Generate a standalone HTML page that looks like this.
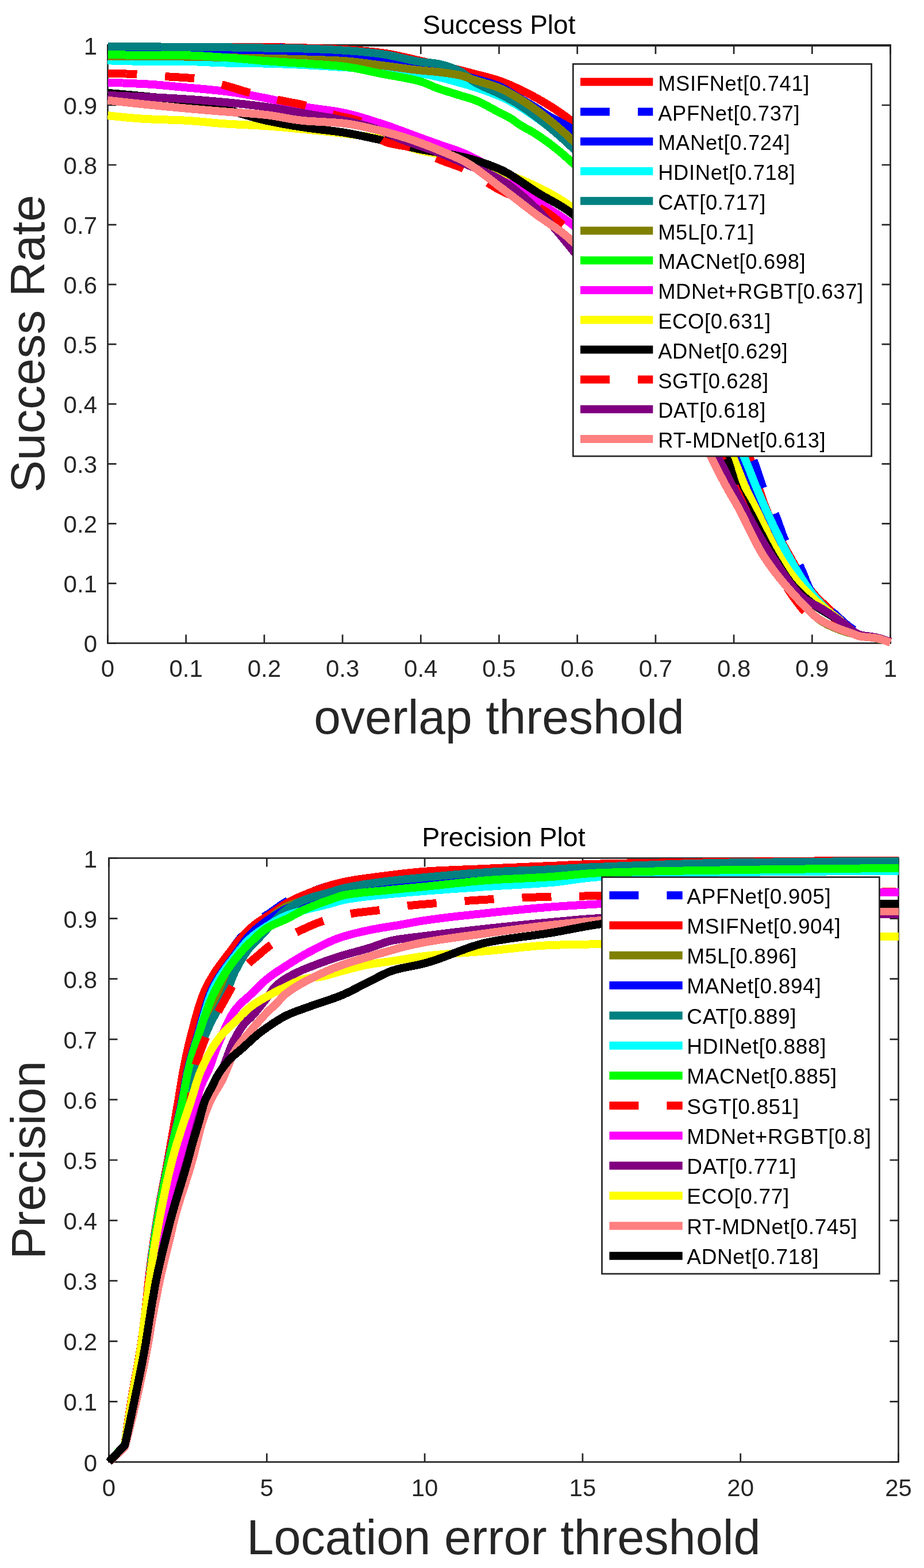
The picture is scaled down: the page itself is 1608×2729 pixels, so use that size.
<!DOCTYPE html><html><head><meta charset="utf-8"><title>Success and Precision Plots</title><style>
html,body{margin:0;padding:0;background:#fff;}svg{display:block;}
.tk{font-family:'Liberation Sans',Arial,Helvetica,sans-serif;font-size:42px;fill:#262626;}
.ti{font-family:'Liberation Sans',Arial,Helvetica,sans-serif;font-size:46px;fill:#000;}
.xl{font-family:'Liberation Sans',Arial,Helvetica,sans-serif;font-size:84px;fill:#262626;}
.lg{font-family:'Liberation Sans',Arial,Helvetica,sans-serif;fill:#000;}
.cv path{fill:none;stroke-linejoin:round;stroke-linecap:butt;shape-rendering:crispEdges;}
</style></head><body>
<svg width="1608" height="2729" viewBox="0 0 1608 2729">
<rect width="1608" height="2729" fill="#fff"/>
<rect x="187.5" y="78.9" width="1362.0" height="1040.5" fill="none" stroke="#262626" stroke-width="2.7"/>
<path d="M187.5 1119.4v-15.0M187.5 78.9v15.0M323.7 1119.4v-15.0M323.7 78.9v15.0M459.9 1119.4v-15.0M459.9 78.9v15.0M596.1 1119.4v-15.0M596.1 78.9v15.0M732.3 1119.4v-15.0M732.3 78.9v15.0M868.5 1119.4v-15.0M868.5 78.9v15.0M1004.7 1119.4v-15.0M1004.7 78.9v15.0M1140.9 1119.4v-15.0M1140.9 78.9v15.0M1277.1 1119.4v-15.0M1277.1 78.9v15.0M1413.3 1119.4v-15.0M1413.3 78.9v15.0M1549.5 1119.4v-15.0M1549.5 78.9v15.0M187.5 1119.4h15.0M1549.5 1119.4h-15.0M187.5 1015.4h15.0M1549.5 1015.4h-15.0M187.5 911.3h15.0M1549.5 911.3h-15.0M187.5 807.3h15.0M1549.5 807.3h-15.0M187.5 703.2h15.0M1549.5 703.2h-15.0M187.5 599.2h15.0M1549.5 599.2h-15.0M187.5 495.1h15.0M1549.5 495.1h-15.0M187.5 391.1h15.0M1549.5 391.1h-15.0M187.5 287.0h15.0M1549.5 287.0h-15.0M187.5 183.0h15.0M1549.5 183.0h-15.0M187.5 78.9h15.0M1549.5 78.9h-15.0" stroke="#262626" stroke-width="2.7" fill="none"/>
<path d="M186.2 78.9H1550.8" stroke="#262626" stroke-width="4"/>
<g class="cv">
<path d="M187.5 81.5 L189.5 81.5 L191.5 81.5 L193.5 81.5 L195.5 81.5 L197.5 81.5 L199.5 81.5 L201.5 81.5 L203.5 81.5 L205.5 81.5 L207.5 81.5 L209.5 81.5 L211.5 81.5 L213.5 81.5 L215.5 81.5 L217.5 81.5 L219.5 81.5 L221.5 81.5 L223.5 81.5 L225.5 81.5 L227.5 81.5 L229.5 81.5 L231.5 81.5 L233.5 81.5 L235.5 81.5 L237.5 81.5 L239.5 81.5 L241.5 81.5 L243.5 81.5 L245.5 81.5 L247.5 81.5 L249.5 81.5 L251.5 81.5 L253.5 81.5 L255.5 81.5 L257.5 81.5 L259.5 81.5 L261.5 81.5 L263.5 81.5 L265.5 81.5 L267.5 81.5 L269.5 81.5 L271.5 81.5 L273.5 81.5 L275.5 81.5 L277.5 81.5 L279.5 81.5 L281.5 81.5 L283.5 81.5 L285.5 81.5 L287.5 81.5 L289.5 81.5 L291.5 81.5 L293.5 81.5 L295.5 81.5 L297.5 81.5 L299.5 81.5 L301.5 81.5 L303.5 81.5 L305.5 81.5 L307.5 81.5 L309.5 81.5 L311.5 81.5 L313.5 81.5 L315.5 81.5 L317.5 81.5 L319.5 81.5 L321.5 81.5 L323.5 81.5 L325.5 81.5 L327.5 81.5 L329.5 81.5 L331.5 81.5 L333.5 81.5 L335.5 81.5 L337.5 81.5 L339.5 81.5 L341.5 81.5 L343.5 81.5 L345.5 81.5 L347.5 81.5 L349.5 81.5 L351.5 81.5 L353.5 81.5 L355.5 81.5 L357.5 81.5 L359.5 81.5 L361.5 81.5 L363.5 81.5 L365.5 81.6 L367.5 81.6 L369.5 81.6 L371.5 81.6 L373.5 81.6 L375.5 81.6 L377.5 81.6 L379.5 81.6 L381.5 81.6 L383.5 81.6 L385.5 81.6 L387.5 81.6 L389.5 81.6 L391.5 81.6 L393.5 81.6 L395.5 81.7 L397.5 81.7 L399.5 81.7 L401.5 81.7 L403.5 81.7 L405.5 81.7 L407.5 81.7 L409.5 81.7 L411.5 81.7 L413.5 81.7 L415.5 81.7 L417.5 81.8 L419.5 81.8 L421.5 81.8 L423.5 81.8 L425.5 81.8 L427.5 81.8 L429.5 81.8 L431.5 81.8 L433.5 81.8 L435.5 81.8 L437.5 81.9 L439.5 81.9 L441.5 81.9 L443.5 81.9 L445.5 81.9 L447.5 81.9 L449.5 81.9 L451.5 81.9 L453.5 82.0 L455.5 82.0 L457.5 82.0 L459.5 82.0 L461.5 82.0 L463.5 82.0 L465.5 82.0 L467.5 82.1 L469.5 82.1 L471.5 82.1 L473.5 82.1 L475.5 82.2 L477.5 82.2 L479.5 82.2 L481.5 82.2 L483.5 82.3 L485.5 82.3 L487.5 82.3 L489.5 82.4 L491.5 82.4 L493.5 82.4 L495.5 82.5 L497.5 82.5 L499.5 82.6 L501.5 82.6 L503.5 82.7 L505.5 82.7 L507.5 82.7 L509.5 82.8 L511.5 82.9 L513.5 82.9 L515.5 83.0 L517.5 83.0 L519.5 83.1 L521.5 83.1 L523.5 83.2 L525.5 83.2 L527.5 83.3 L529.5 83.4 L531.5 83.4 L533.5 83.5 L535.5 83.6 L537.5 83.6 L539.5 83.7 L541.5 83.8 L543.5 83.8 L545.5 83.9 L547.5 84.0 L549.5 84.0 L551.5 84.1 L553.5 84.2 L555.5 84.3 L557.5 84.3 L559.5 84.4 L561.5 84.5 L563.5 84.6 L565.5 84.7 L567.5 84.7 L569.5 84.8 L571.5 84.9 L573.5 85.0 L575.5 85.1 L577.5 85.2 L579.5 85.3 L581.5 85.3 L583.5 85.4 L585.5 85.5 L587.5 85.6 L589.5 85.7 L591.5 85.8 L593.5 85.9 L595.5 86.0 L597.5 86.1 L599.5 86.2 L601.5 86.3 L603.5 86.4 L605.5 86.5 L607.5 86.6 L609.5 86.8 L611.5 86.9 L613.5 87.0 L615.5 87.2 L617.5 87.3 L619.5 87.5 L621.5 87.6 L623.5 87.8 L625.5 88.0 L627.5 88.1 L629.5 88.3 L631.5 88.5 L633.5 88.7 L635.5 88.9 L637.5 89.1 L639.5 89.3 L641.5 89.5 L643.5 89.7 L645.5 89.9 L647.5 90.1 L649.5 90.3 L651.5 90.5 L653.5 90.8 L655.5 91.0 L657.5 91.2 L659.5 91.5 L661.5 91.7 L663.5 91.9 L665.5 92.2 L667.5 92.5 L669.5 92.7 L671.5 93.0 L673.5 93.4 L675.5 93.7 L677.5 94.0 L679.5 94.4 L681.5 94.8 L683.5 95.1 L685.5 95.5 L687.5 95.9 L689.5 96.3 L691.5 96.8 L693.5 97.2 L695.5 97.6 L697.5 98.0 L699.5 98.5 L701.5 98.9 L703.5 99.4 L705.5 99.9 L707.5 100.3 L709.5 100.8 L711.5 101.2 L713.5 101.7 L715.5 102.2 L717.5 102.6 L719.5 103.1 L721.5 103.6 L723.5 104.0 L725.5 104.5 L727.5 104.9 L729.5 105.4 L731.5 105.8 L733.5 106.3 L735.5 106.7 L737.5 107.1 L739.5 107.6 L741.5 108.0 L743.5 108.5 L745.5 108.9 L747.5 109.4 L749.5 109.8 L751.5 110.3 L753.5 110.7 L755.5 111.2 L757.5 111.7 L759.5 112.1 L761.5 112.6 L763.5 113.1 L765.5 113.5 L767.5 114.0 L769.5 114.5 L771.5 115.0 L773.5 115.4 L775.5 115.9 L777.5 116.4 L779.5 116.9 L781.5 117.4 L783.5 117.9 L785.5 118.3 L787.5 118.8 L789.5 119.3 L791.5 119.8 L793.5 120.3 L795.5 120.8 L797.5 121.3 L799.5 121.8 L801.5 122.3 L803.5 122.8 L805.5 123.4 L807.5 123.9 L809.5 124.4 L811.5 124.9 L813.5 125.4 L815.5 125.9 L817.5 126.5 L819.5 127.0 L821.5 127.5 L823.5 128.0 L825.5 128.6 L827.5 129.1 L829.5 129.6 L831.5 130.1 L833.5 130.6 L835.5 131.2 L837.5 131.7 L839.5 132.2 L841.5 132.7 L843.5 133.2 L845.5 133.7 L847.5 134.2 L849.5 134.8 L851.5 135.3 L853.5 135.9 L855.5 136.4 L857.5 137.0 L859.5 137.6 L861.5 138.2 L863.5 138.8 L865.5 139.4 L867.5 140.1 L869.5 140.7 L871.5 141.4 L873.5 142.2 L875.5 142.9 L877.5 143.7 L879.5 144.5 L881.5 145.3 L883.5 146.1 L885.5 147.0 L887.5 147.8 L889.5 148.7 L891.5 149.6 L893.5 150.5 L895.5 151.4 L897.5 152.3 L899.5 153.3 L901.5 154.2 L903.5 155.1 L905.5 156.1 L907.5 157.0 L909.5 158.0 L911.5 159.0 L913.5 160.0 L915.5 161.0 L917.5 162.0 L919.5 163.0 L921.5 164.0 L923.5 165.1 L925.5 166.1 L927.5 167.2 L929.5 168.3 L931.5 169.4 L933.5 170.5 L935.5 171.6 L937.5 172.7 L939.5 173.9 L941.5 175.0 L943.5 176.2 L945.5 177.3 L947.5 178.5 L949.5 179.7 L951.5 180.9 L953.5 182.1 L955.5 183.4 L957.5 184.6 L959.5 185.9 L961.5 187.1 L963.5 188.4 L965.5 189.7 L967.5 191.1 L969.5 192.4 L971.5 193.8 L973.5 195.1 L975.5 196.5 L977.5 197.9 L979.5 199.3 L981.5 200.8 L983.5 202.2 L985.5 203.7 L987.5 205.2 L989.5 206.7 L991.5 208.2 L993.5 209.8 L995.5 211.3 L997.5 212.9 L999.5 214.5 L1001.5 216.1 L1003.5 217.7 L1005.5 219.3 L1007.5 221.0 L1009.5 222.6 L1011.5 224.3 L1013.5 226.0 L1015.5 227.7 L1017.5 229.4 L1019.5 231.1 L1021.5 232.9 L1023.5 234.6 L1025.5 236.4 L1027.5 238.2 L1029.5 240.0 L1031.5 241.9 L1033.5 243.7 L1035.5 245.6 L1037.5 247.5 L1039.5 249.4 L1041.5 251.3 L1043.5 253.3 L1045.5 255.3 L1047.5 257.3 L1049.5 259.3 L1051.5 261.4 L1053.5 263.5 L1055.5 265.6 L1057.5 267.7 L1059.5 269.9 L1061.5 272.1 L1063.5 274.3 L1065.5 276.5 L1067.5 278.8 L1069.5 281.1 L1071.5 283.5 L1073.5 285.8 L1075.5 288.2 L1077.5 290.7 L1079.5 293.2 L1081.5 295.8 L1083.5 298.4 L1085.5 301.1 L1087.5 303.8 L1089.5 306.5 L1091.5 309.3 L1093.5 312.2 L1095.5 315.0 L1097.5 318.0 L1099.5 320.9 L1101.5 323.9 L1103.5 327.0 L1105.5 330.0 L1107.5 333.2 L1109.5 336.3 L1111.5 339.5 L1113.5 342.7 L1115.5 346.0 L1117.5 349.3 L1119.5 352.6 L1121.5 356.0 L1123.5 359.4 L1125.5 362.8 L1127.5 366.2 L1129.5 369.7 L1131.5 373.2 L1133.5 376.7 L1135.5 380.3 L1137.5 383.9 L1139.5 387.5 L1141.5 391.1 L1143.5 394.8 L1145.5 398.5 L1147.5 402.3 L1149.5 406.1 L1151.5 410.1 L1153.5 414.0 L1155.5 418.0 L1157.5 422.1 L1159.5 426.2 L1161.5 430.4 L1163.5 434.6 L1165.5 438.8 L1167.5 443.1 L1169.5 447.5 L1171.5 451.9 L1173.5 456.3 L1175.5 460.8 L1177.5 465.3 L1179.5 469.8 L1181.5 474.4 L1183.5 479.0 L1185.5 483.6 L1187.5 488.3 L1189.5 493.0 L1191.5 497.7 L1193.5 502.4 L1195.5 507.2 L1197.5 512.0 L1199.5 516.8 L1201.5 521.7 L1203.5 526.5 L1205.5 531.4 L1207.5 536.3 L1209.5 541.2 L1211.5 546.2 L1213.5 551.3 L1215.5 556.5 L1217.5 561.7 L1219.5 567.0 L1221.5 572.4 L1223.5 577.9 L1225.5 583.4 L1227.5 588.9 L1229.5 594.5 L1231.5 600.2 L1233.5 605.8 L1235.5 611.5 L1237.5 617.2 L1239.5 622.9 L1241.5 628.6 L1243.5 634.2 L1245.5 639.9 L1247.5 645.6 L1249.5 651.2 L1251.5 656.8 L1253.5 662.3 L1255.5 667.8 L1257.5 673.3 L1259.5 678.7 L1261.5 684.0 L1263.5 689.2 L1265.5 694.4 L1267.5 699.6 L1269.5 704.6 L1271.5 709.7 L1273.5 714.7 L1275.5 719.7 L1277.5 724.7 L1279.5 729.7 L1281.5 734.7 L1283.5 739.8 L1285.5 744.8 L1287.5 749.9 L1289.5 755.0 L1291.5 760.2 L1293.5 765.4 L1295.5 770.7 L1297.5 776.0 L1299.5 781.5 L1301.5 787.0 L1303.5 792.7 L1305.5 798.5 L1307.5 804.5 L1309.5 810.9 L1311.5 817.5 L1313.5 824.2 L1315.5 831.1 L1317.5 838.0 L1319.5 844.8 L1321.5 851.6 L1323.5 858.1 L1325.5 864.4 L1327.5 870.5 L1329.5 876.1 L1331.5 881.3 L1333.5 886.2 L1335.5 891.0 L1337.5 895.7 L1339.5 900.3 L1341.5 904.8 L1343.5 909.1 L1345.5 913.4 L1347.5 917.6 L1349.5 921.7 L1351.5 925.7 L1353.5 929.6 L1355.5 933.5 L1357.5 937.3 L1359.5 941.1 L1361.5 944.8 L1363.5 948.5 L1365.5 952.1 L1367.5 955.7 L1369.5 959.3 L1371.5 962.9 L1373.5 966.4 L1375.5 970.0 L1377.5 973.6 L1379.5 977.1 L1381.5 980.7 L1383.5 984.2 L1385.5 987.7 L1387.5 991.2 L1389.5 994.6 L1391.5 998.0 L1393.5 1001.4 L1395.5 1004.7 L1397.5 1007.9 L1399.5 1011.0 L1401.5 1014.1 L1403.5 1017.1 L1405.5 1020.0 L1407.5 1022.8 L1409.5 1025.5 L1411.5 1028.1 L1413.5 1030.6 L1415.5 1033.0 L1417.5 1035.3 L1419.5 1037.5 L1421.5 1039.6 L1423.5 1041.7 L1425.5 1043.7 L1427.5 1045.6 L1429.5 1047.5 L1431.5 1049.4 L1433.5 1051.3 L1435.5 1053.1 L1437.5 1055.0 L1439.5 1056.8 L1441.5 1058.7 L1443.5 1060.6 L1445.5 1062.5 L1447.5 1064.4 L1449.5 1066.3 L1451.5 1068.2 L1453.5 1070.1 L1455.5 1072.0 L1457.5 1073.9 L1459.5 1075.7 L1461.5 1077.5 L1463.5 1079.3 L1465.5 1081.1 L1467.5 1082.9 L1469.5 1084.6 L1471.5 1086.3 L1473.5 1088.1 L1475.5 1090.0 L1477.5 1091.9 L1479.5 1093.8 L1481.5 1095.7 L1483.5 1097.5 L1485.5 1099.2 L1487.5 1100.9 L1489.5 1102.3 L1491.5 1103.6 L1493.5 1104.7 L1495.5 1105.5 L1497.5 1106.1 L1499.5 1106.6 L1501.5 1107.0 L1503.5 1107.3 L1505.5 1107.6 L1507.5 1107.8 L1509.5 1108.1 L1511.5 1108.3 L1513.5 1108.5 L1515.5 1108.7 L1517.5 1109.0 L1519.5 1109.3 L1521.5 1109.6 L1523.5 1109.9 L1525.5 1110.3 L1527.5 1110.7 L1529.5 1111.2 L1531.5 1111.7 L1533.5 1112.2 L1535.5 1112.7 L1537.5 1113.3 L1539.5 1113.8 L1541.5 1114.4 L1543.5 1115.0 L1545.5 1115.7 L1547.5 1116.3 L1549.5 1117.0" stroke="#ff0000" stroke-width="14"/>
<path d="M187.5 82.0 L189.5 82.0 L191.5 82.0 L193.5 82.0 L195.5 82.0 L197.5 82.0 L199.5 82.0 L201.5 82.0 L203.5 82.0 L205.5 82.0 L207.5 82.0 L209.5 82.0 L211.5 82.0 L213.5 82.0 L215.5 82.0 L217.5 82.0 L219.5 82.0 L221.5 82.0 L223.5 82.0 L225.5 82.0 L227.5 82.0 L229.5 82.0 L231.5 82.0 L233.5 82.0 L235.5 82.0 L237.5 82.0 L239.5 82.0 L241.5 82.0 L243.5 82.0 L245.5 82.0 L247.5 82.0 L249.5 82.1 L251.5 82.1 L253.5 82.1 L255.5 82.1 L257.5 82.1 L259.5 82.1 L261.5 82.1 L263.5 82.1 L265.5 82.1 L267.5 82.1 L269.5 82.1 L271.5 82.1 L273.5 82.1 L275.5 82.1 L277.5 82.1 L279.5 82.1 L281.5 82.1 L283.5 82.1 L285.5 82.1 L287.5 82.1 L289.5 82.1 L291.5 82.1 L293.5 82.2 L295.5 82.2 L297.5 82.2 L299.5 82.2 L301.5 82.2 L303.5 82.2 L305.5 82.2 L307.5 82.2 L309.5 82.2 L311.5 82.2 L313.5 82.2 L315.5 82.2 L317.5 82.2 L319.5 82.2 L321.5 82.2 L323.5 82.2 L325.5 82.3 L327.5 82.3 L329.5 82.3 L331.5 82.3 L333.5 82.3 L335.5 82.3 L337.5 82.3 L339.5 82.3 L341.5 82.3 L343.5 82.3 L345.5 82.3 L347.5 82.3 L349.5 82.4 L351.5 82.4 L353.5 82.4 L355.5 82.4 L357.5 82.4 L359.5 82.4 L361.5 82.4 L363.5 82.4 L365.5 82.4 L367.5 82.4 L369.5 82.4 L371.5 82.5 L373.5 82.5 L375.5 82.5 L377.5 82.5 L379.5 82.5 L381.5 82.5 L383.5 82.5 L385.5 82.5 L387.5 82.5 L389.5 82.5 L391.5 82.6 L393.5 82.6 L395.5 82.6 L397.5 82.6 L399.5 82.6 L401.5 82.6 L403.5 82.6 L405.5 82.6 L407.5 82.7 L409.5 82.7 L411.5 82.7 L413.5 82.7 L415.5 82.7 L417.5 82.7 L419.5 82.7 L421.5 82.7 L423.5 82.7 L425.5 82.8 L427.5 82.8 L429.5 82.8 L431.5 82.8 L433.5 82.8 L435.5 82.8 L437.5 82.8 L439.5 82.9 L441.5 82.9 L443.5 82.9 L445.5 82.9 L447.5 82.9 L449.5 82.9 L451.5 82.9 L453.5 83.0 L455.5 83.0 L457.5 83.0 L459.5 83.0 L461.5 83.0 L463.5 83.0 L465.5 83.0 L467.5 83.1 L469.5 83.1 L471.5 83.1 L473.5 83.1 L475.5 83.2 L477.5 83.2 L479.5 83.2 L481.5 83.3 L483.5 83.3 L485.5 83.4 L487.5 83.4 L489.5 83.4 L491.5 83.5 L493.5 83.5 L495.5 83.6 L497.5 83.6 L499.5 83.7 L501.5 83.7 L503.5 83.8 L505.5 83.8 L507.5 83.9 L509.5 84.0 L511.5 84.0 L513.5 84.1 L515.5 84.2 L517.5 84.2 L519.5 84.3 L521.5 84.4 L523.5 84.4 L525.5 84.5 L527.5 84.6 L529.5 84.7 L531.5 84.8 L533.5 84.8 L535.5 84.9 L537.5 85.0 L539.5 85.1 L541.5 85.2 L543.5 85.3 L545.5 85.3 L547.5 85.4 L549.5 85.5 L551.5 85.6 L553.5 85.7 L555.5 85.8 L557.5 85.9 L559.5 86.0 L561.5 86.1 L563.5 86.2 L565.5 86.3 L567.5 86.4 L569.5 86.5 L571.5 86.6 L573.5 86.7 L575.5 86.8 L577.5 86.9 L579.5 87.1 L581.5 87.2 L583.5 87.3 L585.5 87.4 L587.5 87.5 L589.5 87.6 L591.5 87.7 L593.5 87.9 L595.5 88.0 L597.5 88.1 L599.5 88.2 L601.5 88.4 L603.5 88.5 L605.5 88.7 L607.5 88.8 L609.5 89.0 L611.5 89.2 L613.5 89.4 L615.5 89.6 L617.5 89.8 L619.5 90.0 L621.5 90.2 L623.5 90.5 L625.5 90.7 L627.5 90.9 L629.5 91.2 L631.5 91.4 L633.5 91.7 L635.5 91.9 L637.5 92.2 L639.5 92.5 L641.5 92.7 L643.5 93.0 L645.5 93.3 L647.5 93.6 L649.5 93.9 L651.5 94.2 L653.5 94.4 L655.5 94.7 L657.5 95.0 L659.5 95.3 L661.5 95.6 L663.5 95.9 L665.5 96.2 L667.5 96.5 L669.5 96.9 L671.5 97.2 L673.5 97.5 L675.5 97.9 L677.5 98.2 L679.5 98.6 L681.5 98.9 L683.5 99.3 L685.5 99.7 L687.5 100.1 L689.5 100.5 L691.5 100.9 L693.5 101.3 L695.5 101.7 L697.5 102.1 L699.5 102.5 L701.5 102.9 L703.5 103.4 L705.5 103.8 L707.5 104.3 L709.5 104.7 L711.5 105.2 L713.5 105.6 L715.5 106.1 L717.5 106.5 L719.5 107.0 L721.5 107.5 L723.5 108.0 L725.5 108.4 L727.5 108.9 L729.5 109.4 L731.5 109.9 L733.5 110.4 L735.5 110.9 L737.5 111.4 L739.5 111.9 L741.5 112.5 L743.5 113.0 L745.5 113.6 L747.5 114.2 L749.5 114.7 L751.5 115.3 L753.5 115.9 L755.5 116.5 L757.5 117.1 L759.5 117.7 L761.5 118.4 L763.5 119.0 L765.5 119.6 L767.5 120.2 L769.5 120.8 L771.5 121.4 L773.5 122.0 L775.5 122.6 L777.5 123.3 L779.5 123.9 L781.5 124.4 L783.5 125.0 L785.5 125.6 L787.5 126.2 L789.5 126.8 L791.5 127.4 L793.5 128.0 L795.5 128.6 L797.5 129.2 L799.5 129.8 L801.5 130.4 L803.5 131.0 L805.5 131.7 L807.5 132.3 L809.5 132.9 L811.5 133.5 L813.5 134.1 L815.5 134.7 L817.5 135.3 L819.5 136.0 L821.5 136.6 L823.5 137.2 L825.5 137.8 L827.5 138.5 L829.5 139.1 L831.5 139.7 L833.5 140.3 L835.5 140.9 L837.5 141.5 L839.5 142.1 L841.5 142.7 L843.5 143.3 L845.5 143.9 L847.5 144.6 L849.5 145.2 L851.5 145.8 L853.5 146.5 L855.5 147.2 L857.5 147.8 L859.5 148.5 L861.5 149.3 L863.5 150.0 L865.5 150.8 L867.5 151.6 L869.5 152.4 L871.5 153.3 L873.5 154.2 L875.5 155.2 L877.5 156.3 L879.5 157.3 L881.5 158.4 L883.5 159.5 L885.5 160.7 L887.5 161.8 L889.5 163.0 L891.5 164.1 L893.5 165.3 L895.5 166.4 L897.5 167.6 L899.5 168.7 L901.5 169.8 L903.5 170.9 L905.5 172.0 L907.5 173.1 L909.5 174.1 L911.5 175.2 L913.5 176.3 L915.5 177.3 L917.5 178.4 L919.5 179.5 L921.5 180.6 L923.5 181.8 L925.5 182.9 L927.5 184.1 L929.5 185.3 L931.5 186.6 L933.5 187.9 L935.5 189.2 L937.5 190.6 L939.5 192.2 L941.5 193.9 L943.5 195.7 L945.5 197.5 L947.5 199.1 L949.5 200.7 L951.5 202.0 L953.5 203.2 L955.5 204.4 L957.5 205.5 L959.5 206.6 L961.5 207.7 L963.5 208.7 L965.5 209.6 L967.5 210.6 L969.5 211.6 L971.5 212.6 L973.5 213.6 L975.5 214.6 L977.5 215.6 L979.5 216.7 L981.5 217.8 L983.5 219.1 L985.5 220.3 L987.5 221.7 L989.5 223.1 L991.5 224.6 L993.5 226.2 L995.5 227.8 L997.5 229.4 L999.5 231.0 L1001.5 232.6 L1003.5 234.3 L1005.5 235.9 L1007.5 237.5 L1009.5 239.1 L1011.5 240.7 L1013.5 242.4 L1015.5 244.0 L1017.5 245.6 L1019.5 247.3 L1021.5 249.0 L1023.5 250.6 L1025.5 252.3 L1027.5 254.1 L1029.5 255.8 L1031.5 257.5 L1033.5 259.3 L1035.5 261.1 L1037.5 262.9 L1039.5 264.7 L1041.5 266.6 L1043.5 268.5 L1045.5 270.4 L1047.5 272.3 L1049.5 274.3 L1051.5 276.3 L1053.5 278.3 L1055.5 280.4 L1057.5 282.5 L1059.5 284.6 L1061.5 286.8 L1063.5 289.1 L1065.5 291.3 L1067.5 293.6 L1069.5 296.0 L1071.5 298.4 L1073.5 300.9 L1075.5 303.4 L1077.5 306.0 L1079.5 308.8 L1081.5 311.6 L1083.5 314.5 L1085.5 317.4 L1087.5 320.5 L1089.5 323.6 L1091.5 326.8 L1093.5 330.0 L1095.5 333.4 L1097.5 336.7 L1099.5 340.2 L1101.5 343.7 L1103.5 347.3 L1105.5 350.9 L1107.5 354.5 L1109.5 358.2 L1111.5 362.0 L1113.5 365.7 L1115.5 369.6 L1117.5 373.4 L1119.5 377.3 L1121.5 381.2 L1123.5 385.1 L1125.5 389.1 L1127.5 393.1 L1129.5 397.1 L1131.5 401.1 L1133.5 405.1 L1135.5 409.1 L1137.5 413.2 L1139.5 417.2 L1141.5 421.2 L1143.5 425.3 L1145.5 429.5 L1147.5 433.7 L1149.5 438.0 L1151.5 442.4 L1153.5 446.8 L1155.5 451.3 L1157.5 455.8 L1159.5 460.4 L1161.5 465.0 L1163.5 469.7 L1165.5 474.4 L1167.5 479.2 L1169.5 484.0 L1171.5 488.8 L1173.5 493.6 L1175.5 498.5 L1177.5 503.3 L1179.5 508.2 L1181.5 513.1 L1183.5 518.1 L1185.5 523.0 L1187.5 527.9 L1189.5 532.8 L1191.5 537.7 L1193.5 542.7 L1195.5 547.5 L1197.5 552.4 L1199.5 557.3 L1201.5 562.1 L1203.5 566.9 L1205.5 571.7 L1207.5 576.5 L1209.5 581.2 L1211.5 585.9 L1213.5 590.7 L1215.5 595.4 L1217.5 600.2 L1219.5 605.0 L1221.5 609.9 L1223.5 614.7 L1225.5 619.6 L1227.5 624.4 L1229.5 629.2 L1231.5 634.1 L1233.5 638.9 L1235.5 643.7 L1237.5 648.5 L1239.5 653.3 L1241.5 658.0 L1243.5 662.7 L1245.5 667.4 L1247.5 672.1 L1249.5 676.7 L1251.5 681.2 L1253.5 685.7 L1255.5 690.2 L1257.5 694.6 L1259.5 698.9 L1261.5 703.2 L1263.5 707.4 L1265.5 711.6 L1267.5 715.7 L1269.5 719.7 L1271.5 723.7 L1273.5 727.7 L1275.5 731.6 L1277.5 735.5 L1279.5 739.5 L1281.5 743.4 L1283.5 747.3 L1285.5 751.2 L1287.5 755.1 L1289.5 759.0 L1291.5 762.9 L1293.5 766.7 L1295.5 770.4 L1297.5 774.1 L1299.5 777.7 L1301.5 781.4 L1303.5 785.2 L1305.5 789.0 L1307.5 793.1 L1309.5 797.3 L1311.5 801.8 L1313.5 806.7 L1315.5 812.2 L1317.5 818.0 L1319.5 824.2 L1321.5 830.4 L1323.5 836.5 L1325.5 842.3 L1327.5 847.7 L1329.5 852.7 L1331.5 857.3 L1333.5 861.7 L1335.5 866.0 L1337.5 870.1 L1339.5 874.2 L1341.5 878.3 L1343.5 882.5 L1345.5 886.7 L1347.5 891.2 L1349.5 895.8 L1351.5 900.8 L1353.5 906.2 L1355.5 911.8 L1357.5 917.6 L1359.5 923.3 L1361.5 928.9 L1363.5 934.1 L1365.5 938.9 L1367.5 943.1 L1369.5 947.1 L1371.5 950.8 L1373.5 954.3 L1375.5 957.7 L1377.5 960.9 L1379.5 964.1 L1381.5 967.2 L1383.5 970.4 L1385.5 973.6 L1387.5 976.9 L1389.5 980.4 L1391.5 984.1 L1393.5 988.0 L1395.5 992.4 L1397.5 997.2 L1399.5 1002.2 L1401.5 1007.3 L1403.5 1012.4 L1405.5 1017.3 L1407.5 1021.9 L1409.5 1025.9 L1411.5 1029.3 L1413.5 1032.1 L1415.5 1034.6 L1417.5 1037.1 L1419.5 1039.4 L1421.5 1041.5 L1423.5 1043.6 L1425.5 1045.5 L1427.5 1047.4 L1429.5 1049.2 L1431.5 1050.9 L1433.5 1052.6 L1435.5 1054.2 L1437.5 1055.8 L1439.5 1057.4 L1441.5 1059.0 L1443.5 1060.6 L1445.5 1062.2 L1447.5 1063.9 L1449.5 1065.6 L1451.5 1067.3 L1453.5 1069.1 L1455.5 1070.9 L1457.5 1072.8 L1459.5 1074.6 L1461.5 1076.5 L1463.5 1078.3 L1465.5 1080.2 L1467.5 1082.0 L1469.5 1083.7 L1471.5 1085.5 L1473.5 1087.1 L1475.5 1088.8 L1477.5 1090.3 L1479.5 1091.8 L1481.5 1093.2 L1483.5 1094.5 L1485.5 1095.7 L1487.5 1096.7 L1489.5 1097.7 L1491.5 1098.7 L1493.5 1099.6 L1495.5 1100.4 L1497.5 1101.2 L1499.5 1102.0 L1501.5 1102.8 L1503.5 1103.5 L1505.5 1104.2 L1507.5 1104.9 L1509.5 1105.5 L1511.5 1106.2 L1513.5 1106.8 L1515.5 1107.4 L1517.5 1108.0 L1519.5 1108.6 L1521.5 1109.2 L1523.5 1109.8 L1525.5 1110.5 L1527.5 1111.1 L1529.5 1111.7 L1531.5 1112.2 L1533.5 1112.8 L1535.5 1113.4 L1537.5 1113.9 L1539.5 1114.5 L1541.5 1115.0 L1543.5 1115.5 L1545.5 1116.0 L1547.5 1116.5 L1549.5 1117.0" stroke="#0000ff" stroke-width="14" stroke-dasharray="51 49"/>
<path d="M187.5 82.0 L189.5 82.0 L191.5 82.0 L193.5 82.0 L195.5 82.0 L197.5 82.0 L199.5 82.0 L201.5 82.0 L203.5 82.0 L205.5 82.0 L207.5 82.0 L209.5 82.0 L211.5 82.0 L213.5 82.0 L215.5 82.0 L217.5 82.0 L219.5 82.0 L221.5 82.0 L223.5 82.0 L225.5 82.0 L227.5 82.0 L229.5 82.0 L231.5 82.0 L233.5 82.0 L235.5 82.0 L237.5 82.0 L239.5 82.0 L241.5 82.0 L243.5 82.0 L245.5 82.0 L247.5 82.0 L249.5 82.0 L251.5 82.0 L253.5 82.0 L255.5 82.0 L257.5 82.0 L259.5 82.0 L261.5 82.0 L263.5 82.1 L265.5 82.1 L267.5 82.1 L269.5 82.1 L271.5 82.2 L273.5 82.2 L275.5 82.3 L277.5 82.3 L279.5 82.4 L281.5 82.5 L283.5 82.5 L285.5 82.6 L287.5 82.7 L289.5 82.7 L291.5 82.8 L293.5 82.9 L295.5 83.0 L297.5 83.0 L299.5 83.1 L301.5 83.2 L303.5 83.3 L305.5 83.4 L307.5 83.4 L309.5 83.5 L311.5 83.6 L313.5 83.7 L315.5 83.7 L317.5 83.8 L319.5 83.9 L321.5 83.9 L323.5 84.0 L325.5 84.1 L327.5 84.1 L329.5 84.2 L331.5 84.2 L333.5 84.3 L335.5 84.4 L337.5 84.4 L339.5 84.5 L341.5 84.5 L343.5 84.6 L345.5 84.7 L347.5 84.7 L349.5 84.8 L351.5 84.8 L353.5 84.9 L355.5 85.0 L357.5 85.0 L359.5 85.1 L361.5 85.1 L363.5 85.2 L365.5 85.3 L367.5 85.3 L369.5 85.4 L371.5 85.4 L373.5 85.5 L375.5 85.6 L377.5 85.6 L379.5 85.7 L381.5 85.7 L383.5 85.8 L385.5 85.8 L387.5 85.9 L389.5 85.9 L391.5 86.0 L393.5 86.0 L395.5 86.1 L397.5 86.1 L399.5 86.2 L401.5 86.2 L403.5 86.3 L405.5 86.3 L407.5 86.4 L409.5 86.4 L411.5 86.5 L413.5 86.5 L415.5 86.5 L417.5 86.6 L419.5 86.6 L421.5 86.7 L423.5 86.7 L425.5 86.8 L427.5 86.8 L429.5 86.8 L431.5 86.9 L433.5 86.9 L435.5 87.0 L437.5 87.0 L439.5 87.0 L441.5 87.1 L443.5 87.1 L445.5 87.2 L447.5 87.2 L449.5 87.3 L451.5 87.3 L453.5 87.4 L455.5 87.4 L457.5 87.4 L459.5 87.5 L461.5 87.5 L463.5 87.6 L465.5 87.6 L467.5 87.7 L469.5 87.7 L471.5 87.8 L473.5 87.8 L475.5 87.9 L477.5 87.9 L479.5 88.0 L481.5 88.0 L483.5 88.1 L485.5 88.1 L487.5 88.2 L489.5 88.2 L491.5 88.3 L493.5 88.3 L495.5 88.4 L497.5 88.4 L499.5 88.5 L501.5 88.5 L503.5 88.6 L505.5 88.6 L507.5 88.7 L509.5 88.8 L511.5 88.8 L513.5 88.9 L515.5 88.9 L517.5 89.0 L519.5 89.0 L521.5 89.1 L523.5 89.2 L525.5 89.2 L527.5 89.3 L529.5 89.3 L531.5 89.4 L533.5 89.5 L535.5 89.5 L537.5 89.6 L539.5 89.7 L541.5 89.7 L543.5 89.8 L545.5 89.8 L547.5 89.9 L549.5 90.0 L551.5 90.0 L553.5 90.1 L555.5 90.2 L557.5 90.2 L559.5 90.3 L561.5 90.4 L563.5 90.4 L565.5 90.5 L567.5 90.6 L569.5 90.7 L571.5 90.7 L573.5 90.8 L575.5 90.9 L577.5 91.0 L579.5 91.1 L581.5 91.2 L583.5 91.2 L585.5 91.3 L587.5 91.4 L589.5 91.5 L591.5 91.6 L593.5 91.8 L595.5 91.9 L597.5 92.0 L599.5 92.1 L601.5 92.3 L603.5 92.4 L605.5 92.6 L607.5 92.7 L609.5 92.9 L611.5 93.1 L613.5 93.3 L615.5 93.5 L617.5 93.7 L619.5 93.9 L621.5 94.2 L623.5 94.4 L625.5 94.6 L627.5 94.9 L629.5 95.1 L631.5 95.4 L633.5 95.6 L635.5 95.9 L637.5 96.2 L639.5 96.4 L641.5 96.7 L643.5 97.0 L645.5 97.3 L647.5 97.5 L649.5 97.8 L651.5 98.1 L653.5 98.4 L655.5 98.6 L657.5 98.9 L659.5 99.2 L661.5 99.4 L663.5 99.7 L665.5 100.0 L667.5 100.2 L669.5 100.5 L671.5 100.8 L673.5 101.0 L675.5 101.3 L677.5 101.6 L679.5 101.8 L681.5 102.1 L683.5 102.4 L685.5 102.6 L687.5 102.9 L689.5 103.2 L691.5 103.5 L693.5 103.8 L695.5 104.0 L697.5 104.3 L699.5 104.6 L701.5 104.9 L703.5 105.2 L705.5 105.5 L707.5 105.8 L709.5 106.2 L711.5 106.5 L713.5 106.8 L715.5 107.2 L717.5 107.5 L719.5 107.9 L721.5 108.2 L723.5 108.6 L725.5 109.0 L727.5 109.3 L729.5 109.7 L731.5 110.1 L733.5 110.6 L735.5 111.0 L737.5 111.5 L739.5 111.9 L741.5 112.4 L743.5 113.0 L745.5 113.5 L747.5 114.1 L749.5 114.7 L751.5 115.3 L753.5 115.9 L755.5 116.5 L757.5 117.1 L759.5 117.7 L761.5 118.3 L763.5 119.0 L765.5 119.6 L767.5 120.2 L769.5 120.8 L771.5 121.5 L773.5 122.1 L775.5 122.7 L777.5 123.3 L779.5 123.9 L781.5 124.4 L783.5 125.0 L785.5 125.6 L787.5 126.1 L789.5 126.7 L791.5 127.2 L793.5 127.8 L795.5 128.4 L797.5 128.9 L799.5 129.5 L801.5 130.0 L803.5 130.6 L805.5 131.1 L807.5 131.7 L809.5 132.3 L811.5 132.8 L813.5 133.4 L815.5 134.0 L817.5 134.5 L819.5 135.1 L821.5 135.7 L823.5 136.3 L825.5 136.9 L827.5 137.4 L829.5 138.0 L831.5 138.6 L833.5 139.1 L835.5 139.7 L837.5 140.2 L839.5 140.8 L841.5 141.3 L843.5 141.8 L845.5 142.4 L847.5 143.0 L849.5 143.5 L851.5 144.1 L853.5 144.7 L855.5 145.3 L857.5 146.0 L859.5 146.7 L861.5 147.3 L863.5 148.1 L865.5 148.8 L867.5 149.6 L869.5 150.4 L871.5 151.3 L873.5 152.3 L875.5 153.4 L877.5 154.5 L879.5 155.6 L881.5 156.8 L883.5 158.1 L885.5 159.3 L887.5 160.6 L889.5 161.9 L891.5 163.2 L893.5 164.5 L895.5 165.8 L897.5 167.0 L899.5 168.2 L901.5 169.4 L903.5 170.5 L905.5 171.7 L907.5 172.8 L909.5 174.0 L911.5 175.1 L913.5 176.3 L915.5 177.4 L917.5 178.6 L919.5 179.7 L921.5 180.9 L923.5 182.1 L925.5 183.2 L927.5 184.4 L929.5 185.6 L931.5 186.8 L933.5 188.1 L935.5 189.3 L937.5 190.6 L939.5 191.9 L941.5 193.3 L943.5 194.6 L945.5 196.0 L947.5 197.4 L949.5 198.7 L951.5 199.9 L953.5 201.1 L955.5 202.3 L957.5 203.4 L959.5 204.5 L961.5 205.6 L963.5 206.7 L965.5 207.7 L967.5 208.8 L969.5 209.8 L971.5 210.8 L973.5 211.9 L975.5 212.9 L977.5 214.0 L979.5 215.0 L981.5 216.1 L983.5 217.3 L985.5 218.4 L987.5 219.6 L989.5 220.9 L991.5 222.2 L993.5 223.5 L995.5 224.9 L997.5 226.4 L999.5 227.9 L1001.5 229.4 L1003.5 231.0 L1005.5 232.7 L1007.5 234.4 L1009.5 236.1 L1011.5 237.9 L1013.5 239.7 L1015.5 241.6 L1017.5 243.5 L1019.5 245.4 L1021.5 247.4 L1023.5 249.4 L1025.5 251.5 L1027.5 253.6 L1029.5 255.7 L1031.5 257.9 L1033.5 260.1 L1035.5 262.3 L1037.5 264.6 L1039.5 266.9 L1041.5 269.3 L1043.5 271.6 L1045.5 274.1 L1047.5 276.5 L1049.5 279.0 L1051.5 281.5 L1053.5 284.0 L1055.5 286.6 L1057.5 289.2 L1059.5 291.8 L1061.5 294.5 L1063.5 297.2 L1065.5 299.9 L1067.5 302.6 L1069.5 305.4 L1071.5 308.2 L1073.5 311.0 L1075.5 313.9 L1077.5 316.9 L1079.5 319.9 L1081.5 323.1 L1083.5 326.3 L1085.5 329.6 L1087.5 332.9 L1089.5 336.3 L1091.5 339.8 L1093.5 343.4 L1095.5 347.0 L1097.5 350.7 L1099.5 354.4 L1101.5 358.2 L1103.5 362.0 L1105.5 365.9 L1107.5 369.9 L1109.5 373.8 L1111.5 377.9 L1113.5 381.9 L1115.5 386.0 L1117.5 390.1 L1119.5 394.3 L1121.5 398.5 L1123.5 402.7 L1125.5 406.9 L1127.5 411.2 L1129.5 415.4 L1131.5 419.7 L1133.5 424.0 L1135.5 428.3 L1137.5 432.6 L1139.5 437.0 L1141.5 441.3 L1143.5 445.7 L1145.5 450.2 L1147.5 454.8 L1149.5 459.4 L1151.5 464.2 L1153.5 469.0 L1155.5 473.9 L1157.5 478.8 L1159.5 483.8 L1161.5 488.8 L1163.5 493.9 L1165.5 499.0 L1167.5 504.2 L1169.5 509.4 L1171.5 514.6 L1173.5 519.8 L1175.5 525.1 L1177.5 530.3 L1179.5 535.6 L1181.5 540.8 L1183.5 546.1 L1185.5 551.3 L1187.5 556.5 L1189.5 561.7 L1191.5 566.9 L1193.5 572.0 L1195.5 577.1 L1197.5 582.1 L1199.5 587.1 L1201.5 592.1 L1203.5 596.9 L1205.5 601.7 L1207.5 606.5 L1209.5 611.2 L1211.5 615.8 L1213.5 620.3 L1215.5 624.8 L1217.5 629.2 L1219.5 633.7 L1221.5 638.0 L1223.5 642.4 L1225.5 646.7 L1227.5 651.0 L1229.5 655.3 L1231.5 659.6 L1233.5 663.9 L1235.5 668.2 L1237.5 672.5 L1239.5 676.8 L1241.5 681.2 L1243.5 685.5 L1245.5 689.9 L1247.5 694.4 L1249.5 698.9 L1251.5 703.4 L1253.5 707.9 L1255.5 712.4 L1257.5 717.0 L1259.5 721.5 L1261.5 726.0 L1263.5 730.5 L1265.5 735.1 L1267.5 739.7 L1269.5 744.3 L1271.5 748.9 L1273.5 753.5 L1275.5 758.2 L1277.5 762.9 L1279.5 767.6 L1281.5 772.4 L1283.5 777.2 L1285.5 782.1 L1287.5 787.0 L1289.5 792.0 L1291.5 797.0 L1293.5 802.2 L1295.5 807.5 L1297.5 813.0 L1299.5 818.6 L1301.5 824.4 L1303.5 830.1 L1305.5 835.9 L1307.5 841.7 L1309.5 847.4 L1311.5 853.1 L1313.5 858.6 L1315.5 864.0 L1317.5 869.2 L1319.5 874.2 L1321.5 878.9 L1323.5 883.3 L1325.5 887.7 L1327.5 892.0 L1329.5 896.2 L1331.5 900.3 L1333.5 904.4 L1335.5 908.3 L1337.5 912.2 L1339.5 916.0 L1341.5 919.8 L1343.5 923.5 L1345.5 927.2 L1347.5 930.8 L1349.5 934.4 L1351.5 937.9 L1353.5 941.5 L1355.5 945.0 L1357.5 948.4 L1359.5 951.9 L1361.5 955.3 L1363.5 958.8 L1365.5 962.2 L1367.5 965.7 L1369.5 969.1 L1371.5 972.6 L1373.5 976.1 L1375.5 979.7 L1377.5 983.3 L1379.5 986.9 L1381.5 990.5 L1383.5 994.0 L1385.5 997.6 L1387.5 1001.1 L1389.5 1004.7 L1391.5 1008.1 L1393.5 1011.5 L1395.5 1014.8 L1397.5 1018.1 L1399.5 1021.3 L1401.5 1024.4 L1403.5 1027.3 L1405.5 1030.2 L1407.5 1032.9 L1409.5 1035.5 L1411.5 1037.9 L1413.5 1040.2 L1415.5 1042.4 L1417.5 1044.5 L1419.5 1046.6 L1421.5 1048.6 L1423.5 1050.5 L1425.5 1052.4 L1427.5 1054.2 L1429.5 1056.0 L1431.5 1057.8 L1433.5 1059.5 L1435.5 1061.1 L1437.5 1062.8 L1439.5 1064.4 L1441.5 1065.9 L1443.5 1067.5 L1445.5 1069.0 L1447.5 1070.5 L1449.5 1072.0 L1451.5 1073.4 L1453.5 1074.9 L1455.5 1076.4 L1457.5 1077.8 L1459.5 1079.3 L1461.5 1080.7 L1463.5 1082.2 L1465.5 1083.6 L1467.5 1085.1 L1469.5 1086.6 L1471.5 1088.2 L1473.5 1089.8 L1475.5 1091.5 L1477.5 1093.2 L1479.5 1094.9 L1481.5 1096.6 L1483.5 1098.2 L1485.5 1099.8 L1487.5 1101.3 L1489.5 1102.6 L1491.5 1103.8 L1493.5 1104.8 L1495.5 1105.6 L1497.5 1106.1 L1499.5 1106.6 L1501.5 1106.9 L1503.5 1107.3 L1505.5 1107.6 L1507.5 1107.8 L1509.5 1108.1 L1511.5 1108.3 L1513.5 1108.5 L1515.5 1108.7 L1517.5 1109.0 L1519.5 1109.3 L1521.5 1109.6 L1523.5 1109.9 L1525.5 1110.3 L1527.5 1110.7 L1529.5 1111.2 L1531.5 1111.7 L1533.5 1112.2 L1535.5 1112.7 L1537.5 1113.3 L1539.5 1113.8 L1541.5 1114.4 L1543.5 1115.0 L1545.5 1115.7 L1547.5 1116.3 L1549.5 1117.0" stroke="#0000ff" stroke-width="14"/>
<path d="M187.5 105.3 L189.5 105.4 L191.5 105.4 L193.5 105.5 L195.5 105.5 L197.5 105.6 L199.5 105.7 L201.5 105.7 L203.5 105.8 L205.5 105.8 L207.5 105.9 L209.5 106.0 L211.5 106.0 L213.5 106.1 L215.5 106.1 L217.5 106.2 L219.5 106.2 L221.5 106.3 L223.5 106.3 L225.5 106.4 L227.5 106.4 L229.5 106.5 L231.5 106.5 L233.5 106.5 L235.5 106.6 L237.5 106.6 L239.5 106.6 L241.5 106.7 L243.5 106.7 L245.5 106.7 L247.5 106.7 L249.5 106.8 L251.5 106.8 L253.5 106.8 L255.5 106.8 L257.5 106.8 L259.5 106.8 L261.5 106.8 L263.5 106.8 L265.5 106.8 L267.5 106.8 L269.5 106.9 L271.5 106.9 L273.5 106.9 L275.5 106.9 L277.5 106.9 L279.5 106.9 L281.5 106.9 L283.5 106.9 L285.5 106.9 L287.5 106.9 L289.5 106.9 L291.5 106.9 L293.5 106.9 L295.5 106.9 L297.5 106.9 L299.5 106.9 L301.5 106.9 L303.5 106.9 L305.5 106.9 L307.5 106.9 L309.5 106.9 L311.5 106.9 L313.5 107.0 L315.5 107.0 L317.5 107.0 L319.5 107.0 L321.5 107.0 L323.5 107.0 L325.5 107.0 L327.5 107.0 L329.5 107.1 L331.5 107.1 L333.5 107.2 L335.5 107.2 L337.5 107.3 L339.5 107.3 L341.5 107.4 L343.5 107.5 L345.5 107.6 L347.5 107.6 L349.5 107.7 L351.5 107.8 L353.5 107.9 L355.5 108.0 L357.5 108.1 L359.5 108.2 L361.5 108.3 L363.5 108.4 L365.5 108.5 L367.5 108.6 L369.5 108.7 L371.5 108.8 L373.5 108.9 L375.5 109.0 L377.5 109.0 L379.5 109.1 L381.5 109.2 L383.5 109.3 L385.5 109.3 L387.5 109.4 L389.5 109.4 L391.5 109.5 L393.5 109.5 L395.5 109.6 L397.5 109.6 L399.5 109.6 L401.5 109.7 L403.5 109.7 L405.5 109.7 L407.5 109.8 L409.5 109.8 L411.5 109.8 L413.5 109.9 L415.5 109.9 L417.5 109.9 L419.5 109.9 L421.5 109.9 L423.5 110.0 L425.5 110.0 L427.5 110.0 L429.5 110.0 L431.5 110.1 L433.5 110.1 L435.5 110.1 L437.5 110.1 L439.5 110.2 L441.5 110.2 L443.5 110.2 L445.5 110.2 L447.5 110.3 L449.5 110.3 L451.5 110.3 L453.5 110.4 L455.5 110.4 L457.5 110.5 L459.5 110.5 L461.5 110.5 L463.5 110.6 L465.5 110.6 L467.5 110.7 L469.5 110.7 L471.5 110.8 L473.5 110.8 L475.5 110.9 L477.5 111.0 L479.5 111.0 L481.5 111.1 L483.5 111.2 L485.5 111.2 L487.5 111.3 L489.5 111.4 L491.5 111.5 L493.5 111.5 L495.5 111.6 L497.5 111.7 L499.5 111.8 L501.5 111.8 L503.5 111.9 L505.5 112.0 L507.5 112.1 L509.5 112.2 L511.5 112.3 L513.5 112.4 L515.5 112.4 L517.5 112.5 L519.5 112.6 L521.5 112.7 L523.5 112.8 L525.5 112.9 L527.5 113.0 L529.5 113.1 L531.5 113.2 L533.5 113.3 L535.5 113.4 L537.5 113.5 L539.5 113.6 L541.5 113.7 L543.5 113.8 L545.5 113.9 L547.5 114.0 L549.5 114.1 L551.5 114.2 L553.5 114.4 L555.5 114.5 L557.5 114.6 L559.5 114.7 L561.5 114.9 L563.5 115.0 L565.5 115.1 L567.5 115.2 L569.5 115.4 L571.5 115.5 L573.5 115.6 L575.5 115.7 L577.5 115.9 L579.5 116.0 L581.5 116.1 L583.5 116.2 L585.5 116.4 L587.5 116.5 L589.5 116.6 L591.5 116.7 L593.5 116.8 L595.5 117.0 L597.5 117.1 L599.5 117.2 L601.5 117.3 L603.5 117.4 L605.5 117.5 L607.5 117.6 L609.5 117.8 L611.5 117.9 L613.5 118.0 L615.5 118.1 L617.5 118.2 L619.5 118.3 L621.5 118.4 L623.5 118.5 L625.5 118.6 L627.5 118.7 L629.5 118.8 L631.5 118.9 L633.5 119.0 L635.5 119.2 L637.5 119.3 L639.5 119.4 L641.5 119.5 L643.5 119.6 L645.5 119.7 L647.5 119.9 L649.5 120.0 L651.5 120.1 L653.5 120.2 L655.5 120.4 L657.5 120.5 L659.5 120.7 L661.5 120.8 L663.5 120.9 L665.5 121.1 L667.5 121.2 L669.5 121.4 L671.5 121.6 L673.5 121.7 L675.5 121.9 L677.5 122.0 L679.5 122.2 L681.5 122.4 L683.5 122.5 L685.5 122.7 L687.5 122.9 L689.5 123.1 L691.5 123.3 L693.5 123.5 L695.5 123.6 L697.5 123.8 L699.5 124.0 L701.5 124.2 L703.5 124.5 L705.5 124.7 L707.5 124.9 L709.5 125.1 L711.5 125.3 L713.5 125.6 L715.5 125.8 L717.5 126.0 L719.5 126.3 L721.5 126.5 L723.5 126.8 L725.5 127.1 L727.5 127.3 L729.5 127.6 L731.5 127.9 L733.5 128.2 L735.5 128.5 L737.5 128.8 L739.5 129.1 L741.5 129.5 L743.5 129.8 L745.5 130.2 L747.5 130.6 L749.5 131.0 L751.5 131.4 L753.5 131.9 L755.5 132.3 L757.5 132.8 L759.5 133.2 L761.5 133.7 L763.5 134.2 L765.5 134.6 L767.5 135.1 L769.5 135.6 L771.5 136.2 L773.5 136.7 L775.5 137.2 L777.5 137.7 L779.5 138.3 L781.5 138.8 L783.5 139.3 L785.5 139.9 L787.5 140.4 L789.5 141.0 L791.5 141.5 L793.5 142.1 L795.5 142.6 L797.5 143.2 L799.5 143.8 L801.5 144.3 L803.5 144.9 L805.5 145.4 L807.5 146.0 L809.5 146.6 L811.5 147.2 L813.5 147.7 L815.5 148.3 L817.5 148.9 L819.5 149.5 L821.5 150.2 L823.5 150.8 L825.5 151.4 L827.5 152.0 L829.5 152.7 L831.5 153.3 L833.5 154.0 L835.5 154.7 L837.5 155.3 L839.5 156.0 L841.5 156.7 L843.5 157.4 L845.5 158.1 L847.5 158.9 L849.5 159.6 L851.5 160.3 L853.5 161.1 L855.5 161.8 L857.5 162.6 L859.5 163.4 L861.5 164.2 L863.5 165.0 L865.5 165.8 L867.5 166.6 L869.5 167.4 L871.5 168.3 L873.5 169.2 L875.5 170.1 L877.5 171.0 L879.5 172.0 L881.5 173.0 L883.5 174.0 L885.5 175.0 L887.5 176.1 L889.5 177.2 L891.5 178.2 L893.5 179.3 L895.5 180.5 L897.5 181.6 L899.5 182.7 L901.5 183.9 L903.5 185.0 L905.5 186.2 L907.5 187.4 L909.5 188.7 L911.5 189.9 L913.5 191.2 L915.5 192.5 L917.5 193.8 L919.5 195.1 L921.5 196.5 L923.5 197.8 L925.5 199.2 L927.5 200.6 L929.5 202.0 L931.5 203.4 L933.5 204.8 L935.5 206.2 L937.5 207.6 L939.5 209.1 L941.5 210.5 L943.5 212.0 L945.5 213.4 L947.5 214.9 L949.5 216.3 L951.5 217.8 L953.5 219.3 L955.5 220.8 L957.5 222.3 L959.5 223.8 L961.5 225.3 L963.5 226.8 L965.5 228.4 L967.5 230.0 L969.5 231.5 L971.5 233.1 L973.5 234.7 L975.5 236.4 L977.5 238.0 L979.5 239.7 L981.5 241.3 L983.5 243.0 L985.5 244.7 L987.5 246.5 L989.5 248.2 L991.5 250.0 L993.5 251.8 L995.5 253.6 L997.5 255.5 L999.5 257.3 L1001.5 259.2 L1003.5 261.1 L1005.5 263.0 L1007.5 264.9 L1009.5 266.9 L1011.5 268.8 L1013.5 270.8 L1015.5 272.8 L1017.5 274.8 L1019.5 276.8 L1021.5 278.9 L1023.5 281.0 L1025.5 283.1 L1027.5 285.2 L1029.5 287.3 L1031.5 289.5 L1033.5 291.7 L1035.5 293.9 L1037.5 296.1 L1039.5 298.4 L1041.5 300.7 L1043.5 303.0 L1045.5 305.3 L1047.5 307.7 L1049.5 310.0 L1051.5 312.5 L1053.5 314.9 L1055.5 317.4 L1057.5 319.9 L1059.5 322.4 L1061.5 325.0 L1063.5 327.6 L1065.5 330.2 L1067.5 332.8 L1069.5 335.5 L1071.5 338.2 L1073.5 341.0 L1075.5 343.8 L1077.5 346.6 L1079.5 349.6 L1081.5 352.5 L1083.5 355.6 L1085.5 358.6 L1087.5 361.8 L1089.5 365.0 L1091.5 368.2 L1093.5 371.5 L1095.5 374.8 L1097.5 378.2 L1099.5 381.6 L1101.5 385.1 L1103.5 388.6 L1105.5 392.2 L1107.5 395.7 L1109.5 399.4 L1111.5 403.0 L1113.5 406.7 L1115.5 410.4 L1117.5 414.2 L1119.5 418.0 L1121.5 421.8 L1123.5 425.6 L1125.5 429.5 L1127.5 433.4 L1129.5 437.3 L1131.5 441.2 L1133.5 445.2 L1135.5 449.2 L1137.5 453.2 L1139.5 457.2 L1141.5 461.2 L1143.5 465.3 L1145.5 469.5 L1147.5 473.8 L1149.5 478.2 L1151.5 482.7 L1153.5 487.2 L1155.5 491.8 L1157.5 496.5 L1159.5 501.2 L1161.5 506.0 L1163.5 510.8 L1165.5 515.7 L1167.5 520.6 L1169.5 525.5 L1171.5 530.5 L1173.5 535.4 L1175.5 540.4 L1177.5 545.4 L1179.5 550.4 L1181.5 555.3 L1183.5 560.3 L1185.5 565.2 L1187.5 570.2 L1189.5 575.0 L1191.5 579.9 L1193.5 584.7 L1195.5 589.5 L1197.5 594.2 L1199.5 598.9 L1201.5 603.4 L1203.5 608.0 L1205.5 612.4 L1207.5 616.8 L1209.5 621.1 L1211.5 625.3 L1213.5 629.4 L1215.5 633.5 L1217.5 637.5 L1219.5 641.5 L1221.5 645.5 L1223.5 649.4 L1225.5 653.3 L1227.5 657.1 L1229.5 660.9 L1231.5 664.7 L1233.5 668.5 L1235.5 672.3 L1237.5 676.1 L1239.5 679.9 L1241.5 683.7 L1243.5 687.5 L1245.5 691.3 L1247.5 695.2 L1249.5 699.0 L1251.5 702.9 L1253.5 706.9 L1255.5 710.9 L1257.5 714.9 L1259.5 719.0 L1261.5 723.1 L1263.5 727.2 L1265.5 731.4 L1267.5 735.5 L1269.5 739.7 L1271.5 743.9 L1273.5 748.1 L1275.5 752.3 L1277.5 756.6 L1279.5 760.9 L1281.5 765.2 L1283.5 769.5 L1285.5 773.9 L1287.5 778.4 L1289.5 782.8 L1291.5 787.4 L1293.5 791.9 L1295.5 796.5 L1297.5 801.2 L1299.5 806.1 L1301.5 811.0 L1303.5 816.0 L1305.5 821.1 L1307.5 826.2 L1309.5 831.3 L1311.5 836.4 L1313.5 841.4 L1315.5 846.4 L1317.5 851.2 L1319.5 856.0 L1321.5 860.8 L1323.5 865.5 L1325.5 870.2 L1327.5 874.8 L1329.5 879.3 L1331.5 883.8 L1333.5 888.2 L1335.5 892.6 L1337.5 896.9 L1339.5 901.3 L1341.5 905.6 L1343.5 909.9 L1345.5 914.2 L1347.5 918.5 L1349.5 922.7 L1351.5 926.9 L1353.5 931.0 L1355.5 935.1 L1357.5 939.2 L1359.5 943.2 L1361.5 947.2 L1363.5 951.1 L1365.5 955.0 L1367.5 958.8 L1369.5 962.5 L1371.5 966.2 L1373.5 969.9 L1375.5 973.4 L1377.5 977.0 L1379.5 980.5 L1381.5 984.0 L1383.5 987.4 L1385.5 990.8 L1387.5 994.2 L1389.5 997.6 L1391.5 1000.9 L1393.5 1004.1 L1395.5 1007.3 L1397.5 1010.5 L1399.5 1013.6 L1401.5 1016.6 L1403.5 1019.6 L1405.5 1022.4 L1407.5 1025.3 L1409.5 1028.0 L1411.5 1030.7 L1413.5 1033.3 L1415.5 1035.8 L1417.5 1038.2 L1419.5 1040.6 L1421.5 1042.9 L1423.5 1045.1 L1425.5 1047.3 L1427.5 1049.4 L1429.5 1051.5 L1431.5 1053.6 L1433.5 1055.6 L1435.5 1057.6 L1437.5 1059.6 L1439.5 1061.5 L1441.5 1063.4 L1443.5 1065.3 L1445.5 1067.2 L1447.5 1069.1 L1449.5 1070.9 L1451.5 1072.7 L1453.5 1074.5 L1455.5 1076.2 L1457.5 1078.0 L1459.5 1079.6 L1461.5 1081.3 L1463.5 1082.9 L1465.5 1084.5 L1467.5 1086.1 L1469.5 1087.6 L1471.5 1089.1 L1473.5 1090.7 L1475.5 1092.3 L1477.5 1094.0 L1479.5 1095.6 L1481.5 1097.2 L1483.5 1098.7 L1485.5 1100.2 L1487.5 1101.5 L1489.5 1102.8 L1491.5 1103.9 L1493.5 1104.8 L1495.5 1105.6 L1497.5 1106.1 L1499.5 1106.6 L1501.5 1106.9 L1503.5 1107.3 L1505.5 1107.6 L1507.5 1107.8 L1509.5 1108.1 L1511.5 1108.3 L1513.5 1108.5 L1515.5 1108.7 L1517.5 1109.0 L1519.5 1109.3 L1521.5 1109.6 L1523.5 1109.9 L1525.5 1110.3 L1527.5 1110.7 L1529.5 1111.2 L1531.5 1111.7 L1533.5 1112.2 L1535.5 1112.7 L1537.5 1113.3 L1539.5 1113.8 L1541.5 1114.4 L1543.5 1115.0 L1545.5 1115.7 L1547.5 1116.3 L1549.5 1117.0" stroke="#00ffff" stroke-width="14"/>
<path d="M187.5 81.0 L189.5 81.0 L191.5 81.0 L193.5 81.0 L195.5 81.0 L197.5 81.0 L199.5 81.0 L201.5 81.0 L203.5 81.1 L205.5 81.1 L207.5 81.1 L209.5 81.1 L211.5 81.1 L213.5 81.1 L215.5 81.1 L217.5 81.1 L219.5 81.1 L221.5 81.1 L223.5 81.1 L225.5 81.1 L227.5 81.2 L229.5 81.2 L231.5 81.2 L233.5 81.2 L235.5 81.2 L237.5 81.2 L239.5 81.2 L241.5 81.2 L243.5 81.2 L245.5 81.2 L247.5 81.3 L249.5 81.3 L251.5 81.3 L253.5 81.3 L255.5 81.3 L257.5 81.3 L259.5 81.3 L261.5 81.3 L263.5 81.3 L265.5 81.4 L267.5 81.4 L269.5 81.4 L271.5 81.4 L273.5 81.4 L275.5 81.4 L277.5 81.4 L279.5 81.5 L281.5 81.5 L283.5 81.5 L285.5 81.5 L287.5 81.5 L289.5 81.5 L291.5 81.5 L293.5 81.6 L295.5 81.6 L297.5 81.6 L299.5 81.6 L301.5 81.6 L303.5 81.6 L305.5 81.7 L307.5 81.7 L309.5 81.7 L311.5 81.7 L313.5 81.7 L315.5 81.7 L317.5 81.8 L319.5 81.8 L321.5 81.8 L323.5 81.8 L325.5 81.8 L327.5 81.8 L329.5 81.8 L331.5 81.9 L333.5 81.9 L335.5 81.9 L337.5 81.9 L339.5 81.9 L341.5 81.9 L343.5 81.9 L345.5 81.9 L347.5 82.0 L349.5 82.0 L351.5 82.0 L353.5 82.0 L355.5 82.0 L357.5 82.0 L359.5 82.0 L361.5 82.0 L363.5 82.1 L365.5 82.1 L367.5 82.1 L369.5 82.1 L371.5 82.1 L373.5 82.1 L375.5 82.2 L377.5 82.2 L379.5 82.2 L381.5 82.2 L383.5 82.2 L385.5 82.2 L387.5 82.3 L389.5 82.3 L391.5 82.3 L393.5 82.3 L395.5 82.3 L397.5 82.4 L399.5 82.4 L401.5 82.4 L403.5 82.5 L405.5 82.5 L407.5 82.5 L409.5 82.5 L411.5 82.6 L413.5 82.6 L415.5 82.7 L417.5 82.7 L419.5 82.7 L421.5 82.8 L423.5 82.8 L425.5 82.8 L427.5 82.9 L429.5 82.9 L431.5 83.0 L433.5 83.0 L435.5 83.0 L437.5 83.1 L439.5 83.1 L441.5 83.2 L443.5 83.2 L445.5 83.2 L447.5 83.3 L449.5 83.3 L451.5 83.4 L453.5 83.4 L455.5 83.4 L457.5 83.5 L459.5 83.5 L461.5 83.5 L463.5 83.6 L465.5 83.6 L467.5 83.6 L469.5 83.6 L471.5 83.7 L473.5 83.7 L475.5 83.7 L477.5 83.7 L479.5 83.8 L481.5 83.8 L483.5 83.8 L485.5 83.8 L487.5 83.9 L489.5 83.9 L491.5 83.9 L493.5 83.9 L495.5 84.0 L497.5 84.0 L499.5 84.0 L501.5 84.0 L503.5 84.1 L505.5 84.1 L507.5 84.1 L509.5 84.2 L511.5 84.2 L513.5 84.2 L515.5 84.3 L517.5 84.3 L519.5 84.3 L521.5 84.4 L523.5 84.4 L525.5 84.4 L527.5 84.5 L529.5 84.5 L531.5 84.6 L533.5 84.6 L535.5 84.7 L537.5 84.7 L539.5 84.8 L541.5 84.9 L543.5 84.9 L545.5 85.0 L547.5 85.1 L549.5 85.2 L551.5 85.2 L553.5 85.3 L555.5 85.4 L557.5 85.5 L559.5 85.6 L561.5 85.6 L563.5 85.7 L565.5 85.8 L567.5 85.9 L569.5 86.0 L571.5 86.1 L573.5 86.2 L575.5 86.3 L577.5 86.4 L579.5 86.5 L581.5 86.7 L583.5 86.8 L585.5 86.9 L587.5 87.0 L589.5 87.1 L591.5 87.2 L593.5 87.3 L595.5 87.5 L597.5 87.6 L599.5 87.7 L601.5 87.8 L603.5 88.0 L605.5 88.1 L607.5 88.3 L609.5 88.4 L611.5 88.6 L613.5 88.7 L615.5 88.9 L617.5 89.0 L619.5 89.2 L621.5 89.4 L623.5 89.5 L625.5 89.7 L627.5 89.9 L629.5 90.1 L631.5 90.3 L633.5 90.5 L635.5 90.7 L637.5 90.9 L639.5 91.1 L641.5 91.3 L643.5 91.5 L645.5 91.8 L647.5 92.0 L649.5 92.2 L651.5 92.4 L653.5 92.7 L655.5 92.9 L657.5 93.2 L659.5 93.4 L661.5 93.7 L663.5 93.9 L665.5 94.2 L667.5 94.5 L669.5 94.8 L671.5 95.1 L673.5 95.4 L675.5 95.8 L677.5 96.2 L679.5 96.6 L681.5 97.0 L683.5 97.4 L685.5 97.8 L687.5 98.2 L689.5 98.7 L691.5 99.1 L693.5 99.6 L695.5 100.1 L697.5 100.5 L699.5 101.0 L701.5 101.5 L703.5 101.9 L705.5 102.4 L707.5 102.8 L709.5 103.3 L711.5 103.7 L713.5 104.2 L715.5 104.6 L717.5 105.0 L719.5 105.4 L721.5 105.8 L723.5 106.2 L725.5 106.5 L727.5 106.9 L729.5 107.2 L731.5 107.5 L733.5 107.8 L735.5 108.0 L737.5 108.2 L739.5 108.5 L741.5 108.7 L743.5 108.9 L745.5 109.1 L747.5 109.2 L749.5 109.4 L751.5 109.7 L753.5 109.9 L755.5 110.1 L757.5 110.4 L759.5 110.7 L761.5 111.1 L763.5 111.4 L765.5 111.8 L767.5 112.3 L769.5 112.8 L771.5 113.3 L773.5 113.8 L775.5 114.4 L777.5 115.0 L779.5 115.6 L781.5 116.3 L783.5 117.0 L785.5 117.7 L787.5 118.5 L789.5 119.3 L791.5 120.1 L793.5 120.9 L795.5 121.8 L797.5 122.7 L799.5 123.6 L801.5 124.5 L803.5 125.7 L805.5 127.0 L807.5 128.5 L809.5 130.0 L811.5 131.7 L813.5 133.4 L815.5 135.1 L817.5 136.8 L819.5 138.4 L821.5 140.0 L823.5 141.4 L825.5 142.7 L827.5 143.9 L829.5 145.0 L831.5 146.1 L833.5 147.1 L835.5 148.1 L837.5 149.0 L839.5 150.0 L841.5 150.9 L843.5 151.8 L845.5 152.7 L847.5 153.5 L849.5 154.4 L851.5 155.3 L853.5 156.1 L855.5 157.0 L857.5 157.9 L859.5 158.7 L861.5 159.7 L863.5 160.6 L865.5 161.5 L867.5 162.5 L869.5 163.5 L871.5 164.5 L873.5 165.5 L875.5 166.5 L877.5 167.6 L879.5 168.6 L881.5 169.6 L883.5 170.7 L885.5 171.7 L887.5 172.8 L889.5 173.9 L891.5 175.0 L893.5 176.2 L895.5 177.3 L897.5 178.5 L899.5 179.7 L901.5 180.9 L903.5 182.2 L905.5 183.5 L907.5 184.8 L909.5 186.1 L911.5 187.5 L913.5 188.9 L915.5 190.3 L917.5 191.7 L919.5 193.1 L921.5 194.6 L923.5 196.1 L925.5 197.5 L927.5 199.0 L929.5 200.6 L931.5 202.1 L933.5 203.6 L935.5 205.2 L937.5 206.7 L939.5 208.2 L941.5 209.8 L943.5 211.4 L945.5 213.0 L947.5 214.5 L949.5 216.1 L951.5 217.8 L953.5 219.4 L955.5 221.0 L957.5 222.6 L959.5 224.3 L961.5 226.0 L963.5 227.6 L965.5 229.3 L967.5 231.0 L969.5 232.8 L971.5 234.5 L973.5 236.2 L975.5 238.0 L977.5 239.8 L979.5 241.6 L981.5 243.4 L983.5 245.2 L985.5 247.1 L987.5 248.9 L989.5 250.8 L991.5 252.7 L993.5 254.6 L995.5 256.5 L997.5 258.5 L999.5 260.4 L1001.5 262.4 L1003.5 264.4 L1005.5 266.4 L1007.5 268.3 L1009.5 270.3 L1011.5 272.3 L1013.5 274.4 L1015.5 276.4 L1017.5 278.4 L1019.5 280.5 L1021.5 282.5 L1023.5 284.6 L1025.5 286.7 L1027.5 288.9 L1029.5 291.0 L1031.5 293.2 L1033.5 295.4 L1035.5 297.6 L1037.5 299.8 L1039.5 302.1 L1041.5 304.4 L1043.5 306.7 L1045.5 309.1 L1047.5 311.5 L1049.5 313.9 L1051.5 316.4 L1053.5 318.9 L1055.5 321.4 L1057.5 324.0 L1059.5 326.6 L1061.5 329.2 L1063.5 331.9 L1065.5 334.6 L1067.5 337.4 L1069.5 340.2 L1071.5 343.1 L1073.5 346.0 L1075.5 349.0 L1077.5 352.1 L1079.5 355.3 L1081.5 358.6 L1083.5 361.9 L1085.5 365.4 L1087.5 368.9 L1089.5 372.4 L1091.5 376.1 L1093.5 379.8 L1095.5 383.6 L1097.5 387.4 L1099.5 391.3 L1101.5 395.3 L1103.5 399.3 L1105.5 403.4 L1107.5 407.5 L1109.5 411.6 L1111.5 415.8 L1113.5 420.0 L1115.5 424.3 L1117.5 428.6 L1119.5 432.9 L1121.5 437.2 L1123.5 441.6 L1125.5 446.0 L1127.5 450.4 L1129.5 454.8 L1131.5 459.2 L1133.5 463.6 L1135.5 468.0 L1137.5 472.5 L1139.5 476.9 L1141.5 481.3 L1143.5 485.8 L1145.5 490.4 L1147.5 495.0 L1149.5 499.6 L1151.5 504.4 L1153.5 509.1 L1155.5 514.0 L1157.5 518.9 L1159.5 523.8 L1161.5 528.7 L1163.5 533.8 L1165.5 538.8 L1167.5 543.9 L1169.5 549.0 L1171.5 554.1 L1173.5 559.2 L1175.5 564.4 L1177.5 569.5 L1179.5 574.7 L1181.5 579.9 L1183.5 585.1 L1185.5 590.3 L1187.5 595.4 L1189.5 600.6 L1191.5 605.8 L1193.5 610.9 L1195.5 616.1 L1197.5 621.2 L1199.5 626.3 L1201.5 631.3 L1203.5 636.4 L1205.5 641.4 L1207.5 646.3 L1209.5 651.2 L1211.5 656.1 L1213.5 660.9 L1215.5 665.8 L1217.5 670.6 L1219.5 675.3 L1221.5 680.1 L1223.5 684.8 L1225.5 689.5 L1227.5 694.2 L1229.5 698.9 L1231.5 703.6 L1233.5 708.3 L1235.5 713.0 L1237.5 717.7 L1239.5 722.4 L1241.5 727.1 L1243.5 731.8 L1245.5 736.6 L1247.5 741.3 L1249.5 746.1 L1251.5 750.9 L1253.5 755.7 L1255.5 760.6 L1257.5 765.5 L1259.5 770.4 L1261.5 775.4 L1263.5 780.4 L1265.5 785.4 L1267.5 790.6 L1269.5 795.7 L1271.5 800.9 L1273.5 806.4 L1275.5 811.9 L1277.5 817.6 L1279.5 823.4 L1281.5 829.2 L1283.5 835.1 L1285.5 840.9 L1287.5 846.7 L1289.5 852.4 L1291.5 858.0 L1293.5 863.5 L1295.5 868.8 L1297.5 873.9 L1299.5 878.8 L1301.5 883.5 L1303.5 888.2 L1305.5 892.8 L1307.5 897.3 L1309.5 901.8 L1311.5 906.3 L1313.5 910.7 L1315.5 915.0 L1317.5 919.3 L1319.5 923.5 L1321.5 927.7 L1323.5 931.8 L1325.5 935.8 L1327.5 939.7 L1329.5 943.5 L1331.5 947.3 L1333.5 950.9 L1335.5 954.5 L1337.5 957.9 L1339.5 961.3 L1341.5 964.6 L1343.5 967.7 L1345.5 970.8 L1347.5 973.7 L1349.5 976.7 L1351.5 979.6 L1353.5 982.5 L1355.5 985.3 L1357.5 988.1 L1359.5 990.8 L1361.5 993.6 L1363.5 996.2 L1365.5 998.9 L1367.5 1001.5 L1369.5 1004.1 L1371.5 1006.6 L1373.5 1009.1 L1375.5 1011.5 L1377.5 1013.9 L1379.5 1016.3 L1381.5 1018.6 L1383.5 1020.9 L1385.5 1023.2 L1387.5 1025.4 L1389.5 1027.5 L1391.5 1029.6 L1393.5 1031.7 L1395.5 1033.8 L1397.5 1035.8 L1399.5 1037.7 L1401.5 1039.6 L1403.5 1041.5 L1405.5 1043.3 L1407.5 1045.1 L1409.5 1046.8 L1411.5 1048.5 L1413.5 1050.2 L1415.5 1051.8 L1417.5 1053.3 L1419.5 1054.8 L1421.5 1056.2 L1423.5 1057.6 L1425.5 1058.9 L1427.5 1060.2 L1429.5 1061.5 L1431.5 1062.7 L1433.5 1063.9 L1435.5 1065.1 L1437.5 1066.3 L1439.5 1067.5 L1441.5 1068.7 L1443.5 1069.8 L1445.5 1071.0 L1447.5 1072.2 L1449.5 1073.4 L1451.5 1074.6 L1453.5 1075.8 L1455.5 1077.1 L1457.5 1078.3 L1459.5 1079.7 L1461.5 1081.0 L1463.5 1082.5 L1465.5 1084.1 L1467.5 1085.7 L1469.5 1087.4 L1471.5 1089.1 L1473.5 1090.8 L1475.5 1092.5 L1477.5 1094.2 L1479.5 1095.8 L1481.5 1097.4 L1483.5 1099.0 L1485.5 1100.4 L1487.5 1101.7 L1489.5 1102.9 L1491.5 1104.0 L1493.5 1104.9 L1495.5 1105.6 L1497.5 1106.1 L1499.5 1106.5 L1501.5 1106.9 L1503.5 1107.2 L1505.5 1107.5 L1507.5 1107.8 L1509.5 1108.0 L1511.5 1108.3 L1513.5 1108.5 L1515.5 1108.7 L1517.5 1109.0 L1519.5 1109.2 L1521.5 1109.6 L1523.5 1109.9 L1525.5 1110.3 L1527.5 1110.7 L1529.5 1111.2 L1531.5 1111.7 L1533.5 1112.2 L1535.5 1112.7 L1537.5 1113.3 L1539.5 1113.8 L1541.5 1114.4 L1543.5 1115.0 L1545.5 1115.7 L1547.5 1116.3 L1549.5 1117.0" stroke="#008080" stroke-width="14"/>
<path d="M187.5 97.6 L189.5 97.6 L191.5 97.6 L193.5 97.6 L195.5 97.6 L197.5 97.7 L199.5 97.7 L201.5 97.7 L203.5 97.7 L205.5 97.7 L207.5 97.7 L209.5 97.7 L211.5 97.7 L213.5 97.7 L215.5 97.8 L217.5 97.8 L219.5 97.8 L221.5 97.8 L223.5 97.8 L225.5 97.8 L227.5 97.8 L229.5 97.8 L231.5 97.8 L233.5 97.9 L235.5 97.9 L237.5 97.9 L239.5 97.9 L241.5 97.9 L243.5 97.9 L245.5 97.9 L247.5 97.9 L249.5 98.0 L251.5 98.0 L253.5 98.0 L255.5 98.0 L257.5 98.0 L259.5 98.0 L261.5 98.0 L263.5 98.0 L265.5 98.1 L267.5 98.1 L269.5 98.1 L271.5 98.1 L273.5 98.1 L275.5 98.1 L277.5 98.1 L279.5 98.1 L281.5 98.2 L283.5 98.2 L285.5 98.2 L287.5 98.2 L289.5 98.2 L291.5 98.2 L293.5 98.2 L295.5 98.3 L297.5 98.3 L299.5 98.3 L301.5 98.3 L303.5 98.3 L305.5 98.3 L307.5 98.3 L309.5 98.4 L311.5 98.4 L313.5 98.4 L315.5 98.4 L317.5 98.4 L319.5 98.5 L321.5 98.5 L323.5 98.5 L325.5 98.5 L327.5 98.5 L329.5 98.6 L331.5 98.6 L333.5 98.6 L335.5 98.7 L337.5 98.7 L339.5 98.7 L341.5 98.8 L343.5 98.8 L345.5 98.9 L347.5 98.9 L349.5 99.0 L351.5 99.0 L353.5 99.1 L355.5 99.1 L357.5 99.2 L359.5 99.2 L361.5 99.3 L363.5 99.3 L365.5 99.4 L367.5 99.4 L369.5 99.5 L371.5 99.5 L373.5 99.6 L375.5 99.6 L377.5 99.7 L379.5 99.7 L381.5 99.8 L383.5 99.8 L385.5 99.9 L387.5 99.9 L389.5 99.9 L391.5 100.0 L393.5 100.0 L395.5 100.1 L397.5 100.1 L399.5 100.2 L401.5 100.2 L403.5 100.3 L405.5 100.3 L407.5 100.3 L409.5 100.4 L411.5 100.4 L413.5 100.5 L415.5 100.5 L417.5 100.6 L419.5 100.6 L421.5 100.6 L423.5 100.7 L425.5 100.7 L427.5 100.8 L429.5 100.8 L431.5 100.9 L433.5 100.9 L435.5 100.9 L437.5 101.0 L439.5 101.0 L441.5 101.1 L443.5 101.1 L445.5 101.2 L447.5 101.2 L449.5 101.3 L451.5 101.3 L453.5 101.3 L455.5 101.4 L457.5 101.4 L459.5 101.5 L461.5 101.5 L463.5 101.6 L465.5 101.6 L467.5 101.7 L469.5 101.7 L471.5 101.8 L473.5 101.8 L475.5 101.9 L477.5 101.9 L479.5 102.0 L481.5 102.0 L483.5 102.1 L485.5 102.1 L487.5 102.2 L489.5 102.2 L491.5 102.3 L493.5 102.3 L495.5 102.4 L497.5 102.4 L499.5 102.5 L501.5 102.5 L503.5 102.6 L505.5 102.6 L507.5 102.7 L509.5 102.8 L511.5 102.8 L513.5 102.9 L515.5 102.9 L517.5 103.0 L519.5 103.0 L521.5 103.1 L523.5 103.2 L525.5 103.2 L527.5 103.3 L529.5 103.3 L531.5 103.4 L533.5 103.5 L535.5 103.5 L537.5 103.6 L539.5 103.7 L541.5 103.7 L543.5 103.8 L545.5 103.8 L547.5 103.9 L549.5 104.0 L551.5 104.0 L553.5 104.1 L555.5 104.2 L557.5 104.2 L559.5 104.3 L561.5 104.4 L563.5 104.4 L565.5 104.5 L567.5 104.6 L569.5 104.7 L571.5 104.7 L573.5 104.8 L575.5 104.9 L577.5 105.0 L579.5 105.1 L581.5 105.2 L583.5 105.2 L585.5 105.3 L587.5 105.4 L589.5 105.5 L591.5 105.6 L593.5 105.8 L595.5 105.9 L597.5 106.0 L599.5 106.1 L601.5 106.3 L603.5 106.4 L605.5 106.6 L607.5 106.8 L609.5 106.9 L611.5 107.1 L613.5 107.3 L615.5 107.5 L617.5 107.8 L619.5 108.0 L621.5 108.2 L623.5 108.5 L625.5 108.7 L627.5 109.0 L629.5 109.2 L631.5 109.5 L633.5 109.7 L635.5 110.0 L637.5 110.3 L639.5 110.5 L641.5 110.8 L643.5 111.1 L645.5 111.4 L647.5 111.6 L649.5 111.9 L651.5 112.2 L653.5 112.4 L655.5 112.7 L657.5 113.0 L659.5 113.2 L661.5 113.5 L663.5 113.7 L665.5 114.0 L667.5 114.2 L669.5 114.5 L671.5 114.7 L673.5 115.0 L675.5 115.2 L677.5 115.5 L679.5 115.8 L681.5 116.0 L683.5 116.3 L685.5 116.6 L687.5 116.8 L689.5 117.1 L691.5 117.4 L693.5 117.7 L695.5 117.9 L697.5 118.2 L699.5 118.5 L701.5 118.7 L703.5 119.0 L705.5 119.3 L707.5 119.5 L709.5 119.8 L711.5 120.1 L713.5 120.3 L715.5 120.6 L717.5 120.8 L719.5 121.1 L721.5 121.3 L723.5 121.5 L725.5 121.8 L727.5 122.0 L729.5 122.2 L731.5 122.4 L733.5 122.6 L735.5 122.8 L737.5 123.0 L739.5 123.2 L741.5 123.3 L743.5 123.5 L745.5 123.7 L747.5 123.8 L749.5 124.0 L751.5 124.2 L753.5 124.4 L755.5 124.5 L757.5 124.7 L759.5 124.9 L761.5 125.2 L763.5 125.4 L765.5 125.6 L767.5 125.9 L769.5 126.1 L771.5 126.3 L773.5 126.6 L775.5 126.9 L777.5 127.1 L779.5 127.4 L781.5 127.7 L783.5 128.0 L785.5 128.3 L787.5 128.6 L789.5 128.9 L791.5 129.3 L793.5 129.6 L795.5 130.0 L797.5 130.4 L799.5 130.8 L801.5 131.2 L803.5 131.7 L805.5 132.3 L807.5 132.9 L809.5 133.5 L811.5 134.2 L813.5 134.9 L815.5 135.7 L817.5 136.4 L819.5 137.1 L821.5 137.9 L823.5 138.6 L825.5 139.2 L827.5 139.9 L829.5 140.5 L831.5 141.1 L833.5 141.7 L835.5 142.3 L837.5 142.9 L839.5 143.5 L841.5 144.1 L843.5 144.7 L845.5 145.3 L847.5 145.9 L849.5 146.5 L851.5 147.1 L853.5 147.7 L855.5 148.3 L857.5 149.0 L859.5 149.7 L861.5 150.4 L863.5 151.1 L865.5 151.8 L867.5 152.6 L869.5 153.4 L871.5 154.3 L873.5 155.1 L875.5 156.1 L877.5 157.0 L879.5 158.0 L881.5 159.1 L883.5 160.1 L885.5 161.2 L887.5 162.3 L889.5 163.4 L891.5 164.6 L893.5 165.7 L895.5 166.9 L897.5 168.0 L899.5 169.2 L901.5 170.4 L903.5 171.6 L905.5 172.8 L907.5 174.0 L909.5 175.3 L911.5 176.6 L913.5 177.9 L915.5 179.2 L917.5 180.5 L919.5 181.9 L921.5 183.2 L923.5 184.6 L925.5 186.0 L927.5 187.4 L929.5 188.8 L931.5 190.3 L933.5 191.7 L935.5 193.2 L937.5 194.7 L939.5 196.2 L941.5 197.7 L943.5 199.2 L945.5 200.7 L947.5 202.3 L949.5 203.8 L951.5 205.4 L953.5 207.0 L955.5 208.6 L957.5 210.2 L959.5 211.8 L961.5 213.4 L963.5 215.1 L965.5 216.8 L967.5 218.4 L969.5 220.1 L971.5 221.8 L973.5 223.6 L975.5 225.3 L977.5 227.1 L979.5 228.8 L981.5 230.6 L983.5 232.4 L985.5 234.2 L987.5 236.1 L989.5 237.9 L991.5 239.8 L993.5 241.7 L995.5 243.6 L997.5 245.5 L999.5 247.4 L1001.5 249.3 L1003.5 251.2 L1005.5 253.2 L1007.5 255.1 L1009.5 257.0 L1011.5 259.0 L1013.5 260.9 L1015.5 262.9 L1017.5 264.8 L1019.5 266.8 L1021.5 268.8 L1023.5 270.9 L1025.5 272.9 L1027.5 275.0 L1029.5 277.0 L1031.5 279.1 L1033.5 281.3 L1035.5 283.4 L1037.5 285.6 L1039.5 287.8 L1041.5 290.0 L1043.5 292.3 L1045.5 294.6 L1047.5 296.9 L1049.5 299.3 L1051.5 301.7 L1053.5 304.1 L1055.5 306.6 L1057.5 309.2 L1059.5 311.7 L1061.5 314.3 L1063.5 317.0 L1065.5 319.7 L1067.5 322.5 L1069.5 325.3 L1071.5 328.1 L1073.5 331.0 L1075.5 334.0 L1077.5 337.2 L1079.5 340.4 L1081.5 343.7 L1083.5 347.1 L1085.5 350.6 L1087.5 354.2 L1089.5 357.9 L1091.5 361.6 L1093.5 365.4 L1095.5 369.3 L1097.5 373.3 L1099.5 377.4 L1101.5 381.5 L1103.5 385.6 L1105.5 389.9 L1107.5 394.1 L1109.5 398.4 L1111.5 402.8 L1113.5 407.2 L1115.5 411.7 L1117.5 416.2 L1119.5 420.7 L1121.5 425.2 L1123.5 429.8 L1125.5 434.4 L1127.5 439.0 L1129.5 443.6 L1131.5 448.2 L1133.5 452.8 L1135.5 457.5 L1137.5 462.1 L1139.5 466.8 L1141.5 471.4 L1143.5 476.0 L1145.5 480.7 L1147.5 485.4 L1149.5 490.1 L1151.5 494.9 L1153.5 499.7 L1155.5 504.5 L1157.5 509.4 L1159.5 514.3 L1161.5 519.2 L1163.5 524.2 L1165.5 529.2 L1167.5 534.3 L1169.5 539.4 L1171.5 544.5 L1173.5 549.7 L1175.5 554.9 L1177.5 560.2 L1179.5 565.5 L1181.5 570.8 L1183.5 576.3 L1185.5 581.7 L1187.5 587.2 L1189.5 592.8 L1191.5 598.4 L1193.5 604.1 L1195.5 609.8 L1197.5 615.6 L1199.5 621.4 L1201.5 627.3 L1203.5 633.3 L1205.5 639.3 L1207.5 645.4 L1209.5 651.6 L1211.5 658.0 L1213.5 664.7 L1215.5 671.7 L1217.5 678.9 L1219.5 686.4 L1221.5 694.0 L1223.5 701.7 L1225.5 709.5 L1227.5 717.3 L1229.5 725.1 L1231.5 732.9 L1233.5 740.7 L1235.5 748.3 L1237.5 755.8 L1239.5 763.1 L1241.5 770.2 L1243.5 777.0 L1245.5 783.6 L1247.5 789.8 L1249.5 795.6 L1251.5 801.1 L1253.5 806.4 L1255.5 811.5 L1257.5 816.4 L1259.5 821.2 L1261.5 825.9 L1263.5 830.5 L1265.5 834.9 L1267.5 839.3 L1269.5 843.6 L1271.5 847.9 L1273.5 852.1 L1275.5 856.3 L1277.5 860.5 L1279.5 864.7 L1281.5 868.9 L1283.5 873.2 L1285.5 877.5 L1287.5 881.8 L1289.5 886.0 L1291.5 890.3 L1293.5 894.6 L1295.5 898.9 L1297.5 903.1 L1299.5 907.4 L1301.5 911.5 L1303.5 915.7 L1305.5 919.8 L1307.5 923.9 L1309.5 927.9 L1311.5 931.9 L1313.5 935.8 L1315.5 939.6 L1317.5 943.4 L1319.5 947.1 L1321.5 950.7 L1323.5 954.2 L1325.5 957.7 L1327.5 961.0 L1329.5 964.2 L1331.5 967.3 L1333.5 970.4 L1335.5 973.4 L1337.5 976.3 L1339.5 979.2 L1341.5 982.0 L1343.5 984.8 L1345.5 987.6 L1347.5 990.2 L1349.5 992.9 L1351.5 995.5 L1353.5 998.1 L1355.5 1000.6 L1357.5 1003.1 L1359.5 1005.6 L1361.5 1008.0 L1363.5 1010.4 L1365.5 1012.8 L1367.5 1015.2 L1369.5 1017.6 L1371.5 1020.0 L1373.5 1022.3 L1375.5 1024.7 L1377.5 1027.1 L1379.5 1029.4 L1381.5 1031.8 L1383.5 1034.2 L1385.5 1036.6 L1387.5 1039.0 L1389.5 1041.4 L1391.5 1043.8 L1393.5 1046.2 L1395.5 1048.5 L1397.5 1050.9 L1399.5 1053.2 L1401.5 1055.5 L1403.5 1057.7 L1405.5 1059.9 L1407.5 1062.1 L1409.5 1064.2 L1411.5 1066.2 L1413.5 1068.1 L1415.5 1070.0 L1417.5 1071.8 L1419.5 1073.5 L1421.5 1075.1 L1423.5 1076.6 L1425.5 1078.1 L1427.5 1079.5 L1429.5 1080.9 L1431.5 1082.2 L1433.5 1083.4 L1435.5 1084.6 L1437.5 1085.7 L1439.5 1086.8 L1441.5 1087.8 L1443.5 1088.7 L1445.5 1089.6 L1447.5 1090.5 L1449.5 1091.4 L1451.5 1092.2 L1453.5 1093.1 L1455.5 1093.9 L1457.5 1094.7 L1459.5 1095.4 L1461.5 1096.2 L1463.5 1096.9 L1465.5 1097.6 L1467.5 1098.3 L1469.5 1098.9 L1471.5 1099.6 L1473.5 1100.2 L1475.5 1100.8 L1477.5 1101.4 L1479.5 1101.9 L1481.5 1102.5 L1483.5 1103.0 L1485.5 1103.5 L1487.5 1104.0 L1489.5 1104.4 L1491.5 1104.8 L1493.5 1105.2 L1495.5 1105.6 L1497.5 1106.0 L1499.5 1106.3 L1501.5 1106.7 L1503.5 1107.0 L1505.5 1107.4 L1507.5 1107.7 L1509.5 1108.0 L1511.5 1108.4 L1513.5 1108.7 L1515.5 1109.1 L1517.5 1109.5 L1519.5 1109.9 L1521.5 1110.3 L1523.5 1110.7 L1525.5 1111.2 L1527.5 1111.6 L1529.5 1112.1 L1531.5 1112.6 L1533.5 1113.0 L1535.5 1113.5 L1537.5 1114.0 L1539.5 1114.5 L1541.5 1115.0 L1543.5 1115.5 L1545.5 1116.0 L1547.5 1116.5 L1549.5 1117.0" stroke="#808000" stroke-width="14"/>
<path d="M187.5 95.3 L189.5 95.3 L191.5 95.3 L193.5 95.3 L195.5 95.3 L197.5 95.3 L199.5 95.4 L201.5 95.4 L203.5 95.4 L205.5 95.4 L207.5 95.4 L209.5 95.4 L211.5 95.4 L213.5 95.4 L215.5 95.4 L217.5 95.5 L219.5 95.5 L221.5 95.5 L223.5 95.5 L225.5 95.5 L227.5 95.5 L229.5 95.5 L231.5 95.5 L233.5 95.6 L235.5 95.6 L237.5 95.6 L239.5 95.6 L241.5 95.6 L243.5 95.6 L245.5 95.6 L247.5 95.6 L249.5 95.7 L251.5 95.7 L253.5 95.7 L255.5 95.7 L257.5 95.7 L259.5 95.7 L261.5 95.7 L263.5 95.8 L265.5 95.8 L267.5 95.8 L269.5 95.8 L271.5 95.8 L273.5 95.8 L275.5 95.8 L277.5 95.8 L279.5 95.9 L281.5 95.9 L283.5 95.9 L285.5 95.9 L287.5 95.9 L289.5 95.9 L291.5 95.9 L293.5 96.0 L295.5 96.0 L297.5 96.0 L299.5 96.0 L301.5 96.0 L303.5 96.1 L305.5 96.1 L307.5 96.1 L309.5 96.1 L311.5 96.1 L313.5 96.2 L315.5 96.2 L317.5 96.2 L319.5 96.2 L321.5 96.3 L323.5 96.3 L325.5 96.3 L327.5 96.4 L329.5 96.4 L331.5 96.5 L333.5 96.5 L335.5 96.6 L337.5 96.7 L339.5 96.8 L341.5 96.8 L343.5 96.9 L345.5 97.0 L347.5 97.1 L349.5 97.2 L351.5 97.3 L353.5 97.5 L355.5 97.6 L357.5 97.7 L359.5 97.8 L361.5 97.9 L363.5 98.1 L365.5 98.2 L367.5 98.3 L369.5 98.5 L371.5 98.6 L373.5 98.7 L375.5 98.9 L377.5 99.0 L379.5 99.2 L381.5 99.3 L383.5 99.4 L385.5 99.6 L387.5 99.7 L389.5 99.8 L391.5 100.0 L393.5 100.1 L395.5 100.3 L397.5 100.4 L399.5 100.6 L401.5 100.7 L403.5 100.9 L405.5 101.0 L407.5 101.2 L409.5 101.4 L411.5 101.6 L413.5 101.7 L415.5 101.9 L417.5 102.1 L419.5 102.3 L421.5 102.5 L423.5 102.7 L425.5 102.9 L427.5 103.0 L429.5 103.2 L431.5 103.4 L433.5 103.6 L435.5 103.8 L437.5 104.0 L439.5 104.2 L441.5 104.4 L443.5 104.5 L445.5 104.7 L447.5 104.9 L449.5 105.1 L451.5 105.2 L453.5 105.4 L455.5 105.6 L457.5 105.7 L459.5 105.9 L461.5 106.0 L463.5 106.2 L465.5 106.3 L467.5 106.4 L469.5 106.6 L471.5 106.7 L473.5 106.8 L475.5 107.0 L477.5 107.1 L479.5 107.2 L481.5 107.4 L483.5 107.5 L485.5 107.6 L487.5 107.7 L489.5 107.9 L491.5 108.0 L493.5 108.1 L495.5 108.2 L497.5 108.4 L499.5 108.5 L501.5 108.6 L503.5 108.7 L505.5 108.8 L507.5 109.0 L509.5 109.1 L511.5 109.2 L513.5 109.3 L515.5 109.5 L517.5 109.6 L519.5 109.7 L521.5 109.9 L523.5 110.0 L525.5 110.1 L527.5 110.3 L529.5 110.4 L531.5 110.5 L533.5 110.7 L535.5 110.8 L537.5 110.9 L539.5 111.1 L541.5 111.2 L543.5 111.3 L545.5 111.5 L547.5 111.6 L549.5 111.7 L551.5 111.9 L553.5 112.0 L555.5 112.1 L557.5 112.3 L559.5 112.4 L561.5 112.5 L563.5 112.7 L565.5 112.8 L567.5 113.0 L569.5 113.1 L571.5 113.3 L573.5 113.4 L575.5 113.6 L577.5 113.7 L579.5 113.9 L581.5 114.1 L583.5 114.3 L585.5 114.4 L587.5 114.6 L589.5 114.8 L591.5 115.0 L593.5 115.2 L595.5 115.4 L597.5 115.7 L599.5 115.9 L601.5 116.1 L603.5 116.4 L605.5 116.7 L607.5 117.0 L609.5 117.3 L611.5 117.6 L613.5 118.0 L615.5 118.3 L617.5 118.7 L619.5 119.1 L621.5 119.4 L623.5 119.8 L625.5 120.2 L627.5 120.6 L629.5 121.0 L631.5 121.4 L633.5 121.9 L635.5 122.3 L637.5 122.7 L639.5 123.1 L641.5 123.6 L643.5 124.0 L645.5 124.4 L647.5 124.9 L649.5 125.3 L651.5 125.7 L653.5 126.1 L655.5 126.5 L657.5 127.0 L659.5 127.4 L661.5 127.8 L663.5 128.2 L665.5 128.6 L667.5 128.9 L669.5 129.3 L671.5 129.7 L673.5 130.0 L675.5 130.4 L677.5 130.8 L679.5 131.1 L681.5 131.5 L683.5 131.8 L685.5 132.2 L687.5 132.5 L689.5 132.9 L691.5 133.2 L693.5 133.6 L695.5 133.9 L697.5 134.3 L699.5 134.7 L701.5 135.0 L703.5 135.4 L705.5 135.8 L707.5 136.2 L709.5 136.6 L711.5 137.0 L713.5 137.4 L715.5 137.8 L717.5 138.3 L719.5 138.7 L721.5 139.2 L723.5 139.7 L725.5 140.2 L727.5 140.7 L729.5 141.2 L731.5 141.8 L733.5 142.3 L735.5 143.0 L737.5 143.7 L739.5 144.5 L741.5 145.3 L743.5 146.1 L745.5 146.9 L747.5 147.8 L749.5 148.7 L751.5 149.6 L753.5 150.4 L755.5 151.3 L757.5 152.1 L759.5 152.8 L761.5 153.5 L763.5 154.2 L765.5 154.9 L767.5 155.6 L769.5 156.3 L771.5 156.9 L773.5 157.6 L775.5 158.2 L777.5 158.9 L779.5 159.5 L781.5 160.1 L783.5 160.7 L785.5 161.4 L787.5 162.0 L789.5 162.6 L791.5 163.2 L793.5 163.8 L795.5 164.5 L797.5 165.1 L799.5 165.7 L801.5 166.3 L803.5 167.0 L805.5 167.6 L807.5 168.1 L809.5 168.7 L811.5 169.3 L813.5 169.9 L815.5 170.5 L817.5 171.1 L819.5 171.7 L821.5 172.4 L823.5 173.1 L825.5 173.8 L827.5 174.6 L829.5 175.4 L831.5 176.2 L833.5 177.1 L835.5 178.1 L837.5 179.0 L839.5 180.0 L841.5 181.0 L843.5 182.0 L845.5 183.1 L847.5 184.1 L849.5 185.2 L851.5 186.3 L853.5 187.4 L855.5 188.5 L857.5 189.6 L859.5 190.7 L861.5 191.8 L863.5 192.9 L865.5 193.9 L867.5 195.0 L869.5 196.0 L871.5 197.0 L873.5 198.0 L875.5 199.0 L877.5 200.0 L879.5 201.0 L881.5 202.0 L883.5 203.1 L885.5 204.2 L887.5 205.3 L889.5 206.5 L891.5 207.7 L893.5 209.0 L895.5 210.6 L897.5 212.1 L899.5 213.7 L901.5 215.0 L903.5 216.3 L905.5 217.6 L907.5 218.8 L909.5 220.0 L911.5 221.1 L913.5 222.3 L915.5 223.4 L917.5 224.5 L919.5 225.6 L921.5 226.7 L923.5 227.8 L925.5 229.0 L927.5 230.1 L929.5 231.3 L931.5 232.5 L933.5 233.8 L935.5 235.1 L937.5 236.4 L939.5 237.8 L941.5 239.1 L943.5 240.5 L945.5 242.0 L947.5 243.4 L949.5 244.8 L951.5 246.3 L953.5 247.7 L955.5 249.2 L957.5 250.7 L959.5 252.3 L961.5 253.8 L963.5 255.4 L965.5 256.9 L967.5 258.5 L969.5 260.1 L971.5 261.7 L973.5 263.4 L975.5 265.0 L977.5 266.7 L979.5 268.4 L981.5 270.1 L983.5 271.9 L985.5 273.6 L987.5 275.4 L989.5 277.1 L991.5 279.0 L993.5 280.8 L995.5 282.6 L997.5 284.5 L999.5 286.3 L1001.5 288.2 L1003.5 290.1 L1005.5 292.0 L1007.5 294.0 L1009.5 295.9 L1011.5 297.9 L1013.5 299.8 L1015.5 301.8 L1017.5 303.8 L1019.5 305.9 L1021.5 307.9 L1023.5 310.0 L1025.5 312.1 L1027.5 314.2 L1029.5 316.4 L1031.5 318.5 L1033.5 320.7 L1035.5 322.9 L1037.5 325.2 L1039.5 327.5 L1041.5 329.8 L1043.5 332.1 L1045.5 334.4 L1047.5 336.8 L1049.5 339.3 L1051.5 341.7 L1053.5 344.2 L1055.5 346.7 L1057.5 349.3 L1059.5 351.8 L1061.5 354.5 L1063.5 357.1 L1065.5 359.8 L1067.5 362.6 L1069.5 365.3 L1071.5 368.1 L1073.5 371.0 L1075.5 373.9 L1077.5 377.0 L1079.5 380.1 L1081.5 383.2 L1083.5 386.5 L1085.5 389.8 L1087.5 393.2 L1089.5 396.7 L1091.5 400.2 L1093.5 403.8 L1095.5 407.5 L1097.5 411.2 L1099.5 415.0 L1101.5 418.8 L1103.5 422.7 L1105.5 426.6 L1107.5 430.5 L1109.5 434.5 L1111.5 438.5 L1113.5 442.6 L1115.5 446.7 L1117.5 450.8 L1119.5 455.0 L1121.5 459.1 L1123.5 463.3 L1125.5 467.5 L1127.5 471.7 L1129.5 475.9 L1131.5 480.1 L1133.5 484.4 L1135.5 488.6 L1137.5 492.8 L1139.5 497.0 L1141.5 501.3 L1143.5 505.5 L1145.5 509.8 L1147.5 514.2 L1149.5 518.6 L1151.5 523.1 L1153.5 527.6 L1155.5 532.1 L1157.5 536.7 L1159.5 541.4 L1161.5 546.0 L1163.5 550.7 L1165.5 555.4 L1167.5 560.2 L1169.5 565.0 L1171.5 569.7 L1173.5 574.6 L1175.5 579.4 L1177.5 584.2 L1179.5 589.1 L1181.5 593.9 L1183.5 598.8 L1185.5 603.6 L1187.5 608.5 L1189.5 613.4 L1191.5 618.2 L1193.5 623.1 L1195.5 627.9 L1197.5 632.7 L1199.5 637.5 L1201.5 642.3 L1203.5 647.0 L1205.5 651.8 L1207.5 656.5 L1209.5 661.2 L1211.5 665.8 L1213.5 670.5 L1215.5 675.1 L1217.5 679.7 L1219.5 684.4 L1221.5 689.0 L1223.5 693.6 L1225.5 698.2 L1227.5 702.8 L1229.5 707.3 L1231.5 711.9 L1233.5 716.5 L1235.5 721.1 L1237.5 725.7 L1239.5 730.3 L1241.5 734.9 L1243.5 739.5 L1245.5 744.1 L1247.5 748.8 L1249.5 753.4 L1251.5 758.0 L1253.5 762.7 L1255.5 767.4 L1257.5 772.1 L1259.5 776.8 L1261.5 781.5 L1263.5 786.2 L1265.5 791.0 L1267.5 795.8 L1269.5 800.6 L1271.5 805.5 L1273.5 810.5 L1275.5 815.5 L1277.5 820.5 L1279.5 825.6 L1281.5 830.6 L1283.5 835.5 L1285.5 840.5 L1287.5 845.3 L1289.5 850.0 L1291.5 854.7 L1293.5 859.4 L1295.5 864.2 L1297.5 869.0 L1299.5 873.7 L1301.5 878.5 L1303.5 883.3 L1305.5 888.1 L1307.5 892.9 L1309.5 897.6 L1311.5 902.3 L1313.5 907.0 L1315.5 911.6 L1317.5 916.1 L1319.5 920.5 L1321.5 924.9 L1323.5 929.2 L1325.5 933.4 L1327.5 937.5 L1329.5 941.4 L1331.5 945.3 L1333.5 949.0 L1335.5 952.5 L1337.5 956.0 L1339.5 959.2 L1341.5 962.3 L1343.5 965.4 L1345.5 968.4 L1347.5 971.4 L1349.5 974.3 L1351.5 977.2 L1353.5 980.1 L1355.5 982.9 L1357.5 985.6 L1359.5 988.3 L1361.5 991.0 L1363.5 993.6 L1365.5 996.2 L1367.5 998.7 L1369.5 1001.2 L1371.5 1003.7 L1373.5 1006.1 L1375.5 1008.5 L1377.5 1010.9 L1379.5 1013.2 L1381.5 1015.4 L1383.5 1017.7 L1385.5 1019.9 L1387.5 1022.0 L1389.5 1024.2 L1391.5 1026.3 L1393.5 1028.3 L1395.5 1030.3 L1397.5 1032.3 L1399.5 1034.3 L1401.5 1036.2 L1403.5 1038.1 L1405.5 1040.0 L1407.5 1041.8 L1409.5 1043.6 L1411.5 1045.4 L1413.5 1047.2 L1415.5 1048.9 L1417.5 1050.5 L1419.5 1052.1 L1421.5 1053.7 L1423.5 1055.2 L1425.5 1056.7 L1427.5 1058.2 L1429.5 1059.6 L1431.5 1061.0 L1433.5 1062.3 L1435.5 1063.7 L1437.5 1065.0 L1439.5 1066.3 L1441.5 1067.7 L1443.5 1069.0 L1445.5 1070.3 L1447.5 1071.6 L1449.5 1072.9 L1451.5 1074.2 L1453.5 1075.5 L1455.5 1076.9 L1457.5 1078.3 L1459.5 1079.6 L1461.5 1081.1 L1463.5 1082.6 L1465.5 1084.2 L1467.5 1085.8 L1469.5 1087.5 L1471.5 1089.2 L1473.5 1091.0 L1475.5 1092.7 L1477.5 1094.3 L1479.5 1096.0 L1481.5 1097.6 L1483.5 1099.1 L1485.5 1100.5 L1487.5 1101.8 L1489.5 1103.0 L1491.5 1104.0 L1493.5 1104.9 L1495.5 1105.6 L1497.5 1106.1 L1499.5 1106.5 L1501.5 1106.9 L1503.5 1107.2 L1505.5 1107.5 L1507.5 1107.8 L1509.5 1108.0 L1511.5 1108.3 L1513.5 1108.5 L1515.5 1108.7 L1517.5 1109.0 L1519.5 1109.2 L1521.5 1109.6 L1523.5 1109.9 L1525.5 1110.3 L1527.5 1110.7 L1529.5 1111.2 L1531.5 1111.7 L1533.5 1112.2 L1535.5 1112.7 L1537.5 1113.3 L1539.5 1113.8 L1541.5 1114.4 L1543.5 1115.0 L1545.5 1115.7 L1547.5 1116.3 L1549.5 1117.0" stroke="#00ff00" stroke-width="14"/>
<path d="M187.5 143.8 L189.5 143.8 L191.5 143.9 L193.5 143.9 L195.5 143.9 L197.5 144.0 L199.5 144.0 L201.5 144.1 L203.5 144.1 L205.5 144.2 L207.5 144.3 L209.5 144.3 L211.5 144.4 L213.5 144.5 L215.5 144.5 L217.5 144.6 L219.5 144.7 L221.5 144.8 L223.5 144.8 L225.5 144.9 L227.5 145.0 L229.5 145.1 L231.5 145.2 L233.5 145.3 L235.5 145.4 L237.5 145.5 L239.5 145.6 L241.5 145.7 L243.5 145.8 L245.5 145.9 L247.5 146.0 L249.5 146.1 L251.5 146.2 L253.5 146.3 L255.5 146.4 L257.5 146.5 L259.5 146.6 L261.5 146.7 L263.5 146.9 L265.5 147.0 L267.5 147.2 L269.5 147.3 L271.5 147.4 L273.5 147.6 L275.5 147.8 L277.5 147.9 L279.5 148.1 L281.5 148.3 L283.5 148.5 L285.5 148.6 L287.5 148.8 L289.5 149.0 L291.5 149.2 L293.5 149.4 L295.5 149.6 L297.5 149.8 L299.5 150.0 L301.5 150.2 L303.5 150.4 L305.5 150.6 L307.5 150.8 L309.5 150.9 L311.5 151.1 L313.5 151.3 L315.5 151.5 L317.5 151.7 L319.5 151.9 L321.5 152.1 L323.5 152.3 L325.5 152.5 L327.5 152.6 L329.5 152.8 L331.5 153.0 L333.5 153.2 L335.5 153.4 L337.5 153.5 L339.5 153.7 L341.5 153.9 L343.5 154.1 L345.5 154.2 L347.5 154.4 L349.5 154.6 L351.5 154.8 L353.5 154.9 L355.5 155.1 L357.5 155.3 L359.5 155.5 L361.5 155.7 L363.5 155.9 L365.5 156.1 L367.5 156.3 L369.5 156.5 L371.5 156.7 L373.5 156.9 L375.5 157.1 L377.5 157.3 L379.5 157.5 L381.5 157.7 L383.5 157.9 L385.5 158.2 L387.5 158.4 L389.5 158.6 L391.5 158.9 L393.5 159.1 L395.5 159.4 L397.5 159.6 L399.5 159.9 L401.5 160.2 L403.5 160.5 L405.5 160.7 L407.5 161.0 L409.5 161.3 L411.5 161.7 L413.5 162.0 L415.5 162.3 L417.5 162.6 L419.5 162.9 L421.5 163.3 L423.5 163.6 L425.5 164.0 L427.5 164.3 L429.5 164.6 L431.5 165.0 L433.5 165.4 L435.5 165.7 L437.5 166.1 L439.5 166.4 L441.5 166.8 L443.5 167.2 L445.5 167.6 L447.5 167.9 L449.5 168.3 L451.5 168.7 L453.5 169.1 L455.5 169.5 L457.5 169.8 L459.5 170.2 L461.5 170.6 L463.5 171.0 L465.5 171.4 L467.5 171.8 L469.5 172.3 L471.5 172.7 L473.5 173.2 L475.5 173.6 L477.5 174.1 L479.5 174.5 L481.5 175.0 L483.5 175.5 L485.5 176.0 L487.5 176.5 L489.5 177.0 L491.5 177.4 L493.5 177.9 L495.5 178.4 L497.5 178.9 L499.5 179.4 L501.5 179.9 L503.5 180.3 L505.5 180.8 L507.5 181.3 L509.5 181.7 L511.5 182.2 L513.5 182.6 L515.5 183.1 L517.5 183.5 L519.5 183.9 L521.5 184.3 L523.5 184.7 L525.5 185.1 L527.5 185.5 L529.5 185.9 L531.5 186.2 L533.5 186.6 L535.5 186.9 L537.5 187.2 L539.5 187.5 L541.5 187.8 L543.5 188.1 L545.5 188.4 L547.5 188.7 L549.5 189.0 L551.5 189.2 L553.5 189.5 L555.5 189.8 L557.5 190.0 L559.5 190.3 L561.5 190.6 L563.5 190.8 L565.5 191.1 L567.5 191.4 L569.5 191.7 L571.5 191.9 L573.5 192.2 L575.5 192.5 L577.5 192.8 L579.5 193.1 L581.5 193.4 L583.5 193.7 L585.5 194.1 L587.5 194.4 L589.5 194.8 L591.5 195.1 L593.5 195.5 L595.5 195.9 L597.5 196.3 L599.5 196.7 L601.5 197.1 L603.5 197.6 L605.5 198.0 L607.5 198.5 L609.5 199.0 L611.5 199.5 L613.5 200.0 L615.5 200.5 L617.5 201.1 L619.5 201.6 L621.5 202.2 L623.5 202.7 L625.5 203.3 L627.5 203.9 L629.5 204.5 L631.5 205.1 L633.5 205.7 L635.5 206.3 L637.5 206.9 L639.5 207.5 L641.5 208.2 L643.5 208.8 L645.5 209.4 L647.5 210.1 L649.5 210.7 L651.5 211.3 L653.5 212.0 L655.5 212.6 L657.5 213.3 L659.5 213.9 L661.5 214.5 L663.5 215.2 L665.5 215.8 L667.5 216.5 L669.5 217.1 L671.5 217.8 L673.5 218.5 L675.5 219.2 L677.5 219.8 L679.5 220.5 L681.5 221.2 L683.5 222.0 L685.5 222.7 L687.5 223.4 L689.5 224.1 L691.5 224.9 L693.5 225.6 L695.5 226.3 L697.5 227.1 L699.5 227.8 L701.5 228.6 L703.5 229.3 L705.5 230.1 L707.5 230.8 L709.5 231.6 L711.5 232.3 L713.5 233.1 L715.5 233.8 L717.5 234.6 L719.5 235.3 L721.5 236.1 L723.5 236.8 L725.5 237.5 L727.5 238.3 L729.5 239.0 L731.5 239.7 L733.5 240.4 L735.5 241.1 L737.5 241.9 L739.5 242.6 L741.5 243.3 L743.5 244.0 L745.5 244.7 L747.5 245.5 L749.5 246.2 L751.5 246.9 L753.5 247.6 L755.5 248.3 L757.5 249.0 L759.5 249.8 L761.5 250.5 L763.5 251.2 L765.5 251.9 L767.5 252.6 L769.5 253.3 L771.5 254.0 L773.5 254.7 L775.5 255.4 L777.5 256.1 L779.5 256.8 L781.5 257.5 L783.5 258.2 L785.5 258.8 L787.5 259.5 L789.5 260.1 L791.5 260.8 L793.5 261.5 L795.5 262.2 L797.5 262.9 L799.5 263.6 L801.5 264.4 L803.5 265.3 L805.5 266.1 L807.5 267.0 L809.5 267.8 L811.5 268.7 L813.5 269.6 L815.5 270.6 L817.5 271.5 L819.5 272.5 L821.5 273.5 L823.5 274.5 L825.5 275.5 L827.5 276.5 L829.5 277.5 L831.5 278.6 L833.5 279.6 L835.5 280.7 L837.5 281.8 L839.5 282.9 L841.5 284.0 L843.5 285.1 L845.5 286.3 L847.5 287.4 L849.5 288.6 L851.5 289.7 L853.5 290.9 L855.5 292.1 L857.5 293.3 L859.5 294.5 L861.5 295.7 L863.5 296.9 L865.5 298.1 L867.5 299.4 L869.5 300.6 L871.5 301.9 L873.5 303.2 L875.5 304.5 L877.5 305.9 L879.5 307.3 L881.5 308.7 L883.5 310.2 L885.5 311.6 L887.5 313.1 L889.5 314.6 L891.5 316.1 L893.5 317.6 L895.5 319.2 L897.5 320.7 L899.5 322.3 L901.5 323.9 L903.5 325.5 L905.5 327.1 L907.5 328.6 L909.5 330.2 L911.5 331.8 L913.5 333.4 L915.5 335.0 L917.5 336.6 L919.5 338.1 L921.5 339.7 L923.5 341.2 L925.5 342.8 L927.5 344.3 L929.5 345.8 L931.5 347.3 L933.5 348.8 L935.5 350.2 L937.5 351.6 L939.5 353.0 L941.5 354.4 L943.5 355.7 L945.5 357.1 L947.5 358.4 L949.5 359.6 L951.5 360.9 L953.5 362.2 L955.5 363.4 L957.5 364.7 L959.5 365.9 L961.5 367.2 L963.5 368.4 L965.5 369.7 L967.5 370.9 L969.5 372.2 L971.5 373.5 L973.5 374.7 L975.5 376.1 L977.5 377.4 L979.5 378.7 L981.5 380.1 L983.5 381.5 L985.5 383.0 L987.5 384.4 L989.5 386.0 L991.5 387.5 L993.5 389.1 L995.5 390.7 L997.5 392.4 L999.5 394.2 L1001.5 395.9 L1003.5 397.7 L1005.5 399.6 L1007.5 401.5 L1009.5 403.5 L1011.5 405.4 L1013.5 407.5 L1015.5 409.5 L1017.5 411.6 L1019.5 413.7 L1021.5 415.9 L1023.5 418.1 L1025.5 420.3 L1027.5 422.6 L1029.5 424.9 L1031.5 427.2 L1033.5 429.5 L1035.5 431.9 L1037.5 434.3 L1039.5 436.7 L1041.5 439.2 L1043.5 441.7 L1045.5 444.2 L1047.5 446.7 L1049.5 449.2 L1051.5 451.8 L1053.5 454.4 L1055.5 457.0 L1057.5 459.6 L1059.5 462.2 L1061.5 464.8 L1063.5 467.5 L1065.5 470.2 L1067.5 472.9 L1069.5 475.5 L1071.5 478.2 L1073.5 481.0 L1075.5 483.7 L1077.5 486.5 L1079.5 489.4 L1081.5 492.3 L1083.5 495.2 L1085.5 498.2 L1087.5 501.2 L1089.5 504.3 L1091.5 507.4 L1093.5 510.5 L1095.5 513.7 L1097.5 516.9 L1099.5 520.1 L1101.5 523.4 L1103.5 526.6 L1105.5 529.9 L1107.5 533.3 L1109.5 536.6 L1111.5 540.0 L1113.5 543.3 L1115.5 546.7 L1117.5 550.1 L1119.5 553.5 L1121.5 556.9 L1123.5 560.4 L1125.5 563.8 L1127.5 567.2 L1129.5 570.6 L1131.5 574.0 L1133.5 577.4 L1135.5 580.9 L1137.5 584.3 L1139.5 587.6 L1141.5 591.0 L1143.5 594.4 L1145.5 597.8 L1147.5 601.3 L1149.5 604.7 L1151.5 608.2 L1153.5 611.7 L1155.5 615.2 L1157.5 618.7 L1159.5 622.3 L1161.5 625.8 L1163.5 629.4 L1165.5 632.9 L1167.5 636.5 L1169.5 640.1 L1171.5 643.7 L1173.5 647.3 L1175.5 650.9 L1177.5 654.5 L1179.5 658.1 L1181.5 661.7 L1183.5 665.3 L1185.5 668.8 L1187.5 672.4 L1189.5 676.0 L1191.5 679.5 L1193.5 683.1 L1195.5 686.6 L1197.5 690.1 L1199.5 693.6 L1201.5 697.1 L1203.5 700.6 L1205.5 704.0 L1207.5 707.4 L1209.5 710.8 L1211.5 714.2 L1213.5 717.5 L1215.5 720.7 L1217.5 723.9 L1219.5 727.1 L1221.5 730.2 L1223.5 733.3 L1225.5 736.4 L1227.5 739.5 L1229.5 742.5 L1231.5 745.6 L1233.5 748.7 L1235.5 751.8 L1237.5 754.9 L1239.5 758.0 L1241.5 761.2 L1243.5 764.4 L1245.5 767.6 L1247.5 770.9 L1249.5 774.3 L1251.5 777.7 L1253.5 781.2 L1255.5 784.8 L1257.5 788.4 L1259.5 792.2 L1261.5 796.0 L1263.5 800.0 L1265.5 804.3 L1267.5 808.7 L1269.5 813.3 L1271.5 818.1 L1273.5 822.9 L1275.5 827.8 L1277.5 832.6 L1279.5 837.4 L1281.5 842.1 L1283.5 846.7 L1285.5 851.1 L1287.5 855.4 L1289.5 859.8 L1291.5 864.1 L1293.5 868.5 L1295.5 872.9 L1297.5 877.3 L1299.5 881.6 L1301.5 886.0 L1303.5 890.3 L1305.5 894.6 L1307.5 898.9 L1309.5 903.1 L1311.5 907.3 L1313.5 911.5 L1315.5 915.6 L1317.5 919.7 L1319.5 923.7 L1321.5 927.6 L1323.5 931.5 L1325.5 935.2 L1327.5 939.0 L1329.5 942.6 L1331.5 946.1 L1333.5 949.5 L1335.5 952.9 L1337.5 956.1 L1339.5 959.2 L1341.5 962.3 L1343.5 965.3 L1345.5 968.2 L1347.5 971.2 L1349.5 974.1 L1351.5 976.9 L1353.5 979.8 L1355.5 982.6 L1357.5 985.3 L1359.5 988.1 L1361.5 990.8 L1363.5 993.4 L1365.5 996.1 L1367.5 998.7 L1369.5 1001.2 L1371.5 1003.7 L1373.5 1006.2 L1375.5 1008.7 L1377.5 1011.1 L1379.5 1013.5 L1381.5 1015.8 L1383.5 1018.1 L1385.5 1020.4 L1387.5 1022.6 L1389.5 1024.8 L1391.5 1027.0 L1393.5 1029.1 L1395.5 1031.2 L1397.5 1033.2 L1399.5 1035.2 L1401.5 1037.2 L1403.5 1039.1 L1405.5 1041.0 L1407.5 1042.9 L1409.5 1044.7 L1411.5 1046.4 L1413.5 1048.2 L1415.5 1049.8 L1417.5 1051.5 L1419.5 1053.0 L1421.5 1054.6 L1423.5 1056.0 L1425.5 1057.5 L1427.5 1058.9 L1429.5 1060.2 L1431.5 1061.6 L1433.5 1062.9 L1435.5 1064.2 L1437.5 1065.5 L1439.5 1066.8 L1441.5 1068.0 L1443.5 1069.3 L1445.5 1070.5 L1447.5 1071.8 L1449.5 1073.1 L1451.5 1074.3 L1453.5 1075.6 L1455.5 1077.0 L1457.5 1078.3 L1459.5 1079.7 L1461.5 1081.1 L1463.5 1082.6 L1465.5 1084.2 L1467.5 1085.8 L1469.5 1087.5 L1471.5 1089.2 L1473.5 1090.9 L1475.5 1092.6 L1477.5 1094.3 L1479.5 1095.9 L1481.5 1097.5 L1483.5 1099.0 L1485.5 1100.4 L1487.5 1101.8 L1489.5 1102.9 L1491.5 1104.0 L1493.5 1104.9 L1495.5 1105.6 L1497.5 1106.1 L1499.5 1106.5 L1501.5 1106.9 L1503.5 1107.2 L1505.5 1107.5 L1507.5 1107.8 L1509.5 1108.0 L1511.5 1108.3 L1513.5 1108.5 L1515.5 1108.7 L1517.5 1109.0 L1519.5 1109.2 L1521.5 1109.6 L1523.5 1109.9 L1525.5 1110.3 L1527.5 1110.7 L1529.5 1111.2 L1531.5 1111.7 L1533.5 1112.2 L1535.5 1112.7 L1537.5 1113.3 L1539.5 1113.8 L1541.5 1114.4 L1543.5 1115.0 L1545.5 1115.7 L1547.5 1116.3 L1549.5 1117.0" stroke="#ff00ff" stroke-width="14"/>
<path d="M187.5 201.0 L189.5 201.2 L191.5 201.5 L193.5 201.7 L195.5 201.9 L197.5 202.1 L199.5 202.3 L201.5 202.6 L203.5 202.8 L205.5 203.0 L207.5 203.2 L209.5 203.4 L211.5 203.6 L213.5 203.8 L215.5 204.0 L217.5 204.2 L219.5 204.4 L221.5 204.6 L223.5 204.8 L225.5 204.9 L227.5 205.1 L229.5 205.3 L231.5 205.4 L233.5 205.6 L235.5 205.8 L237.5 205.9 L239.5 206.1 L241.5 206.2 L243.5 206.4 L245.5 206.5 L247.5 206.6 L249.5 206.7 L251.5 206.9 L253.5 207.0 L255.5 207.1 L257.5 207.2 L259.5 207.3 L261.5 207.4 L263.5 207.5 L265.5 207.6 L267.5 207.7 L269.5 207.7 L271.5 207.8 L273.5 207.9 L275.5 208.0 L277.5 208.0 L279.5 208.1 L281.5 208.2 L283.5 208.2 L285.5 208.3 L287.5 208.3 L289.5 208.4 L291.5 208.5 L293.5 208.5 L295.5 208.6 L297.5 208.7 L299.5 208.7 L301.5 208.8 L303.5 208.9 L305.5 208.9 L307.5 209.0 L309.5 209.1 L311.5 209.1 L313.5 209.2 L315.5 209.3 L317.5 209.4 L319.5 209.5 L321.5 209.6 L323.5 209.7 L325.5 209.8 L327.5 209.9 L329.5 210.0 L331.5 210.2 L333.5 210.3 L335.5 210.5 L337.5 210.6 L339.5 210.8 L341.5 211.0 L343.5 211.1 L345.5 211.3 L347.5 211.5 L349.5 211.7 L351.5 211.8 L353.5 212.0 L355.5 212.2 L357.5 212.4 L359.5 212.6 L361.5 212.8 L363.5 213.0 L365.5 213.2 L367.5 213.4 L369.5 213.6 L371.5 213.8 L373.5 213.9 L375.5 214.1 L377.5 214.3 L379.5 214.5 L381.5 214.6 L383.5 214.8 L385.5 215.0 L387.5 215.1 L389.5 215.2 L391.5 215.4 L393.5 215.5 L395.5 215.6 L397.5 215.8 L399.5 215.9 L401.5 216.0 L403.5 216.1 L405.5 216.2 L407.5 216.3 L409.5 216.4 L411.5 216.5 L413.5 216.6 L415.5 216.7 L417.5 216.8 L419.5 216.9 L421.5 217.0 L423.5 217.1 L425.5 217.2 L427.5 217.3 L429.5 217.4 L431.5 217.5 L433.5 217.5 L435.5 217.6 L437.5 217.7 L439.5 217.8 L441.5 217.9 L443.5 218.0 L445.5 218.1 L447.5 218.3 L449.5 218.4 L451.5 218.5 L453.5 218.6 L455.5 218.7 L457.5 218.8 L459.5 219.0 L461.5 219.1 L463.5 219.2 L465.5 219.4 L467.5 219.5 L469.5 219.7 L471.5 219.8 L473.5 220.0 L475.5 220.2 L477.5 220.3 L479.5 220.5 L481.5 220.6 L483.5 220.8 L485.5 221.0 L487.5 221.2 L489.5 221.4 L491.5 221.5 L493.5 221.7 L495.5 221.9 L497.5 222.1 L499.5 222.3 L501.5 222.5 L503.5 222.6 L505.5 222.8 L507.5 223.0 L509.5 223.2 L511.5 223.4 L513.5 223.6 L515.5 223.8 L517.5 224.0 L519.5 224.2 L521.5 224.4 L523.5 224.6 L525.5 224.8 L527.5 225.0 L529.5 225.1 L531.5 225.3 L533.5 225.5 L535.5 225.7 L537.5 225.9 L539.5 226.1 L541.5 226.3 L543.5 226.5 L545.5 226.7 L547.5 226.9 L549.5 227.0 L551.5 227.2 L553.5 227.4 L555.5 227.6 L557.5 227.8 L559.5 228.0 L561.5 228.2 L563.5 228.4 L565.5 228.6 L567.5 228.8 L569.5 229.0 L571.5 229.2 L573.5 229.5 L575.5 229.7 L577.5 229.9 L579.5 230.1 L581.5 230.3 L583.5 230.5 L585.5 230.8 L587.5 231.0 L589.5 231.2 L591.5 231.5 L593.5 231.7 L595.5 231.9 L597.5 232.2 L599.5 232.4 L601.5 232.7 L603.5 232.9 L605.5 233.1 L607.5 233.4 L609.5 233.6 L611.5 233.9 L613.5 234.1 L615.5 234.4 L617.5 234.7 L619.5 234.9 L621.5 235.2 L623.5 235.4 L625.5 235.7 L627.5 236.0 L629.5 236.3 L631.5 236.6 L633.5 236.8 L635.5 237.1 L637.5 237.4 L639.5 237.7 L641.5 238.0 L643.5 238.4 L645.5 238.7 L647.5 239.0 L649.5 239.3 L651.5 239.7 L653.5 240.0 L655.5 240.4 L657.5 240.7 L659.5 241.1 L661.5 241.5 L663.5 241.9 L665.5 242.3 L667.5 242.7 L669.5 243.1 L671.5 243.6 L673.5 244.1 L675.5 244.6 L677.5 245.2 L679.5 245.8 L681.5 246.3 L683.5 246.9 L685.5 247.6 L687.5 248.2 L689.5 248.8 L691.5 249.5 L693.5 250.1 L695.5 250.8 L697.5 251.4 L699.5 252.1 L701.5 252.8 L703.5 253.5 L705.5 254.1 L707.5 254.8 L709.5 255.4 L711.5 256.1 L713.5 256.7 L715.5 257.4 L717.5 258.0 L719.5 258.6 L721.5 259.2 L723.5 259.7 L725.5 260.3 L727.5 260.8 L729.5 261.3 L731.5 261.8 L733.5 262.3 L735.5 262.7 L737.5 263.2 L739.5 263.6 L741.5 264.0 L743.5 264.4 L745.5 264.8 L747.5 265.1 L749.5 265.5 L751.5 265.9 L753.5 266.2 L755.5 266.6 L757.5 266.9 L759.5 267.2 L761.5 267.6 L763.5 267.9 L765.5 268.3 L767.5 268.6 L769.5 268.9 L771.5 269.3 L773.5 269.6 L775.5 269.9 L777.5 270.3 L779.5 270.7 L781.5 271.0 L783.5 271.4 L785.5 271.8 L787.5 272.2 L789.5 272.6 L791.5 273.0 L793.5 273.4 L795.5 273.9 L797.5 274.3 L799.5 274.8 L801.5 275.3 L803.5 275.8 L805.5 276.3 L807.5 276.8 L809.5 277.4 L811.5 278.0 L813.5 278.6 L815.5 279.2 L817.5 279.8 L819.5 280.4 L821.5 281.0 L823.5 281.7 L825.5 282.3 L827.5 283.0 L829.5 283.7 L831.5 284.4 L833.5 285.1 L835.5 285.8 L837.5 286.5 L839.5 287.2 L841.5 287.9 L843.5 288.7 L845.5 289.4 L847.5 290.2 L849.5 290.9 L851.5 291.6 L853.5 292.4 L855.5 293.1 L857.5 293.9 L859.5 294.6 L861.5 295.4 L863.5 296.1 L865.5 296.9 L867.5 297.6 L869.5 298.4 L871.5 299.1 L873.5 299.9 L875.5 300.6 L877.5 301.3 L879.5 302.1 L881.5 302.8 L883.5 303.6 L885.5 304.4 L887.5 305.1 L889.5 305.9 L891.5 306.7 L893.5 307.4 L895.5 308.2 L897.5 309.0 L899.5 309.8 L901.5 310.6 L903.5 311.4 L905.5 312.2 L907.5 313.0 L909.5 313.8 L911.5 314.7 L913.5 315.5 L915.5 316.4 L917.5 317.2 L919.5 318.1 L921.5 319.0 L923.5 319.9 L925.5 320.8 L927.5 321.7 L929.5 322.6 L931.5 323.6 L933.5 324.5 L935.5 325.5 L937.5 326.4 L939.5 327.4 L941.5 328.4 L943.5 329.4 L945.5 330.4 L947.5 331.5 L949.5 332.5 L951.5 333.6 L953.5 334.6 L955.5 335.7 L957.5 336.8 L959.5 337.9 L961.5 339.0 L963.5 340.1 L965.5 341.3 L967.5 342.5 L969.5 343.6 L971.5 344.8 L973.5 346.1 L975.5 347.3 L977.5 348.6 L979.5 349.8 L981.5 351.1 L983.5 352.5 L985.5 353.8 L987.5 355.2 L989.5 356.6 L991.5 358.0 L993.5 359.4 L995.5 360.9 L997.5 362.4 L999.5 363.9 L1001.5 365.5 L1003.5 367.0 L1005.5 368.7 L1007.5 370.3 L1009.5 372.0 L1011.5 373.7 L1013.5 375.5 L1015.5 377.3 L1017.5 379.1 L1019.5 380.9 L1021.5 382.8 L1023.5 384.7 L1025.5 386.6 L1027.5 388.6 L1029.5 390.6 L1031.5 392.6 L1033.5 394.7 L1035.5 396.7 L1037.5 398.9 L1039.5 401.0 L1041.5 403.1 L1043.5 405.3 L1045.5 407.5 L1047.5 409.8 L1049.5 412.0 L1051.5 414.3 L1053.5 416.6 L1055.5 418.9 L1057.5 421.3 L1059.5 423.7 L1061.5 426.1 L1063.5 428.5 L1065.5 430.9 L1067.5 433.4 L1069.5 435.9 L1071.5 438.4 L1073.5 440.9 L1075.5 443.5 L1077.5 446.2 L1079.5 448.9 L1081.5 451.8 L1083.5 454.7 L1085.5 457.7 L1087.5 460.7 L1089.5 463.9 L1091.5 467.0 L1093.5 470.2 L1095.5 473.5 L1097.5 476.8 L1099.5 480.1 L1101.5 483.5 L1103.5 486.9 L1105.5 490.3 L1107.5 493.8 L1109.5 497.2 L1111.5 500.7 L1113.5 504.2 L1115.5 507.6 L1117.5 511.1 L1119.5 514.6 L1121.5 518.0 L1123.5 521.5 L1125.5 524.9 L1127.5 528.3 L1129.5 531.6 L1131.5 535.0 L1133.5 538.2 L1135.5 541.5 L1137.5 544.7 L1139.5 547.8 L1141.5 550.9 L1143.5 554.0 L1145.5 557.0 L1147.5 559.9 L1149.5 562.8 L1151.5 565.7 L1153.5 568.5 L1155.5 571.4 L1157.5 574.2 L1159.5 576.9 L1161.5 579.7 L1163.5 582.5 L1165.5 585.2 L1167.5 587.9 L1169.5 590.7 L1171.5 593.4 L1173.5 596.2 L1175.5 598.9 L1177.5 601.7 L1179.5 604.5 L1181.5 607.3 L1183.5 610.1 L1185.5 613.0 L1187.5 615.9 L1189.5 618.8 L1191.5 621.8 L1193.5 624.8 L1195.5 627.8 L1197.5 631.0 L1199.5 634.1 L1201.5 637.3 L1203.5 640.6 L1205.5 644.0 L1207.5 647.4 L1209.5 650.9 L1211.5 654.5 L1213.5 658.2 L1215.5 662.0 L1217.5 665.9 L1219.5 669.9 L1221.5 674.0 L1223.5 678.2 L1225.5 682.4 L1227.5 686.6 L1229.5 691.0 L1231.5 695.3 L1233.5 699.7 L1235.5 704.1 L1237.5 708.5 L1239.5 712.9 L1241.5 717.3 L1243.5 721.7 L1245.5 726.1 L1247.5 730.5 L1249.5 734.9 L1251.5 739.3 L1253.5 743.8 L1255.5 748.3 L1257.5 752.8 L1259.5 757.4 L1261.5 761.9 L1263.5 766.5 L1265.5 771.2 L1267.5 775.8 L1269.5 780.5 L1271.5 785.2 L1273.5 789.9 L1275.5 794.6 L1277.5 799.4 L1279.5 804.3 L1281.5 809.3 L1283.5 814.4 L1285.5 819.5 L1287.5 824.6 L1289.5 829.7 L1291.5 834.7 L1293.5 839.6 L1295.5 844.3 L1297.5 848.9 L1299.5 853.3 L1301.5 857.5 L1303.5 861.6 L1305.5 865.6 L1307.5 869.5 L1309.5 873.4 L1311.5 877.4 L1313.5 881.4 L1315.5 885.5 L1317.5 889.6 L1319.5 893.7 L1321.5 897.9 L1323.5 902.1 L1325.5 906.3 L1327.5 910.5 L1329.5 914.7 L1331.5 918.8 L1333.5 923.0 L1335.5 927.2 L1337.5 931.3 L1339.5 935.4 L1341.5 939.4 L1343.5 943.4 L1345.5 947.4 L1347.5 951.3 L1349.5 955.1 L1351.5 958.8 L1353.5 962.5 L1355.5 966.0 L1357.5 969.5 L1359.5 972.8 L1361.5 976.1 L1363.5 979.3 L1365.5 982.4 L1367.5 985.5 L1369.5 988.5 L1371.5 991.4 L1373.5 994.3 L1375.5 997.0 L1377.5 999.7 L1379.5 1002.4 L1381.5 1004.9 L1383.5 1007.4 L1385.5 1009.9 L1387.5 1012.3 L1389.5 1014.7 L1391.5 1017.0 L1393.5 1019.3 L1395.5 1021.6 L1397.5 1023.8 L1399.5 1026.0 L1401.5 1028.2 L1403.5 1030.3 L1405.5 1032.3 L1407.5 1034.3 L1409.5 1036.3 L1411.5 1038.3 L1413.5 1040.2 L1415.5 1042.1 L1417.5 1043.9 L1419.5 1045.7 L1421.5 1047.5 L1423.5 1049.2 L1425.5 1050.9 L1427.5 1052.6 L1429.5 1054.2 L1431.5 1055.8 L1433.5 1057.5 L1435.5 1059.1 L1437.5 1060.6 L1439.5 1062.2 L1441.5 1063.7 L1443.5 1065.3 L1445.5 1066.8 L1447.5 1068.4 L1449.5 1069.9 L1451.5 1071.4 L1453.5 1073.0 L1455.5 1074.5 L1457.5 1076.1 L1459.5 1077.6 L1461.5 1079.2 L1463.5 1080.9 L1465.5 1082.6 L1467.5 1084.4 L1469.5 1086.3 L1471.5 1088.1 L1473.5 1090.0 L1475.5 1091.8 L1477.5 1093.6 L1479.5 1095.4 L1481.5 1097.1 L1483.5 1098.7 L1485.5 1100.2 L1487.5 1101.6 L1489.5 1102.8 L1491.5 1103.9 L1493.5 1104.8 L1495.5 1105.6 L1497.5 1106.1 L1499.5 1106.5 L1501.5 1106.9 L1503.5 1107.3 L1505.5 1107.5 L1507.5 1107.8 L1509.5 1108.0 L1511.5 1108.3 L1513.5 1108.5 L1515.5 1108.7 L1517.5 1109.0 L1519.5 1109.3 L1521.5 1109.6 L1523.5 1109.9 L1525.5 1110.3 L1527.5 1110.7 L1529.5 1111.2 L1531.5 1111.7 L1533.5 1112.2 L1535.5 1112.7 L1537.5 1113.3 L1539.5 1113.8 L1541.5 1114.4 L1543.5 1115.0 L1545.5 1115.7 L1547.5 1116.3 L1549.5 1117.0" stroke="#ffff00" stroke-width="14"/>
<path d="M187.5 161.8 L189.5 162.0 L191.5 162.1 L193.5 162.3 L195.5 162.5 L197.5 162.7 L199.5 162.8 L201.5 163.0 L203.5 163.2 L205.5 163.4 L207.5 163.5 L209.5 163.7 L211.5 163.9 L213.5 164.1 L215.5 164.3 L217.5 164.4 L219.5 164.6 L221.5 164.8 L223.5 165.0 L225.5 165.2 L227.5 165.3 L229.5 165.5 L231.5 165.7 L233.5 165.9 L235.5 166.1 L237.5 166.3 L239.5 166.5 L241.5 166.7 L243.5 166.8 L245.5 167.0 L247.5 167.2 L249.5 167.4 L251.5 167.6 L253.5 167.8 L255.5 168.0 L257.5 168.2 L259.5 168.4 L261.5 168.6 L263.5 168.7 L265.5 168.9 L267.5 169.1 L269.5 169.3 L271.5 169.5 L273.5 169.6 L275.5 169.8 L277.5 170.0 L279.5 170.2 L281.5 170.4 L283.5 170.6 L285.5 170.7 L287.5 170.9 L289.5 171.1 L291.5 171.3 L293.5 171.5 L295.5 171.7 L297.5 171.9 L299.5 172.1 L301.5 172.3 L303.5 172.5 L305.5 172.7 L307.5 173.0 L309.5 173.2 L311.5 173.4 L313.5 173.7 L315.5 173.9 L317.5 174.2 L319.5 174.4 L321.5 174.7 L323.5 175.0 L325.5 175.3 L327.5 175.6 L329.5 175.9 L331.5 176.2 L333.5 176.6 L335.5 176.9 L337.5 177.3 L339.5 177.7 L341.5 178.1 L343.5 178.5 L345.5 178.9 L347.5 179.3 L349.5 179.7 L351.5 180.2 L353.5 180.6 L355.5 181.1 L357.5 181.5 L359.5 182.0 L361.5 182.5 L363.5 183.0 L365.5 183.5 L367.5 183.9 L369.5 184.4 L371.5 184.9 L373.5 185.4 L375.5 185.9 L377.5 186.4 L379.5 186.9 L381.5 187.4 L383.5 187.9 L385.5 188.4 L387.5 188.9 L389.5 189.4 L391.5 189.9 L393.5 190.4 L395.5 190.9 L397.5 191.5 L399.5 192.0 L401.5 192.5 L403.5 193.1 L405.5 193.7 L407.5 194.2 L409.5 194.8 L411.5 195.4 L413.5 196.0 L415.5 196.6 L417.5 197.2 L419.5 197.8 L421.5 198.4 L423.5 199.0 L425.5 199.6 L427.5 200.2 L429.5 200.8 L431.5 201.4 L433.5 202.0 L435.5 202.6 L437.5 203.2 L439.5 203.7 L441.5 204.3 L443.5 204.9 L445.5 205.4 L447.5 206.0 L449.5 206.5 L451.5 207.0 L453.5 207.5 L455.5 208.0 L457.5 208.5 L459.5 208.9 L461.5 209.4 L463.5 209.8 L465.5 210.2 L467.5 210.6 L469.5 211.1 L471.5 211.5 L473.5 211.9 L475.5 212.3 L477.5 212.7 L479.5 213.1 L481.5 213.5 L483.5 213.9 L485.5 214.3 L487.5 214.6 L489.5 215.0 L491.5 215.4 L493.5 215.8 L495.5 216.1 L497.5 216.5 L499.5 216.8 L501.5 217.2 L503.5 217.5 L505.5 217.9 L507.5 218.2 L509.5 218.6 L511.5 218.9 L513.5 219.2 L515.5 219.5 L517.5 219.9 L519.5 220.2 L521.5 220.5 L523.5 220.8 L525.5 221.1 L527.5 221.4 L529.5 221.7 L531.5 222.0 L533.5 222.3 L535.5 222.6 L537.5 222.9 L539.5 223.1 L541.5 223.4 L543.5 223.6 L545.5 223.9 L547.5 224.1 L549.5 224.4 L551.5 224.6 L553.5 224.9 L555.5 225.1 L557.5 225.3 L559.5 225.6 L561.5 225.8 L563.5 226.0 L565.5 226.3 L567.5 226.5 L569.5 226.7 L571.5 227.0 L573.5 227.2 L575.5 227.5 L577.5 227.7 L579.5 228.0 L581.5 228.2 L583.5 228.5 L585.5 228.7 L587.5 229.0 L589.5 229.3 L591.5 229.6 L593.5 229.9 L595.5 230.2 L597.5 230.5 L599.5 230.8 L601.5 231.2 L603.5 231.5 L605.5 231.9 L607.5 232.2 L609.5 232.6 L611.5 233.0 L613.5 233.3 L615.5 233.7 L617.5 234.1 L619.5 234.5 L621.5 234.9 L623.5 235.3 L625.5 235.7 L627.5 236.1 L629.5 236.5 L631.5 236.9 L633.5 237.3 L635.5 237.8 L637.5 238.2 L639.5 238.6 L641.5 239.1 L643.5 239.5 L645.5 239.9 L647.5 240.4 L649.5 240.8 L651.5 241.2 L653.5 241.7 L655.5 242.1 L657.5 242.5 L659.5 243.0 L661.5 243.4 L663.5 243.8 L665.5 244.3 L667.5 244.7 L669.5 245.2 L671.5 245.6 L673.5 246.1 L675.5 246.6 L677.5 247.0 L679.5 247.5 L681.5 248.0 L683.5 248.5 L685.5 249.0 L687.5 249.5 L689.5 250.0 L691.5 250.5 L693.5 251.0 L695.5 251.4 L697.5 251.9 L699.5 252.4 L701.5 252.9 L703.5 253.4 L705.5 253.9 L707.5 254.4 L709.5 254.9 L711.5 255.4 L713.5 255.8 L715.5 256.3 L717.5 256.8 L719.5 257.2 L721.5 257.7 L723.5 258.1 L725.5 258.6 L727.5 259.0 L729.5 259.4 L731.5 259.8 L733.5 260.2 L735.5 260.6 L737.5 261.0 L739.5 261.4 L741.5 261.7 L743.5 262.1 L745.5 262.4 L747.5 262.8 L749.5 263.1 L751.5 263.4 L753.5 263.8 L755.5 264.1 L757.5 264.4 L759.5 264.7 L761.5 265.0 L763.5 265.3 L765.5 265.6 L767.5 266.0 L769.5 266.3 L771.5 266.6 L773.5 266.9 L775.5 267.2 L777.5 267.6 L779.5 267.9 L781.5 268.3 L783.5 268.6 L785.5 269.0 L787.5 269.3 L789.5 269.7 L791.5 270.1 L793.5 270.5 L795.5 270.9 L797.5 271.4 L799.5 271.8 L801.5 272.3 L803.5 272.7 L805.5 273.2 L807.5 273.7 L809.5 274.2 L811.5 274.7 L813.5 275.2 L815.5 275.7 L817.5 276.3 L819.5 276.8 L821.5 277.4 L823.5 278.0 L825.5 278.6 L827.5 279.2 L829.5 279.8 L831.5 280.4 L833.5 281.0 L835.5 281.7 L837.5 282.3 L839.5 283.0 L841.5 283.7 L843.5 284.4 L845.5 285.1 L847.5 285.8 L849.5 286.5 L851.5 287.2 L853.5 288.0 L855.5 288.8 L857.5 289.5 L859.5 290.3 L861.5 291.1 L863.5 291.9 L865.5 292.7 L867.5 293.6 L869.5 294.4 L871.5 295.3 L873.5 296.3 L875.5 297.2 L877.5 298.2 L879.5 299.3 L881.5 300.4 L883.5 301.5 L885.5 302.6 L887.5 303.8 L889.5 305.0 L891.5 306.3 L893.5 307.5 L895.5 308.8 L897.5 310.1 L899.5 311.4 L901.5 312.7 L903.5 314.0 L905.5 315.4 L907.5 316.7 L909.5 318.1 L911.5 319.4 L913.5 320.8 L915.5 322.1 L917.5 323.5 L919.5 324.9 L921.5 326.2 L923.5 327.5 L925.5 328.9 L927.5 330.2 L929.5 331.5 L931.5 332.8 L933.5 334.1 L935.5 335.3 L937.5 336.6 L939.5 337.8 L941.5 338.9 L943.5 340.1 L945.5 341.3 L947.5 342.4 L949.5 343.5 L951.5 344.7 L953.5 345.8 L955.5 346.9 L957.5 348.0 L959.5 349.1 L961.5 350.2 L963.5 351.3 L965.5 352.4 L967.5 353.6 L969.5 354.7 L971.5 355.9 L973.5 357.1 L975.5 358.3 L977.5 359.5 L979.5 360.7 L981.5 362.0 L983.5 363.3 L985.5 364.6 L987.5 366.0 L989.5 367.4 L991.5 368.8 L993.5 370.3 L995.5 371.8 L997.5 373.4 L999.5 375.0 L1001.5 376.7 L1003.5 378.4 L1005.5 380.1 L1007.5 382.0 L1009.5 383.8 L1011.5 385.7 L1013.5 387.6 L1015.5 389.6 L1017.5 391.6 L1019.5 393.7 L1021.5 395.8 L1023.5 397.9 L1025.5 400.1 L1027.5 402.3 L1029.5 404.5 L1031.5 406.8 L1033.5 409.1 L1035.5 411.5 L1037.5 413.8 L1039.5 416.3 L1041.5 418.7 L1043.5 421.2 L1045.5 423.6 L1047.5 426.2 L1049.5 428.7 L1051.5 431.3 L1053.5 433.9 L1055.5 436.5 L1057.5 439.1 L1059.5 441.8 L1061.5 444.5 L1063.5 447.2 L1065.5 449.9 L1067.5 452.7 L1069.5 455.4 L1071.5 458.2 L1073.5 461.0 L1075.5 463.8 L1077.5 466.8 L1079.5 469.8 L1081.5 472.9 L1083.5 476.1 L1085.5 479.3 L1087.5 482.6 L1089.5 485.9 L1091.5 489.3 L1093.5 492.8 L1095.5 496.3 L1097.5 499.8 L1099.5 503.4 L1101.5 507.0 L1103.5 510.7 L1105.5 514.4 L1107.5 518.1 L1109.5 521.8 L1111.5 525.5 L1113.5 529.3 L1115.5 533.1 L1117.5 536.8 L1119.5 540.6 L1121.5 544.4 L1123.5 548.1 L1125.5 551.9 L1127.5 555.6 L1129.5 559.3 L1131.5 563.0 L1133.5 566.7 L1135.5 570.3 L1137.5 573.9 L1139.5 577.5 L1141.5 581.1 L1143.5 584.6 L1145.5 588.1 L1147.5 591.6 L1149.5 595.2 L1151.5 598.7 L1153.5 602.2 L1155.5 605.8 L1157.5 609.3 L1159.5 612.8 L1161.5 616.4 L1163.5 619.9 L1165.5 623.4 L1167.5 627.0 L1169.5 630.5 L1171.5 634.0 L1173.5 637.6 L1175.5 641.1 L1177.5 644.6 L1179.5 648.2 L1181.5 651.7 L1183.5 655.2 L1185.5 658.7 L1187.5 662.3 L1189.5 665.8 L1191.5 669.3 L1193.5 672.8 L1195.5 676.3 L1197.5 679.9 L1199.5 683.4 L1201.5 686.9 L1203.5 690.4 L1205.5 693.9 L1207.5 697.4 L1209.5 700.9 L1211.5 704.3 L1213.5 707.7 L1215.5 711.0 L1217.5 714.2 L1219.5 717.4 L1221.5 720.6 L1223.5 723.7 L1225.5 726.8 L1227.5 729.9 L1229.5 733.0 L1231.5 736.1 L1233.5 739.2 L1235.5 742.4 L1237.5 745.5 L1239.5 748.8 L1241.5 752.0 L1243.5 755.3 L1245.5 758.7 L1247.5 762.2 L1249.5 765.7 L1251.5 769.4 L1253.5 773.1 L1255.5 777.0 L1257.5 780.9 L1259.5 785.0 L1261.5 789.2 L1263.5 793.6 L1265.5 798.2 L1267.5 803.3 L1269.5 809.2 L1271.5 815.4 L1273.5 822.0 L1275.5 828.5 L1277.5 834.9 L1279.5 840.9 L1281.5 846.4 L1283.5 851.1 L1285.5 855.3 L1287.5 859.2 L1289.5 862.8 L1291.5 866.2 L1293.5 869.6 L1295.5 873.0 L1297.5 876.4 L1299.5 880.0 L1301.5 883.7 L1303.5 887.5 L1305.5 891.2 L1307.5 895.1 L1309.5 898.9 L1311.5 902.8 L1313.5 906.7 L1315.5 910.6 L1317.5 914.5 L1319.5 918.4 L1321.5 922.3 L1323.5 926.2 L1325.5 930.0 L1327.5 933.9 L1329.5 937.7 L1331.5 941.5 L1333.5 945.3 L1335.5 949.0 L1337.5 952.7 L1339.5 956.3 L1341.5 959.9 L1343.5 963.4 L1345.5 966.8 L1347.5 970.2 L1349.5 973.5 L1351.5 976.8 L1353.5 980.1 L1355.5 983.4 L1357.5 986.7 L1359.5 989.9 L1361.5 993.1 L1363.5 996.2 L1365.5 999.3 L1367.5 1002.3 L1369.5 1005.3 L1371.5 1008.1 L1373.5 1010.9 L1375.5 1013.5 L1377.5 1016.0 L1379.5 1018.4 L1381.5 1020.7 L1383.5 1022.9 L1385.5 1025.1 L1387.5 1027.2 L1389.5 1029.2 L1391.5 1031.2 L1393.5 1033.1 L1395.5 1035.0 L1397.5 1036.9 L1399.5 1038.7 L1401.5 1040.4 L1403.5 1042.1 L1405.5 1043.8 L1407.5 1045.4 L1409.5 1047.0 L1411.5 1048.6 L1413.5 1050.2 L1415.5 1051.7 L1417.5 1053.1 L1419.5 1054.5 L1421.5 1055.9 L1423.5 1057.3 L1425.5 1058.6 L1427.5 1059.9 L1429.5 1061.2 L1431.5 1062.4 L1433.5 1063.6 L1435.5 1064.9 L1437.5 1066.1 L1439.5 1067.3 L1441.5 1068.5 L1443.5 1069.7 L1445.5 1070.9 L1447.5 1072.1 L1449.5 1073.3 L1451.5 1074.5 L1453.5 1075.8 L1455.5 1077.0 L1457.5 1078.3 L1459.5 1079.7 L1461.5 1081.0 L1463.5 1082.5 L1465.5 1084.1 L1467.5 1085.7 L1469.5 1087.4 L1471.5 1089.1 L1473.5 1090.8 L1475.5 1092.5 L1477.5 1094.2 L1479.5 1095.8 L1481.5 1097.4 L1483.5 1099.0 L1485.5 1100.4 L1487.5 1101.7 L1489.5 1102.9 L1491.5 1104.0 L1493.5 1104.9 L1495.5 1105.6 L1497.5 1106.1 L1499.5 1106.5 L1501.5 1106.9 L1503.5 1107.2 L1505.5 1107.5 L1507.5 1107.8 L1509.5 1108.0 L1511.5 1108.3 L1513.5 1108.5 L1515.5 1108.7 L1517.5 1109.0 L1519.5 1109.2 L1521.5 1109.6 L1523.5 1109.9 L1525.5 1110.3 L1527.5 1110.7 L1529.5 1111.2 L1531.5 1111.7 L1533.5 1112.2 L1535.5 1112.7 L1537.5 1113.3 L1539.5 1113.8 L1541.5 1114.4 L1543.5 1115.0 L1545.5 1115.7 L1547.5 1116.3 L1549.5 1117.0" stroke="#000000" stroke-width="14"/>
<path d="M187.5 128.0 L189.5 128.0 L191.5 128.0 L193.5 128.0 L195.5 128.0 L197.5 128.1 L199.5 128.1 L201.5 128.1 L203.5 128.1 L205.5 128.2 L207.5 128.2 L209.5 128.2 L211.5 128.3 L213.5 128.3 L215.5 128.4 L217.5 128.4 L219.5 128.5 L221.5 128.5 L223.5 128.6 L225.5 128.6 L227.5 128.7 L229.5 128.7 L231.5 128.8 L233.5 128.9 L235.5 128.9 L237.5 129.0 L239.5 129.1 L241.5 129.2 L243.5 129.3 L245.5 129.4 L247.5 129.5 L249.5 129.6 L251.5 129.8 L253.5 130.0 L255.5 130.1 L257.5 130.3 L259.5 130.5 L261.5 130.7 L263.5 130.9 L265.5 131.0 L267.5 131.2 L269.5 131.4 L271.5 131.6 L273.5 131.8 L275.5 132.0 L277.5 132.2 L279.5 132.4 L281.5 132.6 L283.5 132.7 L285.5 132.9 L287.5 133.0 L289.5 133.2 L291.5 133.3 L293.5 133.4 L295.5 133.6 L297.5 133.7 L299.5 133.8 L301.5 133.9 L303.5 134.0 L305.5 134.1 L307.5 134.2 L309.5 134.4 L311.5 134.5 L313.5 134.6 L315.5 134.7 L317.5 134.8 L319.5 134.9 L321.5 135.1 L323.5 135.2 L325.5 135.3 L327.5 135.5 L329.5 135.7 L331.5 135.8 L333.5 136.0 L335.5 136.2 L337.5 136.4 L339.5 136.6 L341.5 136.8 L343.5 137.1 L345.5 137.4 L347.5 137.8 L349.5 138.1 L351.5 138.5 L353.5 138.9 L355.5 139.4 L357.5 139.8 L359.5 140.3 L361.5 140.8 L363.5 141.3 L365.5 141.8 L367.5 142.3 L369.5 142.9 L371.5 143.4 L373.5 144.0 L375.5 144.5 L377.5 145.0 L379.5 145.6 L381.5 146.1 L383.5 146.6 L385.5 147.1 L387.5 147.6 L389.5 148.2 L391.5 148.7 L393.5 149.3 L395.5 149.8 L397.5 150.4 L399.5 151.0 L401.5 151.6 L403.5 152.2 L405.5 152.8 L407.5 153.4 L409.5 154.0 L411.5 154.6 L413.5 155.2 L415.5 155.8 L417.5 156.5 L419.5 157.1 L421.5 157.7 L423.5 158.3 L425.5 158.9 L427.5 159.4 L429.5 160.0 L431.5 160.6 L433.5 161.2 L435.5 161.7 L437.5 162.2 L439.5 162.8 L441.5 163.3 L443.5 163.8 L445.5 164.4 L447.5 164.9 L449.5 165.4 L451.5 165.9 L453.5 166.4 L455.5 167.0 L457.5 167.5 L459.5 168.0 L461.5 168.5 L463.5 169.0 L465.5 169.5 L467.5 169.9 L469.5 170.4 L471.5 170.9 L473.5 171.4 L475.5 171.9 L477.5 172.3 L479.5 172.8 L481.5 173.2 L483.5 173.7 L485.5 174.1 L487.5 174.6 L489.5 175.0 L491.5 175.4 L493.5 175.8 L495.5 176.2 L497.5 176.6 L499.5 176.9 L501.5 177.3 L503.5 177.7 L505.5 178.1 L507.5 178.5 L509.5 178.8 L511.5 179.2 L513.5 179.6 L515.5 180.0 L517.5 180.4 L519.5 180.8 L521.5 181.2 L523.5 181.7 L525.5 182.1 L527.5 182.6 L529.5 183.0 L531.5 183.5 L533.5 184.0 L535.5 184.6 L537.5 185.1 L539.5 185.7 L541.5 186.3 L543.5 187.0 L545.5 187.6 L547.5 188.3 L549.5 189.0 L551.5 189.7 L553.5 190.4 L555.5 191.1 L557.5 191.8 L559.5 192.5 L561.5 193.2 L563.5 193.9 L565.5 194.6 L567.5 195.3 L569.5 196.0 L571.5 196.7 L573.5 197.4 L575.5 198.0 L577.5 198.6 L579.5 199.2 L581.5 199.8 L583.5 200.4 L585.5 200.9 L587.5 201.4 L589.5 201.9 L591.5 202.3 L593.5 202.7 L595.5 203.2 L597.5 203.6 L599.5 204.0 L601.5 204.4 L603.5 204.8 L605.5 205.3 L607.5 205.7 L609.5 206.1 L611.5 206.6 L613.5 207.1 L615.5 207.6 L617.5 208.1 L619.5 208.7 L621.5 209.3 L623.5 210.0 L625.5 210.7 L627.5 211.4 L629.5 212.2 L631.5 213.2 L633.5 214.4 L635.5 215.8 L637.5 217.4 L639.5 219.2 L641.5 221.1 L643.5 223.0 L645.5 225.1 L647.5 227.2 L649.5 229.3 L651.5 231.4 L653.5 233.5 L655.5 235.6 L657.5 237.5 L659.5 239.4 L661.5 241.2 L663.5 242.8 L665.5 244.2 L667.5 245.4 L669.5 246.4 L671.5 247.2 L673.5 247.9 L675.5 248.5 L677.5 249.1 L679.5 249.6 L681.5 250.1 L683.5 250.5 L685.5 250.9 L687.5 251.3 L689.5 251.7 L691.5 252.1 L693.5 252.4 L695.5 252.8 L697.5 253.1 L699.5 253.5 L701.5 253.8 L703.5 254.2 L705.5 254.5 L707.5 254.9 L709.5 255.3 L711.5 255.8 L713.5 256.2 L715.5 256.7 L717.5 257.3 L719.5 257.9 L721.5 258.5 L723.5 259.2 L725.5 260.0 L727.5 260.7 L729.5 261.5 L731.5 262.4 L733.5 263.3 L735.5 264.2 L737.5 265.1 L739.5 266.0 L741.5 266.9 L743.5 267.9 L745.5 268.9 L747.5 269.8 L749.5 270.8 L751.5 271.7 L753.5 272.7 L755.5 273.6 L757.5 274.5 L759.5 275.4 L761.5 276.3 L763.5 277.1 L765.5 278.0 L767.5 278.8 L769.5 279.5 L771.5 280.3 L773.5 281.0 L775.5 281.8 L777.5 282.5 L779.5 283.2 L781.5 283.9 L783.5 284.6 L785.5 285.3 L787.5 286.1 L789.5 286.8 L791.5 287.5 L793.5 288.2 L795.5 289.0 L797.5 289.7 L799.5 290.5 L801.5 291.3 L803.5 292.1 L805.5 293.0 L807.5 293.9 L809.5 294.8 L811.5 295.7 L813.5 296.7 L815.5 297.7 L817.5 298.8 L819.5 299.9 L821.5 301.0 L823.5 302.2 L825.5 303.4 L827.5 304.6 L829.5 305.8 L831.5 307.1 L833.5 308.3 L835.5 309.6 L837.5 310.9 L839.5 312.2 L841.5 313.5 L843.5 314.8 L845.5 316.1 L847.5 317.4 L849.5 318.7 L851.5 320.0 L853.5 321.3 L855.5 322.5 L857.5 323.7 L859.5 324.9 L861.5 326.1 L863.5 327.3 L865.5 328.4 L867.5 329.5 L869.5 330.5 L871.5 331.5 L873.5 332.5 L875.5 333.5 L877.5 334.5 L879.5 335.4 L881.5 336.3 L883.5 337.2 L885.5 338.1 L887.5 339.0 L889.5 339.8 L891.5 340.7 L893.5 341.5 L895.5 342.4 L897.5 343.2 L899.5 344.0 L901.5 344.8 L903.5 345.7 L905.5 346.5 L907.5 347.3 L909.5 348.1 L911.5 349.0 L913.5 349.8 L915.5 350.7 L917.5 351.5 L919.5 352.4 L921.5 353.3 L923.5 354.2 L925.5 355.1 L927.5 356.0 L929.5 357.0 L931.5 358.0 L933.5 359.0 L935.5 360.0 L937.5 361.0 L939.5 362.1 L941.5 363.2 L943.5 364.4 L945.5 365.5 L947.5 366.8 L949.5 368.0 L951.5 369.4 L953.5 370.7 L955.5 372.1 L957.5 373.6 L959.5 375.1 L961.5 376.6 L963.5 378.2 L965.5 379.8 L967.5 381.4 L969.5 383.1 L971.5 384.7 L973.5 386.4 L975.5 388.1 L977.5 389.8 L979.5 391.5 L981.5 393.1 L983.5 394.8 L985.5 396.5 L987.5 398.2 L989.5 399.9 L991.5 401.6 L993.5 403.3 L995.5 404.9 L997.5 406.6 L999.5 408.3 L1001.5 410.0 L1003.5 411.7 L1005.5 413.4 L1007.5 415.1 L1009.5 416.8 L1011.5 418.5 L1013.5 420.3 L1015.5 422.0 L1017.5 423.7 L1019.5 425.5 L1021.5 427.3 L1023.5 429.1 L1025.5 430.9 L1027.5 432.7 L1029.5 434.5 L1031.5 436.4 L1033.5 438.3 L1035.5 440.1 L1037.5 442.1 L1039.5 444.0 L1041.5 445.9 L1043.5 447.9 L1045.5 449.9 L1047.5 451.9 L1049.5 454.0 L1051.5 456.1 L1053.5 458.2 L1055.5 460.3 L1057.5 462.4 L1059.5 464.6 L1061.5 466.8 L1063.5 469.1 L1065.5 471.4 L1067.5 473.7 L1069.5 476.0 L1071.5 478.4 L1073.5 480.9 L1075.5 483.4 L1077.5 486.0 L1079.5 488.6 L1081.5 491.4 L1083.5 494.2 L1085.5 497.1 L1087.5 500.1 L1089.5 503.2 L1091.5 506.3 L1093.5 509.4 L1095.5 512.6 L1097.5 515.9 L1099.5 519.2 L1101.5 522.5 L1103.5 525.9 L1105.5 529.3 L1107.5 532.7 L1109.5 536.1 L1111.5 539.6 L1113.5 543.1 L1115.5 546.6 L1117.5 550.1 L1119.5 553.6 L1121.5 557.1 L1123.5 560.6 L1125.5 564.0 L1127.5 567.5 L1129.5 570.9 L1131.5 574.4 L1133.5 577.8 L1135.5 581.1 L1137.5 584.4 L1139.5 587.7 L1141.5 591.0 L1143.5 594.2 L1145.5 597.4 L1147.5 600.5 L1149.5 603.7 L1151.5 606.8 L1153.5 610.0 L1155.5 613.1 L1157.5 616.2 L1159.5 619.3 L1161.5 622.4 L1163.5 625.5 L1165.5 628.5 L1167.5 631.6 L1169.5 634.7 L1171.5 637.8 L1173.5 640.9 L1175.5 644.1 L1177.5 647.2 L1179.5 650.4 L1181.5 653.5 L1183.5 656.7 L1185.5 659.9 L1187.5 663.2 L1189.5 666.4 L1191.5 669.7 L1193.5 673.0 L1195.5 676.4 L1197.5 679.8 L1199.5 683.2 L1201.5 686.6 L1203.5 690.1 L1205.5 693.7 L1207.5 697.3 L1209.5 700.9 L1211.5 704.6 L1213.5 708.4 L1215.5 712.2 L1217.5 716.1 L1219.5 720.1 L1221.5 724.1 L1223.5 728.1 L1225.5 732.2 L1227.5 736.3 L1229.5 740.5 L1231.5 744.7 L1233.5 748.9 L1235.5 753.1 L1237.5 757.4 L1239.5 761.7 L1241.5 766.0 L1243.5 770.3 L1245.5 774.6 L1247.5 778.9 L1249.5 783.1 L1251.5 787.4 L1253.5 791.7 L1255.5 795.9 L1257.5 800.2 L1259.5 804.5 L1261.5 808.8 L1263.5 813.1 L1265.5 817.4 L1267.5 821.8 L1269.5 826.1 L1271.5 830.5 L1273.5 834.9 L1275.5 839.3 L1277.5 843.6 L1279.5 848.0 L1281.5 852.4 L1283.5 856.7 L1285.5 861.1 L1287.5 865.4 L1289.5 869.7 L1291.5 873.9 L1293.5 878.2 L1295.5 882.5 L1297.5 886.7 L1299.5 891.0 L1301.5 895.4 L1303.5 899.7 L1305.5 904.0 L1307.5 908.3 L1309.5 912.6 L1311.5 916.8 L1313.5 921.1 L1315.5 925.3 L1317.5 929.5 L1319.5 933.6 L1321.5 937.7 L1323.5 941.7 L1325.5 945.7 L1327.5 949.6 L1329.5 953.4 L1331.5 957.2 L1333.5 960.9 L1335.5 964.6 L1337.5 968.2 L1339.5 971.9 L1341.5 975.5 L1343.5 979.1 L1345.5 982.6 L1347.5 986.2 L1349.5 989.7 L1351.5 993.1 L1353.5 996.6 L1355.5 1000.0 L1357.5 1003.4 L1359.5 1006.7 L1361.5 1010.0 L1363.5 1013.3 L1365.5 1016.5 L1367.5 1019.6 L1369.5 1022.7 L1371.5 1025.8 L1373.5 1028.8 L1375.5 1031.8 L1377.5 1034.7 L1379.5 1037.5 L1381.5 1040.3 L1383.5 1043.0 L1385.5 1045.7 L1387.5 1048.3 L1389.5 1051.0 L1391.5 1053.6 L1393.5 1056.2 L1395.5 1058.6 L1397.5 1061.0 L1399.5 1063.1 L1401.5 1065.1 L1403.5 1066.9 L1405.5 1068.4 L1407.5 1069.7 L1409.5 1071.0 L1411.5 1072.2 L1413.5 1073.3 L1415.5 1074.4 L1417.5 1075.4 L1419.5 1076.4 L1421.5 1077.3 L1423.5 1078.2 L1425.5 1079.1 L1427.5 1079.9 L1429.5 1080.7 L1431.5 1081.6 L1433.5 1082.4 L1435.5 1083.2 L1437.5 1084.0 L1439.5 1084.8 L1441.5 1085.6 L1443.5 1086.4 L1445.5 1087.2 L1447.5 1088.0 L1449.5 1088.7 L1451.5 1089.5 L1453.5 1090.2 L1455.5 1090.9 L1457.5 1091.6 L1459.5 1092.3 L1461.5 1093.0 L1463.5 1093.7 L1465.5 1094.4 L1467.5 1095.1 L1469.5 1095.7 L1471.5 1096.4 L1473.5 1097.1 L1475.5 1097.8 L1477.5 1098.6 L1479.5 1099.3 L1481.5 1100.0 L1483.5 1100.8 L1485.5 1101.7 L1487.5 1102.6 L1489.5 1103.4 L1491.5 1104.2 L1493.5 1105.0 L1495.5 1105.6 L1497.5 1106.1 L1499.5 1106.5 L1501.5 1106.9 L1503.5 1107.2 L1505.5 1107.5 L1507.5 1107.7 L1509.5 1108.0 L1511.5 1108.2 L1513.5 1108.5 L1515.5 1108.7 L1517.5 1109.0 L1519.5 1109.2 L1521.5 1109.6 L1523.5 1109.9 L1525.5 1110.3 L1527.5 1110.7 L1529.5 1111.2 L1531.5 1111.7 L1533.5 1112.2 L1535.5 1112.7 L1537.5 1113.3 L1539.5 1113.8 L1541.5 1114.4 L1543.5 1115.0 L1545.5 1115.7 L1547.5 1116.3 L1549.5 1117.0" stroke="#ff0000" stroke-width="14" stroke-dasharray="51 49"/>
<path d="M187.5 166.0 L189.5 166.1 L191.5 166.1 L193.5 166.2 L195.5 166.3 L197.5 166.4 L199.5 166.4 L201.5 166.5 L203.5 166.6 L205.5 166.7 L207.5 166.7 L209.5 166.8 L211.5 166.9 L213.5 167.0 L215.5 167.0 L217.5 167.1 L219.5 167.2 L221.5 167.3 L223.5 167.4 L225.5 167.5 L227.5 167.5 L229.5 167.6 L231.5 167.7 L233.5 167.8 L235.5 167.9 L237.5 168.0 L239.5 168.1 L241.5 168.2 L243.5 168.2 L245.5 168.3 L247.5 168.4 L249.5 168.5 L251.5 168.6 L253.5 168.7 L255.5 168.8 L257.5 168.9 L259.5 169.0 L261.5 169.1 L263.5 169.2 L265.5 169.3 L267.5 169.4 L269.5 169.5 L271.5 169.6 L273.5 169.7 L275.5 169.8 L277.5 169.9 L279.5 170.0 L281.5 170.1 L283.5 170.2 L285.5 170.3 L287.5 170.4 L289.5 170.5 L291.5 170.6 L293.5 170.7 L295.5 170.8 L297.5 170.9 L299.5 171.0 L301.5 171.1 L303.5 171.3 L305.5 171.4 L307.5 171.5 L309.5 171.6 L311.5 171.7 L313.5 171.9 L315.5 172.0 L317.5 172.1 L319.5 172.2 L321.5 172.4 L323.5 172.5 L325.5 172.6 L327.5 172.8 L329.5 172.9 L331.5 173.0 L333.5 173.2 L335.5 173.3 L337.5 173.4 L339.5 173.6 L341.5 173.7 L343.5 173.9 L345.5 174.0 L347.5 174.2 L349.5 174.3 L351.5 174.5 L353.5 174.7 L355.5 174.8 L357.5 175.0 L359.5 175.1 L361.5 175.3 L363.5 175.5 L365.5 175.6 L367.5 175.8 L369.5 176.0 L371.5 176.2 L373.5 176.3 L375.5 176.5 L377.5 176.7 L379.5 176.9 L381.5 177.1 L383.5 177.2 L385.5 177.4 L387.5 177.6 L389.5 177.8 L391.5 178.0 L393.5 178.2 L395.5 178.3 L397.5 178.5 L399.5 178.7 L401.5 178.9 L403.5 179.1 L405.5 179.3 L407.5 179.5 L409.5 179.7 L411.5 179.9 L413.5 180.1 L415.5 180.3 L417.5 180.6 L419.5 180.8 L421.5 181.0 L423.5 181.2 L425.5 181.4 L427.5 181.6 L429.5 181.9 L431.5 182.1 L433.5 182.3 L435.5 182.6 L437.5 182.8 L439.5 183.0 L441.5 183.3 L443.5 183.5 L445.5 183.8 L447.5 184.0 L449.5 184.2 L451.5 184.5 L453.5 184.8 L455.5 185.0 L457.5 185.3 L459.5 185.5 L461.5 185.8 L463.5 186.1 L465.5 186.4 L467.5 186.7 L469.5 187.0 L471.5 187.3 L473.5 187.6 L475.5 187.9 L477.5 188.2 L479.5 188.5 L481.5 188.9 L483.5 189.2 L485.5 189.5 L487.5 189.9 L489.5 190.2 L491.5 190.6 L493.5 190.9 L495.5 191.2 L497.5 191.6 L499.5 192.0 L501.5 192.3 L503.5 192.7 L505.5 193.0 L507.5 193.4 L509.5 193.7 L511.5 194.1 L513.5 194.5 L515.5 194.8 L517.5 195.2 L519.5 195.5 L521.5 195.9 L523.5 196.2 L525.5 196.6 L527.5 196.9 L529.5 197.3 L531.5 197.6 L533.5 197.9 L535.5 198.3 L537.5 198.6 L539.5 198.9 L541.5 199.3 L543.5 199.6 L545.5 199.9 L547.5 200.3 L549.5 200.6 L551.5 200.9 L553.5 201.3 L555.5 201.6 L557.5 201.9 L559.5 202.3 L561.5 202.6 L563.5 203.0 L565.5 203.3 L567.5 203.7 L569.5 204.0 L571.5 204.3 L573.5 204.7 L575.5 205.1 L577.5 205.4 L579.5 205.8 L581.5 206.2 L583.5 206.5 L585.5 206.9 L587.5 207.3 L589.5 207.7 L591.5 208.1 L593.5 208.5 L595.5 208.9 L597.5 209.3 L599.5 209.7 L601.5 210.1 L603.5 210.6 L605.5 211.0 L607.5 211.4 L609.5 211.9 L611.5 212.4 L613.5 212.8 L615.5 213.3 L617.5 213.8 L619.5 214.3 L621.5 214.8 L623.5 215.3 L625.5 215.8 L627.5 216.3 L629.5 216.9 L631.5 217.4 L633.5 218.0 L635.5 218.5 L637.5 219.1 L639.5 219.7 L641.5 220.3 L643.5 221.0 L645.5 221.6 L647.5 222.2 L649.5 222.9 L651.5 223.6 L653.5 224.2 L655.5 224.9 L657.5 225.6 L659.5 226.3 L661.5 227.0 L663.5 227.7 L665.5 228.5 L667.5 229.2 L669.5 230.0 L671.5 230.8 L673.5 231.7 L675.5 232.5 L677.5 233.4 L679.5 234.3 L681.5 235.1 L683.5 236.0 L685.5 236.9 L687.5 237.8 L689.5 238.6 L691.5 239.5 L693.5 240.4 L695.5 241.2 L697.5 242.0 L699.5 242.8 L701.5 243.6 L703.5 244.3 L705.5 245.1 L707.5 245.8 L709.5 246.5 L711.5 247.3 L713.5 248.0 L715.5 248.7 L717.5 249.4 L719.5 250.1 L721.5 250.7 L723.5 251.4 L725.5 252.1 L727.5 252.8 L729.5 253.5 L731.5 254.1 L733.5 254.8 L735.5 255.5 L737.5 256.1 L739.5 256.8 L741.5 257.5 L743.5 258.2 L745.5 258.9 L747.5 259.6 L749.5 260.3 L751.5 261.0 L753.5 261.7 L755.5 262.4 L757.5 263.2 L759.5 263.9 L761.5 264.6 L763.5 265.4 L765.5 266.2 L767.5 267.0 L769.5 267.8 L771.5 268.6 L773.5 269.4 L775.5 270.3 L777.5 271.1 L779.5 272.0 L781.5 272.8 L783.5 273.7 L785.5 274.6 L787.5 275.5 L789.5 276.4 L791.5 277.2 L793.5 278.1 L795.5 279.0 L797.5 279.9 L799.5 280.8 L801.5 281.7 L803.5 282.6 L805.5 283.5 L807.5 284.3 L809.5 285.2 L811.5 286.1 L813.5 286.9 L815.5 287.8 L817.5 288.6 L819.5 289.4 L821.5 290.2 L823.5 291.1 L825.5 291.9 L827.5 292.7 L829.5 293.5 L831.5 294.3 L833.5 295.1 L835.5 295.9 L837.5 296.7 L839.5 297.5 L841.5 298.4 L843.5 299.2 L845.5 300.1 L847.5 300.9 L849.5 301.8 L851.5 302.7 L853.5 303.6 L855.5 304.6 L857.5 305.5 L859.5 306.5 L861.5 307.5 L863.5 308.6 L865.5 309.6 L867.5 310.7 L869.5 311.8 L871.5 313.0 L873.5 314.2 L875.5 315.4 L877.5 316.7 L879.5 318.0 L881.5 319.4 L883.5 320.7 L885.5 322.2 L887.5 323.6 L889.5 325.1 L891.5 326.6 L893.5 328.2 L895.5 329.7 L897.5 331.3 L899.5 332.9 L901.5 334.6 L903.5 336.3 L905.5 338.0 L907.5 339.7 L909.5 341.4 L911.5 343.1 L913.5 344.9 L915.5 346.7 L917.5 348.5 L919.5 350.3 L921.5 352.1 L923.5 354.0 L925.5 355.8 L927.5 357.7 L929.5 359.5 L931.5 361.4 L933.5 363.3 L935.5 365.3 L937.5 367.2 L939.5 369.2 L941.5 371.3 L943.5 373.4 L945.5 375.5 L947.5 377.6 L949.5 379.7 L951.5 381.9 L953.5 384.1 L955.5 386.3 L957.5 388.6 L959.5 390.8 L961.5 393.1 L963.5 395.4 L965.5 397.8 L967.5 400.1 L969.5 402.5 L971.5 404.8 L973.5 407.2 L975.5 409.6 L977.5 412.0 L979.5 414.5 L981.5 416.9 L983.5 419.3 L985.5 421.8 L987.5 424.3 L989.5 426.7 L991.5 429.2 L993.5 431.7 L995.5 434.1 L997.5 436.6 L999.5 439.1 L1001.5 441.6 L1003.5 444.2 L1005.5 446.7 L1007.5 449.3 L1009.5 451.9 L1011.5 454.5 L1013.5 457.2 L1015.5 459.8 L1017.5 462.5 L1019.5 465.2 L1021.5 467.9 L1023.5 470.6 L1025.5 473.3 L1027.5 476.1 L1029.5 478.8 L1031.5 481.6 L1033.5 484.3 L1035.5 487.1 L1037.5 489.9 L1039.5 492.7 L1041.5 495.5 L1043.5 498.4 L1045.5 501.2 L1047.5 504.0 L1049.5 506.8 L1051.5 509.7 L1053.5 512.5 L1055.5 515.4 L1057.5 518.2 L1059.5 521.1 L1061.5 523.9 L1063.5 526.8 L1065.5 529.6 L1067.5 532.5 L1069.5 535.3 L1071.5 538.2 L1073.5 541.0 L1075.5 543.9 L1077.5 546.7 L1079.5 549.6 L1081.5 552.5 L1083.5 555.4 L1085.5 558.4 L1087.5 561.3 L1089.5 564.3 L1091.5 567.3 L1093.5 570.2 L1095.5 573.2 L1097.5 576.2 L1099.5 579.2 L1101.5 582.2 L1103.5 585.2 L1105.5 588.2 L1107.5 591.2 L1109.5 594.2 L1111.5 597.2 L1113.5 600.2 L1115.5 603.2 L1117.5 606.2 L1119.5 609.1 L1121.5 612.1 L1123.5 615.0 L1125.5 618.0 L1127.5 620.9 L1129.5 623.8 L1131.5 626.7 L1133.5 629.6 L1135.5 632.4 L1137.5 635.2 L1139.5 638.0 L1141.5 640.8 L1143.5 643.6 L1145.5 646.3 L1147.5 649.0 L1149.5 651.7 L1151.5 654.3 L1153.5 656.9 L1155.5 659.5 L1157.5 662.1 L1159.5 664.7 L1161.5 667.3 L1163.5 669.8 L1165.5 672.3 L1167.5 674.9 L1169.5 677.4 L1171.5 679.9 L1173.5 682.5 L1175.5 685.0 L1177.5 687.5 L1179.5 690.1 L1181.5 692.6 L1183.5 695.2 L1185.5 697.8 L1187.5 700.4 L1189.5 703.0 L1191.5 705.6 L1193.5 708.3 L1195.5 711.0 L1197.5 713.7 L1199.5 716.5 L1201.5 719.2 L1203.5 722.1 L1205.5 724.9 L1207.5 727.8 L1209.5 730.7 L1211.5 733.7 L1213.5 736.7 L1215.5 739.7 L1217.5 742.8 L1219.5 745.9 L1221.5 749.0 L1223.5 752.2 L1225.5 755.4 L1227.5 758.6 L1229.5 761.9 L1231.5 765.1 L1233.5 768.5 L1235.5 771.8 L1237.5 775.2 L1239.5 778.6 L1241.5 782.0 L1243.5 785.5 L1245.5 789.0 L1247.5 792.5 L1249.5 796.1 L1251.5 799.7 L1253.5 803.4 L1255.5 807.3 L1257.5 811.1 L1259.5 815.1 L1261.5 819.1 L1263.5 823.1 L1265.5 827.1 L1267.5 831.2 L1269.5 835.2 L1271.5 839.2 L1273.5 843.2 L1275.5 847.1 L1277.5 851.0 L1279.5 854.8 L1281.5 858.6 L1283.5 862.4 L1285.5 866.1 L1287.5 869.9 L1289.5 873.6 L1291.5 877.3 L1293.5 880.9 L1295.5 884.6 L1297.5 888.2 L1299.5 891.9 L1301.5 895.6 L1303.5 899.3 L1305.5 902.9 L1307.5 906.6 L1309.5 910.3 L1311.5 914.0 L1313.5 917.6 L1315.5 921.2 L1317.5 924.8 L1319.5 928.4 L1321.5 932.0 L1323.5 935.5 L1325.5 939.0 L1327.5 942.5 L1329.5 945.9 L1331.5 949.3 L1333.5 952.6 L1335.5 955.9 L1337.5 959.1 L1339.5 962.3 L1341.5 965.4 L1343.5 968.5 L1345.5 971.5 L1347.5 974.5 L1349.5 977.5 L1351.5 980.6 L1353.5 983.6 L1355.5 986.6 L1357.5 989.7 L1359.5 992.7 L1361.5 995.7 L1363.5 998.6 L1365.5 1001.6 L1367.5 1004.5 L1369.5 1007.4 L1371.5 1010.2 L1373.5 1012.9 L1375.5 1015.7 L1377.5 1018.3 L1379.5 1020.9 L1381.5 1023.4 L1383.5 1025.9 L1385.5 1028.2 L1387.5 1030.5 L1389.5 1032.6 L1391.5 1034.7 L1393.5 1036.7 L1395.5 1038.5 L1397.5 1040.3 L1399.5 1041.9 L1401.5 1043.4 L1403.5 1044.8 L1405.5 1046.1 L1407.5 1047.4 L1409.5 1048.5 L1411.5 1049.6 L1413.5 1050.7 L1415.5 1051.7 L1417.5 1052.8 L1419.5 1053.8 L1421.5 1054.8 L1423.5 1055.8 L1425.5 1056.8 L1427.5 1057.9 L1429.5 1059.0 L1431.5 1060.2 L1433.5 1061.4 L1435.5 1062.7 L1437.5 1064.0 L1439.5 1065.3 L1441.5 1066.6 L1443.5 1067.9 L1445.5 1069.3 L1447.5 1070.6 L1449.5 1072.0 L1451.5 1073.4 L1453.5 1074.8 L1455.5 1076.1 L1457.5 1077.5 L1459.5 1078.9 L1461.5 1080.3 L1463.5 1081.7 L1465.5 1083.1 L1467.5 1084.5 L1469.5 1086.1 L1471.5 1087.7 L1473.5 1089.3 L1475.5 1091.0 L1477.5 1092.7 L1479.5 1094.4 L1481.5 1096.0 L1483.5 1097.6 L1485.5 1099.1 L1487.5 1100.5 L1489.5 1101.7 L1491.5 1102.8 L1493.5 1103.8 L1495.5 1104.6 L1497.5 1105.1 L1499.5 1105.6 L1501.5 1106.0 L1503.5 1106.3 L1505.5 1106.6 L1507.5 1106.9 L1509.5 1107.2 L1511.5 1107.4 L1513.5 1107.7 L1515.5 1107.9 L1517.5 1108.2 L1519.5 1108.5 L1521.5 1108.8 L1523.5 1109.2 L1525.5 1109.6 L1527.5 1110.1 L1529.5 1110.6 L1531.5 1111.2 L1533.5 1111.8 L1535.5 1112.4 L1537.5 1113.1 L1539.5 1113.7 L1541.5 1114.4 L1543.5 1115.2 L1545.5 1115.9 L1547.5 1116.7 L1549.5 1117.5" stroke="#800080" stroke-width="14"/>
<path d="M187.5 174.6 L189.5 174.8 L191.5 175.1 L193.5 175.3 L195.5 175.5 L197.5 175.7 L199.5 176.0 L201.5 176.2 L203.5 176.4 L205.5 176.6 L207.5 176.9 L209.5 177.1 L211.5 177.3 L213.5 177.5 L215.5 177.7 L217.5 178.0 L219.5 178.2 L221.5 178.4 L223.5 178.6 L225.5 178.8 L227.5 179.0 L229.5 179.3 L231.5 179.5 L233.5 179.7 L235.5 179.9 L237.5 180.1 L239.5 180.3 L241.5 180.5 L243.5 180.7 L245.5 181.0 L247.5 181.2 L249.5 181.4 L251.5 181.6 L253.5 181.8 L255.5 182.0 L257.5 182.2 L259.5 182.4 L261.5 182.6 L263.5 182.8 L265.5 183.0 L267.5 183.2 L269.5 183.4 L271.5 183.6 L273.5 183.8 L275.5 184.0 L277.5 184.2 L279.5 184.4 L281.5 184.6 L283.5 184.8 L285.5 185.0 L287.5 185.2 L289.5 185.4 L291.5 185.6 L293.5 185.8 L295.5 186.0 L297.5 186.2 L299.5 186.3 L301.5 186.5 L303.5 186.7 L305.5 186.9 L307.5 187.1 L309.5 187.3 L311.5 187.5 L313.5 187.7 L315.5 187.8 L317.5 188.0 L319.5 188.2 L321.5 188.4 L323.5 188.6 L325.5 188.8 L327.5 188.9 L329.5 189.1 L331.5 189.3 L333.5 189.5 L335.5 189.7 L337.5 189.8 L339.5 190.0 L341.5 190.2 L343.5 190.4 L345.5 190.5 L347.5 190.7 L349.5 190.9 L351.5 191.1 L353.5 191.2 L355.5 191.4 L357.5 191.6 L359.5 191.7 L361.5 191.9 L363.5 192.1 L365.5 192.2 L367.5 192.4 L369.5 192.6 L371.5 192.7 L373.5 192.9 L375.5 193.1 L377.5 193.2 L379.5 193.4 L381.5 193.6 L383.5 193.7 L385.5 193.9 L387.5 194.1 L389.5 194.2 L391.5 194.4 L393.5 194.5 L395.5 194.7 L397.5 194.8 L399.5 195.0 L401.5 195.1 L403.5 195.3 L405.5 195.4 L407.5 195.6 L409.5 195.7 L411.5 195.8 L413.5 196.0 L415.5 196.1 L417.5 196.3 L419.5 196.4 L421.5 196.5 L423.5 196.7 L425.5 196.8 L427.5 196.9 L429.5 197.1 L431.5 197.2 L433.5 197.4 L435.5 197.5 L437.5 197.7 L439.5 197.8 L441.5 198.0 L443.5 198.1 L445.5 198.3 L447.5 198.4 L449.5 198.6 L451.5 198.8 L453.5 199.0 L455.5 199.2 L457.5 199.4 L459.5 199.6 L461.5 199.8 L463.5 200.0 L465.5 200.2 L467.5 200.5 L469.5 200.8 L471.5 201.1 L473.5 201.4 L475.5 201.7 L477.5 202.0 L479.5 202.3 L481.5 202.7 L483.5 203.0 L485.5 203.4 L487.5 203.7 L489.5 204.1 L491.5 204.4 L493.5 204.8 L495.5 205.2 L497.5 205.5 L499.5 205.9 L501.5 206.2 L503.5 206.6 L505.5 206.9 L507.5 207.3 L509.5 207.6 L511.5 207.9 L513.5 208.2 L515.5 208.5 L517.5 208.8 L519.5 209.0 L521.5 209.3 L523.5 209.5 L525.5 209.8 L527.5 210.0 L529.5 210.1 L531.5 210.3 L533.5 210.5 L535.5 210.6 L537.5 210.8 L539.5 210.9 L541.5 211.0 L543.5 211.2 L545.5 211.3 L547.5 211.4 L549.5 211.5 L551.5 211.6 L553.5 211.7 L555.5 211.9 L557.5 212.0 L559.5 212.1 L561.5 212.2 L563.5 212.3 L565.5 212.4 L567.5 212.5 L569.5 212.6 L571.5 212.7 L573.5 212.8 L575.5 212.9 L577.5 213.0 L579.5 213.2 L581.5 213.3 L583.5 213.4 L585.5 213.6 L587.5 213.7 L589.5 213.9 L591.5 214.1 L593.5 214.3 L595.5 214.4 L597.5 214.6 L599.5 214.9 L601.5 215.1 L603.5 215.4 L605.5 215.6 L607.5 215.9 L609.5 216.2 L611.5 216.5 L613.5 216.9 L615.5 217.2 L617.5 217.6 L619.5 217.9 L621.5 218.3 L623.5 218.7 L625.5 219.1 L627.5 219.5 L629.5 219.9 L631.5 220.4 L633.5 220.8 L635.5 221.3 L637.5 221.7 L639.5 222.2 L641.5 222.6 L643.5 223.1 L645.5 223.6 L647.5 224.0 L649.5 224.5 L651.5 225.0 L653.5 225.5 L655.5 225.9 L657.5 226.4 L659.5 226.9 L661.5 227.4 L663.5 227.8 L665.5 228.3 L667.5 228.8 L669.5 229.3 L671.5 229.8 L673.5 230.3 L675.5 230.9 L677.5 231.4 L679.5 232.0 L681.5 232.5 L683.5 233.1 L685.5 233.7 L687.5 234.2 L689.5 234.8 L691.5 235.4 L693.5 236.0 L695.5 236.6 L697.5 237.2 L699.5 237.8 L701.5 238.5 L703.5 239.1 L705.5 239.7 L707.5 240.4 L709.5 241.0 L711.5 241.7 L713.5 242.4 L715.5 243.0 L717.5 243.7 L719.5 244.4 L721.5 245.1 L723.5 245.8 L725.5 246.5 L727.5 247.3 L729.5 248.0 L731.5 248.7 L733.5 249.4 L735.5 250.2 L737.5 250.9 L739.5 251.7 L741.5 252.4 L743.5 253.2 L745.5 254.0 L747.5 254.7 L749.5 255.5 L751.5 256.3 L753.5 257.1 L755.5 257.9 L757.5 258.7 L759.5 259.5 L761.5 260.3 L763.5 261.2 L765.5 262.0 L767.5 262.8 L769.5 263.7 L771.5 264.5 L773.5 265.3 L775.5 266.1 L777.5 266.9 L779.5 267.8 L781.5 268.6 L783.5 269.4 L785.5 270.3 L787.5 271.1 L789.5 272.0 L791.5 272.9 L793.5 273.8 L795.5 274.7 L797.5 275.6 L799.5 276.5 L801.5 277.5 L803.5 278.5 L805.5 279.5 L807.5 280.6 L809.5 281.7 L811.5 282.8 L813.5 283.9 L815.5 285.1 L817.5 286.4 L819.5 287.6 L821.5 288.9 L823.5 290.3 L825.5 291.6 L827.5 293.0 L829.5 294.4 L831.5 295.8 L833.5 297.3 L835.5 298.8 L837.5 300.3 L839.5 301.8 L841.5 303.3 L843.5 304.8 L845.5 306.3 L847.5 307.9 L849.5 309.4 L851.5 311.0 L853.5 312.5 L855.5 314.1 L857.5 315.6 L859.5 317.2 L861.5 318.7 L863.5 320.3 L865.5 321.8 L867.5 323.3 L869.5 324.8 L871.5 326.3 L873.5 327.8 L875.5 329.2 L877.5 330.8 L879.5 332.3 L881.5 333.8 L883.5 335.3 L885.5 336.8 L887.5 338.3 L889.5 339.9 L891.5 341.4 L893.5 343.0 L895.5 344.5 L897.5 346.0 L899.5 347.6 L901.5 349.1 L903.5 350.7 L905.5 352.2 L907.5 353.8 L909.5 355.3 L911.5 356.8 L913.5 358.4 L915.5 359.9 L917.5 361.5 L919.5 363.0 L921.5 364.5 L923.5 366.1 L925.5 367.6 L927.5 369.1 L929.5 370.6 L931.5 372.1 L933.5 373.6 L935.5 375.1 L937.5 376.5 L939.5 377.9 L941.5 379.3 L943.5 380.7 L945.5 382.0 L947.5 383.4 L949.5 384.7 L951.5 386.1 L953.5 387.4 L955.5 388.7 L957.5 390.1 L959.5 391.4 L961.5 392.8 L963.5 394.1 L965.5 395.5 L967.5 396.9 L969.5 398.3 L971.5 399.8 L973.5 401.2 L975.5 402.7 L977.5 404.2 L979.5 405.8 L981.5 407.4 L983.5 409.0 L985.5 410.6 L987.5 412.3 L989.5 414.0 L991.5 415.8 L993.5 417.7 L995.5 419.6 L997.5 421.5 L999.5 423.5 L1001.5 425.6 L1003.5 427.8 L1005.5 430.1 L1007.5 432.5 L1009.5 434.9 L1011.5 437.4 L1013.5 440.0 L1015.5 442.7 L1017.5 445.4 L1019.5 448.1 L1021.5 451.0 L1023.5 453.8 L1025.5 456.8 L1027.5 459.7 L1029.5 462.7 L1031.5 465.8 L1033.5 468.8 L1035.5 471.9 L1037.5 475.0 L1039.5 478.2 L1041.5 481.3 L1043.5 484.5 L1045.5 487.7 L1047.5 490.8 L1049.5 494.0 L1051.5 497.2 L1053.5 500.4 L1055.5 503.6 L1057.5 506.7 L1059.5 509.8 L1061.5 513.0 L1063.5 516.1 L1065.5 519.1 L1067.5 522.1 L1069.5 525.1 L1071.5 528.1 L1073.5 531.0 L1075.5 533.9 L1077.5 536.8 L1079.5 539.8 L1081.5 542.7 L1083.5 545.6 L1085.5 548.5 L1087.5 551.4 L1089.5 554.4 L1091.5 557.3 L1093.5 560.2 L1095.5 563.2 L1097.5 566.1 L1099.5 569.1 L1101.5 572.0 L1103.5 574.9 L1105.5 577.9 L1107.5 580.8 L1109.5 583.8 L1111.5 586.7 L1113.5 589.7 L1115.5 592.6 L1117.5 595.6 L1119.5 598.5 L1121.5 601.5 L1123.5 604.4 L1125.5 607.3 L1127.5 610.3 L1129.5 613.2 L1131.5 616.2 L1133.5 619.1 L1135.5 622.1 L1137.5 625.0 L1139.5 627.9 L1141.5 630.9 L1143.5 633.8 L1145.5 636.6 L1147.5 639.5 L1149.5 642.3 L1151.5 645.0 L1153.5 647.8 L1155.5 650.5 L1157.5 653.2 L1159.5 655.9 L1161.5 658.6 L1163.5 661.3 L1165.5 664.0 L1167.5 666.7 L1169.5 669.4 L1171.5 672.1 L1173.5 674.9 L1175.5 677.6 L1177.5 680.4 L1179.5 683.2 L1181.5 686.0 L1183.5 688.9 L1185.5 691.8 L1187.5 694.7 L1189.5 697.7 L1191.5 700.7 L1193.5 703.8 L1195.5 707.0 L1197.5 710.2 L1199.5 713.4 L1201.5 716.8 L1203.5 720.2 L1205.5 723.7 L1207.5 727.3 L1209.5 730.9 L1211.5 734.8 L1213.5 738.9 L1215.5 743.3 L1217.5 747.8 L1219.5 752.5 L1221.5 757.2 L1223.5 762.1 L1225.5 767.0 L1227.5 771.8 L1229.5 776.7 L1231.5 781.5 L1233.5 786.2 L1235.5 790.7 L1237.5 795.1 L1239.5 799.3 L1241.5 803.4 L1243.5 807.5 L1245.5 811.5 L1247.5 815.5 L1249.5 819.5 L1251.5 823.4 L1253.5 827.2 L1255.5 831.0 L1257.5 834.8 L1259.5 838.6 L1261.5 842.3 L1263.5 846.0 L1265.5 849.6 L1267.5 853.2 L1269.5 856.8 L1271.5 860.2 L1273.5 863.6 L1275.5 867.0 L1277.5 870.4 L1279.5 873.8 L1281.5 877.3 L1283.5 880.9 L1285.5 884.6 L1287.5 888.3 L1289.5 892.2 L1291.5 896.1 L1293.5 900.1 L1295.5 904.1 L1297.5 908.1 L1299.5 912.2 L1301.5 916.3 L1303.5 920.4 L1305.5 924.4 L1307.5 928.5 L1309.5 932.5 L1311.5 936.5 L1313.5 940.4 L1315.5 944.3 L1317.5 948.1 L1319.5 951.8 L1321.5 955.4 L1323.5 959.0 L1325.5 962.4 L1327.5 965.6 L1329.5 968.8 L1331.5 971.8 L1333.5 974.8 L1335.5 977.7 L1337.5 980.5 L1339.5 983.4 L1341.5 986.1 L1343.5 988.9 L1345.5 991.6 L1347.5 994.3 L1349.5 996.9 L1351.5 999.5 L1353.5 1002.0 L1355.5 1004.6 L1357.5 1007.1 L1359.5 1009.5 L1361.5 1012.0 L1363.5 1014.4 L1365.5 1016.8 L1367.5 1019.1 L1369.5 1021.4 L1371.5 1023.7 L1373.5 1026.0 L1375.5 1028.3 L1377.5 1030.5 L1379.5 1032.7 L1381.5 1034.9 L1383.5 1037.1 L1385.5 1039.3 L1387.5 1041.4 L1389.5 1043.6 L1391.5 1045.7 L1393.5 1047.8 L1395.5 1049.9 L1397.5 1052.0 L1399.5 1054.1 L1401.5 1056.2 L1403.5 1058.3 L1405.5 1060.4 L1407.5 1062.4 L1409.5 1064.5 L1411.5 1066.4 L1413.5 1068.3 L1415.5 1070.2 L1417.5 1071.9 L1419.5 1073.5 L1421.5 1074.9 L1423.5 1076.3 L1425.5 1077.6 L1427.5 1078.8 L1429.5 1080.0 L1431.5 1081.2 L1433.5 1082.3 L1435.5 1083.4 L1437.5 1084.4 L1439.5 1085.4 L1441.5 1086.4 L1443.5 1087.3 L1445.5 1088.3 L1447.5 1089.2 L1449.5 1090.0 L1451.5 1090.9 L1453.5 1091.8 L1455.5 1092.6 L1457.5 1093.4 L1459.5 1094.2 L1461.5 1095.0 L1463.5 1095.7 L1465.5 1096.5 L1467.5 1097.2 L1469.5 1097.9 L1471.5 1098.6 L1473.5 1099.2 L1475.5 1099.9 L1477.5 1100.6 L1479.5 1101.3 L1481.5 1102.0 L1483.5 1102.8 L1485.5 1103.6 L1487.5 1104.4 L1489.5 1105.2 L1491.5 1106.0 L1493.5 1106.6 L1495.5 1107.2 L1497.5 1107.6 L1499.5 1107.9 L1501.5 1108.2 L1503.5 1108.4 L1505.5 1108.6 L1507.5 1108.8 L1509.5 1109.0 L1511.5 1109.1 L1513.5 1109.3 L1515.5 1109.5 L1517.5 1109.7 L1519.5 1109.9 L1521.5 1110.1 L1523.5 1110.4 L1525.5 1110.8 L1527.5 1111.2 L1529.5 1111.6 L1531.5 1112.1 L1533.5 1112.7 L1535.5 1113.3 L1537.5 1114.0 L1539.5 1114.6 L1541.5 1115.4 L1543.5 1116.1 L1545.5 1116.9 L1547.5 1117.7 L1549.5 1118.5" stroke="#ff8080" stroke-width="14"/>
</g>
<rect x="997.3" y="111.4" width="519.3" height="682.6" fill="#fff" stroke="#262626" stroke-width="2.7"/>
<path d="M1010.0 142.6H1136.3" stroke="#ff0000" stroke-width="14"/>
<text x="1145.2" y="157.7" class="lg" style="font-size:36.3px;letter-spacing:0.69px">MSIFNet[0.741]</text>
<path d="M1010.0 194.4H1136.3" stroke="#0000ff" stroke-width="14" stroke-dasharray="51 49"/>
<text x="1145.2" y="209.5" class="lg" style="font-size:36.3px;letter-spacing:0.69px">APFNet[0.737]</text>
<path d="M1010.0 246.2H1136.3" stroke="#0000ff" stroke-width="14"/>
<text x="1145.2" y="261.3" class="lg" style="font-size:36.3px;letter-spacing:0.69px">MANet[0.724]</text>
<path d="M1010.0 297.9H1136.3" stroke="#00ffff" stroke-width="14"/>
<text x="1145.2" y="313.0" class="lg" style="font-size:36.3px;letter-spacing:0.69px">HDINet[0.718]</text>
<path d="M1010.0 349.7H1136.3" stroke="#008080" stroke-width="14"/>
<text x="1145.2" y="364.8" class="lg" style="font-size:36.3px;letter-spacing:0.69px">CAT[0.717]</text>
<path d="M1010.0 401.5H1136.3" stroke="#808000" stroke-width="14"/>
<text x="1145.2" y="416.6" class="lg" style="font-size:36.3px;letter-spacing:0.69px">M5L[0.71]</text>
<path d="M1010.0 453.3H1136.3" stroke="#00ff00" stroke-width="14"/>
<text x="1145.2" y="468.4" class="lg" style="font-size:36.3px;letter-spacing:0.69px">MACNet[0.698]</text>
<path d="M1010.0 505.1H1136.3" stroke="#ff00ff" stroke-width="14"/>
<text x="1145.2" y="520.2" class="lg" style="font-size:36.3px;letter-spacing:0.69px">MDNet+RGBT[0.637]</text>
<path d="M1010.0 556.8H1136.3" stroke="#ffff00" stroke-width="14"/>
<text x="1145.2" y="571.9" class="lg" style="font-size:36.3px;letter-spacing:0.69px">ECO[0.631]</text>
<path d="M1010.0 608.6H1136.3" stroke="#000000" stroke-width="14"/>
<text x="1145.2" y="623.7" class="lg" style="font-size:36.3px;letter-spacing:0.69px">ADNet[0.629]</text>
<path d="M1010.0 660.4H1136.3" stroke="#ff0000" stroke-width="14" stroke-dasharray="51 49"/>
<text x="1145.2" y="675.5" class="lg" style="font-size:36.3px;letter-spacing:0.69px">SGT[0.628]</text>
<path d="M1010.0 712.2H1136.3" stroke="#800080" stroke-width="14"/>
<text x="1145.2" y="727.3" class="lg" style="font-size:36.3px;letter-spacing:0.69px">DAT[0.618]</text>
<path d="M1010.0 764.0H1136.3" stroke="#ff8080" stroke-width="14"/>
<text x="1145.2" y="779.1" class="lg" style="font-size:36.3px;letter-spacing:0.69px">RT-MDNet[0.613]</text>
<text x="187.5" y="1178.4" text-anchor="middle" class="tk">0</text>
<text x="323.7" y="1178.4" text-anchor="middle" class="tk">0.1</text>
<text x="459.9" y="1178.4" text-anchor="middle" class="tk">0.2</text>
<text x="596.1" y="1178.4" text-anchor="middle" class="tk">0.3</text>
<text x="732.3" y="1178.4" text-anchor="middle" class="tk">0.4</text>
<text x="868.5" y="1178.4" text-anchor="middle" class="tk">0.5</text>
<text x="1004.7" y="1178.4" text-anchor="middle" class="tk">0.6</text>
<text x="1140.9" y="1178.4" text-anchor="middle" class="tk">0.7</text>
<text x="1277.1" y="1178.4" text-anchor="middle" class="tk">0.8</text>
<text x="1413.3" y="1178.4" text-anchor="middle" class="tk">0.9</text>
<text x="1549.5" y="1178.4" text-anchor="middle" class="tk">1</text>
<text x="169.0" y="1135.4" text-anchor="end" class="tk">0</text>
<text x="169.0" y="1031.4" text-anchor="end" class="tk">0.1</text>
<text x="169.0" y="927.3" text-anchor="end" class="tk">0.2</text>
<text x="169.0" y="823.3" text-anchor="end" class="tk">0.3</text>
<text x="169.0" y="719.2" text-anchor="end" class="tk">0.4</text>
<text x="169.0" y="615.2" text-anchor="end" class="tk">0.5</text>
<text x="169.0" y="511.1" text-anchor="end" class="tk">0.6</text>
<text x="169.0" y="407.1" text-anchor="end" class="tk">0.7</text>
<text x="169.0" y="303.0" text-anchor="end" class="tk">0.8</text>
<text x="169.0" y="199.0" text-anchor="end" class="tk">0.9</text>
<text x="169.0" y="94.9" text-anchor="end" class="tk">1</text>
<text x="868.5" y="59.3" text-anchor="middle" class="ti">Success Plot</text>
<text x="868.5" y="1276.8" text-anchor="middle" class="xl">overlap threshold</text>
<text transform="translate(76.5 598.2) rotate(-90)" x="0" y="0" text-anchor="middle" class="xl">Success Rate</text>
<rect x="189.5" y="1493.5" width="1374.0" height="1051.0" fill="none" stroke="#262626" stroke-width="2.7"/>
<path d="M189.5 2544.5v-15.0M189.5 1493.5v15.0M464.3 2544.5v-15.0M464.3 1493.5v15.0M739.1 2544.5v-15.0M739.1 1493.5v15.0M1013.9 2544.5v-15.0M1013.9 1493.5v15.0M1288.7 2544.5v-15.0M1288.7 1493.5v15.0M1563.5 2544.5v-15.0M1563.5 1493.5v15.0M189.5 2544.5h15.0M1563.5 2544.5h-15.0M189.5 2439.4h15.0M1563.5 2439.4h-15.0M189.5 2334.3h15.0M1563.5 2334.3h-15.0M189.5 2229.2h15.0M1563.5 2229.2h-15.0M189.5 2124.1h15.0M1563.5 2124.1h-15.0M189.5 2019.0h15.0M1563.5 2019.0h-15.0M189.5 1913.9h15.0M1563.5 1913.9h-15.0M189.5 1808.8h15.0M1563.5 1808.8h-15.0M189.5 1703.7h15.0M1563.5 1703.7h-15.0M189.5 1598.6h15.0M1563.5 1598.6h-15.0M189.5 1493.5h15.0M1563.5 1493.5h-15.0" stroke="#262626" stroke-width="2.7" fill="none"/>
<g class="cv">
<path d="M189.5 2544.5 L217.0 2515.5 L219.0 2502.0 L221.0 2488.7 L223.0 2475.6 L225.0 2462.7 L227.0 2450.1 L229.0 2437.8 L231.0 2426.0 L233.0 2414.7 L235.0 2403.8 L237.0 2393.1 L239.0 2382.2 L241.0 2371.0 L243.0 2359.2 L245.0 2346.6 L247.0 2333.0 L249.0 2318.4 L251.0 2302.7 L253.0 2286.2 L255.0 2268.8 L257.0 2250.0 L259.0 2229.7 L261.0 2212.7 L263.0 2196.7 L265.0 2181.5 L267.0 2167.0 L269.0 2153.2 L271.0 2139.9 L273.0 2127.0 L275.0 2114.6 L277.0 2102.9 L279.0 2091.6 L281.0 2080.8 L283.0 2070.2 L285.0 2059.8 L287.0 2049.4 L289.0 2038.9 L291.0 2028.2 L293.0 2017.2 L295.0 2006.0 L297.0 1994.7 L299.0 1983.5 L301.0 1972.1 L303.0 1960.8 L305.0 1949.3 L307.0 1937.8 L309.0 1926.1 L311.0 1914.4 L313.0 1902.2 L315.0 1889.6 L317.0 1877.2 L319.0 1865.9 L321.0 1855.5 L323.0 1845.6 L325.0 1836.1 L327.0 1827.0 L329.0 1818.3 L331.0 1809.9 L333.0 1802.0 L335.0 1794.3 L337.0 1786.7 L339.0 1779.1 L341.0 1771.8 L343.0 1764.6 L345.0 1757.7 L347.0 1751.0 L349.0 1744.7 L351.0 1738.8 L353.1 1733.3 L355.1 1728.3 L357.1 1723.8 L359.1 1719.6 L361.1 1715.5 L363.1 1711.7 L365.1 1708.0 L367.1 1704.5 L369.1 1701.1 L371.1 1697.8 L373.1 1694.7 L375.1 1691.7 L377.1 1688.7 L379.1 1685.8 L381.1 1683.0 L383.1 1680.3 L385.1 1677.6 L387.1 1674.9 L389.1 1672.2 L391.1 1669.5 L393.1 1666.8 L395.1 1664.1 L397.1 1661.4 L399.1 1658.6 L401.1 1655.8 L403.1 1653.0 L405.1 1650.2 L407.1 1647.4 L409.1 1644.7 L411.1 1641.9 L413.1 1639.2 L415.1 1636.5 L417.1 1633.9 L419.1 1631.3 L421.1 1628.8 L423.1 1626.3 L425.1 1623.9 L427.1 1621.6 L429.1 1619.3 L431.1 1617.2 L433.1 1615.1 L435.1 1613.1 L437.1 1611.3 L439.1 1609.5 L441.1 1607.8 L443.1 1606.3 L445.1 1604.8 L447.1 1603.3 L449.1 1602.0 L451.1 1600.6 L453.1 1599.3 L455.1 1598.1 L457.1 1596.8 L459.1 1595.6 L461.1 1594.4 L463.1 1593.1 L465.1 1591.9 L467.1 1590.6 L469.1 1589.3 L471.1 1587.9 L473.1 1586.5 L475.1 1585.1 L477.1 1583.6 L479.1 1582.2 L481.1 1580.7 L483.1 1579.3 L485.1 1577.9 L487.1 1576.4 L489.1 1575.1 L491.1 1573.7 L493.1 1572.4 L495.1 1571.2 L497.1 1570.0 L499.1 1569.0 L501.1 1567.9 L503.1 1567.0 L505.1 1566.1 L507.1 1565.2 L509.1 1564.3 L511.1 1563.5 L513.1 1562.7 L515.1 1561.9 L517.1 1561.1 L519.1 1560.4 L521.1 1559.6 L523.1 1558.9 L525.1 1558.2 L527.1 1557.4 L529.1 1556.7 L531.1 1556.0 L533.1 1555.2 L535.1 1554.5 L537.1 1553.7 L539.1 1553.0 L541.1 1552.3 L543.1 1551.5 L545.1 1550.8 L547.1 1550.1 L549.1 1549.4 L551.1 1548.7 L553.1 1548.0 L555.1 1547.3 L557.1 1546.6 L559.1 1545.9 L561.1 1545.3 L563.1 1544.6 L565.1 1544.0 L567.1 1543.3 L569.1 1542.7 L571.1 1542.1 L573.1 1541.5 L575.1 1540.9 L577.1 1540.4 L579.1 1539.8 L581.1 1539.2 L583.1 1538.7 L585.1 1538.1 L587.1 1537.6 L589.1 1537.1 L591.1 1536.6 L593.1 1536.1 L595.1 1535.6 L597.1 1535.2 L599.1 1534.8 L601.1 1534.4 L603.1 1534.0 L605.1 1533.6 L607.1 1533.3 L609.1 1532.9 L611.1 1532.6 L613.1 1532.2 L615.1 1531.9 L617.1 1531.5 L619.1 1531.2 L621.2 1530.9 L623.2 1530.6 L625.2 1530.3 L627.2 1530.0 L629.2 1529.7 L631.2 1529.4 L633.2 1529.1 L635.2 1528.8 L637.2 1528.5 L639.2 1528.3 L641.2 1528.0 L643.2 1527.7 L645.2 1527.5 L647.2 1527.2 L649.2 1526.9 L651.2 1526.7 L653.2 1526.4 L655.2 1526.2 L657.2 1525.9 L659.2 1525.7 L661.2 1525.4 L663.2 1525.2 L665.2 1524.9 L667.2 1524.7 L669.2 1524.4 L671.2 1524.2 L673.2 1523.9 L675.2 1523.7 L677.2 1523.4 L679.2 1523.1 L681.2 1522.9 L683.2 1522.6 L685.2 1522.4 L687.2 1522.1 L689.2 1521.9 L691.2 1521.6 L693.2 1521.4 L695.2 1521.2 L697.2 1520.9 L699.2 1520.7 L701.2 1520.4 L703.2 1520.2 L705.2 1520.0 L707.2 1519.7 L709.2 1519.5 L711.2 1519.3 L713.2 1519.1 L715.2 1518.9 L717.2 1518.7 L719.2 1518.5 L721.2 1518.3 L723.2 1518.1 L725.2 1517.9 L727.2 1517.7 L729.2 1517.5 L731.2 1517.4 L733.2 1517.2 L735.2 1517.0 L737.2 1516.9 L739.2 1516.8 L741.2 1516.6 L743.2 1516.5 L745.2 1516.4 L747.2 1516.2 L749.2 1516.1 L751.2 1516.0 L753.2 1515.9 L755.2 1515.8 L757.2 1515.7 L759.2 1515.5 L761.2 1515.4 L763.2 1515.3 L765.2 1515.2 L767.2 1515.1 L769.2 1515.0 L771.2 1514.9 L773.2 1514.8 L775.2 1514.7 L777.2 1514.7 L779.2 1514.6 L781.2 1514.5 L783.2 1514.4 L785.2 1514.3 L787.2 1514.2 L789.2 1514.1 L791.2 1514.0 L793.2 1514.0 L795.2 1513.9 L797.2 1513.8 L799.2 1513.7 L801.2 1513.6 L803.2 1513.6 L805.2 1513.5 L807.2 1513.4 L809.2 1513.3 L811.2 1513.2 L813.2 1513.2 L815.2 1513.1 L817.2 1513.0 L819.2 1512.9 L821.2 1512.8 L823.2 1512.8 L825.2 1512.7 L827.2 1512.6 L829.2 1512.5 L831.2 1512.5 L833.2 1512.4 L835.2 1512.3 L837.2 1512.2 L839.2 1512.1 L841.2 1512.0 L843.2 1512.0 L845.2 1511.9 L847.2 1511.8 L849.2 1511.7 L851.2 1511.6 L853.2 1511.5 L855.2 1511.4 L857.2 1511.3 L859.2 1511.2 L861.2 1511.2 L863.2 1511.1 L865.2 1511.0 L867.2 1510.9 L869.2 1510.8 L871.2 1510.7 L873.2 1510.6 L875.2 1510.5 L877.2 1510.4 L879.2 1510.4 L881.2 1510.3 L883.2 1510.2 L885.2 1510.1 L887.2 1510.0 L889.2 1509.9 L891.3 1509.8 L893.3 1509.7 L895.3 1509.6 L897.3 1509.6 L899.3 1509.5 L901.3 1509.4 L903.3 1509.3 L905.3 1509.2 L907.3 1509.1 L909.3 1509.0 L911.3 1508.9 L913.3 1508.9 L915.3 1508.8 L917.3 1508.7 L919.3 1508.6 L921.3 1508.5 L923.3 1508.4 L925.3 1508.3 L927.3 1508.3 L929.3 1508.2 L931.3 1508.1 L933.3 1508.0 L935.3 1507.9 L937.3 1507.8 L939.3 1507.7 L941.3 1507.7 L943.3 1507.6 L945.3 1507.5 L947.3 1507.4 L949.3 1507.3 L951.3 1507.2 L953.3 1507.1 L955.3 1507.1 L957.3 1507.0 L959.3 1506.9 L961.3 1506.8 L963.3 1506.7 L965.3 1506.6 L967.3 1506.5 L969.3 1506.5 L971.3 1506.4 L973.3 1506.3 L975.3 1506.2 L977.3 1506.1 L979.3 1506.0 L981.3 1505.9 L983.3 1505.8 L985.3 1505.7 L987.3 1505.6 L989.3 1505.5 L991.3 1505.4 L993.3 1505.3 L995.3 1505.3 L997.3 1505.2 L999.3 1505.1 L1001.3 1505.0 L1003.3 1504.9 L1005.3 1504.8 L1007.3 1504.7 L1009.3 1504.6 L1011.3 1504.6 L1013.3 1504.5 L1015.3 1504.4 L1017.3 1504.3 L1019.3 1504.2 L1021.3 1504.2 L1023.3 1504.1 L1025.3 1504.0 L1027.3 1504.0 L1029.3 1503.9 L1031.3 1503.8 L1033.3 1503.8 L1035.3 1503.7 L1037.3 1503.7 L1039.3 1503.6 L1041.3 1503.6 L1043.3 1503.5 L1045.3 1503.5 L1047.3 1503.4 L1049.3 1503.4 L1051.3 1503.3 L1053.3 1503.3 L1055.3 1503.2 L1057.3 1503.2 L1059.3 1503.1 L1061.3 1503.1 L1063.3 1503.1 L1065.3 1503.0 L1067.3 1503.0 L1069.3 1502.9 L1071.3 1502.9 L1073.3 1502.8 L1075.3 1502.8 L1077.3 1502.8 L1079.3 1502.7 L1081.3 1502.7 L1083.3 1502.6 L1085.3 1502.6 L1087.3 1502.6 L1089.3 1502.5 L1091.3 1502.5 L1093.3 1502.4 L1095.3 1502.4 L1097.3 1502.4 L1099.3 1502.3 L1101.3 1502.3 L1103.3 1502.2 L1105.3 1502.2 L1107.3 1502.2 L1109.3 1502.1 L1111.3 1502.1 L1113.3 1502.1 L1115.3 1502.0 L1117.3 1502.0 L1119.3 1502.0 L1121.3 1501.9 L1123.3 1501.9 L1125.3 1501.9 L1127.3 1501.8 L1129.3 1501.8 L1131.3 1501.8 L1133.3 1501.7 L1135.3 1501.7 L1137.3 1501.7 L1139.3 1501.6 L1141.3 1501.6 L1143.3 1501.6 L1145.3 1501.5 L1147.3 1501.5 L1149.3 1501.5 L1151.3 1501.4 L1153.3 1501.4 L1155.3 1501.4 L1157.3 1501.3 L1159.3 1501.3 L1161.4 1501.3 L1163.4 1501.3 L1165.4 1501.2 L1167.4 1501.2 L1169.4 1501.2 L1171.4 1501.1 L1173.4 1501.1 L1175.4 1501.1 L1177.4 1501.0 L1179.4 1501.0 L1181.4 1501.0 L1183.4 1501.0 L1185.4 1500.9 L1187.4 1500.9 L1189.4 1500.9 L1191.4 1500.9 L1193.4 1500.8 L1195.4 1500.8 L1197.4 1500.8 L1199.4 1500.8 L1201.4 1500.7 L1203.4 1500.7 L1205.4 1500.7 L1207.4 1500.6 L1209.4 1500.6 L1211.4 1500.6 L1213.4 1500.6 L1215.4 1500.5 L1217.4 1500.5 L1219.4 1500.5 L1221.4 1500.5 L1223.4 1500.5 L1225.4 1500.4 L1227.4 1500.4 L1229.4 1500.4 L1231.4 1500.4 L1233.4 1500.3 L1235.4 1500.3 L1237.4 1500.3 L1239.4 1500.3 L1241.4 1500.2 L1243.4 1500.2 L1245.4 1500.2 L1247.4 1500.2 L1249.4 1500.1 L1251.4 1500.1 L1253.4 1500.1 L1255.4 1500.1 L1257.4 1500.1 L1259.4 1500.0 L1261.4 1500.0 L1263.4 1500.0 L1265.4 1500.0 L1267.4 1499.9 L1269.4 1499.9 L1271.4 1499.9 L1273.4 1499.9 L1275.4 1499.9 L1277.4 1499.8 L1279.4 1499.8 L1281.4 1499.8 L1283.4 1499.8 L1285.4 1499.8 L1287.4 1499.7 L1289.4 1499.7 L1291.4 1499.7 L1293.4 1499.7 L1295.4 1499.6 L1297.4 1499.6 L1299.4 1499.6 L1301.4 1499.6 L1303.4 1499.6 L1305.4 1499.5 L1307.4 1499.5 L1309.4 1499.5 L1311.4 1499.5 L1313.4 1499.5 L1315.4 1499.4 L1317.4 1499.4 L1319.4 1499.4 L1321.4 1499.4 L1323.4 1499.4 L1325.4 1499.3 L1327.4 1499.3 L1329.4 1499.3 L1331.4 1499.3 L1333.4 1499.3 L1335.4 1499.2 L1337.4 1499.2 L1339.4 1499.2 L1341.4 1499.2 L1343.4 1499.2 L1345.4 1499.1 L1347.4 1499.1 L1349.4 1499.1 L1351.4 1499.1 L1353.4 1499.1 L1355.4 1499.0 L1357.4 1499.0 L1359.4 1499.0 L1361.4 1499.0 L1363.4 1499.0 L1365.4 1498.9 L1367.4 1498.9 L1369.4 1498.9 L1371.4 1498.9 L1373.4 1498.9 L1375.4 1498.8 L1377.4 1498.8 L1379.4 1498.8 L1381.4 1498.8 L1383.4 1498.8 L1385.4 1498.8 L1387.4 1498.7 L1389.4 1498.7 L1391.4 1498.7 L1393.4 1498.7 L1395.4 1498.7 L1397.4 1498.6 L1399.4 1498.6 L1401.4 1498.6 L1403.4 1498.6 L1405.4 1498.6 L1407.4 1498.6 L1409.4 1498.5 L1411.4 1498.5 L1413.4 1498.5 L1415.4 1498.5 L1417.4 1498.5 L1419.4 1498.4 L1421.4 1498.4 L1423.4 1498.4 L1425.4 1498.4 L1427.4 1498.4 L1429.5 1498.4 L1431.5 1498.3 L1433.5 1498.3 L1435.5 1498.3 L1437.5 1498.3 L1439.5 1498.3 L1441.5 1498.3 L1443.5 1498.2 L1445.5 1498.2 L1447.5 1498.2 L1449.5 1498.2 L1451.5 1498.2 L1453.5 1498.2 L1455.5 1498.2 L1457.5 1498.1 L1459.5 1498.1 L1461.5 1498.1 L1463.5 1498.1 L1465.5 1498.1 L1467.5 1498.1 L1469.5 1498.0 L1471.5 1498.0 L1473.5 1498.0 L1475.5 1498.0 L1477.5 1498.0 L1479.5 1498.0 L1481.5 1498.0 L1483.5 1498.0 L1485.5 1497.9 L1487.5 1497.9 L1489.5 1497.9 L1491.5 1497.9 L1493.5 1497.9 L1495.5 1497.9 L1497.5 1497.9 L1499.5 1497.8 L1501.5 1497.8 L1503.5 1497.8 L1505.5 1497.8 L1507.5 1497.8 L1509.5 1497.8 L1511.5 1497.8 L1513.5 1497.8 L1515.5 1497.7 L1517.5 1497.7 L1519.5 1497.7 L1521.5 1497.7 L1523.5 1497.7 L1525.5 1497.7 L1527.5 1497.7 L1529.5 1497.7 L1531.5 1497.7 L1533.5 1497.6 L1535.5 1497.6 L1537.5 1497.6 L1539.5 1497.6 L1541.5 1497.6 L1543.5 1497.6 L1545.5 1497.6 L1547.5 1497.6 L1549.5 1497.6 L1551.5 1497.6 L1553.5 1497.5 L1555.5 1497.5 L1557.5 1497.5 L1559.5 1497.5 L1561.5 1497.5 L1563.5 1497.5" stroke="#0000ff" stroke-width="14" stroke-dasharray="51 49" stroke-dashoffset="-10.0"/>
<path d="M189.5 2544.5 L217.0 2515.0 L219.0 2500.9 L221.0 2487.0 L223.0 2473.4 L225.0 2460.1 L227.0 2447.2 L229.0 2434.7 L231.0 2422.9 L233.0 2411.7 L235.0 2400.9 L237.0 2390.1 L239.0 2379.2 L241.0 2368.0 L243.0 2356.1 L245.0 2343.3 L247.0 2329.4 L249.0 2314.5 L251.0 2298.7 L253.0 2281.9 L255.0 2264.4 L257.0 2244.7 L259.0 2225.4 L261.0 2208.6 L263.0 2192.8 L265.0 2177.8 L267.0 2163.5 L269.0 2149.8 L271.0 2136.6 L273.0 2123.9 L275.0 2111.6 L277.0 2100.0 L279.0 2088.9 L281.0 2078.1 L283.0 2067.6 L285.0 2057.2 L287.0 2046.8 L289.0 2036.3 L291.0 2025.5 L293.0 2014.4 L295.0 2003.2 L297.0 1991.9 L299.0 1980.6 L301.0 1969.3 L303.0 1957.9 L305.0 1946.4 L307.0 1934.9 L309.0 1923.2 L311.0 1911.4 L313.0 1899.0 L315.0 1886.4 L317.0 1874.3 L319.0 1863.2 L321.0 1853.0 L323.0 1843.2 L325.0 1833.8 L327.0 1824.8 L329.0 1816.2 L331.0 1807.9 L333.0 1800.1 L335.0 1792.4 L337.0 1784.8 L339.0 1777.3 L341.0 1770.0 L343.0 1762.8 L345.0 1756.0 L347.0 1749.4 L349.0 1743.2 L351.0 1737.4 L353.1 1732.0 L355.1 1727.1 L357.1 1722.7 L359.1 1718.5 L361.1 1714.5 L363.1 1710.7 L365.1 1707.0 L367.1 1703.5 L369.1 1700.1 L371.1 1696.8 L373.1 1693.7 L375.1 1690.6 L377.1 1687.6 L379.1 1684.8 L381.1 1682.0 L383.1 1679.2 L385.1 1676.5 L387.1 1673.9 L389.1 1671.2 L391.1 1668.6 L393.1 1666.0 L395.1 1663.4 L397.1 1660.7 L399.1 1658.1 L401.1 1655.5 L403.1 1652.9 L405.1 1650.3 L407.1 1647.7 L409.1 1645.2 L411.1 1642.7 L413.1 1640.3 L415.1 1637.9 L417.1 1635.5 L419.1 1633.1 L421.1 1630.9 L423.1 1628.6 L425.1 1626.4 L427.1 1624.3 L429.1 1622.2 L431.1 1620.2 L433.1 1618.2 L435.1 1616.3 L437.1 1614.5 L439.1 1612.8 L441.1 1611.1 L443.1 1609.5 L445.1 1608.0 L447.1 1606.5 L449.1 1605.1 L451.1 1603.8 L453.1 1602.4 L455.1 1601.1 L457.1 1599.9 L459.1 1598.6 L461.1 1597.4 L463.1 1596.1 L465.1 1594.9 L467.1 1593.6 L469.1 1592.3 L471.1 1590.9 L473.1 1589.6 L475.1 1588.2 L477.1 1586.7 L479.1 1585.3 L481.1 1583.9 L483.1 1582.4 L485.1 1581.0 L487.1 1579.6 L489.1 1578.2 L491.1 1576.8 L493.1 1575.5 L495.1 1574.2 L497.1 1573.0 L499.1 1571.8 L501.1 1570.7 L503.1 1569.6 L505.1 1568.6 L507.1 1567.6 L509.1 1566.6 L511.1 1565.6 L513.1 1564.7 L515.1 1563.7 L517.1 1562.8 L519.1 1561.9 L521.1 1561.1 L523.1 1560.2 L525.1 1559.4 L527.1 1558.5 L529.1 1557.7 L531.1 1556.9 L533.1 1556.0 L535.1 1555.2 L537.1 1554.4 L539.1 1553.6 L541.1 1552.8 L543.1 1552.0 L545.1 1551.3 L547.1 1550.5 L549.1 1549.7 L551.1 1549.0 L553.1 1548.2 L555.1 1547.5 L557.1 1546.8 L559.1 1546.1 L561.1 1545.4 L563.1 1544.7 L565.1 1544.0 L567.1 1543.4 L569.1 1542.8 L571.1 1542.1 L573.1 1541.5 L575.1 1540.9 L577.1 1540.3 L579.1 1539.8 L581.1 1539.2 L583.1 1538.6 L585.1 1538.1 L587.1 1537.6 L589.1 1537.1 L591.1 1536.6 L593.1 1536.1 L595.1 1535.6 L597.1 1535.2 L599.1 1534.8 L601.1 1534.4 L603.1 1534.0 L605.1 1533.6 L607.1 1533.3 L609.1 1532.9 L611.1 1532.6 L613.1 1532.2 L615.1 1531.9 L617.1 1531.5 L619.1 1531.2 L621.2 1530.9 L623.2 1530.6 L625.2 1530.3 L627.2 1530.0 L629.2 1529.7 L631.2 1529.4 L633.2 1529.1 L635.2 1528.8 L637.2 1528.5 L639.2 1528.3 L641.2 1528.0 L643.2 1527.7 L645.2 1527.5 L647.2 1527.2 L649.2 1526.9 L651.2 1526.7 L653.2 1526.4 L655.2 1526.2 L657.2 1525.9 L659.2 1525.7 L661.2 1525.4 L663.2 1525.2 L665.2 1524.9 L667.2 1524.7 L669.2 1524.4 L671.2 1524.2 L673.2 1523.9 L675.2 1523.7 L677.2 1523.4 L679.2 1523.1 L681.2 1522.9 L683.2 1522.6 L685.2 1522.4 L687.2 1522.1 L689.2 1521.9 L691.2 1521.6 L693.2 1521.4 L695.2 1521.2 L697.2 1520.9 L699.2 1520.7 L701.2 1520.4 L703.2 1520.2 L705.2 1520.0 L707.2 1519.7 L709.2 1519.5 L711.2 1519.3 L713.2 1519.1 L715.2 1518.9 L717.2 1518.7 L719.2 1518.5 L721.2 1518.3 L723.2 1518.1 L725.2 1517.9 L727.2 1517.7 L729.2 1517.5 L731.2 1517.4 L733.2 1517.2 L735.2 1517.0 L737.2 1516.9 L739.2 1516.8 L741.2 1516.6 L743.2 1516.5 L745.2 1516.4 L747.2 1516.2 L749.2 1516.1 L751.2 1516.0 L753.2 1515.9 L755.2 1515.8 L757.2 1515.7 L759.2 1515.5 L761.2 1515.4 L763.2 1515.3 L765.2 1515.2 L767.2 1515.1 L769.2 1515.0 L771.2 1514.9 L773.2 1514.8 L775.2 1514.7 L777.2 1514.7 L779.2 1514.6 L781.2 1514.5 L783.2 1514.4 L785.2 1514.3 L787.2 1514.2 L789.2 1514.1 L791.2 1514.0 L793.2 1514.0 L795.2 1513.9 L797.2 1513.8 L799.2 1513.7 L801.2 1513.6 L803.2 1513.6 L805.2 1513.5 L807.2 1513.4 L809.2 1513.3 L811.2 1513.2 L813.2 1513.2 L815.2 1513.1 L817.2 1513.0 L819.2 1512.9 L821.2 1512.8 L823.2 1512.8 L825.2 1512.7 L827.2 1512.6 L829.2 1512.5 L831.2 1512.5 L833.2 1512.4 L835.2 1512.3 L837.2 1512.2 L839.2 1512.1 L841.2 1512.0 L843.2 1512.0 L845.2 1511.9 L847.2 1511.8 L849.2 1511.7 L851.2 1511.6 L853.2 1511.5 L855.2 1511.4 L857.2 1511.3 L859.2 1511.2 L861.2 1511.2 L863.2 1511.1 L865.2 1511.0 L867.2 1510.9 L869.2 1510.8 L871.2 1510.7 L873.2 1510.6 L875.2 1510.5 L877.2 1510.4 L879.2 1510.4 L881.2 1510.3 L883.2 1510.2 L885.2 1510.1 L887.2 1510.0 L889.2 1509.9 L891.3 1509.8 L893.3 1509.7 L895.3 1509.6 L897.3 1509.6 L899.3 1509.5 L901.3 1509.4 L903.3 1509.3 L905.3 1509.2 L907.3 1509.1 L909.3 1509.0 L911.3 1508.9 L913.3 1508.9 L915.3 1508.8 L917.3 1508.7 L919.3 1508.6 L921.3 1508.5 L923.3 1508.4 L925.3 1508.3 L927.3 1508.3 L929.3 1508.2 L931.3 1508.1 L933.3 1508.0 L935.3 1507.9 L937.3 1507.8 L939.3 1507.7 L941.3 1507.7 L943.3 1507.6 L945.3 1507.5 L947.3 1507.4 L949.3 1507.3 L951.3 1507.2 L953.3 1507.1 L955.3 1507.1 L957.3 1507.0 L959.3 1506.9 L961.3 1506.8 L963.3 1506.7 L965.3 1506.6 L967.3 1506.5 L969.3 1506.5 L971.3 1506.4 L973.3 1506.3 L975.3 1506.2 L977.3 1506.1 L979.3 1506.0 L981.3 1505.9 L983.3 1505.8 L985.3 1505.7 L987.3 1505.6 L989.3 1505.5 L991.3 1505.4 L993.3 1505.3 L995.3 1505.3 L997.3 1505.2 L999.3 1505.1 L1001.3 1505.0 L1003.3 1504.9 L1005.3 1504.8 L1007.3 1504.7 L1009.3 1504.6 L1011.3 1504.6 L1013.3 1504.5 L1015.3 1504.4 L1017.3 1504.3 L1019.3 1504.2 L1021.3 1504.2 L1023.3 1504.1 L1025.3 1504.0 L1027.3 1504.0 L1029.3 1503.9 L1031.3 1503.8 L1033.3 1503.8 L1035.3 1503.7 L1037.3 1503.7 L1039.3 1503.6 L1041.3 1503.6 L1043.3 1503.5 L1045.3 1503.5 L1047.3 1503.4 L1049.3 1503.4 L1051.3 1503.3 L1053.3 1503.3 L1055.3 1503.2 L1057.3 1503.2 L1059.3 1503.1 L1061.3 1503.1 L1063.3 1503.1 L1065.3 1503.0 L1067.3 1503.0 L1069.3 1502.9 L1071.3 1502.9 L1073.3 1502.8 L1075.3 1502.8 L1077.3 1502.8 L1079.3 1502.7 L1081.3 1502.7 L1083.3 1502.6 L1085.3 1502.6 L1087.3 1502.6 L1089.3 1502.5 L1091.3 1502.5 L1093.3 1502.4 L1095.3 1502.4 L1097.3 1502.4 L1099.3 1502.3 L1101.3 1502.3 L1103.3 1502.2 L1105.3 1502.2 L1107.3 1502.2 L1109.3 1502.1 L1111.3 1502.1 L1113.3 1502.1 L1115.3 1502.0 L1117.3 1502.0 L1119.3 1502.0 L1121.3 1501.9 L1123.3 1501.9 L1125.3 1501.9 L1127.3 1501.8 L1129.3 1501.8 L1131.3 1501.8 L1133.3 1501.7 L1135.3 1501.7 L1137.3 1501.7 L1139.3 1501.6 L1141.3 1501.6 L1143.3 1501.6 L1145.3 1501.5 L1147.3 1501.5 L1149.3 1501.5 L1151.3 1501.4 L1153.3 1501.4 L1155.3 1501.4 L1157.3 1501.3 L1159.3 1501.3 L1161.4 1501.3 L1163.4 1501.3 L1165.4 1501.2 L1167.4 1501.2 L1169.4 1501.2 L1171.4 1501.1 L1173.4 1501.1 L1175.4 1501.1 L1177.4 1501.0 L1179.4 1501.0 L1181.4 1501.0 L1183.4 1501.0 L1185.4 1500.9 L1187.4 1500.9 L1189.4 1500.9 L1191.4 1500.9 L1193.4 1500.8 L1195.4 1500.8 L1197.4 1500.8 L1199.4 1500.8 L1201.4 1500.7 L1203.4 1500.7 L1205.4 1500.7 L1207.4 1500.6 L1209.4 1500.6 L1211.4 1500.6 L1213.4 1500.6 L1215.4 1500.5 L1217.4 1500.5 L1219.4 1500.5 L1221.4 1500.5 L1223.4 1500.5 L1225.4 1500.4 L1227.4 1500.4 L1229.4 1500.4 L1231.4 1500.4 L1233.4 1500.3 L1235.4 1500.3 L1237.4 1500.3 L1239.4 1500.3 L1241.4 1500.2 L1243.4 1500.2 L1245.4 1500.2 L1247.4 1500.2 L1249.4 1500.1 L1251.4 1500.1 L1253.4 1500.1 L1255.4 1500.1 L1257.4 1500.1 L1259.4 1500.0 L1261.4 1500.0 L1263.4 1500.0 L1265.4 1500.0 L1267.4 1499.9 L1269.4 1499.9 L1271.4 1499.9 L1273.4 1499.9 L1275.4 1499.9 L1277.4 1499.8 L1279.4 1499.8 L1281.4 1499.8 L1283.4 1499.8 L1285.4 1499.8 L1287.4 1499.7 L1289.4 1499.7 L1291.4 1499.7 L1293.4 1499.7 L1295.4 1499.6 L1297.4 1499.6 L1299.4 1499.6 L1301.4 1499.6 L1303.4 1499.6 L1305.4 1499.5 L1307.4 1499.5 L1309.4 1499.5 L1311.4 1499.5 L1313.4 1499.5 L1315.4 1499.4 L1317.4 1499.4 L1319.4 1499.4 L1321.4 1499.4 L1323.4 1499.4 L1325.4 1499.3 L1327.4 1499.3 L1329.4 1499.3 L1331.4 1499.3 L1333.4 1499.3 L1335.4 1499.2 L1337.4 1499.2 L1339.4 1499.2 L1341.4 1499.2 L1343.4 1499.2 L1345.4 1499.1 L1347.4 1499.1 L1349.4 1499.1 L1351.4 1499.1 L1353.4 1499.1 L1355.4 1499.0 L1357.4 1499.0 L1359.4 1499.0 L1361.4 1499.0 L1363.4 1499.0 L1365.4 1498.9 L1367.4 1498.9 L1369.4 1498.9 L1371.4 1498.9 L1373.4 1498.9 L1375.4 1498.8 L1377.4 1498.8 L1379.4 1498.8 L1381.4 1498.8 L1383.4 1498.8 L1385.4 1498.8 L1387.4 1498.7 L1389.4 1498.7 L1391.4 1498.7 L1393.4 1498.7 L1395.4 1498.7 L1397.4 1498.6 L1399.4 1498.6 L1401.4 1498.6 L1403.4 1498.6 L1405.4 1498.6 L1407.4 1498.6 L1409.4 1498.5 L1411.4 1498.5 L1413.4 1498.5 L1415.4 1498.5 L1417.4 1498.5 L1419.4 1498.4 L1421.4 1498.4 L1423.4 1498.4 L1425.4 1498.4 L1427.4 1498.4 L1429.5 1498.4 L1431.5 1498.3 L1433.5 1498.3 L1435.5 1498.3 L1437.5 1498.3 L1439.5 1498.3 L1441.5 1498.3 L1443.5 1498.2 L1445.5 1498.2 L1447.5 1498.2 L1449.5 1498.2 L1451.5 1498.2 L1453.5 1498.2 L1455.5 1498.2 L1457.5 1498.1 L1459.5 1498.1 L1461.5 1498.1 L1463.5 1498.1 L1465.5 1498.1 L1467.5 1498.1 L1469.5 1498.0 L1471.5 1498.0 L1473.5 1498.0 L1475.5 1498.0 L1477.5 1498.0 L1479.5 1498.0 L1481.5 1498.0 L1483.5 1498.0 L1485.5 1497.9 L1487.5 1497.9 L1489.5 1497.9 L1491.5 1497.9 L1493.5 1497.9 L1495.5 1497.9 L1497.5 1497.9 L1499.5 1497.8 L1501.5 1497.8 L1503.5 1497.8 L1505.5 1497.8 L1507.5 1497.8 L1509.5 1497.8 L1511.5 1497.8 L1513.5 1497.8 L1515.5 1497.7 L1517.5 1497.7 L1519.5 1497.7 L1521.5 1497.7 L1523.5 1497.7 L1525.5 1497.7 L1527.5 1497.7 L1529.5 1497.7 L1531.5 1497.7 L1533.5 1497.6 L1535.5 1497.6 L1537.5 1497.6 L1539.5 1497.6 L1541.5 1497.6 L1543.5 1497.6 L1545.5 1497.6 L1547.5 1497.6 L1549.5 1497.6 L1551.5 1497.6 L1553.5 1497.5 L1555.5 1497.5 L1557.5 1497.5 L1559.5 1497.5 L1561.5 1497.5 L1563.5 1497.5" stroke="#ff0000" stroke-width="14"/>
<path d="M189.5 2544.5 L217.0 2515.0 L219.0 2503.0 L221.0 2491.0 L223.0 2479.1 L225.0 2467.2 L227.0 2455.4 L229.0 2443.7 L231.0 2432.0 L233.0 2420.9 L235.0 2409.9 L237.0 2399.1 L239.0 2388.2 L241.0 2377.0 L243.0 2365.3 L245.0 2353.0 L247.0 2339.9 L249.0 2325.8 L251.0 2310.7 L253.0 2294.6 L255.0 2277.6 L257.0 2259.9 L259.0 2239.5 L261.0 2221.1 L263.0 2204.5 L265.0 2188.7 L267.0 2173.7 L269.0 2159.5 L271.0 2146.0 L273.0 2133.1 L275.0 2120.9 L277.0 2109.2 L279.0 2097.9 L281.0 2087.2 L283.0 2076.8 L285.0 2066.7 L287.0 2056.9 L289.0 2047.4 L291.0 2038.1 L293.0 2028.9 L295.0 2019.8 L297.0 2010.8 L299.0 2002.2 L301.0 1993.9 L303.0 1985.7 L305.0 1977.7 L307.0 1969.8 L309.0 1962.0 L311.0 1954.2 L313.0 1946.4 L315.0 1938.5 L317.0 1930.5 L319.0 1922.3 L321.0 1913.8 L323.0 1905.0 L325.0 1895.8 L327.0 1886.5 L329.0 1877.4 L331.0 1868.8 L333.0 1861.0 L335.0 1853.4 L337.0 1846.1 L339.0 1838.9 L341.0 1832.0 L343.0 1825.3 L345.0 1818.9 L347.0 1812.6 L349.0 1806.6 L351.0 1800.9 L353.1 1795.3 L355.1 1789.8 L357.1 1784.5 L359.1 1779.3 L361.1 1774.2 L363.1 1769.2 L365.1 1764.3 L367.1 1759.6 L369.1 1754.9 L371.1 1750.3 L373.1 1745.9 L375.1 1741.5 L377.1 1737.2 L379.1 1733.0 L381.1 1728.9 L383.1 1724.9 L385.1 1720.9 L387.1 1717.1 L389.1 1713.3 L391.1 1709.6 L393.1 1706.0 L395.1 1702.4 L397.1 1698.9 L399.1 1695.5 L401.1 1692.1 L403.1 1688.7 L405.1 1685.4 L407.1 1682.2 L409.1 1678.9 L411.1 1675.7 L413.1 1672.5 L415.1 1669.4 L417.1 1666.2 L419.1 1663.1 L421.1 1659.9 L423.1 1656.7 L425.1 1653.6 L427.1 1650.5 L429.1 1647.4 L431.1 1644.4 L433.1 1641.5 L435.1 1638.6 L437.1 1635.8 L439.1 1633.2 L441.1 1630.6 L443.1 1628.1 L445.1 1625.6 L447.1 1623.2 L449.1 1620.8 L451.1 1618.4 L453.1 1616.1 L455.1 1613.8 L457.1 1611.6 L459.1 1609.4 L461.1 1607.2 L463.1 1605.2 L465.1 1603.2 L467.1 1601.2 L469.1 1599.3 L471.1 1597.5 L473.1 1595.8 L475.1 1594.1 L477.1 1592.4 L479.1 1590.8 L481.1 1589.2 L483.1 1587.6 L485.1 1586.1 L487.1 1584.7 L489.1 1583.3 L491.1 1582.0 L493.1 1580.7 L495.1 1579.5 L497.1 1578.4 L499.1 1577.4 L501.1 1576.5 L503.1 1575.7 L505.1 1574.9 L507.1 1574.1 L509.1 1573.4 L511.1 1572.7 L513.1 1572.1 L515.1 1571.4 L517.1 1570.8 L519.1 1570.2 L521.1 1569.7 L523.1 1569.1 L525.1 1568.5 L527.1 1567.9 L529.1 1567.3 L531.1 1566.7 L533.1 1566.0 L535.1 1565.4 L537.1 1564.8 L539.1 1564.2 L541.1 1563.6 L543.1 1563.0 L545.1 1562.4 L547.1 1561.8 L549.1 1561.2 L551.1 1560.7 L553.1 1560.1 L555.1 1559.5 L557.1 1558.9 L559.1 1558.4 L561.1 1557.8 L563.1 1557.2 L565.1 1556.6 L567.1 1556.1 L569.1 1555.5 L571.1 1554.9 L573.1 1554.3 L575.1 1553.7 L577.1 1553.1 L579.1 1552.5 L581.1 1551.9 L583.1 1551.2 L585.1 1550.6 L587.1 1550.0 L589.1 1549.4 L591.1 1548.8 L593.1 1548.2 L595.1 1547.7 L597.1 1547.2 L599.1 1546.7 L601.1 1546.3 L603.1 1545.8 L605.1 1545.4 L607.1 1545.0 L609.1 1544.6 L611.1 1544.2 L613.1 1543.8 L615.1 1543.4 L617.1 1543.1 L619.1 1542.7 L621.2 1542.4 L623.2 1542.0 L625.2 1541.7 L627.2 1541.3 L629.2 1541.0 L631.2 1540.7 L633.2 1540.3 L635.2 1540.0 L637.2 1539.7 L639.2 1539.4 L641.2 1539.1 L643.2 1538.8 L645.2 1538.5 L647.2 1538.2 L649.2 1538.0 L651.2 1537.7 L653.2 1537.4 L655.2 1537.1 L657.2 1536.9 L659.2 1536.6 L661.2 1536.3 L663.2 1536.1 L665.2 1535.8 L667.2 1535.6 L669.2 1535.3 L671.2 1535.1 L673.2 1534.8 L675.2 1534.6 L677.2 1534.3 L679.2 1534.1 L681.2 1533.9 L683.2 1533.6 L685.2 1533.4 L687.2 1533.2 L689.2 1533.0 L691.2 1532.7 L693.2 1532.5 L695.2 1532.3 L697.2 1532.1 L699.2 1531.9 L701.2 1531.7 L703.2 1531.5 L705.2 1531.3 L707.2 1531.1 L709.2 1530.9 L711.2 1530.7 L713.2 1530.5 L715.2 1530.3 L717.2 1530.1 L719.2 1529.9 L721.2 1529.7 L723.2 1529.6 L725.2 1529.4 L727.2 1529.2 L729.2 1529.0 L731.2 1528.8 L733.2 1528.6 L735.2 1528.4 L737.2 1528.3 L739.2 1528.1 L741.2 1527.9 L743.2 1527.7 L745.2 1527.5 L747.2 1527.3 L749.2 1527.1 L751.2 1527.0 L753.2 1526.8 L755.2 1526.6 L757.2 1526.4 L759.2 1526.2 L761.2 1526.0 L763.2 1525.9 L765.2 1525.7 L767.2 1525.5 L769.2 1525.3 L771.2 1525.1 L773.2 1524.9 L775.2 1524.8 L777.2 1524.6 L779.2 1524.4 L781.2 1524.2 L783.2 1524.0 L785.2 1523.9 L787.2 1523.7 L789.2 1523.5 L791.2 1523.3 L793.2 1523.2 L795.2 1523.0 L797.2 1522.8 L799.2 1522.6 L801.2 1522.5 L803.2 1522.3 L805.2 1522.1 L807.2 1522.0 L809.2 1521.8 L811.2 1521.7 L813.2 1521.5 L815.2 1521.3 L817.2 1521.2 L819.2 1521.0 L821.2 1520.9 L823.2 1520.7 L825.2 1520.6 L827.2 1520.4 L829.2 1520.3 L831.2 1520.1 L833.2 1520.0 L835.2 1519.9 L837.2 1519.7 L839.2 1519.6 L841.2 1519.5 L843.2 1519.3 L845.2 1519.2 L847.2 1519.1 L849.2 1519.0 L851.2 1518.9 L853.2 1518.8 L855.2 1518.6 L857.2 1518.5 L859.2 1518.4 L861.2 1518.3 L863.2 1518.2 L865.2 1518.1 L867.2 1518.0 L869.2 1517.9 L871.2 1517.8 L873.2 1517.7 L875.2 1517.6 L877.2 1517.5 L879.2 1517.4 L881.2 1517.3 L883.2 1517.2 L885.2 1517.2 L887.2 1517.1 L889.2 1517.0 L891.3 1516.9 L893.3 1516.8 L895.3 1516.7 L897.3 1516.6 L899.3 1516.6 L901.3 1516.5 L903.3 1516.4 L905.3 1516.3 L907.3 1516.2 L909.3 1516.1 L911.3 1516.1 L913.3 1516.0 L915.3 1515.9 L917.3 1515.8 L919.3 1515.7 L921.3 1515.6 L923.3 1515.6 L925.3 1515.5 L927.3 1515.4 L929.3 1515.3 L931.3 1515.2 L933.3 1515.1 L935.3 1515.1 L937.3 1515.0 L939.3 1514.9 L941.3 1514.8 L943.3 1514.7 L945.3 1514.6 L947.3 1514.5 L949.3 1514.5 L951.3 1514.4 L953.3 1514.3 L955.3 1514.2 L957.3 1514.1 L959.3 1514.0 L961.3 1513.9 L963.3 1513.8 L965.3 1513.7 L967.3 1513.6 L969.3 1513.5 L971.3 1513.4 L973.3 1513.3 L975.3 1513.2 L977.3 1513.1 L979.3 1513.0 L981.3 1512.9 L983.3 1512.7 L985.3 1512.6 L987.3 1512.5 L989.3 1512.4 L991.3 1512.3 L993.3 1512.2 L995.3 1512.1 L997.3 1512.0 L999.3 1511.9 L1001.3 1511.8 L1003.3 1511.7 L1005.3 1511.6 L1007.3 1511.4 L1009.3 1511.3 L1011.3 1511.2 L1013.3 1511.1 L1015.3 1511.0 L1017.3 1510.9 L1019.3 1510.8 L1021.3 1510.7 L1023.3 1510.6 L1025.3 1510.5 L1027.3 1510.4 L1029.3 1510.4 L1031.3 1510.3 L1033.3 1510.2 L1035.3 1510.1 L1037.3 1510.0 L1039.3 1509.9 L1041.3 1509.8 L1043.3 1509.8 L1045.3 1509.7 L1047.3 1509.6 L1049.3 1509.5 L1051.3 1509.5 L1053.3 1509.4 L1055.3 1509.3 L1057.3 1509.2 L1059.3 1509.1 L1061.3 1509.1 L1063.3 1509.0 L1065.3 1508.9 L1067.3 1508.8 L1069.3 1508.7 L1071.3 1508.7 L1073.3 1508.6 L1075.3 1508.5 L1077.3 1508.4 L1079.3 1508.3 L1081.3 1508.3 L1083.3 1508.2 L1085.3 1508.1 L1087.3 1508.0 L1089.3 1508.0 L1091.3 1507.9 L1093.3 1507.8 L1095.3 1507.7 L1097.3 1507.7 L1099.3 1507.6 L1101.3 1507.5 L1103.3 1507.4 L1105.3 1507.3 L1107.3 1507.3 L1109.3 1507.2 L1111.3 1507.1 L1113.3 1507.0 L1115.3 1507.0 L1117.3 1506.9 L1119.3 1506.8 L1121.3 1506.8 L1123.3 1506.7 L1125.3 1506.6 L1127.3 1506.5 L1129.3 1506.5 L1131.3 1506.4 L1133.3 1506.3 L1135.3 1506.2 L1137.3 1506.2 L1139.3 1506.1 L1141.3 1506.0 L1143.3 1506.0 L1145.3 1505.9 L1147.3 1505.8 L1149.3 1505.7 L1151.3 1505.7 L1153.3 1505.6 L1155.3 1505.5 L1157.3 1505.5 L1159.3 1505.4 L1161.4 1505.3 L1163.4 1505.3 L1165.4 1505.2 L1167.4 1505.1 L1169.4 1505.1 L1171.4 1505.0 L1173.4 1504.9 L1175.4 1504.9 L1177.4 1504.8 L1179.4 1504.8 L1181.4 1504.7 L1183.4 1504.6 L1185.4 1504.6 L1187.4 1504.5 L1189.4 1504.4 L1191.4 1504.4 L1193.4 1504.3 L1195.4 1504.3 L1197.4 1504.2 L1199.4 1504.1 L1201.4 1504.1 L1203.4 1504.0 L1205.4 1504.0 L1207.4 1503.9 L1209.4 1503.9 L1211.4 1503.8 L1213.4 1503.8 L1215.4 1503.7 L1217.4 1503.6 L1219.4 1503.6 L1221.4 1503.5 L1223.4 1503.5 L1225.4 1503.4 L1227.4 1503.4 L1229.4 1503.3 L1231.4 1503.3 L1233.4 1503.2 L1235.4 1503.2 L1237.4 1503.1 L1239.4 1503.1 L1241.4 1503.0 L1243.4 1503.0 L1245.4 1503.0 L1247.4 1502.9 L1249.4 1502.9 L1251.4 1502.8 L1253.4 1502.8 L1255.4 1502.7 L1257.4 1502.7 L1259.4 1502.7 L1261.4 1502.6 L1263.4 1502.6 L1265.4 1502.5 L1267.4 1502.5 L1269.4 1502.5 L1271.4 1502.4 L1273.4 1502.4 L1275.4 1502.4 L1277.4 1502.3 L1279.4 1502.3 L1281.4 1502.3 L1283.4 1502.2 L1285.4 1502.2 L1287.4 1502.2 L1289.4 1502.1 L1291.4 1502.1 L1293.4 1502.1 L1295.4 1502.1 L1297.4 1502.0 L1299.4 1502.0 L1301.4 1502.0 L1303.4 1502.0 L1305.4 1501.9 L1307.4 1501.9 L1309.4 1501.9 L1311.4 1501.9 L1313.4 1501.8 L1315.4 1501.8 L1317.4 1501.8 L1319.4 1501.8 L1321.4 1501.7 L1323.4 1501.7 L1325.4 1501.7 L1327.4 1501.7 L1329.4 1501.6 L1331.4 1501.6 L1333.4 1501.6 L1335.4 1501.6 L1337.4 1501.6 L1339.4 1501.5 L1341.4 1501.5 L1343.4 1501.5 L1345.4 1501.5 L1347.4 1501.4 L1349.4 1501.4 L1351.4 1501.4 L1353.4 1501.4 L1355.4 1501.4 L1357.4 1501.3 L1359.4 1501.3 L1361.4 1501.3 L1363.4 1501.3 L1365.4 1501.2 L1367.4 1501.2 L1369.4 1501.2 L1371.4 1501.2 L1373.4 1501.2 L1375.4 1501.1 L1377.4 1501.1 L1379.4 1501.1 L1381.4 1501.1 L1383.4 1501.1 L1385.4 1501.0 L1387.4 1501.0 L1389.4 1501.0 L1391.4 1501.0 L1393.4 1501.0 L1395.4 1500.9 L1397.4 1500.9 L1399.4 1500.9 L1401.4 1500.9 L1403.4 1500.9 L1405.4 1500.8 L1407.4 1500.8 L1409.4 1500.8 L1411.4 1500.8 L1413.4 1500.8 L1415.4 1500.7 L1417.4 1500.7 L1419.4 1500.7 L1421.4 1500.7 L1423.4 1500.7 L1425.4 1500.7 L1427.4 1500.6 L1429.5 1500.6 L1431.5 1500.6 L1433.5 1500.6 L1435.5 1500.6 L1437.5 1500.6 L1439.5 1500.5 L1441.5 1500.5 L1443.5 1500.5 L1445.5 1500.5 L1447.5 1500.5 L1449.5 1500.5 L1451.5 1500.4 L1453.5 1500.4 L1455.5 1500.4 L1457.5 1500.4 L1459.5 1500.4 L1461.5 1500.4 L1463.5 1500.4 L1465.5 1500.3 L1467.5 1500.3 L1469.5 1500.3 L1471.5 1500.3 L1473.5 1500.3 L1475.5 1500.3 L1477.5 1500.3 L1479.5 1500.3 L1481.5 1500.2 L1483.5 1500.2 L1485.5 1500.2 L1487.5 1500.2 L1489.5 1500.2 L1491.5 1500.2 L1493.5 1500.2 L1495.5 1500.2 L1497.5 1500.2 L1499.5 1500.2 L1501.5 1500.1 L1503.5 1500.1 L1505.5 1500.1 L1507.5 1500.1 L1509.5 1500.1 L1511.5 1500.1 L1513.5 1500.1 L1515.5 1500.1 L1517.5 1500.1 L1519.5 1500.1 L1521.5 1500.1 L1523.5 1500.1 L1525.5 1500.1 L1527.5 1500.1 L1529.5 1500.0 L1531.5 1500.0 L1533.5 1500.0 L1535.5 1500.0 L1537.5 1500.0 L1539.5 1500.0 L1541.5 1500.0 L1543.5 1500.0 L1545.5 1500.0 L1547.5 1500.0 L1549.5 1500.0 L1551.5 1500.0 L1553.5 1500.0 L1555.5 1500.0 L1557.5 1500.0 L1559.5 1500.0 L1561.5 1500.0 L1563.5 1500.0" stroke="#808000" stroke-width="14"/>
<path d="M189.5 2544.5 L217.0 2515.0 L219.0 2502.1 L221.0 2489.2 L223.0 2476.6 L225.0 2464.1 L227.0 2451.7 L229.0 2439.6 L231.0 2427.8 L233.0 2416.6 L235.0 2405.7 L237.0 2394.9 L239.0 2384.0 L241.0 2372.8 L243.0 2361.0 L245.0 2348.5 L247.0 2335.1 L249.0 2320.6 L251.0 2305.1 L253.0 2288.7 L255.0 2271.5 L257.0 2253.1 L259.0 2232.5 L261.0 2215.2 L263.0 2199.0 L265.0 2183.5 L267.0 2168.9 L269.0 2155.0 L271.0 2141.6 L273.0 2128.8 L275.0 2116.6 L277.0 2104.8 L279.0 2093.5 L281.0 2082.6 L283.0 2072.0 L285.0 2061.7 L287.0 2051.7 L289.0 2041.8 L291.0 2032.0 L293.0 2022.3 L295.0 2012.6 L297.0 2003.3 L299.0 1994.3 L301.0 1985.5 L303.0 1976.8 L305.0 1968.2 L307.0 1959.6 L309.0 1950.9 L311.0 1942.1 L313.0 1933.0 L315.0 1923.6 L317.0 1913.8 L319.0 1903.1 L321.0 1891.5 L323.0 1880.0 L325.0 1869.5 L327.0 1860.5 L329.0 1852.4 L331.0 1844.9 L333.0 1837.7 L335.0 1830.9 L337.0 1824.4 L339.0 1817.9 L341.0 1811.4 L343.0 1804.9 L345.0 1798.1 L347.0 1791.1 L349.0 1783.9 L351.0 1776.6 L353.1 1769.4 L355.1 1762.2 L357.1 1755.2 L359.1 1748.5 L361.1 1742.1 L363.1 1736.2 L365.1 1730.8 L367.1 1726.0 L369.1 1721.7 L371.1 1717.7 L373.1 1713.8 L375.1 1710.2 L377.1 1706.7 L379.1 1703.3 L381.1 1700.1 L383.1 1697.0 L385.1 1694.0 L387.1 1691.1 L389.1 1688.3 L391.1 1685.6 L393.1 1682.9 L395.1 1680.2 L397.1 1677.6 L399.1 1675.0 L401.1 1672.4 L403.1 1669.7 L405.1 1667.0 L407.1 1664.3 L409.1 1661.5 L411.1 1658.7 L413.1 1655.8 L415.1 1652.9 L417.1 1650.0 L419.1 1647.2 L421.1 1644.4 L423.1 1641.6 L425.1 1639.0 L427.1 1636.4 L429.1 1633.9 L431.1 1631.5 L433.1 1629.2 L435.1 1627.1 L437.1 1625.1 L439.1 1623.1 L441.1 1621.2 L443.1 1619.4 L445.1 1617.6 L447.1 1615.9 L449.1 1614.2 L451.1 1612.6 L453.1 1611.0 L455.1 1609.4 L457.1 1607.9 L459.1 1606.4 L461.1 1604.9 L463.1 1603.4 L465.1 1602.0 L467.1 1600.6 L469.1 1599.2 L471.1 1597.9 L473.1 1596.6 L475.1 1595.2 L477.1 1593.9 L479.1 1592.7 L481.1 1591.4 L483.1 1590.2 L485.1 1589.0 L487.1 1587.8 L489.1 1586.7 L491.1 1585.6 L493.1 1584.5 L495.1 1583.5 L497.1 1582.4 L499.1 1581.4 L501.1 1580.5 L503.1 1579.5 L505.1 1578.6 L507.1 1577.7 L509.1 1576.8 L511.1 1575.9 L513.1 1575.0 L515.1 1574.2 L517.1 1573.3 L519.1 1572.5 L521.1 1571.7 L523.1 1571.0 L525.1 1570.3 L527.1 1569.6 L529.1 1568.9 L531.1 1568.3 L533.1 1567.7 L535.1 1567.1 L537.1 1566.5 L539.1 1566.0 L541.1 1565.4 L543.1 1564.9 L545.1 1564.4 L547.1 1563.9 L549.1 1563.4 L551.1 1563.0 L553.1 1562.5 L555.1 1562.1 L557.1 1561.6 L559.1 1561.2 L561.1 1560.8 L563.1 1560.3 L565.1 1559.9 L567.1 1559.5 L569.1 1559.1 L571.1 1558.6 L573.1 1558.2 L575.1 1557.8 L577.1 1557.4 L579.1 1557.0 L581.1 1556.6 L583.1 1556.2 L585.1 1555.8 L587.1 1555.4 L589.1 1555.0 L591.1 1554.6 L593.1 1554.2 L595.1 1553.9 L597.1 1553.5 L599.1 1553.2 L601.1 1552.8 L603.1 1552.4 L605.1 1552.1 L607.1 1551.7 L609.1 1551.4 L611.1 1551.0 L613.1 1550.7 L615.1 1550.4 L617.1 1550.0 L619.1 1549.7 L621.2 1549.3 L623.2 1549.0 L625.2 1548.6 L627.2 1548.3 L629.2 1548.0 L631.2 1547.7 L633.2 1547.3 L635.2 1547.0 L637.2 1546.7 L639.2 1546.4 L641.2 1546.0 L643.2 1545.7 L645.2 1545.4 L647.2 1545.1 L649.2 1544.8 L651.2 1544.5 L653.2 1544.2 L655.2 1544.0 L657.2 1543.7 L659.2 1543.4 L661.2 1543.1 L663.2 1542.9 L665.2 1542.6 L667.2 1542.4 L669.2 1542.1 L671.2 1541.9 L673.2 1541.6 L675.2 1541.4 L677.2 1541.2 L679.2 1540.9 L681.2 1540.7 L683.2 1540.5 L685.2 1540.3 L687.2 1540.1 L689.2 1539.8 L691.2 1539.6 L693.2 1539.4 L695.2 1539.2 L697.2 1539.0 L699.2 1538.8 L701.2 1538.6 L703.2 1538.4 L705.2 1538.3 L707.2 1538.1 L709.2 1537.9 L711.2 1537.7 L713.2 1537.5 L715.2 1537.3 L717.2 1537.1 L719.2 1536.9 L721.2 1536.8 L723.2 1536.6 L725.2 1536.4 L727.2 1536.2 L729.2 1536.0 L731.2 1535.8 L733.2 1535.6 L735.2 1535.5 L737.2 1535.3 L739.2 1535.1 L741.2 1534.9 L743.2 1534.7 L745.2 1534.5 L747.2 1534.3 L749.2 1534.1 L751.2 1533.9 L753.2 1533.7 L755.2 1533.5 L757.2 1533.3 L759.2 1533.1 L761.2 1532.9 L763.2 1532.7 L765.2 1532.5 L767.2 1532.3 L769.2 1532.1 L771.2 1531.9 L773.2 1531.7 L775.2 1531.5 L777.2 1531.3 L779.2 1531.1 L781.2 1530.9 L783.2 1530.7 L785.2 1530.5 L787.2 1530.3 L789.2 1530.1 L791.2 1529.9 L793.2 1529.7 L795.2 1529.6 L797.2 1529.4 L799.2 1529.2 L801.2 1529.0 L803.2 1528.8 L805.2 1528.6 L807.2 1528.4 L809.2 1528.2 L811.2 1528.1 L813.2 1527.9 L815.2 1527.7 L817.2 1527.5 L819.2 1527.3 L821.2 1527.2 L823.2 1527.0 L825.2 1526.8 L827.2 1526.7 L829.2 1526.5 L831.2 1526.3 L833.2 1526.2 L835.2 1526.0 L837.2 1525.9 L839.2 1525.7 L841.2 1525.6 L843.2 1525.4 L845.2 1525.3 L847.2 1525.1 L849.2 1525.0 L851.2 1524.8 L853.2 1524.7 L855.2 1524.6 L857.2 1524.4 L859.2 1524.3 L861.2 1524.2 L863.2 1524.1 L865.2 1523.9 L867.2 1523.8 L869.2 1523.7 L871.2 1523.5 L873.2 1523.4 L875.2 1523.3 L877.2 1523.2 L879.2 1523.1 L881.2 1522.9 L883.2 1522.8 L885.2 1522.7 L887.2 1522.6 L889.2 1522.5 L891.3 1522.3 L893.3 1522.2 L895.3 1522.1 L897.3 1522.0 L899.3 1521.9 L901.3 1521.8 L903.3 1521.7 L905.3 1521.6 L907.3 1521.5 L909.3 1521.3 L911.3 1521.2 L913.3 1521.1 L915.3 1521.0 L917.3 1520.9 L919.3 1520.8 L921.3 1520.7 L923.3 1520.6 L925.3 1520.5 L927.3 1520.4 L929.3 1520.3 L931.3 1520.2 L933.3 1520.1 L935.3 1520.0 L937.3 1520.0 L939.3 1519.9 L941.3 1519.8 L943.3 1519.7 L945.3 1519.6 L947.3 1519.5 L949.3 1519.4 L951.3 1519.3 L953.3 1519.2 L955.3 1519.2 L957.3 1519.1 L959.3 1519.0 L961.3 1518.9 L963.3 1518.8 L965.3 1518.7 L967.3 1518.7 L969.3 1518.6 L971.3 1518.5 L973.3 1518.4 L975.3 1518.3 L977.3 1518.3 L979.3 1518.2 L981.3 1518.1 L983.3 1518.0 L985.3 1518.0 L987.3 1517.9 L989.3 1517.8 L991.3 1517.7 L993.3 1517.7 L995.3 1517.6 L997.3 1517.5 L999.3 1517.5 L1001.3 1517.4 L1003.3 1517.3 L1005.3 1517.3 L1007.3 1517.2 L1009.3 1517.1 L1011.3 1517.1 L1013.3 1517.0 L1015.3 1516.9 L1017.3 1516.9 L1019.3 1516.8 L1021.3 1516.7 L1023.3 1516.7 L1025.3 1516.6 L1027.3 1516.6 L1029.3 1516.5 L1031.3 1516.4 L1033.3 1516.4 L1035.3 1516.3 L1037.3 1516.3 L1039.3 1516.2 L1041.3 1516.2 L1043.3 1516.1 L1045.3 1516.0 L1047.3 1516.0 L1049.3 1515.9 L1051.3 1515.9 L1053.3 1515.8 L1055.3 1515.8 L1057.3 1515.7 L1059.3 1515.7 L1061.3 1515.6 L1063.3 1515.6 L1065.3 1515.5 L1067.3 1515.5 L1069.3 1515.4 L1071.3 1515.4 L1073.3 1515.3 L1075.3 1515.3 L1077.3 1515.2 L1079.3 1515.2 L1081.3 1515.1 L1083.3 1515.1 L1085.3 1515.0 L1087.3 1515.0 L1089.3 1514.9 L1091.3 1514.9 L1093.3 1514.8 L1095.3 1514.8 L1097.3 1514.7 L1099.3 1514.7 L1101.3 1514.6 L1103.3 1514.6 L1105.3 1514.5 L1107.3 1514.5 L1109.3 1514.4 L1111.3 1514.4 L1113.3 1514.3 L1115.3 1514.3 L1117.3 1514.3 L1119.3 1514.2 L1121.3 1514.2 L1123.3 1514.1 L1125.3 1514.1 L1127.3 1514.0 L1129.3 1514.0 L1131.3 1513.9 L1133.3 1513.9 L1135.3 1513.8 L1137.3 1513.8 L1139.3 1513.7 L1141.3 1513.7 L1143.3 1513.7 L1145.3 1513.6 L1147.3 1513.6 L1149.3 1513.5 L1151.3 1513.5 L1153.3 1513.4 L1155.3 1513.4 L1157.3 1513.4 L1159.3 1513.3 L1161.4 1513.3 L1163.4 1513.2 L1165.4 1513.2 L1167.4 1513.1 L1169.4 1513.1 L1171.4 1513.1 L1173.4 1513.0 L1175.4 1513.0 L1177.4 1512.9 L1179.4 1512.9 L1181.4 1512.9 L1183.4 1512.8 L1185.4 1512.8 L1187.4 1512.7 L1189.4 1512.7 L1191.4 1512.7 L1193.4 1512.6 L1195.4 1512.6 L1197.4 1512.6 L1199.4 1512.5 L1201.4 1512.5 L1203.4 1512.4 L1205.4 1512.4 L1207.4 1512.4 L1209.4 1512.3 L1211.4 1512.3 L1213.4 1512.3 L1215.4 1512.2 L1217.4 1512.2 L1219.4 1512.2 L1221.4 1512.1 L1223.4 1512.1 L1225.4 1512.1 L1227.4 1512.0 L1229.4 1512.0 L1231.4 1512.0 L1233.4 1511.9 L1235.4 1511.9 L1237.4 1511.9 L1239.4 1511.8 L1241.4 1511.8 L1243.4 1511.8 L1245.4 1511.7 L1247.4 1511.7 L1249.4 1511.7 L1251.4 1511.6 L1253.4 1511.6 L1255.4 1511.6 L1257.4 1511.5 L1259.4 1511.5 L1261.4 1511.5 L1263.4 1511.5 L1265.4 1511.4 L1267.4 1511.4 L1269.4 1511.4 L1271.4 1511.3 L1273.4 1511.3 L1275.4 1511.3 L1277.4 1511.3 L1279.4 1511.2 L1281.4 1511.2 L1283.4 1511.2 L1285.4 1511.2 L1287.4 1511.1 L1289.4 1511.1 L1291.4 1511.1 L1293.4 1511.1 L1295.4 1511.1 L1297.4 1511.0 L1299.4 1511.0 L1301.4 1511.0 L1303.4 1511.0 L1305.4 1510.9 L1307.4 1510.9 L1309.4 1510.9 L1311.4 1510.9 L1313.4 1510.9 L1315.4 1510.8 L1317.4 1510.8 L1319.4 1510.8 L1321.4 1510.8 L1323.4 1510.7 L1325.4 1510.7 L1327.4 1510.7 L1329.4 1510.7 L1331.4 1510.7 L1333.4 1510.6 L1335.4 1510.6 L1337.4 1510.6 L1339.4 1510.6 L1341.4 1510.6 L1343.4 1510.5 L1345.4 1510.5 L1347.4 1510.5 L1349.4 1510.5 L1351.4 1510.4 L1353.4 1510.4 L1355.4 1510.4 L1357.4 1510.4 L1359.4 1510.4 L1361.4 1510.3 L1363.4 1510.3 L1365.4 1510.3 L1367.4 1510.3 L1369.4 1510.3 L1371.4 1510.2 L1373.4 1510.2 L1375.4 1510.2 L1377.4 1510.2 L1379.4 1510.2 L1381.4 1510.1 L1383.4 1510.1 L1385.4 1510.1 L1387.4 1510.1 L1389.4 1510.1 L1391.4 1510.0 L1393.4 1510.0 L1395.4 1510.0 L1397.4 1510.0 L1399.4 1510.0 L1401.4 1510.0 L1403.4 1509.9 L1405.4 1509.9 L1407.4 1509.9 L1409.4 1509.9 L1411.4 1509.9 L1413.4 1509.8 L1415.4 1509.8 L1417.4 1509.8 L1419.4 1509.8 L1421.4 1509.8 L1423.4 1509.8 L1425.4 1509.7 L1427.4 1509.7 L1429.5 1509.7 L1431.5 1509.7 L1433.5 1509.7 L1435.5 1509.7 L1437.5 1509.6 L1439.5 1509.6 L1441.5 1509.6 L1443.5 1509.6 L1445.5 1509.6 L1447.5 1509.6 L1449.5 1509.5 L1451.5 1509.5 L1453.5 1509.5 L1455.5 1509.5 L1457.5 1509.5 L1459.5 1509.5 L1461.5 1509.5 L1463.5 1509.4 L1465.5 1509.4 L1467.5 1509.4 L1469.5 1509.4 L1471.5 1509.4 L1473.5 1509.4 L1475.5 1509.4 L1477.5 1509.3 L1479.5 1509.3 L1481.5 1509.3 L1483.5 1509.3 L1485.5 1509.3 L1487.5 1509.3 L1489.5 1509.3 L1491.5 1509.3 L1493.5 1509.3 L1495.5 1509.2 L1497.5 1509.2 L1499.5 1509.2 L1501.5 1509.2 L1503.5 1509.2 L1505.5 1509.2 L1507.5 1509.2 L1509.5 1509.2 L1511.5 1509.2 L1513.5 1509.1 L1515.5 1509.1 L1517.5 1509.1 L1519.5 1509.1 L1521.5 1509.1 L1523.5 1509.1 L1525.5 1509.1 L1527.5 1509.1 L1529.5 1509.1 L1531.5 1509.1 L1533.5 1509.1 L1535.5 1509.1 L1537.5 1509.1 L1539.5 1509.1 L1541.5 1509.0 L1543.5 1509.0 L1545.5 1509.0 L1547.5 1509.0 L1549.5 1509.0 L1551.5 1509.0 L1553.5 1509.0 L1555.5 1509.0 L1557.5 1509.0 L1559.5 1509.0 L1561.5 1509.0 L1563.5 1509.0" stroke="#0000ff" stroke-width="14"/>
<path d="M189.5 2544.5 L217.0 2515.0 L219.0 2503.6 L221.0 2492.2 L223.0 2480.8 L225.0 2469.3 L227.0 2457.9 L229.0 2446.4 L231.0 2435.0 L233.0 2423.8 L235.0 2412.9 L237.0 2402.1 L239.0 2391.2 L241.0 2380.0 L243.0 2368.4 L245.0 2356.2 L247.0 2343.3 L249.0 2329.4 L251.0 2314.5 L253.0 2298.7 L255.0 2281.9 L257.0 2264.4 L259.0 2244.7 L261.0 2225.4 L263.0 2208.5 L265.0 2192.4 L267.0 2177.0 L269.0 2162.5 L271.0 2148.8 L273.0 2135.9 L275.0 2123.9 L277.0 2112.5 L279.0 2101.8 L281.0 2091.5 L283.0 2081.7 L285.0 2072.2 L287.0 2063.1 L289.0 2054.2 L291.0 2045.4 L293.0 2036.8 L295.0 2028.3 L297.0 2019.7 L299.0 2011.2 L301.0 2003.0 L303.0 1994.9 L305.0 1987.0 L307.0 1979.2 L309.0 1971.5 L311.0 1963.9 L313.0 1956.3 L315.0 1948.7 L317.0 1941.1 L319.0 1933.5 L321.0 1925.7 L323.0 1917.8 L325.0 1909.8 L327.0 1901.4 L329.0 1892.8 L331.0 1884.4 L333.0 1876.2 L335.0 1868.4 L337.0 1861.4 L339.0 1854.5 L341.0 1847.8 L343.0 1841.4 L345.0 1835.1 L347.0 1829.0 L349.0 1823.1 L351.0 1817.4 L353.1 1811.9 L355.1 1806.7 L357.1 1801.6 L359.1 1796.8 L361.1 1792.2 L363.1 1787.8 L365.1 1783.5 L367.1 1779.4 L369.1 1775.5 L371.1 1771.6 L373.1 1767.8 L375.1 1764.1 L377.1 1760.4 L379.1 1756.7 L381.1 1753.0 L383.1 1749.3 L385.1 1745.5 L387.1 1741.6 L389.1 1737.6 L391.1 1733.5 L393.1 1729.3 L395.1 1724.9 L397.1 1720.1 L399.1 1715.0 L401.1 1709.7 L403.1 1704.4 L405.1 1699.4 L407.1 1694.8 L409.1 1690.6 L411.1 1686.7 L413.1 1682.9 L415.1 1679.2 L417.1 1675.6 L419.1 1672.1 L421.1 1668.8 L423.1 1665.6 L425.1 1662.5 L427.1 1659.5 L429.1 1656.6 L431.1 1653.9 L433.1 1651.3 L435.1 1648.8 L437.1 1646.5 L439.1 1644.3 L441.1 1642.2 L443.1 1640.1 L445.1 1638.1 L447.1 1636.1 L449.1 1634.1 L451.1 1632.1 L453.1 1630.0 L455.1 1627.9 L457.1 1625.8 L459.1 1623.6 L461.1 1621.3 L463.1 1619.1 L465.1 1616.9 L467.1 1614.6 L469.1 1612.3 L471.1 1610.1 L473.1 1607.8 L475.1 1605.6 L477.1 1603.4 L479.1 1601.3 L481.1 1599.1 L483.1 1597.0 L485.1 1595.0 L487.1 1593.1 L489.1 1591.2 L491.1 1589.3 L493.1 1587.6 L495.1 1585.9 L497.1 1584.4 L499.1 1582.9 L501.1 1581.5 L503.1 1580.2 L505.1 1578.9 L507.1 1577.6 L509.1 1576.4 L511.1 1575.2 L513.1 1574.1 L515.1 1572.9 L517.1 1571.9 L519.1 1570.9 L521.1 1569.9 L523.1 1568.9 L525.1 1568.0 L527.1 1567.2 L529.1 1566.3 L531.1 1565.6 L533.1 1564.8 L535.1 1564.1 L537.1 1563.4 L539.1 1562.8 L541.1 1562.1 L543.1 1561.5 L545.1 1560.9 L547.1 1560.3 L549.1 1559.8 L551.1 1559.2 L553.1 1558.7 L555.1 1558.2 L557.1 1557.6 L559.1 1557.1 L561.1 1556.6 L563.1 1556.0 L565.1 1555.5 L567.1 1555.0 L569.1 1554.4 L571.1 1553.9 L573.1 1553.3 L575.1 1552.7 L577.1 1552.1 L579.1 1551.5 L581.1 1550.9 L583.1 1550.2 L585.1 1549.6 L587.1 1549.0 L589.1 1548.4 L591.1 1547.8 L593.1 1547.2 L595.1 1546.7 L597.1 1546.2 L599.1 1545.7 L601.1 1545.3 L603.1 1544.8 L605.1 1544.4 L607.1 1544.0 L609.1 1543.6 L611.1 1543.2 L613.1 1542.8 L615.1 1542.4 L617.1 1542.1 L619.1 1541.7 L621.2 1541.4 L623.2 1541.0 L625.2 1540.7 L627.2 1540.3 L629.2 1540.0 L631.2 1539.7 L633.2 1539.3 L635.2 1539.0 L637.2 1538.7 L639.2 1538.4 L641.2 1538.1 L643.2 1537.8 L645.2 1537.5 L647.2 1537.2 L649.2 1537.0 L651.2 1536.7 L653.2 1536.4 L655.2 1536.1 L657.2 1535.9 L659.2 1535.6 L661.2 1535.3 L663.2 1535.1 L665.2 1534.8 L667.2 1534.6 L669.2 1534.3 L671.2 1534.1 L673.2 1533.8 L675.2 1533.6 L677.2 1533.3 L679.2 1533.1 L681.2 1532.9 L683.2 1532.6 L685.2 1532.4 L687.2 1532.2 L689.2 1532.0 L691.2 1531.7 L693.2 1531.5 L695.2 1531.3 L697.2 1531.1 L699.2 1530.9 L701.2 1530.7 L703.2 1530.5 L705.2 1530.3 L707.2 1530.1 L709.2 1529.9 L711.2 1529.7 L713.2 1529.5 L715.2 1529.3 L717.2 1529.1 L719.2 1528.9 L721.2 1528.7 L723.2 1528.6 L725.2 1528.4 L727.2 1528.2 L729.2 1528.0 L731.2 1527.8 L733.2 1527.6 L735.2 1527.4 L737.2 1527.3 L739.2 1527.1 L741.2 1526.9 L743.2 1526.7 L745.2 1526.5 L747.2 1526.3 L749.2 1526.1 L751.2 1526.0 L753.2 1525.8 L755.2 1525.6 L757.2 1525.4 L759.2 1525.2 L761.2 1525.0 L763.2 1524.9 L765.2 1524.7 L767.2 1524.5 L769.2 1524.3 L771.2 1524.1 L773.2 1523.9 L775.2 1523.8 L777.2 1523.6 L779.2 1523.4 L781.2 1523.2 L783.2 1523.0 L785.2 1522.9 L787.2 1522.7 L789.2 1522.5 L791.2 1522.3 L793.2 1522.2 L795.2 1522.0 L797.2 1521.8 L799.2 1521.6 L801.2 1521.5 L803.2 1521.3 L805.2 1521.1 L807.2 1521.0 L809.2 1520.8 L811.2 1520.7 L813.2 1520.5 L815.2 1520.3 L817.2 1520.2 L819.2 1520.0 L821.2 1519.9 L823.2 1519.7 L825.2 1519.6 L827.2 1519.4 L829.2 1519.3 L831.2 1519.1 L833.2 1519.0 L835.2 1518.9 L837.2 1518.7 L839.2 1518.6 L841.2 1518.5 L843.2 1518.3 L845.2 1518.2 L847.2 1518.1 L849.2 1518.0 L851.2 1517.9 L853.2 1517.8 L855.2 1517.6 L857.2 1517.5 L859.2 1517.4 L861.2 1517.3 L863.2 1517.2 L865.2 1517.1 L867.2 1517.0 L869.2 1516.9 L871.2 1516.8 L873.2 1516.7 L875.2 1516.6 L877.2 1516.5 L879.2 1516.4 L881.2 1516.3 L883.2 1516.2 L885.2 1516.2 L887.2 1516.1 L889.2 1516.0 L891.3 1515.9 L893.3 1515.8 L895.3 1515.7 L897.3 1515.6 L899.3 1515.6 L901.3 1515.5 L903.3 1515.4 L905.3 1515.3 L907.3 1515.2 L909.3 1515.1 L911.3 1515.1 L913.3 1515.0 L915.3 1514.9 L917.3 1514.8 L919.3 1514.7 L921.3 1514.6 L923.3 1514.6 L925.3 1514.5 L927.3 1514.4 L929.3 1514.3 L931.3 1514.2 L933.3 1514.1 L935.3 1514.1 L937.3 1514.0 L939.3 1513.9 L941.3 1513.8 L943.3 1513.7 L945.3 1513.6 L947.3 1513.5 L949.3 1513.5 L951.3 1513.4 L953.3 1513.3 L955.3 1513.2 L957.3 1513.1 L959.3 1513.0 L961.3 1512.9 L963.3 1512.8 L965.3 1512.7 L967.3 1512.6 L969.3 1512.5 L971.3 1512.4 L973.3 1512.3 L975.3 1512.2 L977.3 1512.1 L979.3 1512.0 L981.3 1511.9 L983.3 1511.7 L985.3 1511.6 L987.3 1511.5 L989.3 1511.4 L991.3 1511.3 L993.3 1511.2 L995.3 1511.1 L997.3 1511.0 L999.3 1510.9 L1001.3 1510.8 L1003.3 1510.7 L1005.3 1510.6 L1007.3 1510.4 L1009.3 1510.3 L1011.3 1510.2 L1013.3 1510.1 L1015.3 1510.0 L1017.3 1509.9 L1019.3 1509.8 L1021.3 1509.7 L1023.3 1509.6 L1025.3 1509.5 L1027.3 1509.4 L1029.3 1509.4 L1031.3 1509.3 L1033.3 1509.2 L1035.3 1509.1 L1037.3 1509.0 L1039.3 1508.9 L1041.3 1508.8 L1043.3 1508.8 L1045.3 1508.7 L1047.3 1508.6 L1049.3 1508.5 L1051.3 1508.5 L1053.3 1508.4 L1055.3 1508.3 L1057.3 1508.2 L1059.3 1508.1 L1061.3 1508.1 L1063.3 1508.0 L1065.3 1507.9 L1067.3 1507.8 L1069.3 1507.7 L1071.3 1507.7 L1073.3 1507.6 L1075.3 1507.5 L1077.3 1507.4 L1079.3 1507.3 L1081.3 1507.3 L1083.3 1507.2 L1085.3 1507.1 L1087.3 1507.0 L1089.3 1507.0 L1091.3 1506.9 L1093.3 1506.8 L1095.3 1506.7 L1097.3 1506.7 L1099.3 1506.6 L1101.3 1506.5 L1103.3 1506.4 L1105.3 1506.3 L1107.3 1506.3 L1109.3 1506.2 L1111.3 1506.1 L1113.3 1506.0 L1115.3 1506.0 L1117.3 1505.9 L1119.3 1505.8 L1121.3 1505.8 L1123.3 1505.7 L1125.3 1505.6 L1127.3 1505.5 L1129.3 1505.5 L1131.3 1505.4 L1133.3 1505.3 L1135.3 1505.2 L1137.3 1505.2 L1139.3 1505.1 L1141.3 1505.0 L1143.3 1505.0 L1145.3 1504.9 L1147.3 1504.8 L1149.3 1504.7 L1151.3 1504.7 L1153.3 1504.6 L1155.3 1504.5 L1157.3 1504.5 L1159.3 1504.4 L1161.4 1504.3 L1163.4 1504.3 L1165.4 1504.2 L1167.4 1504.1 L1169.4 1504.1 L1171.4 1504.0 L1173.4 1503.9 L1175.4 1503.9 L1177.4 1503.8 L1179.4 1503.8 L1181.4 1503.7 L1183.4 1503.6 L1185.4 1503.6 L1187.4 1503.5 L1189.4 1503.4 L1191.4 1503.4 L1193.4 1503.3 L1195.4 1503.3 L1197.4 1503.2 L1199.4 1503.1 L1201.4 1503.1 L1203.4 1503.0 L1205.4 1503.0 L1207.4 1502.9 L1209.4 1502.9 L1211.4 1502.8 L1213.4 1502.8 L1215.4 1502.7 L1217.4 1502.6 L1219.4 1502.6 L1221.4 1502.5 L1223.4 1502.5 L1225.4 1502.4 L1227.4 1502.4 L1229.4 1502.3 L1231.4 1502.3 L1233.4 1502.2 L1235.4 1502.2 L1237.4 1502.1 L1239.4 1502.1 L1241.4 1502.0 L1243.4 1502.0 L1245.4 1502.0 L1247.4 1501.9 L1249.4 1501.9 L1251.4 1501.8 L1253.4 1501.8 L1255.4 1501.7 L1257.4 1501.7 L1259.4 1501.7 L1261.4 1501.6 L1263.4 1501.6 L1265.4 1501.5 L1267.4 1501.5 L1269.4 1501.5 L1271.4 1501.4 L1273.4 1501.4 L1275.4 1501.4 L1277.4 1501.3 L1279.4 1501.3 L1281.4 1501.3 L1283.4 1501.2 L1285.4 1501.2 L1287.4 1501.2 L1289.4 1501.1 L1291.4 1501.1 L1293.4 1501.1 L1295.4 1501.1 L1297.4 1501.0 L1299.4 1501.0 L1301.4 1501.0 L1303.4 1501.0 L1305.4 1500.9 L1307.4 1500.9 L1309.4 1500.9 L1311.4 1500.9 L1313.4 1500.8 L1315.4 1500.8 L1317.4 1500.8 L1319.4 1500.8 L1321.4 1500.7 L1323.4 1500.7 L1325.4 1500.7 L1327.4 1500.7 L1329.4 1500.6 L1331.4 1500.6 L1333.4 1500.6 L1335.4 1500.6 L1337.4 1500.6 L1339.4 1500.5 L1341.4 1500.5 L1343.4 1500.5 L1345.4 1500.5 L1347.4 1500.4 L1349.4 1500.4 L1351.4 1500.4 L1353.4 1500.4 L1355.4 1500.4 L1357.4 1500.3 L1359.4 1500.3 L1361.4 1500.3 L1363.4 1500.3 L1365.4 1500.2 L1367.4 1500.2 L1369.4 1500.2 L1371.4 1500.2 L1373.4 1500.2 L1375.4 1500.1 L1377.4 1500.1 L1379.4 1500.1 L1381.4 1500.1 L1383.4 1500.1 L1385.4 1500.0 L1387.4 1500.0 L1389.4 1500.0 L1391.4 1500.0 L1393.4 1500.0 L1395.4 1499.9 L1397.4 1499.9 L1399.4 1499.9 L1401.4 1499.9 L1403.4 1499.9 L1405.4 1499.8 L1407.4 1499.8 L1409.4 1499.8 L1411.4 1499.8 L1413.4 1499.8 L1415.4 1499.7 L1417.4 1499.7 L1419.4 1499.7 L1421.4 1499.7 L1423.4 1499.7 L1425.4 1499.7 L1427.4 1499.6 L1429.5 1499.6 L1431.5 1499.6 L1433.5 1499.6 L1435.5 1499.6 L1437.5 1499.6 L1439.5 1499.5 L1441.5 1499.5 L1443.5 1499.5 L1445.5 1499.5 L1447.5 1499.5 L1449.5 1499.5 L1451.5 1499.4 L1453.5 1499.4 L1455.5 1499.4 L1457.5 1499.4 L1459.5 1499.4 L1461.5 1499.4 L1463.5 1499.4 L1465.5 1499.3 L1467.5 1499.3 L1469.5 1499.3 L1471.5 1499.3 L1473.5 1499.3 L1475.5 1499.3 L1477.5 1499.3 L1479.5 1499.3 L1481.5 1499.2 L1483.5 1499.2 L1485.5 1499.2 L1487.5 1499.2 L1489.5 1499.2 L1491.5 1499.2 L1493.5 1499.2 L1495.5 1499.2 L1497.5 1499.2 L1499.5 1499.2 L1501.5 1499.1 L1503.5 1499.1 L1505.5 1499.1 L1507.5 1499.1 L1509.5 1499.1 L1511.5 1499.1 L1513.5 1499.1 L1515.5 1499.1 L1517.5 1499.1 L1519.5 1499.1 L1521.5 1499.1 L1523.5 1499.1 L1525.5 1499.1 L1527.5 1499.1 L1529.5 1499.0 L1531.5 1499.0 L1533.5 1499.0 L1535.5 1499.0 L1537.5 1499.0 L1539.5 1499.0 L1541.5 1499.0 L1543.5 1499.0 L1545.5 1499.0 L1547.5 1499.0 L1549.5 1499.0 L1551.5 1499.0 L1553.5 1499.0 L1555.5 1499.0 L1557.5 1499.0 L1559.5 1499.0 L1561.5 1499.0 L1563.5 1499.0" stroke="#008080" stroke-width="14"/>
<path d="M189.5 2544.5 L217.0 2515.0 L219.0 2502.3 L221.0 2489.8 L223.0 2477.3 L225.0 2465.0 L227.0 2452.8 L229.0 2440.8 L231.0 2429.0 L233.0 2417.8 L235.0 2406.9 L237.0 2396.1 L239.0 2385.2 L241.0 2374.0 L243.0 2362.3 L245.0 2349.8 L247.0 2336.5 L249.0 2322.1 L251.0 2306.7 L253.0 2290.4 L255.0 2273.3 L257.0 2255.1 L259.0 2234.4 L261.0 2216.9 L263.0 2200.5 L265.0 2185.0 L267.0 2170.3 L269.0 2156.3 L271.0 2142.9 L273.0 2130.1 L275.0 2117.8 L277.0 2106.0 L279.0 2094.6 L281.0 2083.7 L283.0 2073.1 L285.0 2062.8 L287.0 2052.8 L289.0 2043.0 L291.0 2033.3 L293.0 2023.7 L295.0 2014.1 L297.0 2005.0 L299.0 1996.2 L301.0 1987.6 L303.0 1979.2 L305.0 1970.9 L307.0 1962.7 L309.0 1954.3 L311.0 1945.8 L313.0 1937.1 L315.0 1928.1 L317.0 1918.7 L319.0 1908.6 L321.0 1897.4 L323.0 1885.7 L325.0 1874.5 L327.0 1864.8 L329.0 1856.5 L331.0 1848.7 L333.0 1841.5 L335.0 1834.6 L337.0 1828.0 L339.0 1821.6 L341.0 1815.3 L343.0 1809.0 L345.0 1802.5 L347.0 1795.8 L349.0 1788.9 L351.0 1781.9 L353.1 1774.9 L355.1 1767.9 L357.1 1761.0 L359.1 1754.2 L361.1 1747.8 L363.1 1741.6 L365.1 1735.9 L367.1 1730.7 L369.1 1726.0 L371.1 1721.7 L373.1 1717.7 L375.1 1713.9 L377.1 1710.2 L379.1 1706.6 L381.1 1703.2 L383.1 1699.9 L385.1 1696.8 L387.1 1693.7 L389.1 1690.8 L391.1 1687.9 L393.1 1685.1 L395.1 1682.3 L397.1 1679.7 L399.1 1677.0 L401.1 1674.4 L403.1 1671.8 L405.1 1669.3 L407.1 1666.7 L409.1 1664.1 L411.1 1661.5 L413.1 1658.9 L415.1 1656.3 L417.1 1653.7 L419.1 1651.2 L421.1 1648.8 L423.1 1646.3 L425.1 1644.0 L427.1 1641.7 L429.1 1639.5 L431.1 1637.5 L433.1 1635.5 L435.1 1633.7 L437.1 1631.9 L439.1 1630.2 L441.1 1628.5 L443.1 1626.9 L445.1 1625.4 L447.1 1623.9 L449.1 1622.4 L451.1 1621.0 L453.1 1619.6 L455.1 1618.2 L457.1 1616.9 L459.1 1615.6 L461.1 1614.3 L463.1 1613.0 L465.1 1611.8 L467.1 1610.6 L469.1 1609.3 L471.1 1608.1 L473.1 1606.9 L475.1 1605.7 L477.1 1604.5 L479.1 1603.4 L481.1 1602.2 L483.1 1601.1 L485.1 1600.0 L487.1 1598.9 L489.1 1597.9 L491.1 1596.9 L493.1 1595.9 L495.1 1595.0 L497.1 1594.2 L499.1 1593.3 L501.1 1592.6 L503.1 1591.9 L505.1 1591.2 L507.1 1590.5 L509.1 1589.9 L511.1 1589.2 L513.1 1588.6 L515.1 1588.1 L517.1 1587.5 L519.1 1586.9 L521.1 1586.4 L523.1 1585.9 L525.1 1585.3 L527.1 1584.8 L529.1 1584.2 L531.1 1583.7 L533.1 1583.2 L535.1 1582.6 L537.1 1582.1 L539.1 1581.6 L541.1 1581.1 L543.1 1580.6 L545.1 1580.1 L547.1 1579.6 L549.1 1579.2 L551.1 1578.7 L553.1 1578.2 L555.1 1577.7 L557.1 1577.2 L559.1 1576.8 L561.1 1576.3 L563.1 1575.8 L565.1 1575.3 L567.1 1574.8 L569.1 1574.3 L571.1 1573.8 L573.1 1573.3 L575.1 1572.8 L577.1 1572.2 L579.1 1571.6 L581.1 1571.0 L583.1 1570.4 L585.1 1569.8 L587.1 1569.2 L589.1 1568.6 L591.1 1568.0 L593.1 1567.5 L595.1 1567.0 L597.1 1566.5 L599.1 1566.1 L601.1 1565.7 L603.1 1565.3 L605.1 1565.0 L607.1 1564.6 L609.1 1564.3 L611.1 1564.0 L613.1 1563.7 L615.1 1563.4 L617.1 1563.1 L619.1 1562.8 L621.2 1562.5 L623.2 1562.2 L625.2 1562.0 L627.2 1561.7 L629.2 1561.5 L631.2 1561.2 L633.2 1561.0 L635.2 1560.7 L637.2 1560.5 L639.2 1560.3 L641.2 1560.0 L643.2 1559.8 L645.2 1559.6 L647.2 1559.4 L649.2 1559.2 L651.2 1559.0 L653.2 1558.7 L655.2 1558.5 L657.2 1558.3 L659.2 1558.1 L661.2 1557.9 L663.2 1557.7 L665.2 1557.5 L667.2 1557.3 L669.2 1557.1 L671.2 1556.9 L673.2 1556.7 L675.2 1556.5 L677.2 1556.3 L679.2 1556.1 L681.2 1555.9 L683.2 1555.7 L685.2 1555.5 L687.2 1555.3 L689.2 1555.1 L691.2 1554.9 L693.2 1554.7 L695.2 1554.6 L697.2 1554.4 L699.2 1554.2 L701.2 1554.0 L703.2 1553.8 L705.2 1553.7 L707.2 1553.5 L709.2 1553.3 L711.2 1553.2 L713.2 1553.0 L715.2 1552.8 L717.2 1552.7 L719.2 1552.5 L721.2 1552.3 L723.2 1552.2 L725.2 1552.0 L727.2 1551.8 L729.2 1551.7 L731.2 1551.5 L733.2 1551.3 L735.2 1551.2 L737.2 1551.0 L739.2 1550.9 L741.2 1550.7 L743.2 1550.5 L745.2 1550.4 L747.2 1550.2 L749.2 1550.1 L751.2 1549.9 L753.2 1549.8 L755.2 1549.6 L757.2 1549.5 L759.2 1549.3 L761.2 1549.2 L763.2 1549.0 L765.2 1548.9 L767.2 1548.7 L769.2 1548.6 L771.2 1548.4 L773.2 1548.3 L775.2 1548.1 L777.2 1548.0 L779.2 1547.8 L781.2 1547.7 L783.2 1547.5 L785.2 1547.4 L787.2 1547.2 L789.2 1547.1 L791.2 1547.0 L793.2 1546.8 L795.2 1546.7 L797.2 1546.5 L799.2 1546.4 L801.2 1546.3 L803.2 1546.1 L805.2 1546.0 L807.2 1545.8 L809.2 1545.7 L811.2 1545.6 L813.2 1545.4 L815.2 1545.3 L817.2 1545.2 L819.2 1545.0 L821.2 1544.9 L823.2 1544.7 L825.2 1544.6 L827.2 1544.5 L829.2 1544.3 L831.2 1544.2 L833.2 1544.1 L835.2 1543.9 L837.2 1543.8 L839.2 1543.7 L841.2 1543.5 L843.2 1543.4 L845.2 1543.3 L847.2 1543.1 L849.2 1543.0 L851.2 1542.9 L853.2 1542.7 L855.2 1542.6 L857.2 1542.5 L859.2 1542.3 L861.2 1542.2 L863.2 1542.1 L865.2 1542.0 L867.2 1541.8 L869.2 1541.7 L871.2 1541.6 L873.2 1541.5 L875.2 1541.4 L877.2 1541.3 L879.2 1541.1 L881.2 1541.0 L883.2 1540.9 L885.2 1540.8 L887.2 1540.7 L889.2 1540.6 L891.3 1540.5 L893.3 1540.3 L895.3 1540.2 L897.3 1540.1 L899.3 1540.0 L901.3 1539.9 L903.3 1539.8 L905.3 1539.7 L907.3 1539.5 L909.3 1539.4 L911.3 1539.3 L913.3 1539.2 L915.3 1539.1 L917.3 1538.9 L919.3 1538.8 L921.3 1538.7 L923.3 1538.6 L925.3 1538.5 L927.3 1538.3 L929.3 1538.2 L931.3 1538.1 L933.3 1537.9 L935.3 1537.8 L937.3 1537.7 L939.3 1537.5 L941.3 1537.4 L943.3 1537.2 L945.3 1537.1 L947.3 1536.9 L949.3 1536.8 L951.3 1536.6 L953.3 1536.5 L955.3 1536.3 L957.3 1536.1 L959.3 1536.0 L961.3 1535.8 L963.3 1535.6 L965.3 1535.4 L967.3 1535.2 L969.3 1535.0 L971.3 1534.8 L973.3 1534.5 L975.3 1534.3 L977.3 1534.0 L979.3 1533.8 L981.3 1533.5 L983.3 1533.2 L985.3 1532.9 L987.3 1532.7 L989.3 1532.4 L991.3 1532.1 L993.3 1531.8 L995.3 1531.5 L997.3 1531.2 L999.3 1531.0 L1001.3 1530.7 L1003.3 1530.4 L1005.3 1530.1 L1007.3 1529.8 L1009.3 1529.6 L1011.3 1529.3 L1013.3 1529.0 L1015.3 1528.8 L1017.3 1528.5 L1019.3 1528.3 L1021.3 1528.1 L1023.3 1527.8 L1025.3 1527.6 L1027.3 1527.4 L1029.3 1527.2 L1031.3 1527.0 L1033.3 1526.9 L1035.3 1526.7 L1037.3 1526.6 L1039.3 1526.4 L1041.3 1526.3 L1043.3 1526.2 L1045.3 1526.1 L1047.3 1526.0 L1049.3 1525.9 L1051.3 1525.8 L1053.3 1525.6 L1055.3 1525.5 L1057.3 1525.4 L1059.3 1525.3 L1061.3 1525.2 L1063.3 1525.1 L1065.3 1525.0 L1067.3 1524.9 L1069.3 1524.8 L1071.3 1524.7 L1073.3 1524.6 L1075.3 1524.5 L1077.3 1524.4 L1079.3 1524.3 L1081.3 1524.2 L1083.3 1524.1 L1085.3 1524.0 L1087.3 1523.9 L1089.3 1523.8 L1091.3 1523.7 L1093.3 1523.6 L1095.3 1523.5 L1097.3 1523.4 L1099.3 1523.3 L1101.3 1523.2 L1103.3 1523.1 L1105.3 1523.0 L1107.3 1523.0 L1109.3 1522.9 L1111.3 1522.8 L1113.3 1522.7 L1115.3 1522.6 L1117.3 1522.5 L1119.3 1522.4 L1121.3 1522.3 L1123.3 1522.3 L1125.3 1522.2 L1127.3 1522.1 L1129.3 1522.0 L1131.3 1521.9 L1133.3 1521.9 L1135.3 1521.8 L1137.3 1521.7 L1139.3 1521.6 L1141.3 1521.5 L1143.3 1521.5 L1145.3 1521.4 L1147.3 1521.3 L1149.3 1521.2 L1151.3 1521.2 L1153.3 1521.1 L1155.3 1521.0 L1157.3 1521.0 L1159.3 1520.9 L1161.4 1520.8 L1163.4 1520.7 L1165.4 1520.7 L1167.4 1520.6 L1169.4 1520.5 L1171.4 1520.5 L1173.4 1520.4 L1175.4 1520.3 L1177.4 1520.3 L1179.4 1520.2 L1181.4 1520.2 L1183.4 1520.1 L1185.4 1520.0 L1187.4 1520.0 L1189.4 1519.9 L1191.4 1519.9 L1193.4 1519.8 L1195.4 1519.7 L1197.4 1519.7 L1199.4 1519.6 L1201.4 1519.6 L1203.4 1519.5 L1205.4 1519.5 L1207.4 1519.4 L1209.4 1519.4 L1211.4 1519.3 L1213.4 1519.3 L1215.4 1519.2 L1217.4 1519.2 L1219.4 1519.1 L1221.4 1519.1 L1223.4 1519.0 L1225.4 1519.0 L1227.4 1518.9 L1229.4 1518.9 L1231.4 1518.8 L1233.4 1518.8 L1235.4 1518.7 L1237.4 1518.7 L1239.4 1518.7 L1241.4 1518.6 L1243.4 1518.6 L1245.4 1518.5 L1247.4 1518.5 L1249.4 1518.5 L1251.4 1518.4 L1253.4 1518.4 L1255.4 1518.3 L1257.4 1518.3 L1259.4 1518.3 L1261.4 1518.2 L1263.4 1518.2 L1265.4 1518.2 L1267.4 1518.1 L1269.4 1518.1 L1271.4 1518.1 L1273.4 1518.0 L1275.4 1518.0 L1277.4 1518.0 L1279.4 1518.0 L1281.4 1517.9 L1283.4 1517.9 L1285.4 1517.9 L1287.4 1517.8 L1289.4 1517.8 L1291.4 1517.8 L1293.4 1517.8 L1295.4 1517.8 L1297.4 1517.7 L1299.4 1517.7 L1301.4 1517.7 L1303.4 1517.7 L1305.4 1517.6 L1307.4 1517.6 L1309.4 1517.6 L1311.4 1517.6 L1313.4 1517.6 L1315.4 1517.5 L1317.4 1517.5 L1319.4 1517.5 L1321.4 1517.5 L1323.4 1517.5 L1325.4 1517.4 L1327.4 1517.4 L1329.4 1517.4 L1331.4 1517.4 L1333.4 1517.3 L1335.4 1517.3 L1337.4 1517.3 L1339.4 1517.3 L1341.4 1517.3 L1343.4 1517.2 L1345.4 1517.2 L1347.4 1517.2 L1349.4 1517.2 L1351.4 1517.2 L1353.4 1517.2 L1355.4 1517.1 L1357.4 1517.1 L1359.4 1517.1 L1361.4 1517.1 L1363.4 1517.1 L1365.4 1517.0 L1367.4 1517.0 L1369.4 1517.0 L1371.4 1517.0 L1373.4 1517.0 L1375.4 1516.9 L1377.4 1516.9 L1379.4 1516.9 L1381.4 1516.9 L1383.4 1516.9 L1385.4 1516.9 L1387.4 1516.8 L1389.4 1516.8 L1391.4 1516.8 L1393.4 1516.8 L1395.4 1516.8 L1397.4 1516.8 L1399.4 1516.7 L1401.4 1516.7 L1403.4 1516.7 L1405.4 1516.7 L1407.4 1516.7 L1409.4 1516.7 L1411.4 1516.6 L1413.4 1516.6 L1415.4 1516.6 L1417.4 1516.6 L1419.4 1516.6 L1421.4 1516.6 L1423.4 1516.6 L1425.4 1516.5 L1427.4 1516.5 L1429.5 1516.5 L1431.5 1516.5 L1433.5 1516.5 L1435.5 1516.5 L1437.5 1516.5 L1439.5 1516.4 L1441.5 1516.4 L1443.5 1516.4 L1445.5 1516.4 L1447.5 1516.4 L1449.5 1516.4 L1451.5 1516.4 L1453.5 1516.4 L1455.5 1516.3 L1457.5 1516.3 L1459.5 1516.3 L1461.5 1516.3 L1463.5 1516.3 L1465.5 1516.3 L1467.5 1516.3 L1469.5 1516.3 L1471.5 1516.3 L1473.5 1516.2 L1475.5 1516.2 L1477.5 1516.2 L1479.5 1516.2 L1481.5 1516.2 L1483.5 1516.2 L1485.5 1516.2 L1487.5 1516.2 L1489.5 1516.2 L1491.5 1516.2 L1493.5 1516.1 L1495.5 1516.1 L1497.5 1516.1 L1499.5 1516.1 L1501.5 1516.1 L1503.5 1516.1 L1505.5 1516.1 L1507.5 1516.1 L1509.5 1516.1 L1511.5 1516.1 L1513.5 1516.1 L1515.5 1516.1 L1517.5 1516.1 L1519.5 1516.1 L1521.5 1516.1 L1523.5 1516.0 L1525.5 1516.0 L1527.5 1516.0 L1529.5 1516.0 L1531.5 1516.0 L1533.5 1516.0 L1535.5 1516.0 L1537.5 1516.0 L1539.5 1516.0 L1541.5 1516.0 L1543.5 1516.0 L1545.5 1516.0 L1547.5 1516.0 L1549.5 1516.0 L1551.5 1516.0 L1553.5 1516.0 L1555.5 1516.0 L1557.5 1516.0 L1559.5 1516.0 L1561.5 1516.0 L1563.5 1516.0" stroke="#00ffff" stroke-width="14"/>
<path d="M189.5 2544.5 L217.0 2515.0 L219.0 2502.7 L221.0 2490.5 L223.0 2478.4 L225.0 2466.4 L227.0 2454.4 L229.0 2442.5 L231.0 2430.9 L233.0 2419.6 L235.0 2408.7 L237.0 2397.9 L239.0 2387.0 L241.0 2375.8 L243.0 2364.1 L245.0 2351.8 L247.0 2338.6 L249.0 2324.3 L251.0 2309.1 L253.0 2292.9 L255.0 2275.9 L257.0 2258.0 L259.0 2237.4 L261.0 2219.4 L263.0 2202.9 L265.0 2187.4 L267.0 2172.6 L269.0 2158.4 L271.0 2145.0 L273.0 2132.0 L275.0 2119.6 L277.0 2107.6 L279.0 2096.0 L281.0 2084.9 L283.0 2074.1 L285.0 2063.6 L287.0 2053.3 L289.0 2043.3 L291.0 2033.5 L293.0 2023.7 L295.0 2014.1 L297.0 2004.8 L299.0 1995.9 L301.0 1987.2 L303.0 1978.7 L305.0 1970.3 L307.0 1961.9 L309.0 1953.5 L311.0 1944.9 L313.0 1936.2 L315.0 1927.1 L317.0 1917.7 L319.0 1907.7 L321.0 1896.6 L323.0 1885.2 L325.0 1874.3 L327.0 1864.8 L329.0 1856.5 L331.0 1848.7 L333.0 1841.2 L335.0 1834.2 L337.0 1827.4 L339.0 1821.0 L341.0 1814.6 L343.0 1808.5 L345.0 1802.4 L347.0 1796.3 L349.0 1790.3 L351.0 1784.3 L353.1 1778.3 L355.1 1772.5 L357.1 1766.7 L359.1 1761.1 L361.1 1755.7 L363.1 1750.4 L365.1 1745.2 L367.1 1740.3 L369.1 1735.6 L371.1 1731.1 L373.1 1726.9 L375.1 1722.9 L377.1 1719.1 L379.1 1715.4 L381.1 1711.7 L383.1 1708.2 L385.1 1704.8 L387.1 1701.4 L389.1 1698.2 L391.1 1695.0 L393.1 1691.9 L395.1 1688.9 L397.1 1686.0 L399.1 1683.1 L401.1 1680.3 L403.1 1677.6 L405.1 1674.9 L407.1 1672.2 L409.1 1669.6 L411.1 1667.1 L413.1 1664.6 L415.1 1662.1 L417.1 1659.7 L419.1 1657.4 L421.1 1655.1 L423.1 1652.9 L425.1 1650.8 L427.1 1648.7 L429.1 1646.6 L431.1 1644.7 L433.1 1642.7 L435.1 1640.8 L437.1 1638.9 L439.1 1637.0 L441.1 1635.1 L443.1 1633.2 L445.1 1631.3 L447.1 1629.4 L449.1 1627.6 L451.1 1625.7 L453.1 1624.0 L455.1 1622.3 L457.1 1620.6 L459.1 1619.1 L461.1 1617.6 L463.1 1616.2 L465.1 1614.9 L467.1 1613.8 L469.1 1612.7 L471.1 1611.6 L473.1 1610.6 L475.1 1609.6 L477.1 1608.7 L479.1 1607.8 L481.1 1607.0 L483.1 1606.1 L485.1 1605.3 L487.1 1604.5 L489.1 1603.6 L491.1 1602.8 L493.1 1601.9 L495.1 1601.0 L497.1 1600.1 L499.1 1599.1 L501.1 1598.1 L503.1 1597.1 L505.1 1596.1 L507.1 1595.0 L509.1 1593.9 L511.1 1592.8 L513.1 1591.7 L515.1 1590.6 L517.1 1589.5 L519.1 1588.4 L521.1 1587.4 L523.1 1586.3 L525.1 1585.3 L527.1 1584.3 L529.1 1583.4 L531.1 1582.5 L533.1 1581.6 L535.1 1580.8 L537.1 1579.9 L539.1 1579.1 L541.1 1578.2 L543.1 1577.4 L545.1 1576.6 L547.1 1575.9 L549.1 1575.1 L551.1 1574.3 L553.1 1573.5 L555.1 1572.8 L557.1 1572.1 L559.1 1571.3 L561.1 1570.6 L563.1 1569.9 L565.1 1569.2 L567.1 1568.5 L569.1 1567.8 L571.1 1567.1 L573.1 1566.4 L575.1 1565.7 L577.1 1565.0 L579.1 1564.2 L581.1 1563.5 L583.1 1562.8 L585.1 1562.1 L587.1 1561.4 L589.1 1560.7 L591.1 1560.0 L593.1 1559.4 L595.1 1558.9 L597.1 1558.4 L599.1 1558.0 L601.1 1557.6 L603.1 1557.2 L605.1 1556.9 L607.1 1556.6 L609.1 1556.3 L611.1 1556.0 L613.1 1555.7 L615.1 1555.4 L617.1 1555.1 L619.1 1554.9 L621.2 1554.6 L623.2 1554.4 L625.2 1554.1 L627.2 1553.9 L629.2 1553.7 L631.2 1553.5 L633.2 1553.3 L635.2 1553.1 L637.2 1552.9 L639.2 1552.7 L641.2 1552.5 L643.2 1552.3 L645.2 1552.1 L647.2 1551.9 L649.2 1551.7 L651.2 1551.5 L653.2 1551.3 L655.2 1551.1 L657.2 1551.0 L659.2 1550.8 L661.2 1550.6 L663.2 1550.4 L665.2 1550.2 L667.2 1550.0 L669.2 1549.8 L671.2 1549.6 L673.2 1549.4 L675.2 1549.2 L677.2 1549.0 L679.2 1548.8 L681.2 1548.6 L683.2 1548.4 L685.2 1548.2 L687.2 1548.0 L689.2 1547.8 L691.2 1547.6 L693.2 1547.4 L695.2 1547.2 L697.2 1547.0 L699.2 1546.8 L701.2 1546.6 L703.2 1546.5 L705.2 1546.3 L707.2 1546.1 L709.2 1545.9 L711.2 1545.7 L713.2 1545.5 L715.2 1545.3 L717.2 1545.2 L719.2 1545.0 L721.2 1544.8 L723.2 1544.6 L725.2 1544.4 L727.2 1544.2 L729.2 1544.0 L731.2 1543.9 L733.2 1543.7 L735.2 1543.5 L737.2 1543.3 L739.2 1543.1 L741.2 1542.9 L743.2 1542.7 L745.2 1542.5 L747.2 1542.3 L749.2 1542.1 L751.2 1541.9 L753.2 1541.7 L755.2 1541.4 L757.2 1541.2 L759.2 1541.0 L761.2 1540.8 L763.2 1540.6 L765.2 1540.4 L767.2 1540.1 L769.2 1539.9 L771.2 1539.7 L773.2 1539.5 L775.2 1539.3 L777.2 1539.0 L779.2 1538.8 L781.2 1538.6 L783.2 1538.4 L785.2 1538.2 L787.2 1537.9 L789.2 1537.7 L791.2 1537.5 L793.2 1537.3 L795.2 1537.1 L797.2 1536.8 L799.2 1536.6 L801.2 1536.4 L803.2 1536.2 L805.2 1536.0 L807.2 1535.8 L809.2 1535.6 L811.2 1535.4 L813.2 1535.1 L815.2 1534.9 L817.2 1534.7 L819.2 1534.5 L821.2 1534.4 L823.2 1534.2 L825.2 1534.0 L827.2 1533.8 L829.2 1533.6 L831.2 1533.4 L833.2 1533.3 L835.2 1533.1 L837.2 1532.9 L839.2 1532.7 L841.2 1532.6 L843.2 1532.4 L845.2 1532.3 L847.2 1532.1 L849.2 1532.0 L851.2 1531.8 L853.2 1531.7 L855.2 1531.6 L857.2 1531.4 L859.2 1531.3 L861.2 1531.2 L863.2 1531.1 L865.2 1530.9 L867.2 1530.8 L869.2 1530.7 L871.2 1530.6 L873.2 1530.5 L875.2 1530.4 L877.2 1530.3 L879.2 1530.2 L881.2 1530.1 L883.2 1530.0 L885.2 1529.8 L887.2 1529.7 L889.2 1529.6 L891.3 1529.5 L893.3 1529.5 L895.3 1529.4 L897.3 1529.3 L899.3 1529.2 L901.3 1529.1 L903.3 1529.0 L905.3 1528.9 L907.3 1528.8 L909.3 1528.7 L911.3 1528.6 L913.3 1528.5 L915.3 1528.4 L917.3 1528.3 L919.3 1528.2 L921.3 1528.1 L923.3 1528.0 L925.3 1527.9 L927.3 1527.8 L929.3 1527.7 L931.3 1527.6 L933.3 1527.5 L935.3 1527.4 L937.3 1527.3 L939.3 1527.2 L941.3 1527.1 L943.3 1527.0 L945.3 1526.8 L947.3 1526.7 L949.3 1526.6 L951.3 1526.5 L953.3 1526.4 L955.3 1526.2 L957.3 1526.1 L959.3 1526.0 L961.3 1525.8 L963.3 1525.7 L965.3 1525.6 L967.3 1525.4 L969.3 1525.2 L971.3 1525.1 L973.3 1524.9 L975.3 1524.7 L977.3 1524.5 L979.3 1524.4 L981.3 1524.2 L983.3 1524.0 L985.3 1523.8 L987.3 1523.6 L989.3 1523.4 L991.3 1523.2 L993.3 1523.0 L995.3 1522.8 L997.3 1522.6 L999.3 1522.4 L1001.3 1522.2 L1003.3 1522.1 L1005.3 1521.9 L1007.3 1521.7 L1009.3 1521.5 L1011.3 1521.3 L1013.3 1521.1 L1015.3 1521.0 L1017.3 1520.8 L1019.3 1520.6 L1021.3 1520.5 L1023.3 1520.3 L1025.3 1520.2 L1027.3 1520.1 L1029.3 1519.9 L1031.3 1519.8 L1033.3 1519.7 L1035.3 1519.6 L1037.3 1519.5 L1039.3 1519.4 L1041.3 1519.4 L1043.3 1519.3 L1045.3 1519.2 L1047.3 1519.1 L1049.3 1519.1 L1051.3 1519.0 L1053.3 1518.9 L1055.3 1518.8 L1057.3 1518.8 L1059.3 1518.7 L1061.3 1518.6 L1063.3 1518.6 L1065.3 1518.5 L1067.3 1518.4 L1069.3 1518.4 L1071.3 1518.3 L1073.3 1518.2 L1075.3 1518.2 L1077.3 1518.1 L1079.3 1518.1 L1081.3 1518.0 L1083.3 1517.9 L1085.3 1517.9 L1087.3 1517.8 L1089.3 1517.8 L1091.3 1517.7 L1093.3 1517.6 L1095.3 1517.6 L1097.3 1517.5 L1099.3 1517.5 L1101.3 1517.4 L1103.3 1517.4 L1105.3 1517.3 L1107.3 1517.2 L1109.3 1517.2 L1111.3 1517.1 L1113.3 1517.1 L1115.3 1517.0 L1117.3 1517.0 L1119.3 1516.9 L1121.3 1516.9 L1123.3 1516.8 L1125.3 1516.8 L1127.3 1516.7 L1129.3 1516.7 L1131.3 1516.7 L1133.3 1516.6 L1135.3 1516.6 L1137.3 1516.5 L1139.3 1516.5 L1141.3 1516.4 L1143.3 1516.4 L1145.3 1516.3 L1147.3 1516.3 L1149.3 1516.2 L1151.3 1516.2 L1153.3 1516.2 L1155.3 1516.1 L1157.3 1516.1 L1159.3 1516.0 L1161.4 1516.0 L1163.4 1516.0 L1165.4 1515.9 L1167.4 1515.9 L1169.4 1515.8 L1171.4 1515.8 L1173.4 1515.8 L1175.4 1515.7 L1177.4 1515.7 L1179.4 1515.7 L1181.4 1515.6 L1183.4 1515.6 L1185.4 1515.5 L1187.4 1515.5 L1189.4 1515.5 L1191.4 1515.4 L1193.4 1515.4 L1195.4 1515.4 L1197.4 1515.3 L1199.4 1515.3 L1201.4 1515.3 L1203.4 1515.2 L1205.4 1515.2 L1207.4 1515.2 L1209.4 1515.1 L1211.4 1515.1 L1213.4 1515.1 L1215.4 1515.0 L1217.4 1515.0 L1219.4 1515.0 L1221.4 1514.9 L1223.4 1514.9 L1225.4 1514.9 L1227.4 1514.8 L1229.4 1514.8 L1231.4 1514.8 L1233.4 1514.8 L1235.4 1514.7 L1237.4 1514.7 L1239.4 1514.7 L1241.4 1514.6 L1243.4 1514.6 L1245.4 1514.6 L1247.4 1514.5 L1249.4 1514.5 L1251.4 1514.5 L1253.4 1514.5 L1255.4 1514.4 L1257.4 1514.4 L1259.4 1514.4 L1261.4 1514.3 L1263.4 1514.3 L1265.4 1514.3 L1267.4 1514.3 L1269.4 1514.2 L1271.4 1514.2 L1273.4 1514.2 L1275.4 1514.1 L1277.4 1514.1 L1279.4 1514.1 L1281.4 1514.1 L1283.4 1514.0 L1285.4 1514.0 L1287.4 1514.0 L1289.4 1514.0 L1291.4 1513.9 L1293.4 1513.9 L1295.4 1513.9 L1297.4 1513.8 L1299.4 1513.8 L1301.4 1513.8 L1303.4 1513.8 L1305.4 1513.7 L1307.4 1513.7 L1309.4 1513.7 L1311.4 1513.6 L1313.4 1513.6 L1315.4 1513.6 L1317.4 1513.6 L1319.4 1513.5 L1321.4 1513.5 L1323.4 1513.5 L1325.4 1513.4 L1327.4 1513.4 L1329.4 1513.4 L1331.4 1513.4 L1333.4 1513.3 L1335.4 1513.3 L1337.4 1513.3 L1339.4 1513.3 L1341.4 1513.2 L1343.4 1513.2 L1345.4 1513.2 L1347.4 1513.1 L1349.4 1513.1 L1351.4 1513.1 L1353.4 1513.1 L1355.4 1513.0 L1357.4 1513.0 L1359.4 1513.0 L1361.4 1513.0 L1363.4 1512.9 L1365.4 1512.9 L1367.4 1512.9 L1369.4 1512.9 L1371.4 1512.8 L1373.4 1512.8 L1375.4 1512.8 L1377.4 1512.7 L1379.4 1512.7 L1381.4 1512.7 L1383.4 1512.7 L1385.4 1512.6 L1387.4 1512.6 L1389.4 1512.6 L1391.4 1512.6 L1393.4 1512.5 L1395.4 1512.5 L1397.4 1512.5 L1399.4 1512.5 L1401.4 1512.5 L1403.4 1512.4 L1405.4 1512.4 L1407.4 1512.4 L1409.4 1512.4 L1411.4 1512.3 L1413.4 1512.3 L1415.4 1512.3 L1417.4 1512.3 L1419.4 1512.2 L1421.4 1512.2 L1423.4 1512.2 L1425.4 1512.2 L1427.4 1512.1 L1429.5 1512.1 L1431.5 1512.1 L1433.5 1512.1 L1435.5 1512.1 L1437.5 1512.0 L1439.5 1512.0 L1441.5 1512.0 L1443.5 1512.0 L1445.5 1512.0 L1447.5 1511.9 L1449.5 1511.9 L1451.5 1511.9 L1453.5 1511.9 L1455.5 1511.8 L1457.5 1511.8 L1459.5 1511.8 L1461.5 1511.8 L1463.5 1511.8 L1465.5 1511.7 L1467.5 1511.7 L1469.5 1511.7 L1471.5 1511.7 L1473.5 1511.7 L1475.5 1511.7 L1477.5 1511.6 L1479.5 1511.6 L1481.5 1511.6 L1483.5 1511.6 L1485.5 1511.6 L1487.5 1511.5 L1489.5 1511.5 L1491.5 1511.5 L1493.5 1511.5 L1495.5 1511.5 L1497.5 1511.5 L1499.5 1511.4 L1501.5 1511.4 L1503.5 1511.4 L1505.5 1511.4 L1507.5 1511.4 L1509.5 1511.4 L1511.5 1511.3 L1513.5 1511.3 L1515.5 1511.3 L1517.5 1511.3 L1519.5 1511.3 L1521.5 1511.3 L1523.5 1511.2 L1525.5 1511.2 L1527.5 1511.2 L1529.5 1511.2 L1531.5 1511.2 L1533.5 1511.2 L1535.5 1511.2 L1537.5 1511.2 L1539.5 1511.1 L1541.5 1511.1 L1543.5 1511.1 L1545.5 1511.1 L1547.5 1511.1 L1549.5 1511.1 L1551.5 1511.1 L1553.5 1511.1 L1555.5 1511.0 L1557.5 1511.0 L1559.5 1511.0 L1561.5 1511.0 L1563.5 1511.0" stroke="#00ff00" stroke-width="14"/>
<path d="M189.5 2544.5 L217.0 2516.0 L219.0 2502.7 L221.0 2489.6 L223.0 2476.7 L225.0 2463.9 L227.0 2451.3 L229.0 2439.0 L231.0 2427.1 L233.0 2415.7 L235.0 2404.7 L237.0 2393.8 L239.0 2382.7 L241.0 2371.3 L243.0 2359.4 L245.0 2346.7 L247.0 2332.8 L249.0 2317.0 L251.0 2299.8 L253.0 2282.0 L255.0 2264.4 L257.0 2247.6 L259.0 2232.4 L261.0 2218.9 L263.0 2206.1 L265.0 2193.9 L267.0 2182.1 L269.0 2170.8 L271.0 2159.9 L273.0 2149.3 L275.0 2139.0 L277.0 2128.9 L279.0 2118.9 L281.0 2109.2 L283.0 2099.8 L285.0 2090.5 L287.0 2081.4 L289.0 2072.6 L291.0 2063.9 L293.0 2055.4 L295.0 2047.0 L297.0 2038.8 L299.0 2030.7 L301.0 2022.8 L303.0 2015.1 L305.0 2007.9 L307.0 2001.3 L309.0 1995.1 L311.0 1989.2 L313.0 1983.4 L315.0 1977.7 L317.0 1971.9 L319.0 1965.9 L321.0 1959.6 L323.0 1952.9 L325.0 1945.6 L327.0 1937.6 L329.0 1928.8 L331.0 1919.0 L333.0 1907.0 L335.0 1888.7 L337.0 1870.9 L339.0 1860.2 L341.0 1852.3 L343.0 1845.8 L345.0 1840.1 L347.0 1834.7 L349.0 1829.0 L351.0 1823.5 L353.1 1818.2 L355.1 1813.1 L357.1 1808.2 L359.1 1803.4 L361.1 1798.8 L363.1 1794.3 L365.1 1789.9 L367.1 1785.6 L369.1 1781.4 L371.1 1777.3 L373.1 1773.3 L375.1 1769.4 L377.1 1765.6 L379.1 1761.8 L381.1 1758.1 L383.1 1754.4 L385.1 1750.8 L387.1 1747.2 L389.1 1743.7 L391.1 1740.1 L393.1 1736.5 L395.1 1732.9 L397.1 1729.3 L399.1 1725.7 L401.1 1722.1 L403.1 1718.5 L405.1 1715.0 L407.1 1711.6 L409.1 1708.2 L411.1 1704.8 L413.1 1701.6 L415.1 1698.5 L417.1 1695.5 L419.1 1692.6 L421.1 1689.9 L423.1 1687.3 L425.1 1684.9 L427.1 1682.7 L429.1 1680.5 L431.1 1678.5 L433.1 1676.6 L435.1 1674.7 L437.1 1672.9 L439.1 1671.2 L441.1 1669.5 L443.1 1667.8 L445.1 1666.1 L447.1 1664.5 L449.1 1662.8 L451.1 1661.1 L453.1 1659.4 L455.1 1657.6 L457.1 1655.9 L459.1 1654.2 L461.1 1652.5 L463.1 1650.9 L465.1 1649.3 L467.1 1647.8 L469.1 1646.3 L471.1 1644.9 L473.1 1643.6 L475.1 1642.3 L477.1 1641.1 L479.1 1640.0 L481.1 1638.9 L483.1 1637.8 L485.1 1636.8 L487.1 1635.7 L489.1 1634.7 L491.1 1633.8 L493.1 1632.8 L495.1 1631.9 L497.1 1631.0 L499.1 1630.1 L501.1 1629.2 L503.1 1628.3 L505.1 1627.4 L507.1 1626.5 L509.1 1625.6 L511.1 1624.8 L513.1 1623.9 L515.1 1622.9 L517.1 1622.0 L519.1 1621.1 L521.1 1620.2 L523.1 1619.3 L525.1 1618.3 L527.1 1617.4 L529.1 1616.5 L531.1 1615.6 L533.1 1614.6 L535.1 1613.7 L537.1 1612.8 L539.1 1612.0 L541.1 1611.1 L543.1 1610.2 L545.1 1609.4 L547.1 1608.5 L549.1 1607.7 L551.1 1606.9 L553.1 1606.1 L555.1 1605.4 L557.1 1604.7 L559.1 1604.0 L561.1 1603.3 L563.1 1602.6 L565.1 1602.0 L567.1 1601.4 L569.1 1600.7 L571.1 1600.1 L573.1 1599.5 L575.1 1598.9 L577.1 1598.3 L579.1 1597.7 L581.1 1597.1 L583.1 1596.6 L585.1 1596.0 L587.1 1595.5 L589.1 1595.0 L591.1 1594.5 L593.1 1594.0 L595.1 1593.5 L597.1 1593.0 L599.1 1592.5 L601.1 1592.1 L603.1 1591.7 L605.1 1591.3 L607.1 1590.9 L609.1 1590.5 L611.1 1590.1 L613.1 1589.8 L615.1 1589.5 L617.1 1589.2 L619.1 1588.9 L621.2 1588.6 L623.2 1588.3 L625.2 1588.1 L627.2 1587.8 L629.2 1587.6 L631.2 1587.4 L633.2 1587.1 L635.2 1586.9 L637.2 1586.7 L639.2 1586.5 L641.2 1586.2 L643.2 1586.0 L645.2 1585.8 L647.2 1585.6 L649.2 1585.3 L651.2 1585.1 L653.2 1584.9 L655.2 1584.6 L657.2 1584.4 L659.2 1584.1 L661.2 1583.8 L663.2 1583.6 L665.2 1583.3 L667.2 1583.0 L669.2 1582.7 L671.2 1582.3 L673.2 1582.0 L675.2 1581.7 L677.2 1581.4 L679.2 1581.0 L681.2 1580.7 L683.2 1580.4 L685.2 1580.0 L687.2 1579.7 L689.2 1579.4 L691.2 1579.0 L693.2 1578.7 L695.2 1578.4 L697.2 1578.1 L699.2 1577.8 L701.2 1577.5 L703.2 1577.2 L705.2 1577.0 L707.2 1576.7 L709.2 1576.4 L711.2 1576.2 L713.2 1576.0 L715.2 1575.8 L717.2 1575.6 L719.2 1575.4 L721.2 1575.2 L723.2 1575.0 L725.2 1574.8 L727.2 1574.6 L729.2 1574.4 L731.2 1574.3 L733.2 1574.1 L735.2 1573.9 L737.2 1573.8 L739.2 1573.6 L741.2 1573.5 L743.2 1573.3 L745.2 1573.1 L747.2 1573.0 L749.2 1572.8 L751.2 1572.7 L753.2 1572.5 L755.2 1572.4 L757.2 1572.2 L759.2 1572.1 L761.2 1571.9 L763.2 1571.7 L765.2 1571.6 L767.2 1571.4 L769.2 1571.3 L771.2 1571.1 L773.2 1570.9 L775.2 1570.8 L777.2 1570.6 L779.2 1570.5 L781.2 1570.3 L783.2 1570.1 L785.2 1570.0 L787.2 1569.8 L789.2 1569.7 L791.2 1569.5 L793.2 1569.4 L795.2 1569.2 L797.2 1569.0 L799.2 1568.9 L801.2 1568.7 L803.2 1568.6 L805.2 1568.4 L807.2 1568.3 L809.2 1568.1 L811.2 1568.0 L813.2 1567.8 L815.2 1567.7 L817.2 1567.5 L819.2 1567.4 L821.2 1567.3 L823.2 1567.1 L825.2 1567.0 L827.2 1566.8 L829.2 1566.7 L831.2 1566.6 L833.2 1566.4 L835.2 1566.3 L837.2 1566.2 L839.2 1566.1 L841.2 1565.9 L843.2 1565.8 L845.2 1565.7 L847.2 1565.6 L849.2 1565.5 L851.2 1565.4 L853.2 1565.3 L855.2 1565.2 L857.2 1565.0 L859.2 1564.9 L861.2 1564.8 L863.2 1564.7 L865.2 1564.6 L867.2 1564.5 L869.2 1564.4 L871.2 1564.3 L873.2 1564.2 L875.2 1564.1 L877.2 1564.0 L879.2 1563.9 L881.2 1563.8 L883.2 1563.7 L885.2 1563.6 L887.2 1563.5 L889.2 1563.4 L891.3 1563.3 L893.3 1563.2 L895.3 1563.1 L897.3 1563.0 L899.3 1562.9 L901.3 1562.8 L903.3 1562.7 L905.3 1562.6 L907.3 1562.6 L909.3 1562.5 L911.3 1562.4 L913.3 1562.3 L915.3 1562.2 L917.3 1562.1 L919.3 1562.0 L921.3 1562.0 L923.3 1561.9 L925.3 1561.8 L927.3 1561.7 L929.3 1561.7 L931.3 1561.6 L933.3 1561.5 L935.3 1561.4 L937.3 1561.4 L939.3 1561.3 L941.3 1561.2 L943.3 1561.2 L945.3 1561.1 L947.3 1561.0 L949.3 1561.0 L951.3 1560.9 L953.3 1560.9 L955.3 1560.8 L957.3 1560.7 L959.3 1560.7 L961.3 1560.6 L963.3 1560.6 L965.3 1560.5 L967.3 1560.5 L969.3 1560.4 L971.3 1560.4 L973.3 1560.3 L975.3 1560.3 L977.3 1560.3 L979.3 1560.2 L981.3 1560.2 L983.3 1560.1 L985.3 1560.1 L987.3 1560.0 L989.3 1560.0 L991.3 1560.0 L993.3 1559.9 L995.3 1559.9 L997.3 1559.8 L999.3 1559.8 L1001.3 1559.8 L1003.3 1559.7 L1005.3 1559.7 L1007.3 1559.6 L1009.3 1559.6 L1011.3 1559.6 L1013.3 1559.5 L1015.3 1559.5 L1017.3 1559.5 L1019.3 1559.4 L1021.3 1559.4 L1023.3 1559.4 L1025.3 1559.3 L1027.3 1559.3 L1029.3 1559.3 L1031.3 1559.2 L1033.3 1559.2 L1035.3 1559.2 L1037.3 1559.1 L1039.3 1559.1 L1041.3 1559.1 L1043.3 1559.1 L1045.3 1559.0 L1047.3 1559.0 L1049.3 1559.0 L1051.3 1558.9 L1053.3 1558.9 L1055.3 1558.9 L1057.3 1558.8 L1059.3 1558.8 L1061.3 1558.8 L1063.3 1558.8 L1065.3 1558.7 L1067.3 1558.7 L1069.3 1558.7 L1071.3 1558.6 L1073.3 1558.6 L1075.3 1558.6 L1077.3 1558.6 L1079.3 1558.5 L1081.3 1558.5 L1083.3 1558.5 L1085.3 1558.5 L1087.3 1558.4 L1089.3 1558.4 L1091.3 1558.4 L1093.3 1558.4 L1095.3 1558.3 L1097.3 1558.3 L1099.3 1558.3 L1101.3 1558.3 L1103.3 1558.2 L1105.3 1558.2 L1107.3 1558.2 L1109.3 1558.2 L1111.3 1558.1 L1113.3 1558.1 L1115.3 1558.1 L1117.3 1558.1 L1119.3 1558.0 L1121.3 1558.0 L1123.3 1558.0 L1125.3 1558.0 L1127.3 1557.9 L1129.3 1557.9 L1131.3 1557.9 L1133.3 1557.9 L1135.3 1557.9 L1137.3 1557.8 L1139.3 1557.8 L1141.3 1557.8 L1143.3 1557.8 L1145.3 1557.7 L1147.3 1557.7 L1149.3 1557.7 L1151.3 1557.7 L1153.3 1557.7 L1155.3 1557.6 L1157.3 1557.6 L1159.3 1557.6 L1161.4 1557.6 L1163.4 1557.5 L1165.4 1557.5 L1167.4 1557.5 L1169.4 1557.5 L1171.4 1557.5 L1173.4 1557.4 L1175.4 1557.4 L1177.4 1557.4 L1179.4 1557.4 L1181.4 1557.4 L1183.4 1557.3 L1185.4 1557.3 L1187.4 1557.3 L1189.4 1557.3 L1191.4 1557.2 L1193.4 1557.2 L1195.4 1557.2 L1197.4 1557.2 L1199.4 1557.2 L1201.4 1557.1 L1203.4 1557.1 L1205.4 1557.1 L1207.4 1557.1 L1209.4 1557.1 L1211.4 1557.0 L1213.4 1557.0 L1215.4 1557.0 L1217.4 1557.0 L1219.4 1557.0 L1221.4 1556.9 L1223.4 1556.9 L1225.4 1556.9 L1227.4 1556.9 L1229.4 1556.8 L1231.4 1556.8 L1233.4 1556.8 L1235.4 1556.8 L1237.4 1556.8 L1239.4 1556.7 L1241.4 1556.7 L1243.4 1556.7 L1245.4 1556.7 L1247.4 1556.6 L1249.4 1556.6 L1251.4 1556.6 L1253.4 1556.6 L1255.4 1556.6 L1257.4 1556.5 L1259.4 1556.5 L1261.4 1556.5 L1263.4 1556.5 L1265.4 1556.4 L1267.4 1556.4 L1269.4 1556.4 L1271.4 1556.4 L1273.4 1556.3 L1275.4 1556.3 L1277.4 1556.3 L1279.4 1556.3 L1281.4 1556.2 L1283.4 1556.2 L1285.4 1556.2 L1287.4 1556.2 L1289.4 1556.1 L1291.4 1556.1 L1293.4 1556.1 L1295.4 1556.1 L1297.4 1556.0 L1299.4 1556.0 L1301.4 1556.0 L1303.4 1556.0 L1305.4 1555.9 L1307.4 1555.9 L1309.4 1555.9 L1311.4 1555.8 L1313.4 1555.8 L1315.4 1555.8 L1317.4 1555.8 L1319.4 1555.7 L1321.4 1555.7 L1323.4 1555.7 L1325.4 1555.7 L1327.4 1555.6 L1329.4 1555.6 L1331.4 1555.6 L1333.4 1555.5 L1335.4 1555.5 L1337.4 1555.5 L1339.4 1555.5 L1341.4 1555.4 L1343.4 1555.4 L1345.4 1555.4 L1347.4 1555.4 L1349.4 1555.3 L1351.4 1555.3 L1353.4 1555.3 L1355.4 1555.2 L1357.4 1555.2 L1359.4 1555.2 L1361.4 1555.2 L1363.4 1555.1 L1365.4 1555.1 L1367.4 1555.1 L1369.4 1555.0 L1371.4 1555.0 L1373.4 1555.0 L1375.4 1555.0 L1377.4 1554.9 L1379.4 1554.9 L1381.4 1554.9 L1383.4 1554.8 L1385.4 1554.8 L1387.4 1554.8 L1389.4 1554.7 L1391.4 1554.7 L1393.4 1554.7 L1395.4 1554.7 L1397.4 1554.6 L1399.4 1554.6 L1401.4 1554.6 L1403.4 1554.5 L1405.4 1554.5 L1407.4 1554.5 L1409.4 1554.5 L1411.4 1554.4 L1413.4 1554.4 L1415.4 1554.4 L1417.4 1554.3 L1419.4 1554.3 L1421.4 1554.3 L1423.4 1554.2 L1425.4 1554.2 L1427.4 1554.2 L1429.5 1554.2 L1431.5 1554.1 L1433.5 1554.1 L1435.5 1554.1 L1437.5 1554.0 L1439.5 1554.0 L1441.5 1554.0 L1443.5 1553.9 L1445.5 1553.9 L1447.5 1553.9 L1449.5 1553.8 L1451.5 1553.8 L1453.5 1553.8 L1455.5 1553.8 L1457.5 1553.7 L1459.5 1553.7 L1461.5 1553.7 L1463.5 1553.6 L1465.5 1553.6 L1467.5 1553.6 L1469.5 1553.5 L1471.5 1553.5 L1473.5 1553.5 L1475.5 1553.4 L1477.5 1553.4 L1479.5 1553.4 L1481.5 1553.3 L1483.5 1553.3 L1485.5 1553.3 L1487.5 1553.2 L1489.5 1553.2 L1491.5 1553.2 L1493.5 1553.2 L1495.5 1553.1 L1497.5 1553.1 L1499.5 1553.1 L1501.5 1553.0 L1503.5 1553.0 L1505.5 1553.0 L1507.5 1552.9 L1509.5 1552.9 L1511.5 1552.9 L1513.5 1552.8 L1515.5 1552.8 L1517.5 1552.8 L1519.5 1552.7 L1521.5 1552.7 L1523.5 1552.7 L1525.5 1552.6 L1527.5 1552.6 L1529.5 1552.6 L1531.5 1552.5 L1533.5 1552.5 L1535.5 1552.5 L1537.5 1552.4 L1539.5 1552.4 L1541.5 1552.4 L1543.5 1552.3 L1545.5 1552.3 L1547.5 1552.3 L1549.5 1552.2 L1551.5 1552.2 L1553.5 1552.2 L1555.5 1552.1 L1557.5 1552.1 L1559.5 1552.1 L1561.5 1552.0 L1563.5 1552.0" stroke="#ff0000" stroke-width="14" stroke-dasharray="51 49" stroke-dashoffset="-15.0"/>
<path d="M189.5 2544.5 L217.0 2517.0 L219.0 2504.6 L221.0 2492.4 L223.0 2480.3 L225.0 2468.3 L227.0 2456.4 L229.0 2444.7 L231.0 2433.3 L233.0 2422.2 L235.0 2411.5 L237.0 2400.9 L239.0 2390.4 L241.0 2379.7 L243.0 2368.9 L245.0 2357.7 L247.0 2346.0 L249.0 2333.6 L251.0 2320.0 L253.0 2305.6 L255.0 2290.7 L257.0 2275.8 L259.0 2261.2 L261.0 2247.4 L263.0 2234.7 L265.0 2223.4 L267.0 2212.8 L269.0 2202.8 L271.0 2193.1 L273.0 2183.9 L275.0 2174.9 L277.0 2166.2 L279.0 2157.7 L281.0 2149.2 L283.0 2140.8 L285.0 2132.4 L287.0 2123.9 L289.0 2115.3 L291.0 2106.8 L293.0 2098.4 L295.0 2090.1 L297.0 2081.8 L299.0 2073.6 L301.0 2065.5 L303.0 2057.5 L305.0 2049.5 L307.0 2041.7 L309.0 2034.0 L311.0 2026.4 L313.0 2018.9 L315.0 2011.6 L317.0 2004.6 L319.0 1997.8 L321.0 1991.2 L323.0 1984.7 L325.0 1978.3 L327.0 1971.9 L329.0 1965.5 L331.0 1959.0 L333.0 1952.5 L335.0 1945.7 L337.0 1938.7 L339.0 1931.4 L341.0 1923.8 L343.0 1915.9 L345.0 1906.5 L347.0 1898.2 L349.0 1892.3 L351.0 1887.1 L353.1 1882.6 L355.1 1878.4 L357.1 1874.5 L359.1 1870.6 L361.1 1866.5 L363.1 1862.1 L365.1 1857.0 L367.1 1851.7 L369.1 1846.0 L371.1 1840.3 L373.1 1834.6 L375.1 1829.1 L377.1 1823.8 L379.1 1818.9 L381.1 1814.2 L383.1 1809.4 L385.1 1804.7 L387.1 1800.0 L389.1 1795.4 L391.1 1791.0 L393.1 1786.6 L395.1 1782.3 L397.1 1778.2 L399.1 1774.3 L401.1 1770.6 L403.1 1767.0 L405.1 1763.8 L407.1 1760.7 L409.1 1758.0 L411.1 1755.4 L413.1 1753.0 L415.1 1750.8 L417.1 1748.6 L419.1 1746.6 L421.1 1744.7 L423.1 1742.8 L425.1 1741.0 L427.1 1739.2 L429.1 1737.4 L431.1 1735.7 L433.1 1733.9 L435.1 1732.0 L437.1 1730.1 L439.1 1728.2 L441.1 1726.2 L443.1 1724.2 L445.1 1722.2 L447.1 1720.2 L449.1 1718.2 L451.1 1716.3 L453.1 1714.3 L455.1 1712.4 L457.1 1710.6 L459.1 1708.7 L461.1 1706.9 L463.1 1705.2 L465.1 1703.6 L467.1 1702.0 L469.1 1700.4 L471.1 1698.9 L473.1 1697.4 L475.1 1696.0 L477.1 1694.6 L479.1 1693.2 L481.1 1691.8 L483.1 1690.5 L485.1 1689.2 L487.1 1687.9 L489.1 1686.6 L491.1 1685.3 L493.1 1684.0 L495.1 1682.7 L497.1 1681.4 L499.1 1680.2 L501.1 1678.9 L503.1 1677.6 L505.1 1676.4 L507.1 1675.1 L509.1 1673.8 L511.1 1672.6 L513.1 1671.4 L515.1 1670.2 L517.1 1668.9 L519.1 1667.7 L521.1 1666.6 L523.1 1665.4 L525.1 1664.2 L527.1 1663.1 L529.1 1661.9 L531.1 1660.8 L533.1 1659.7 L535.1 1658.6 L537.1 1657.5 L539.1 1656.5 L541.1 1655.4 L543.1 1654.4 L545.1 1653.3 L547.1 1652.3 L549.1 1651.2 L551.1 1650.2 L553.1 1649.2 L555.1 1648.1 L557.1 1647.1 L559.1 1646.1 L561.1 1645.1 L563.1 1644.1 L565.1 1643.1 L567.1 1642.2 L569.1 1641.2 L571.1 1640.3 L573.1 1639.4 L575.1 1638.5 L577.1 1637.6 L579.1 1636.7 L581.1 1635.9 L583.1 1635.1 L585.1 1634.3 L587.1 1633.6 L589.1 1632.8 L591.1 1632.1 L593.1 1631.4 L595.1 1630.8 L597.1 1630.2 L599.1 1629.6 L601.1 1629.0 L603.1 1628.4 L605.1 1627.8 L607.1 1627.2 L609.1 1626.7 L611.1 1626.1 L613.1 1625.6 L615.1 1625.1 L617.1 1624.6 L619.1 1624.1 L621.2 1623.6 L623.2 1623.1 L625.2 1622.7 L627.2 1622.2 L629.2 1621.7 L631.2 1621.3 L633.2 1620.9 L635.2 1620.4 L637.2 1620.0 L639.2 1619.6 L641.2 1619.2 L643.2 1618.7 L645.2 1618.3 L647.2 1617.9 L649.2 1617.5 L651.2 1617.1 L653.2 1616.8 L655.2 1616.4 L657.2 1616.0 L659.2 1615.7 L661.2 1615.3 L663.2 1615.0 L665.2 1614.6 L667.2 1614.3 L669.2 1614.0 L671.2 1613.7 L673.2 1613.3 L675.2 1613.0 L677.2 1612.7 L679.2 1612.4 L681.2 1612.1 L683.2 1611.8 L685.2 1611.4 L687.2 1611.1 L689.2 1610.8 L691.2 1610.5 L693.2 1610.2 L695.2 1609.8 L697.2 1609.5 L699.2 1609.1 L701.2 1608.8 L703.2 1608.4 L705.2 1608.1 L707.2 1607.7 L709.2 1607.3 L711.2 1607.0 L713.2 1606.6 L715.2 1606.2 L717.2 1605.8 L719.2 1605.4 L721.2 1605.1 L723.2 1604.7 L725.2 1604.3 L727.2 1604.0 L729.2 1603.6 L731.2 1603.3 L733.2 1602.9 L735.2 1602.6 L737.2 1602.3 L739.2 1602.0 L741.2 1601.7 L743.2 1601.4 L745.2 1601.1 L747.2 1600.8 L749.2 1600.6 L751.2 1600.3 L753.2 1600.0 L755.2 1599.7 L757.2 1599.5 L759.2 1599.2 L761.2 1598.9 L763.2 1598.7 L765.2 1598.4 L767.2 1598.2 L769.2 1597.9 L771.2 1597.7 L773.2 1597.4 L775.2 1597.2 L777.2 1596.9 L779.2 1596.7 L781.2 1596.4 L783.2 1596.2 L785.2 1596.0 L787.2 1595.7 L789.2 1595.5 L791.2 1595.3 L793.2 1595.0 L795.2 1594.8 L797.2 1594.6 L799.2 1594.3 L801.2 1594.1 L803.2 1593.9 L805.2 1593.7 L807.2 1593.5 L809.2 1593.2 L811.2 1593.0 L813.2 1592.8 L815.2 1592.6 L817.2 1592.4 L819.2 1592.2 L821.2 1591.9 L823.2 1591.7 L825.2 1591.5 L827.2 1591.3 L829.2 1591.1 L831.2 1590.9 L833.2 1590.7 L835.2 1590.5 L837.2 1590.2 L839.2 1590.0 L841.2 1589.8 L843.2 1589.6 L845.2 1589.4 L847.2 1589.2 L849.2 1589.0 L851.2 1588.8 L853.2 1588.6 L855.2 1588.3 L857.2 1588.1 L859.2 1587.9 L861.2 1587.7 L863.2 1587.5 L865.2 1587.3 L867.2 1587.1 L869.2 1586.9 L871.2 1586.7 L873.2 1586.5 L875.2 1586.2 L877.2 1586.0 L879.2 1585.8 L881.2 1585.6 L883.2 1585.4 L885.2 1585.2 L887.2 1585.0 L889.2 1584.8 L891.3 1584.6 L893.3 1584.4 L895.3 1584.2 L897.3 1584.0 L899.3 1583.8 L901.3 1583.6 L903.3 1583.4 L905.3 1583.2 L907.3 1583.0 L909.3 1582.8 L911.3 1582.6 L913.3 1582.4 L915.3 1582.2 L917.3 1582.1 L919.3 1581.9 L921.3 1581.7 L923.3 1581.5 L925.3 1581.3 L927.3 1581.1 L929.3 1581.0 L931.3 1580.8 L933.3 1580.6 L935.3 1580.4 L937.3 1580.3 L939.3 1580.1 L941.3 1579.9 L943.3 1579.7 L945.3 1579.6 L947.3 1579.4 L949.3 1579.3 L951.3 1579.1 L953.3 1578.9 L955.3 1578.8 L957.3 1578.6 L959.3 1578.5 L961.3 1578.3 L963.3 1578.2 L965.3 1578.0 L967.3 1577.9 L969.3 1577.8 L971.3 1577.6 L973.3 1577.5 L975.3 1577.3 L977.3 1577.2 L979.3 1577.1 L981.3 1576.9 L983.3 1576.8 L985.3 1576.7 L987.3 1576.5 L989.3 1576.4 L991.3 1576.3 L993.3 1576.2 L995.3 1576.0 L997.3 1575.9 L999.3 1575.8 L1001.3 1575.7 L1003.3 1575.5 L1005.3 1575.4 L1007.3 1575.3 L1009.3 1575.2 L1011.3 1575.1 L1013.3 1574.9 L1015.3 1574.8 L1017.3 1574.7 L1019.3 1574.6 L1021.3 1574.5 L1023.3 1574.4 L1025.3 1574.2 L1027.3 1574.1 L1029.3 1574.0 L1031.3 1573.9 L1033.3 1573.8 L1035.3 1573.7 L1037.3 1573.6 L1039.3 1573.4 L1041.3 1573.3 L1043.3 1573.2 L1045.3 1573.1 L1047.3 1573.0 L1049.3 1572.9 L1051.3 1572.8 L1053.3 1572.6 L1055.3 1572.5 L1057.3 1572.4 L1059.3 1572.3 L1061.3 1572.2 L1063.3 1572.1 L1065.3 1571.9 L1067.3 1571.8 L1069.3 1571.7 L1071.3 1571.6 L1073.3 1571.5 L1075.3 1571.4 L1077.3 1571.3 L1079.3 1571.1 L1081.3 1571.0 L1083.3 1570.9 L1085.3 1570.8 L1087.3 1570.7 L1089.3 1570.6 L1091.3 1570.4 L1093.3 1570.3 L1095.3 1570.2 L1097.3 1570.1 L1099.3 1570.0 L1101.3 1569.9 L1103.3 1569.8 L1105.3 1569.6 L1107.3 1569.5 L1109.3 1569.4 L1111.3 1569.3 L1113.3 1569.2 L1115.3 1569.1 L1117.3 1569.0 L1119.3 1568.8 L1121.3 1568.7 L1123.3 1568.6 L1125.3 1568.5 L1127.3 1568.4 L1129.3 1568.3 L1131.3 1568.2 L1133.3 1568.1 L1135.3 1567.9 L1137.3 1567.8 L1139.3 1567.7 L1141.3 1567.6 L1143.3 1567.5 L1145.3 1567.4 L1147.3 1567.3 L1149.3 1567.2 L1151.3 1567.1 L1153.3 1566.9 L1155.3 1566.8 L1157.3 1566.7 L1159.3 1566.6 L1161.4 1566.5 L1163.4 1566.4 L1165.4 1566.3 L1167.4 1566.2 L1169.4 1566.1 L1171.4 1566.0 L1173.4 1565.9 L1175.4 1565.7 L1177.4 1565.6 L1179.4 1565.5 L1181.4 1565.4 L1183.4 1565.3 L1185.4 1565.2 L1187.4 1565.1 L1189.4 1565.0 L1191.4 1564.9 L1193.4 1564.8 L1195.4 1564.7 L1197.4 1564.6 L1199.4 1564.5 L1201.4 1564.4 L1203.4 1564.3 L1205.4 1564.2 L1207.4 1564.1 L1209.4 1564.0 L1211.4 1563.9 L1213.4 1563.8 L1215.4 1563.7 L1217.4 1563.6 L1219.4 1563.5 L1221.4 1563.4 L1223.4 1563.3 L1225.4 1563.2 L1227.4 1563.1 L1229.4 1563.0 L1231.4 1562.9 L1233.4 1562.8 L1235.4 1562.7 L1237.4 1562.6 L1239.4 1562.5 L1241.4 1562.4 L1243.4 1562.3 L1245.4 1562.3 L1247.4 1562.2 L1249.4 1562.1 L1251.4 1562.0 L1253.4 1561.9 L1255.4 1561.8 L1257.4 1561.7 L1259.4 1561.6 L1261.4 1561.5 L1263.4 1561.5 L1265.4 1561.4 L1267.4 1561.3 L1269.4 1561.2 L1271.4 1561.1 L1273.4 1561.0 L1275.4 1561.0 L1277.4 1560.9 L1279.4 1560.8 L1281.4 1560.7 L1283.4 1560.6 L1285.4 1560.6 L1287.4 1560.5 L1289.4 1560.4 L1291.4 1560.3 L1293.4 1560.2 L1295.4 1560.2 L1297.4 1560.1 L1299.4 1560.0 L1301.4 1559.9 L1303.4 1559.9 L1305.4 1559.8 L1307.4 1559.7 L1309.4 1559.7 L1311.4 1559.6 L1313.4 1559.5 L1315.4 1559.4 L1317.4 1559.3 L1319.4 1559.3 L1321.4 1559.2 L1323.4 1559.1 L1325.4 1559.0 L1327.4 1559.0 L1329.4 1558.9 L1331.4 1558.8 L1333.4 1558.7 L1335.4 1558.7 L1337.4 1558.6 L1339.4 1558.5 L1341.4 1558.4 L1343.4 1558.3 L1345.4 1558.3 L1347.4 1558.2 L1349.4 1558.1 L1351.4 1558.0 L1353.4 1557.9 L1355.4 1557.9 L1357.4 1557.8 L1359.4 1557.7 L1361.4 1557.6 L1363.4 1557.6 L1365.4 1557.5 L1367.4 1557.4 L1369.4 1557.3 L1371.4 1557.3 L1373.4 1557.2 L1375.4 1557.1 L1377.4 1557.0 L1379.4 1556.9 L1381.4 1556.9 L1383.4 1556.8 L1385.4 1556.7 L1387.4 1556.6 L1389.4 1556.6 L1391.4 1556.5 L1393.4 1556.4 L1395.4 1556.3 L1397.4 1556.3 L1399.4 1556.2 L1401.4 1556.1 L1403.4 1556.1 L1405.4 1556.0 L1407.4 1555.9 L1409.4 1555.9 L1411.4 1555.8 L1413.4 1555.7 L1415.4 1555.6 L1417.4 1555.6 L1419.4 1555.5 L1421.4 1555.4 L1423.4 1555.4 L1425.4 1555.3 L1427.4 1555.3 L1429.5 1555.2 L1431.5 1555.1 L1433.5 1555.1 L1435.5 1555.0 L1437.5 1554.9 L1439.5 1554.9 L1441.5 1554.8 L1443.5 1554.8 L1445.5 1554.7 L1447.5 1554.7 L1449.5 1554.6 L1451.5 1554.6 L1453.5 1554.5 L1455.5 1554.4 L1457.5 1554.4 L1459.5 1554.3 L1461.5 1554.3 L1463.5 1554.3 L1465.5 1554.2 L1467.5 1554.2 L1469.5 1554.1 L1471.5 1554.1 L1473.5 1554.0 L1475.5 1554.0 L1477.5 1554.0 L1479.5 1553.9 L1481.5 1553.9 L1483.5 1553.8 L1485.5 1553.8 L1487.5 1553.8 L1489.5 1553.7 L1491.5 1553.7 L1493.5 1553.7 L1495.5 1553.7 L1497.5 1553.6 L1499.5 1553.6 L1501.5 1553.6 L1503.5 1553.6 L1505.5 1553.5 L1507.5 1553.5 L1509.5 1553.5 L1511.5 1553.5 L1513.5 1553.5 L1515.5 1553.4 L1517.5 1553.4 L1519.5 1553.4 L1521.5 1553.4 L1523.5 1553.4 L1525.5 1553.4 L1527.5 1553.4 L1529.5 1553.4 L1531.5 1553.4 L1533.5 1553.4 L1535.5 1553.4 L1537.5 1553.4 L1539.5 1553.4 L1541.5 1553.4 L1543.5 1553.4 L1545.5 1553.4 L1547.5 1553.4 L1549.5 1553.4 L1551.5 1553.4 L1553.5 1553.4 L1555.5 1553.4 L1557.5 1553.4 L1559.5 1553.4 L1561.5 1553.4 L1563.5 1553.4" stroke="#ff00ff" stroke-width="14"/>
<path d="M189.5 2544.5 L217.0 2518.0 L219.0 2508.8 L221.0 2499.5 L223.0 2490.2 L225.0 2480.9 L227.0 2471.6 L229.0 2462.3 L231.0 2453.0 L233.0 2443.6 L235.0 2434.3 L237.0 2425.2 L239.0 2416.4 L241.0 2407.5 L243.0 2398.7 L245.0 2389.8 L247.0 2380.6 L249.0 2371.2 L251.0 2361.3 L253.0 2350.9 L255.0 2339.9 L257.0 2327.6 L259.0 2313.8 L261.0 2299.0 L263.0 2283.7 L265.0 2268.5 L267.0 2254.0 L269.0 2240.6 L271.0 2228.9 L273.0 2218.5 L275.0 2208.7 L277.0 2199.4 L279.0 2190.5 L281.0 2181.9 L283.0 2173.7 L285.0 2165.8 L287.0 2158.0 L289.0 2150.4 L291.0 2142.8 L293.0 2135.3 L295.0 2127.7 L297.0 2120.1 L299.0 2112.6 L301.0 2105.2 L303.0 2098.0 L305.0 2090.8 L307.0 2083.8 L309.0 2076.8 L311.0 2069.9 L313.0 2063.1 L315.0 2056.3 L317.0 2049.5 L319.0 2042.7 L321.0 2035.9 L323.0 2029.1 L325.0 2022.3 L327.0 2015.4 L329.0 2008.3 L331.0 2001.0 L333.0 1993.6 L335.0 1986.2 L337.0 1978.7 L339.0 1971.3 L341.0 1963.9 L343.0 1956.7 L345.0 1949.6 L347.0 1942.8 L349.0 1936.3 L351.0 1930.1 L353.1 1924.2 L355.1 1918.8 L357.1 1913.9 L359.1 1909.4 L361.1 1905.2 L363.1 1901.3 L365.1 1897.6 L367.1 1894.2 L369.1 1890.8 L371.1 1887.6 L373.1 1884.4 L375.1 1881.3 L377.1 1878.1 L379.1 1874.8 L381.1 1871.4 L383.1 1867.8 L385.1 1863.9 L387.1 1859.9 L389.1 1855.4 L391.1 1850.5 L393.1 1845.4 L395.1 1840.0 L397.1 1834.6 L399.1 1829.3 L401.1 1824.2 L403.1 1819.3 L405.1 1814.9 L407.1 1810.9 L409.1 1807.1 L411.1 1803.4 L413.1 1799.8 L415.1 1796.4 L417.1 1793.1 L419.1 1790.0 L421.1 1787.1 L423.1 1784.4 L425.1 1781.9 L427.1 1779.7 L429.1 1777.7 L431.1 1775.8 L433.1 1774.0 L435.1 1772.1 L437.1 1770.1 L439.1 1767.9 L441.1 1765.7 L443.1 1763.4 L445.1 1761.1 L447.1 1758.7 L449.1 1756.2 L451.1 1753.8 L453.1 1751.3 L455.1 1748.7 L457.1 1746.2 L459.1 1743.6 L461.1 1741.1 L463.1 1738.5 L465.1 1735.9 L467.1 1733.3 L469.1 1730.5 L471.1 1727.5 L473.1 1724.6 L475.1 1721.7 L477.1 1719.1 L479.1 1716.9 L481.1 1715.0 L483.1 1713.3 L485.1 1711.6 L487.1 1710.0 L489.1 1708.6 L491.1 1707.1 L493.1 1705.8 L495.1 1704.5 L497.1 1703.2 L499.1 1702.0 L501.1 1700.9 L503.1 1699.7 L505.1 1698.6 L507.1 1697.6 L509.1 1696.5 L511.1 1695.5 L513.1 1694.4 L515.1 1693.4 L517.1 1692.5 L519.1 1691.5 L521.1 1690.6 L523.1 1689.7 L525.1 1688.8 L527.1 1687.9 L529.1 1687.1 L531.1 1686.3 L533.1 1685.5 L535.1 1684.7 L537.1 1683.9 L539.1 1683.1 L541.1 1682.3 L543.1 1681.6 L545.1 1680.8 L547.1 1680.0 L549.1 1679.2 L551.1 1678.5 L553.1 1677.7 L555.1 1677.0 L557.1 1676.2 L559.1 1675.5 L561.1 1674.8 L563.1 1674.1 L565.1 1673.3 L567.1 1672.6 L569.1 1671.9 L571.1 1671.2 L573.1 1670.5 L575.1 1669.9 L577.1 1669.2 L579.1 1668.5 L581.1 1667.8 L583.1 1667.2 L585.1 1666.5 L587.1 1665.9 L589.1 1665.2 L591.1 1664.6 L593.1 1664.0 L595.1 1663.3 L597.1 1662.7 L599.1 1662.1 L601.1 1661.5 L603.1 1661.0 L605.1 1660.4 L607.1 1659.8 L609.1 1659.3 L611.1 1658.7 L613.1 1658.2 L615.1 1657.6 L617.1 1657.1 L619.1 1656.5 L621.2 1656.0 L623.2 1655.5 L625.2 1654.9 L627.2 1654.4 L629.2 1653.8 L631.2 1653.3 L633.2 1652.7 L635.2 1652.1 L637.2 1651.5 L639.2 1651.0 L641.2 1650.3 L643.2 1649.7 L645.2 1649.1 L647.2 1648.4 L649.2 1647.7 L651.2 1647.0 L653.2 1646.3 L655.2 1645.6 L657.2 1644.8 L659.2 1644.1 L661.2 1643.4 L663.2 1642.7 L665.2 1642.0 L667.2 1641.3 L669.2 1640.6 L671.2 1640.0 L673.2 1639.4 L675.2 1638.8 L677.2 1638.2 L679.2 1637.7 L681.2 1637.2 L683.2 1636.8 L685.2 1636.4 L687.2 1636.0 L689.2 1635.7 L691.2 1635.3 L693.2 1635.0 L695.2 1634.6 L697.2 1634.3 L699.2 1634.0 L701.2 1633.7 L703.2 1633.5 L705.2 1633.2 L707.2 1632.9 L709.2 1632.6 L711.2 1632.4 L713.2 1632.1 L715.2 1631.9 L717.2 1631.6 L719.2 1631.4 L721.2 1631.2 L723.2 1630.9 L725.2 1630.7 L727.2 1630.5 L729.2 1630.2 L731.2 1630.0 L733.2 1629.7 L735.2 1629.5 L737.2 1629.2 L739.2 1629.0 L741.2 1628.7 L743.2 1628.5 L745.2 1628.2 L747.2 1628.0 L749.2 1627.7 L751.2 1627.5 L753.2 1627.2 L755.2 1627.0 L757.2 1626.7 L759.2 1626.5 L761.2 1626.2 L763.2 1626.0 L765.2 1625.7 L767.2 1625.5 L769.2 1625.2 L771.2 1625.0 L773.2 1624.7 L775.2 1624.5 L777.2 1624.2 L779.2 1624.0 L781.2 1623.8 L783.2 1623.5 L785.2 1623.3 L787.2 1623.0 L789.2 1622.8 L791.2 1622.6 L793.2 1622.3 L795.2 1622.1 L797.2 1621.8 L799.2 1621.6 L801.2 1621.4 L803.2 1621.1 L805.2 1620.9 L807.2 1620.7 L809.2 1620.5 L811.2 1620.2 L813.2 1620.0 L815.2 1619.8 L817.2 1619.5 L819.2 1619.3 L821.2 1619.1 L823.2 1618.9 L825.2 1618.6 L827.2 1618.4 L829.2 1618.2 L831.2 1618.0 L833.2 1617.7 L835.2 1617.5 L837.2 1617.3 L839.2 1617.1 L841.2 1616.8 L843.2 1616.6 L845.2 1616.4 L847.2 1616.2 L849.2 1616.0 L851.2 1615.8 L853.2 1615.5 L855.2 1615.3 L857.2 1615.1 L859.2 1614.9 L861.2 1614.7 L863.2 1614.5 L865.2 1614.3 L867.2 1614.0 L869.2 1613.8 L871.2 1613.6 L873.2 1613.4 L875.2 1613.2 L877.2 1613.0 L879.2 1612.8 L881.2 1612.6 L883.2 1612.4 L885.2 1612.1 L887.2 1611.9 L889.2 1611.7 L891.3 1611.5 L893.3 1611.3 L895.3 1611.1 L897.3 1610.9 L899.3 1610.7 L901.3 1610.5 L903.3 1610.3 L905.3 1610.1 L907.3 1609.9 L909.3 1609.7 L911.3 1609.5 L913.3 1609.3 L915.3 1609.1 L917.3 1608.9 L919.3 1608.7 L921.3 1608.5 L923.3 1608.3 L925.3 1608.1 L927.3 1607.9 L929.3 1607.7 L931.3 1607.5 L933.3 1607.4 L935.3 1607.2 L937.3 1607.0 L939.3 1606.8 L941.3 1606.6 L943.3 1606.4 L945.3 1606.2 L947.3 1606.1 L949.3 1605.9 L951.3 1605.7 L953.3 1605.5 L955.3 1605.3 L957.3 1605.2 L959.3 1605.0 L961.3 1604.8 L963.3 1604.6 L965.3 1604.4 L967.3 1604.3 L969.3 1604.1 L971.3 1603.9 L973.3 1603.7 L975.3 1603.5 L977.3 1603.3 L979.3 1603.1 L981.3 1602.9 L983.3 1602.7 L985.3 1602.6 L987.3 1602.4 L989.3 1602.2 L991.3 1602.0 L993.3 1601.8 L995.3 1601.6 L997.3 1601.4 L999.3 1601.2 L1001.3 1601.1 L1003.3 1600.9 L1005.3 1600.7 L1007.3 1600.5 L1009.3 1600.4 L1011.3 1600.2 L1013.3 1600.0 L1015.3 1599.9 L1017.3 1599.7 L1019.3 1599.6 L1021.3 1599.4 L1023.3 1599.3 L1025.3 1599.1 L1027.3 1599.0 L1029.3 1598.9 L1031.3 1598.8 L1033.3 1598.6 L1035.3 1598.5 L1037.3 1598.4 L1039.3 1598.3 L1041.3 1598.2 L1043.3 1598.1 L1045.3 1598.1 L1047.3 1598.0 L1049.3 1597.9 L1051.3 1597.9 L1053.3 1597.8 L1055.3 1597.7 L1057.3 1597.6 L1059.3 1597.6 L1061.3 1597.5 L1063.3 1597.5 L1065.3 1597.4 L1067.3 1597.3 L1069.3 1597.3 L1071.3 1597.2 L1073.3 1597.1 L1075.3 1597.1 L1077.3 1597.0 L1079.3 1597.0 L1081.3 1596.9 L1083.3 1596.8 L1085.3 1596.8 L1087.3 1596.7 L1089.3 1596.7 L1091.3 1596.6 L1093.3 1596.6 L1095.3 1596.5 L1097.3 1596.5 L1099.3 1596.4 L1101.3 1596.4 L1103.3 1596.3 L1105.3 1596.2 L1107.3 1596.2 L1109.3 1596.1 L1111.3 1596.1 L1113.3 1596.0 L1115.3 1596.0 L1117.3 1596.0 L1119.3 1595.9 L1121.3 1595.9 L1123.3 1595.8 L1125.3 1595.8 L1127.3 1595.7 L1129.3 1595.7 L1131.3 1595.6 L1133.3 1595.6 L1135.3 1595.5 L1137.3 1595.5 L1139.3 1595.5 L1141.3 1595.4 L1143.3 1595.4 L1145.3 1595.3 L1147.3 1595.3 L1149.3 1595.3 L1151.3 1595.2 L1153.3 1595.2 L1155.3 1595.1 L1157.3 1595.1 L1159.3 1595.1 L1161.4 1595.0 L1163.4 1595.0 L1165.4 1594.9 L1167.4 1594.9 L1169.4 1594.9 L1171.4 1594.8 L1173.4 1594.8 L1175.4 1594.8 L1177.4 1594.7 L1179.4 1594.7 L1181.4 1594.7 L1183.4 1594.6 L1185.4 1594.6 L1187.4 1594.6 L1189.4 1594.5 L1191.4 1594.5 L1193.4 1594.5 L1195.4 1594.4 L1197.4 1594.4 L1199.4 1594.4 L1201.4 1594.3 L1203.4 1594.3 L1205.4 1594.3 L1207.4 1594.2 L1209.4 1594.2 L1211.4 1594.2 L1213.4 1594.2 L1215.4 1594.1 L1217.4 1594.1 L1219.4 1594.1 L1221.4 1594.0 L1223.4 1594.0 L1225.4 1594.0 L1227.4 1594.0 L1229.4 1593.9 L1231.4 1593.9 L1233.4 1593.9 L1235.4 1593.8 L1237.4 1593.8 L1239.4 1593.8 L1241.4 1593.8 L1243.4 1593.7 L1245.4 1593.7 L1247.4 1593.7 L1249.4 1593.7 L1251.4 1593.6 L1253.4 1593.6 L1255.4 1593.6 L1257.4 1593.5 L1259.4 1593.5 L1261.4 1593.5 L1263.4 1593.5 L1265.4 1593.4 L1267.4 1593.4 L1269.4 1593.4 L1271.4 1593.4 L1273.4 1593.3 L1275.4 1593.3 L1277.4 1593.3 L1279.4 1593.3 L1281.4 1593.2 L1283.4 1593.2 L1285.4 1593.2 L1287.4 1593.2 L1289.4 1593.1 L1291.4 1593.1 L1293.4 1593.1 L1295.4 1593.1 L1297.4 1593.0 L1299.4 1593.0 L1301.4 1593.0 L1303.4 1593.0 L1305.4 1592.9 L1307.4 1592.9 L1309.4 1592.9 L1311.4 1592.9 L1313.4 1592.8 L1315.4 1592.8 L1317.4 1592.8 L1319.4 1592.8 L1321.4 1592.7 L1323.4 1592.7 L1325.4 1592.7 L1327.4 1592.7 L1329.4 1592.6 L1331.4 1592.6 L1333.4 1592.6 L1335.4 1592.6 L1337.4 1592.5 L1339.4 1592.5 L1341.4 1592.5 L1343.4 1592.5 L1345.4 1592.4 L1347.4 1592.4 L1349.4 1592.4 L1351.4 1592.4 L1353.4 1592.3 L1355.4 1592.3 L1357.4 1592.3 L1359.4 1592.3 L1361.4 1592.2 L1363.4 1592.2 L1365.4 1592.2 L1367.4 1592.2 L1369.4 1592.1 L1371.4 1592.1 L1373.4 1592.1 L1375.4 1592.1 L1377.4 1592.1 L1379.4 1592.0 L1381.4 1592.0 L1383.4 1592.0 L1385.4 1592.0 L1387.4 1591.9 L1389.4 1591.9 L1391.4 1591.9 L1393.4 1591.9 L1395.4 1591.8 L1397.4 1591.8 L1399.4 1591.8 L1401.4 1591.8 L1403.4 1591.8 L1405.4 1591.7 L1407.4 1591.7 L1409.4 1591.7 L1411.4 1591.7 L1413.4 1591.7 L1415.4 1591.6 L1417.4 1591.6 L1419.4 1591.6 L1421.4 1591.6 L1423.4 1591.6 L1425.4 1591.5 L1427.4 1591.5 L1429.5 1591.5 L1431.5 1591.5 L1433.5 1591.4 L1435.5 1591.4 L1437.5 1591.4 L1439.5 1591.4 L1441.5 1591.4 L1443.5 1591.4 L1445.5 1591.3 L1447.5 1591.3 L1449.5 1591.3 L1451.5 1591.3 L1453.5 1591.3 L1455.5 1591.2 L1457.5 1591.2 L1459.5 1591.2 L1461.5 1591.2 L1463.5 1591.2 L1465.5 1591.2 L1467.5 1591.1 L1469.5 1591.1 L1471.5 1591.1 L1473.5 1591.1 L1475.5 1591.1 L1477.5 1591.0 L1479.5 1591.0 L1481.5 1591.0 L1483.5 1591.0 L1485.5 1591.0 L1487.5 1591.0 L1489.5 1591.0 L1491.5 1590.9 L1493.5 1590.9 L1495.5 1590.9 L1497.5 1590.9 L1499.5 1590.9 L1501.5 1590.9 L1503.5 1590.8 L1505.5 1590.8 L1507.5 1590.8 L1509.5 1590.8 L1511.5 1590.8 L1513.5 1590.8 L1515.5 1590.8 L1517.5 1590.7 L1519.5 1590.7 L1521.5 1590.7 L1523.5 1590.7 L1525.5 1590.7 L1527.5 1590.7 L1529.5 1590.7 L1531.5 1590.7 L1533.5 1590.7 L1535.5 1590.6 L1537.5 1590.6 L1539.5 1590.6 L1541.5 1590.6 L1543.5 1590.6 L1545.5 1590.6 L1547.5 1590.6 L1549.5 1590.6 L1551.5 1590.6 L1553.5 1590.5 L1555.5 1590.5 L1557.5 1590.5 L1559.5 1590.5 L1561.5 1590.5 L1563.5 1590.5" stroke="#800080" stroke-width="14"/>
<path d="M189.5 2544.5 L217.0 2516.0 L219.0 2502.6 L221.0 2489.3 L223.0 2476.2 L225.0 2463.3 L227.0 2450.6 L229.0 2438.1 L231.0 2426.2 L233.0 2414.8 L235.0 2403.8 L237.0 2392.8 L239.0 2381.7 L241.0 2370.3 L243.0 2358.2 L245.0 2345.3 L247.0 2331.2 L249.0 2315.2 L251.0 2299.1 L253.0 2283.8 L255.0 2268.4 L257.0 2252.7 L259.0 2236.4 L261.0 2221.8 L263.0 2208.1 L265.0 2194.9 L267.0 2182.1 L269.0 2169.8 L271.0 2157.9 L273.0 2146.4 L275.0 2135.2 L277.0 2124.4 L279.0 2113.9 L281.0 2103.5 L283.0 2093.4 L285.0 2083.6 L287.0 2073.9 L289.0 2064.5 L291.0 2055.4 L293.0 2046.6 L295.0 2038.1 L297.0 2029.9 L299.0 2022.0 L301.0 2014.4 L303.0 2007.1 L305.0 2000.0 L307.0 1993.2 L309.0 1986.6 L311.0 1980.2 L313.0 1973.9 L315.0 1967.7 L317.0 1961.7 L319.0 1955.7 L321.0 1949.8 L323.0 1943.9 L325.0 1938.0 L327.0 1932.1 L329.0 1926.1 L331.0 1920.0 L333.0 1913.9 L335.0 1907.5 L337.0 1901.0 L339.0 1894.3 L341.0 1887.8 L343.0 1881.5 L345.0 1875.4 L347.0 1869.9 L349.0 1864.9 L351.0 1860.3 L353.1 1855.8 L355.1 1851.5 L357.1 1847.3 L359.1 1843.3 L361.1 1839.4 L363.1 1835.6 L365.1 1831.9 L367.1 1828.4 L369.1 1825.0 L371.1 1821.7 L373.1 1818.6 L375.1 1815.5 L377.1 1812.6 L379.1 1809.8 L381.1 1807.1 L383.1 1804.5 L385.1 1802.1 L387.1 1799.8 L389.1 1797.6 L391.1 1795.5 L393.1 1793.4 L395.1 1791.5 L397.1 1789.5 L399.1 1787.6 L401.1 1785.8 L403.1 1783.9 L405.1 1782.0 L407.1 1780.1 L409.1 1778.1 L411.1 1776.1 L413.1 1774.1 L415.1 1772.1 L417.1 1770.1 L419.1 1768.0 L421.1 1766.0 L423.1 1764.0 L425.1 1762.1 L427.1 1760.2 L429.1 1758.3 L431.1 1756.5 L433.1 1754.8 L435.1 1753.2 L437.1 1751.6 L439.1 1750.1 L441.1 1748.7 L443.1 1747.3 L445.1 1745.9 L447.1 1744.6 L449.1 1743.4 L451.1 1742.1 L453.1 1740.9 L455.1 1739.7 L457.1 1738.5 L459.1 1737.4 L461.1 1736.3 L463.1 1735.1 L465.1 1734.0 L467.1 1732.9 L469.1 1731.8 L471.1 1730.7 L473.1 1729.6 L475.1 1728.6 L477.1 1727.5 L479.1 1726.5 L481.1 1725.5 L483.1 1724.5 L485.1 1723.5 L487.1 1722.5 L489.1 1721.5 L491.1 1720.6 L493.1 1719.6 L495.1 1718.7 L497.1 1717.8 L499.1 1716.8 L501.1 1715.8 L503.1 1714.9 L505.1 1713.9 L507.1 1712.9 L509.1 1711.9 L511.1 1710.9 L513.1 1710.0 L515.1 1709.0 L517.1 1708.2 L519.1 1707.3 L521.1 1706.5 L523.1 1705.8 L525.1 1705.1 L527.1 1704.6 L529.1 1704.1 L531.1 1703.6 L533.1 1703.3 L535.1 1702.9 L537.1 1702.6 L539.1 1702.3 L541.1 1702.0 L543.1 1701.8 L545.1 1701.5 L547.1 1701.3 L549.1 1701.1 L551.1 1700.8 L553.1 1700.6 L555.1 1700.3 L557.1 1700.0 L559.1 1699.7 L561.1 1699.3 L563.1 1698.9 L565.1 1698.5 L567.1 1698.0 L569.1 1697.5 L571.1 1697.0 L573.1 1696.4 L575.1 1695.9 L577.1 1695.3 L579.1 1694.7 L581.1 1694.1 L583.1 1693.5 L585.1 1692.9 L587.1 1692.3 L589.1 1691.7 L591.1 1691.2 L593.1 1690.6 L595.1 1690.1 L597.1 1689.6 L599.1 1689.0 L601.1 1688.5 L603.1 1688.0 L605.1 1687.4 L607.1 1686.9 L609.1 1686.3 L611.1 1685.8 L613.1 1685.3 L615.1 1684.7 L617.1 1684.2 L619.1 1683.7 L621.2 1683.2 L623.2 1682.7 L625.2 1682.2 L627.2 1681.7 L629.2 1681.3 L631.2 1680.8 L633.2 1680.4 L635.2 1679.9 L637.2 1679.5 L639.2 1679.2 L641.2 1678.8 L643.2 1678.4 L645.2 1678.1 L647.2 1677.8 L649.2 1677.4 L651.2 1677.1 L653.2 1676.8 L655.2 1676.5 L657.2 1676.3 L659.2 1676.0 L661.2 1675.7 L663.2 1675.4 L665.2 1675.2 L667.2 1674.9 L669.2 1674.6 L671.2 1674.3 L673.2 1674.1 L675.2 1673.8 L677.2 1673.5 L679.2 1673.2 L681.2 1672.9 L683.2 1672.6 L685.2 1672.3 L687.2 1672.0 L689.2 1671.7 L691.2 1671.4 L693.2 1671.1 L695.2 1670.8 L697.2 1670.4 L699.2 1670.1 L701.2 1669.8 L703.2 1669.5 L705.2 1669.2 L707.2 1668.8 L709.2 1668.5 L711.2 1668.2 L713.2 1667.8 L715.2 1667.5 L717.2 1667.2 L719.2 1666.8 L721.2 1666.5 L723.2 1666.2 L725.2 1665.9 L727.2 1665.6 L729.2 1665.3 L731.2 1665.0 L733.2 1664.7 L735.2 1664.5 L737.2 1664.2 L739.2 1664.0 L741.2 1663.8 L743.2 1663.6 L745.2 1663.3 L747.2 1663.1 L749.2 1662.9 L751.2 1662.7 L753.2 1662.5 L755.2 1662.3 L757.2 1662.1 L759.2 1662.0 L761.2 1661.8 L763.2 1661.6 L765.2 1661.4 L767.2 1661.2 L769.2 1661.1 L771.2 1660.9 L773.2 1660.7 L775.2 1660.6 L777.2 1660.4 L779.2 1660.3 L781.2 1660.1 L783.2 1660.0 L785.2 1659.8 L787.2 1659.6 L789.2 1659.5 L791.2 1659.4 L793.2 1659.2 L795.2 1659.1 L797.2 1658.9 L799.2 1658.8 L801.2 1658.6 L803.2 1658.5 L805.2 1658.3 L807.2 1658.2 L809.2 1658.0 L811.2 1657.9 L813.2 1657.8 L815.2 1657.6 L817.2 1657.5 L819.2 1657.3 L821.2 1657.2 L823.2 1657.0 L825.2 1656.9 L827.2 1656.7 L829.2 1656.6 L831.2 1656.4 L833.2 1656.3 L835.2 1656.1 L837.2 1656.0 L839.2 1655.8 L841.2 1655.6 L843.2 1655.5 L845.2 1655.3 L847.2 1655.2 L849.2 1655.0 L851.2 1654.8 L853.2 1654.6 L855.2 1654.4 L857.2 1654.3 L859.2 1654.1 L861.2 1653.9 L863.2 1653.7 L865.2 1653.5 L867.2 1653.3 L869.2 1653.1 L871.2 1652.8 L873.2 1652.6 L875.2 1652.4 L877.2 1652.2 L879.2 1652.0 L881.2 1651.8 L883.2 1651.6 L885.2 1651.3 L887.2 1651.1 L889.2 1650.9 L891.3 1650.7 L893.3 1650.5 L895.3 1650.2 L897.3 1650.0 L899.3 1649.8 L901.3 1649.6 L903.3 1649.4 L905.3 1649.2 L907.3 1649.0 L909.3 1648.8 L911.3 1648.5 L913.3 1648.3 L915.3 1648.1 L917.3 1648.0 L919.3 1647.8 L921.3 1647.6 L923.3 1647.4 L925.3 1647.2 L927.3 1647.0 L929.3 1646.9 L931.3 1646.7 L933.3 1646.5 L935.3 1646.4 L937.3 1646.2 L939.3 1646.1 L941.3 1645.9 L943.3 1645.8 L945.3 1645.7 L947.3 1645.6 L949.3 1645.4 L951.3 1645.3 L953.3 1645.2 L955.3 1645.1 L957.3 1645.1 L959.3 1645.0 L961.3 1644.9 L963.3 1644.9 L965.3 1644.8 L967.3 1644.7 L969.3 1644.7 L971.3 1644.6 L973.3 1644.6 L975.3 1644.5 L977.3 1644.4 L979.3 1644.4 L981.3 1644.3 L983.3 1644.3 L985.3 1644.3 L987.3 1644.2 L989.3 1644.2 L991.3 1644.1 L993.3 1644.1 L995.3 1644.0 L997.3 1644.0 L999.3 1644.0 L1001.3 1643.9 L1003.3 1643.9 L1005.3 1643.8 L1007.3 1643.8 L1009.3 1643.8 L1011.3 1643.7 L1013.3 1643.7 L1015.3 1643.7 L1017.3 1643.6 L1019.3 1643.6 L1021.3 1643.6 L1023.3 1643.5 L1025.3 1643.5 L1027.3 1643.4 L1029.3 1643.4 L1031.3 1643.4 L1033.3 1643.3 L1035.3 1643.3 L1037.3 1643.2 L1039.3 1643.2 L1041.3 1643.1 L1043.3 1643.1 L1045.3 1643.0 L1047.3 1643.0 L1049.3 1642.9 L1051.3 1642.9 L1053.3 1642.8 L1055.3 1642.8 L1057.3 1642.7 L1059.3 1642.7 L1061.3 1642.6 L1063.3 1642.6 L1065.3 1642.5 L1067.3 1642.4 L1069.3 1642.4 L1071.3 1642.3 L1073.3 1642.3 L1075.3 1642.2 L1077.3 1642.2 L1079.3 1642.1 L1081.3 1642.0 L1083.3 1642.0 L1085.3 1641.9 L1087.3 1641.9 L1089.3 1641.8 L1091.3 1641.7 L1093.3 1641.7 L1095.3 1641.6 L1097.3 1641.5 L1099.3 1641.5 L1101.3 1641.4 L1103.3 1641.3 L1105.3 1641.3 L1107.3 1641.2 L1109.3 1641.2 L1111.3 1641.1 L1113.3 1641.0 L1115.3 1641.0 L1117.3 1640.9 L1119.3 1640.8 L1121.3 1640.8 L1123.3 1640.7 L1125.3 1640.6 L1127.3 1640.6 L1129.3 1640.5 L1131.3 1640.4 L1133.3 1640.3 L1135.3 1640.3 L1137.3 1640.2 L1139.3 1640.1 L1141.3 1640.1 L1143.3 1640.0 L1145.3 1639.9 L1147.3 1639.9 L1149.3 1639.8 L1151.3 1639.7 L1153.3 1639.7 L1155.3 1639.6 L1157.3 1639.5 L1159.3 1639.4 L1161.4 1639.4 L1163.4 1639.3 L1165.4 1639.2 L1167.4 1639.2 L1169.4 1639.1 L1171.4 1639.0 L1173.4 1639.0 L1175.4 1638.9 L1177.4 1638.8 L1179.4 1638.8 L1181.4 1638.7 L1183.4 1638.6 L1185.4 1638.5 L1187.4 1638.5 L1189.4 1638.4 L1191.4 1638.3 L1193.4 1638.3 L1195.4 1638.2 L1197.4 1638.1 L1199.4 1638.1 L1201.4 1638.0 L1203.4 1637.9 L1205.4 1637.9 L1207.4 1637.8 L1209.4 1637.7 L1211.4 1637.6 L1213.4 1637.6 L1215.4 1637.5 L1217.4 1637.4 L1219.4 1637.4 L1221.4 1637.3 L1223.4 1637.2 L1225.4 1637.2 L1227.4 1637.1 L1229.4 1637.0 L1231.4 1637.0 L1233.4 1636.9 L1235.4 1636.9 L1237.4 1636.8 L1239.4 1636.7 L1241.4 1636.7 L1243.4 1636.6 L1245.4 1636.5 L1247.4 1636.5 L1249.4 1636.4 L1251.4 1636.4 L1253.4 1636.3 L1255.4 1636.2 L1257.4 1636.2 L1259.4 1636.1 L1261.4 1636.0 L1263.4 1636.0 L1265.4 1635.9 L1267.4 1635.9 L1269.4 1635.8 L1271.4 1635.8 L1273.4 1635.7 L1275.4 1635.6 L1277.4 1635.6 L1279.4 1635.5 L1281.4 1635.5 L1283.4 1635.4 L1285.4 1635.4 L1287.4 1635.3 L1289.4 1635.3 L1291.4 1635.2 L1293.4 1635.2 L1295.4 1635.1 L1297.4 1635.1 L1299.4 1635.0 L1301.4 1635.0 L1303.4 1634.9 L1305.4 1634.9 L1307.4 1634.8 L1309.4 1634.8 L1311.4 1634.7 L1313.4 1634.7 L1315.4 1634.6 L1317.4 1634.6 L1319.4 1634.5 L1321.4 1634.5 L1323.4 1634.4 L1325.4 1634.4 L1327.4 1634.3 L1329.4 1634.3 L1331.4 1634.2 L1333.4 1634.2 L1335.4 1634.2 L1337.4 1634.1 L1339.4 1634.1 L1341.4 1634.0 L1343.4 1634.0 L1345.4 1633.9 L1347.4 1633.9 L1349.4 1633.8 L1351.4 1633.8 L1353.4 1633.7 L1355.4 1633.7 L1357.4 1633.6 L1359.4 1633.6 L1361.4 1633.6 L1363.4 1633.5 L1365.4 1633.5 L1367.4 1633.4 L1369.4 1633.4 L1371.4 1633.3 L1373.4 1633.3 L1375.4 1633.2 L1377.4 1633.2 L1379.4 1633.2 L1381.4 1633.1 L1383.4 1633.1 L1385.4 1633.0 L1387.4 1633.0 L1389.4 1632.9 L1391.4 1632.9 L1393.4 1632.8 L1395.4 1632.8 L1397.4 1632.8 L1399.4 1632.7 L1401.4 1632.7 L1403.4 1632.6 L1405.4 1632.6 L1407.4 1632.5 L1409.4 1632.5 L1411.4 1632.5 L1413.4 1632.4 L1415.4 1632.4 L1417.4 1632.3 L1419.4 1632.3 L1421.4 1632.3 L1423.4 1632.2 L1425.4 1632.2 L1427.4 1632.1 L1429.5 1632.1 L1431.5 1632.1 L1433.5 1632.0 L1435.5 1632.0 L1437.5 1631.9 L1439.5 1631.9 L1441.5 1631.9 L1443.5 1631.8 L1445.5 1631.8 L1447.5 1631.7 L1449.5 1631.7 L1451.5 1631.7 L1453.5 1631.6 L1455.5 1631.6 L1457.5 1631.5 L1459.5 1631.5 L1461.5 1631.5 L1463.5 1631.4 L1465.5 1631.4 L1467.5 1631.4 L1469.5 1631.3 L1471.5 1631.3 L1473.5 1631.2 L1475.5 1631.2 L1477.5 1631.2 L1479.5 1631.1 L1481.5 1631.1 L1483.5 1631.1 L1485.5 1631.0 L1487.5 1631.0 L1489.5 1631.0 L1491.5 1630.9 L1493.5 1630.9 L1495.5 1630.9 L1497.5 1630.8 L1499.5 1630.8 L1501.5 1630.8 L1503.5 1630.7 L1505.5 1630.7 L1507.5 1630.7 L1509.5 1630.6 L1511.5 1630.6 L1513.5 1630.6 L1515.5 1630.5 L1517.5 1630.5 L1519.5 1630.5 L1521.5 1630.4 L1523.5 1630.4 L1525.5 1630.4 L1527.5 1630.3 L1529.5 1630.3 L1531.5 1630.3 L1533.5 1630.2 L1535.5 1630.2 L1537.5 1630.2 L1539.5 1630.1 L1541.5 1630.1 L1543.5 1630.1 L1545.5 1630.1 L1547.5 1630.0 L1549.5 1630.0 L1551.5 1630.0 L1553.5 1629.9 L1555.5 1629.9 L1557.5 1629.9 L1559.5 1629.9 L1561.5 1629.8 L1563.5 1629.8" stroke="#ffff00" stroke-width="14"/>
<path d="M189.5 2544.5 L217.0 2519.0 L219.0 2511.6 L221.0 2504.1 L223.0 2496.4 L225.0 2488.6 L227.0 2480.6 L229.0 2472.5 L231.0 2464.2 L233.0 2455.8 L235.0 2447.2 L237.0 2438.5 L239.0 2429.7 L241.0 2420.8 L243.0 2411.7 L245.0 2402.5 L247.0 2393.1 L249.0 2383.5 L251.0 2373.6 L253.0 2363.6 L255.0 2353.2 L257.0 2342.6 L259.0 2331.4 L261.0 2319.1 L263.0 2306.9 L265.0 2295.5 L267.0 2284.7 L269.0 2274.3 L271.0 2264.0 L273.0 2253.7 L275.0 2243.4 L277.0 2233.4 L279.0 2224.1 L281.0 2215.3 L283.0 2206.8 L285.0 2198.5 L287.0 2190.4 L289.0 2182.4 L291.0 2174.5 L293.0 2166.4 L295.0 2158.3 L297.0 2149.9 L299.0 2141.1 L301.0 2132.1 L303.0 2123.9 L305.0 2116.3 L307.0 2109.1 L309.0 2102.2 L311.0 2095.5 L313.0 2089.0 L315.0 2082.6 L317.0 2076.4 L319.0 2070.2 L321.0 2064.1 L323.0 2058.0 L325.0 2051.8 L327.0 2045.5 L329.0 2039.1 L331.0 2032.6 L333.0 2025.8 L335.0 2018.8 L337.0 2011.4 L339.0 2003.6 L341.0 1995.5 L343.0 1987.3 L345.0 1979.1 L347.0 1971.1 L349.0 1963.5 L351.0 1956.3 L353.1 1949.8 L355.1 1943.9 L357.1 1938.2 L359.1 1932.8 L361.1 1927.7 L363.1 1922.8 L365.1 1918.2 L367.1 1913.9 L369.1 1909.9 L371.1 1906.2 L373.1 1902.7 L375.1 1899.4 L377.1 1896.2 L379.1 1893.0 L381.1 1889.7 L383.1 1886.3 L385.1 1882.7 L387.1 1878.9 L389.1 1874.6 L391.1 1870.1 L393.1 1865.3 L395.1 1860.4 L397.1 1855.4 L399.1 1850.4 L401.1 1845.6 L403.1 1841.0 L405.1 1836.6 L407.1 1832.7 L409.1 1829.2 L411.1 1826.0 L413.1 1823.0 L415.1 1820.1 L417.1 1817.3 L419.1 1814.7 L421.1 1812.1 L423.1 1809.6 L425.1 1807.2 L427.1 1804.8 L429.1 1802.5 L431.1 1800.2 L433.1 1797.9 L435.1 1795.5 L437.1 1793.1 L439.1 1790.7 L441.1 1788.4 L443.1 1786.0 L445.1 1783.7 L447.1 1781.4 L449.1 1779.1 L451.1 1776.8 L453.1 1774.6 L455.1 1772.4 L457.1 1770.2 L459.1 1768.0 L461.1 1765.9 L463.1 1763.8 L465.1 1761.7 L467.1 1759.7 L469.1 1757.8 L471.1 1755.9 L473.1 1754.0 L475.1 1752.2 L477.1 1750.3 L479.1 1748.4 L481.1 1746.4 L483.1 1744.3 L485.1 1742.1 L487.1 1739.9 L489.1 1737.7 L491.1 1735.5 L493.1 1733.5 L495.1 1731.6 L497.1 1729.9 L499.1 1728.4 L501.1 1726.9 L503.1 1725.4 L505.1 1724.0 L507.1 1722.6 L509.1 1721.2 L511.1 1719.9 L513.1 1718.6 L515.1 1717.4 L517.1 1716.2 L519.1 1715.0 L521.1 1713.8 L523.1 1712.7 L525.1 1711.5 L527.1 1710.4 L529.1 1709.4 L531.1 1708.3 L533.1 1707.2 L535.1 1706.2 L537.1 1705.2 L539.1 1704.2 L541.1 1703.2 L543.1 1702.1 L545.1 1701.1 L547.1 1700.1 L549.1 1699.2 L551.1 1698.2 L553.1 1697.2 L555.1 1696.3 L557.1 1695.3 L559.1 1694.4 L561.1 1693.5 L563.1 1692.6 L565.1 1691.7 L567.1 1690.8 L569.1 1689.9 L571.1 1689.0 L573.1 1688.2 L575.1 1687.4 L577.1 1686.5 L579.1 1685.7 L581.1 1684.9 L583.1 1684.1 L585.1 1683.3 L587.1 1682.6 L589.1 1681.8 L591.1 1681.1 L593.1 1680.3 L595.1 1679.6 L597.1 1678.9 L599.1 1678.2 L601.1 1677.5 L603.1 1676.8 L605.1 1676.1 L607.1 1675.5 L609.1 1674.8 L611.1 1674.2 L613.1 1673.6 L615.1 1672.9 L617.1 1672.3 L619.1 1671.7 L621.2 1671.1 L623.2 1670.5 L625.2 1669.9 L627.2 1669.3 L629.2 1668.7 L631.2 1668.1 L633.2 1667.5 L635.2 1666.9 L637.2 1666.3 L639.2 1665.8 L641.2 1665.2 L643.2 1664.6 L645.2 1664.0 L647.2 1663.4 L649.2 1662.8 L651.2 1662.2 L653.2 1661.7 L655.2 1661.1 L657.2 1660.5 L659.2 1660.0 L661.2 1659.4 L663.2 1658.9 L665.2 1658.3 L667.2 1657.7 L669.2 1657.2 L671.2 1656.6 L673.2 1656.1 L675.2 1655.5 L677.2 1654.9 L679.2 1654.4 L681.2 1653.8 L683.2 1653.3 L685.2 1652.7 L687.2 1652.1 L689.2 1651.5 L691.2 1650.9 L693.2 1650.4 L695.2 1649.8 L697.2 1649.2 L699.2 1648.7 L701.2 1648.2 L703.2 1647.7 L705.2 1647.2 L707.2 1646.7 L709.2 1646.3 L711.2 1645.8 L713.2 1645.3 L715.2 1644.9 L717.2 1644.4 L719.2 1644.0 L721.2 1643.6 L723.2 1643.1 L725.2 1642.7 L727.2 1642.3 L729.2 1641.9 L731.2 1641.5 L733.2 1641.1 L735.2 1640.7 L737.2 1640.3 L739.2 1640.0 L741.2 1639.6 L743.2 1639.3 L745.2 1638.9 L747.2 1638.6 L749.2 1638.2 L751.2 1637.9 L753.2 1637.6 L755.2 1637.2 L757.2 1636.9 L759.2 1636.6 L761.2 1636.3 L763.2 1635.9 L765.2 1635.6 L767.2 1635.3 L769.2 1635.0 L771.2 1634.7 L773.2 1634.4 L775.2 1634.1 L777.2 1633.8 L779.2 1633.5 L781.2 1633.2 L783.2 1632.9 L785.2 1632.6 L787.2 1632.4 L789.2 1632.1 L791.2 1631.8 L793.2 1631.5 L795.2 1631.2 L797.2 1631.0 L799.2 1630.7 L801.2 1630.4 L803.2 1630.1 L805.2 1629.9 L807.2 1629.6 L809.2 1629.3 L811.2 1629.0 L813.2 1628.8 L815.2 1628.5 L817.2 1628.2 L819.2 1628.0 L821.2 1627.7 L823.2 1627.4 L825.2 1627.2 L827.2 1626.9 L829.2 1626.6 L831.2 1626.4 L833.2 1626.1 L835.2 1625.8 L837.2 1625.6 L839.2 1625.3 L841.2 1625.0 L843.2 1624.8 L845.2 1624.5 L847.2 1624.2 L849.2 1624.0 L851.2 1623.7 L853.2 1623.4 L855.2 1623.2 L857.2 1622.9 L859.2 1622.6 L861.2 1622.3 L863.2 1622.1 L865.2 1621.8 L867.2 1621.5 L869.2 1621.2 L871.2 1621.0 L873.2 1620.7 L875.2 1620.4 L877.2 1620.2 L879.2 1619.9 L881.2 1619.6 L883.2 1619.3 L885.2 1619.1 L887.2 1618.8 L889.2 1618.5 L891.3 1618.3 L893.3 1618.0 L895.3 1617.7 L897.3 1617.5 L899.3 1617.2 L901.3 1616.9 L903.3 1616.7 L905.3 1616.4 L907.3 1616.2 L909.3 1615.9 L911.3 1615.6 L913.3 1615.4 L915.3 1615.1 L917.3 1614.9 L919.3 1614.6 L921.3 1614.4 L923.3 1614.1 L925.3 1613.9 L927.3 1613.6 L929.3 1613.4 L931.3 1613.1 L933.3 1612.9 L935.3 1612.7 L937.3 1612.4 L939.3 1612.2 L941.3 1612.0 L943.3 1611.7 L945.3 1611.5 L947.3 1611.3 L949.3 1611.1 L951.3 1610.8 L953.3 1610.6 L955.3 1610.4 L957.3 1610.2 L959.3 1610.0 L961.3 1609.8 L963.3 1609.6 L965.3 1609.3 L967.3 1609.1 L969.3 1608.9 L971.3 1608.7 L973.3 1608.5 L975.3 1608.3 L977.3 1608.1 L979.3 1607.9 L981.3 1607.7 L983.3 1607.5 L985.3 1607.3 L987.3 1607.1 L989.3 1606.9 L991.3 1606.7 L993.3 1606.5 L995.3 1606.3 L997.3 1606.1 L999.3 1605.9 L1001.3 1605.7 L1003.3 1605.5 L1005.3 1605.3 L1007.3 1605.2 L1009.3 1605.0 L1011.3 1604.8 L1013.3 1604.6 L1015.3 1604.4 L1017.3 1604.3 L1019.3 1604.1 L1021.3 1603.9 L1023.3 1603.8 L1025.3 1603.6 L1027.3 1603.4 L1029.3 1603.3 L1031.3 1603.1 L1033.3 1603.0 L1035.3 1602.8 L1037.3 1602.7 L1039.3 1602.5 L1041.3 1602.4 L1043.3 1602.2 L1045.3 1602.1 L1047.3 1602.0 L1049.3 1601.8 L1051.3 1601.7 L1053.3 1601.6 L1055.3 1601.5 L1057.3 1601.3 L1059.3 1601.2 L1061.3 1601.1 L1063.3 1600.9 L1065.3 1600.8 L1067.3 1600.7 L1069.3 1600.6 L1071.3 1600.4 L1073.3 1600.3 L1075.3 1600.2 L1077.3 1600.1 L1079.3 1599.9 L1081.3 1599.8 L1083.3 1599.7 L1085.3 1599.6 L1087.3 1599.4 L1089.3 1599.3 L1091.3 1599.2 L1093.3 1599.1 L1095.3 1599.0 L1097.3 1598.8 L1099.3 1598.7 L1101.3 1598.6 L1103.3 1598.5 L1105.3 1598.4 L1107.3 1598.3 L1109.3 1598.1 L1111.3 1598.0 L1113.3 1597.9 L1115.3 1597.8 L1117.3 1597.7 L1119.3 1597.6 L1121.3 1597.5 L1123.3 1597.3 L1125.3 1597.2 L1127.3 1597.1 L1129.3 1597.0 L1131.3 1596.9 L1133.3 1596.8 L1135.3 1596.7 L1137.3 1596.6 L1139.3 1596.5 L1141.3 1596.4 L1143.3 1596.3 L1145.3 1596.1 L1147.3 1596.0 L1149.3 1595.9 L1151.3 1595.8 L1153.3 1595.7 L1155.3 1595.6 L1157.3 1595.5 L1159.3 1595.4 L1161.4 1595.3 L1163.4 1595.2 L1165.4 1595.1 L1167.4 1595.0 L1169.4 1594.9 L1171.4 1594.8 L1173.4 1594.7 L1175.4 1594.6 L1177.4 1594.5 L1179.4 1594.4 L1181.4 1594.3 L1183.4 1594.3 L1185.4 1594.2 L1187.4 1594.1 L1189.4 1594.0 L1191.4 1593.9 L1193.4 1593.8 L1195.4 1593.7 L1197.4 1593.6 L1199.4 1593.5 L1201.4 1593.4 L1203.4 1593.3 L1205.4 1593.3 L1207.4 1593.2 L1209.4 1593.1 L1211.4 1593.0 L1213.4 1592.9 L1215.4 1592.8 L1217.4 1592.8 L1219.4 1592.7 L1221.4 1592.6 L1223.4 1592.5 L1225.4 1592.4 L1227.4 1592.4 L1229.4 1592.3 L1231.4 1592.2 L1233.4 1592.1 L1235.4 1592.0 L1237.4 1592.0 L1239.4 1591.9 L1241.4 1591.8 L1243.4 1591.7 L1245.4 1591.7 L1247.4 1591.6 L1249.4 1591.5 L1251.4 1591.5 L1253.4 1591.4 L1255.4 1591.3 L1257.4 1591.3 L1259.4 1591.2 L1261.4 1591.1 L1263.4 1591.1 L1265.4 1591.0 L1267.4 1590.9 L1269.4 1590.9 L1271.4 1590.8 L1273.4 1590.7 L1275.4 1590.7 L1277.4 1590.6 L1279.4 1590.6 L1281.4 1590.5 L1283.4 1590.4 L1285.4 1590.4 L1287.4 1590.3 L1289.4 1590.3 L1291.4 1590.2 L1293.4 1590.2 L1295.4 1590.1 L1297.4 1590.1 L1299.4 1590.0 L1301.4 1590.0 L1303.4 1589.9 L1305.4 1589.9 L1307.4 1589.8 L1309.4 1589.8 L1311.4 1589.7 L1313.4 1589.7 L1315.4 1589.6 L1317.4 1589.6 L1319.4 1589.5 L1321.4 1589.5 L1323.4 1589.4 L1325.4 1589.4 L1327.4 1589.3 L1329.4 1589.3 L1331.4 1589.2 L1333.4 1589.2 L1335.4 1589.1 L1337.4 1589.1 L1339.4 1589.0 L1341.4 1589.0 L1343.4 1588.9 L1345.4 1588.9 L1347.4 1588.8 L1349.4 1588.8 L1351.4 1588.7 L1353.4 1588.7 L1355.4 1588.6 L1357.4 1588.6 L1359.4 1588.5 L1361.4 1588.5 L1363.4 1588.4 L1365.4 1588.4 L1367.4 1588.3 L1369.4 1588.3 L1371.4 1588.3 L1373.4 1588.2 L1375.4 1588.2 L1377.4 1588.1 L1379.4 1588.1 L1381.4 1588.0 L1383.4 1588.0 L1385.4 1587.9 L1387.4 1587.9 L1389.4 1587.8 L1391.4 1587.8 L1393.4 1587.8 L1395.4 1587.7 L1397.4 1587.7 L1399.4 1587.6 L1401.4 1587.6 L1403.4 1587.5 L1405.4 1587.5 L1407.4 1587.5 L1409.4 1587.4 L1411.4 1587.4 L1413.4 1587.3 L1415.4 1587.3 L1417.4 1587.3 L1419.4 1587.2 L1421.4 1587.2 L1423.4 1587.1 L1425.4 1587.1 L1427.4 1587.1 L1429.5 1587.0 L1431.5 1587.0 L1433.5 1586.9 L1435.5 1586.9 L1437.5 1586.9 L1439.5 1586.8 L1441.5 1586.8 L1443.5 1586.8 L1445.5 1586.7 L1447.5 1586.7 L1449.5 1586.7 L1451.5 1586.6 L1453.5 1586.6 L1455.5 1586.6 L1457.5 1586.5 L1459.5 1586.5 L1461.5 1586.5 L1463.5 1586.4 L1465.5 1586.4 L1467.5 1586.4 L1469.5 1586.3 L1471.5 1586.3 L1473.5 1586.3 L1475.5 1586.2 L1477.5 1586.2 L1479.5 1586.2 L1481.5 1586.2 L1483.5 1586.1 L1485.5 1586.1 L1487.5 1586.1 L1489.5 1586.1 L1491.5 1586.0 L1493.5 1586.0 L1495.5 1586.0 L1497.5 1586.0 L1499.5 1585.9 L1501.5 1585.9 L1503.5 1585.9 L1505.5 1585.9 L1507.5 1585.8 L1509.5 1585.8 L1511.5 1585.8 L1513.5 1585.8 L1515.5 1585.8 L1517.5 1585.7 L1519.5 1585.7 L1521.5 1585.7 L1523.5 1585.7 L1525.5 1585.7 L1527.5 1585.7 L1529.5 1585.7 L1531.5 1585.6 L1533.5 1585.6 L1535.5 1585.6 L1537.5 1585.6 L1539.5 1585.6 L1541.5 1585.6 L1543.5 1585.6 L1545.5 1585.6 L1547.5 1585.5 L1549.5 1585.5 L1551.5 1585.5 L1553.5 1585.5 L1555.5 1585.5 L1557.5 1585.5 L1559.5 1585.5 L1561.5 1585.5 L1563.5 1585.5" stroke="#ff8080" stroke-width="14"/>
<path d="M189.5 2544.5 L217.3 2515.0 L219.3 2506.0 L221.3 2496.8 L223.3 2487.6 L225.3 2478.4 L227.3 2469.0 L229.3 2459.5 L231.3 2450.0 L233.3 2440.4 L235.3 2430.7 L237.3 2421.1 L239.3 2411.5 L241.3 2401.9 L243.3 2392.1 L245.3 2382.2 L247.3 2372.0 L249.3 2361.5 L251.3 2350.7 L253.3 2339.4 L255.3 2327.2 L257.3 2314.1 L259.3 2301.2 L261.3 2288.7 L263.3 2276.2 L265.3 2264.1 L267.3 2252.4 L269.3 2240.9 L271.3 2230.3 L273.3 2220.5 L275.3 2211.2 L277.3 2202.3 L279.3 2193.6 L281.3 2185.3 L283.3 2177.0 L285.3 2168.9 L287.3 2160.9 L289.3 2152.8 L291.3 2144.7 L293.3 2136.7 L295.3 2128.9 L297.3 2121.4 L299.3 2114.1 L301.3 2107.0 L303.3 2100.0 L305.3 2093.2 L307.3 2086.5 L309.3 2079.8 L311.3 2073.2 L313.3 2066.6 L315.3 2060.0 L317.3 2053.4 L319.3 2046.7 L321.3 2040.0 L323.3 2033.1 L325.3 2026.1 L327.3 2018.9 L329.3 2011.5 L331.3 2003.8 L333.3 1996.2 L335.3 1988.9 L337.3 1982.0 L339.3 1975.4 L341.3 1968.9 L343.3 1962.4 L345.3 1955.7 L347.3 1948.9 L349.3 1941.3 L351.3 1933.4 L353.3 1925.9 L355.3 1919.3 L357.3 1914.1 L359.3 1909.6 L361.3 1905.6 L363.3 1901.9 L365.3 1898.3 L367.3 1894.5 L369.3 1890.5 L371.3 1886.4 L373.3 1882.3 L375.3 1878.2 L377.3 1874.3 L379.3 1870.8 L381.3 1867.5 L383.3 1864.5 L385.3 1861.6 L387.3 1858.8 L389.3 1856.1 L391.3 1853.6 L393.3 1851.1 L395.3 1848.8 L397.3 1846.5 L399.3 1844.4 L401.3 1842.3 L403.3 1840.4 L405.3 1838.5 L407.3 1836.7 L409.3 1835.0 L411.3 1833.3 L413.3 1831.6 L415.3 1830.0 L417.3 1828.3 L419.3 1826.6 L421.3 1824.8 L423.3 1823.0 L425.3 1821.2 L427.3 1819.4 L429.3 1817.6 L431.3 1815.7 L433.3 1813.9 L435.3 1812.0 L437.3 1810.2 L439.3 1808.4 L441.3 1806.6 L443.3 1804.8 L445.3 1803.1 L447.3 1801.4 L449.3 1799.7 L451.3 1798.1 L453.3 1796.5 L455.3 1795.0 L457.3 1793.5 L459.3 1792.1 L461.3 1790.7 L463.3 1789.3 L465.3 1787.9 L467.3 1786.5 L469.3 1785.1 L471.3 1783.8 L473.3 1782.4 L475.3 1781.0 L477.3 1779.7 L479.3 1778.4 L481.3 1777.2 L483.3 1775.9 L485.3 1774.6 L487.3 1773.4 L489.3 1772.2 L491.3 1771.0 L493.3 1769.9 L495.3 1768.8 L497.3 1767.8 L499.3 1766.9 L501.3 1766.0 L503.3 1765.1 L505.3 1764.2 L507.3 1763.4 L509.3 1762.6 L511.3 1761.8 L513.3 1761.0 L515.3 1760.2 L517.3 1759.5 L519.3 1758.7 L521.3 1758.0 L523.3 1757.3 L525.3 1756.6 L527.3 1755.9 L529.3 1755.2 L531.3 1754.5 L533.3 1753.8 L535.3 1753.1 L537.3 1752.4 L539.3 1751.6 L541.3 1750.9 L543.3 1750.2 L545.3 1749.5 L547.3 1748.8 L549.3 1748.1 L551.3 1747.3 L553.3 1746.7 L555.4 1746.0 L557.4 1745.3 L559.4 1744.6 L561.4 1744.0 L563.4 1743.3 L565.4 1742.6 L567.4 1742.0 L569.4 1741.3 L571.4 1740.6 L573.4 1740.0 L575.4 1739.3 L577.4 1738.6 L579.4 1737.9 L581.4 1737.2 L583.4 1736.5 L585.4 1735.8 L587.4 1735.0 L589.4 1734.2 L591.4 1733.5 L593.4 1732.7 L595.4 1731.8 L597.4 1731.0 L599.4 1730.1 L601.4 1729.2 L603.4 1728.3 L605.4 1727.3 L607.4 1726.4 L609.4 1725.4 L611.4 1724.4 L613.4 1723.4 L615.4 1722.3 L617.4 1721.3 L619.4 1720.3 L621.4 1719.3 L623.4 1718.2 L625.4 1717.2 L627.4 1716.1 L629.4 1715.1 L631.4 1714.1 L633.4 1713.1 L635.4 1712.1 L637.4 1711.1 L639.4 1710.1 L641.4 1709.1 L643.4 1708.1 L645.4 1707.1 L647.4 1706.1 L649.4 1705.1 L651.4 1704.0 L653.4 1703.0 L655.4 1701.9 L657.4 1700.9 L659.4 1699.8 L661.4 1698.8 L663.4 1697.8 L665.4 1696.8 L667.4 1695.8 L669.4 1694.9 L671.4 1693.9 L673.4 1693.1 L675.4 1692.2 L677.4 1691.4 L679.4 1690.6 L681.4 1689.9 L683.4 1689.2 L685.4 1688.6 L687.4 1688.0 L689.4 1687.5 L691.4 1686.9 L693.4 1686.4 L695.4 1685.9 L697.4 1685.4 L699.4 1685.0 L701.4 1684.5 L703.4 1684.1 L705.4 1683.7 L707.4 1683.3 L709.4 1682.9 L711.4 1682.5 L713.4 1682.1 L715.4 1681.7 L717.4 1681.3 L719.4 1680.9 L721.4 1680.5 L723.4 1680.1 L725.4 1679.7 L727.4 1679.3 L729.4 1678.8 L731.4 1678.4 L733.4 1677.9 L735.4 1677.4 L737.4 1676.9 L739.4 1676.4 L741.4 1675.9 L743.4 1675.3 L745.4 1674.8 L747.4 1674.2 L749.4 1673.5 L751.4 1672.9 L753.4 1672.3 L755.4 1671.6 L757.4 1671.0 L759.4 1670.3 L761.4 1669.6 L763.4 1668.9 L765.4 1668.2 L767.4 1667.5 L769.4 1666.8 L771.4 1666.0 L773.4 1665.3 L775.4 1664.5 L777.4 1663.8 L779.4 1663.0 L781.4 1662.3 L783.4 1661.5 L785.4 1660.8 L787.4 1660.0 L789.4 1659.2 L791.4 1658.5 L793.4 1657.7 L795.4 1656.9 L797.4 1656.2 L799.4 1655.4 L801.4 1654.7 L803.4 1653.9 L805.4 1653.2 L807.4 1652.5 L809.4 1651.7 L811.4 1651.0 L813.4 1650.3 L815.4 1649.6 L817.4 1648.9 L819.4 1648.2 L821.4 1647.6 L823.4 1646.9 L825.4 1646.3 L827.4 1645.7 L829.4 1645.0 L831.4 1644.5 L833.4 1643.9 L835.4 1643.3 L837.4 1642.8 L839.4 1642.2 L841.4 1641.7 L843.4 1641.2 L845.4 1640.8 L847.4 1640.3 L849.4 1639.9 L851.4 1639.5 L853.4 1639.1 L855.4 1638.7 L857.4 1638.3 L859.4 1638.0 L861.4 1637.6 L863.4 1637.2 L865.4 1636.9 L867.4 1636.5 L869.4 1636.2 L871.4 1635.9 L873.4 1635.6 L875.4 1635.2 L877.4 1634.9 L879.4 1634.6 L881.4 1634.3 L883.4 1634.0 L885.4 1633.7 L887.4 1633.4 L889.4 1633.1 L891.4 1632.9 L893.4 1632.6 L895.4 1632.3 L897.4 1632.0 L899.4 1631.8 L901.4 1631.5 L903.4 1631.2 L905.4 1631.0 L907.4 1630.7 L909.4 1630.4 L911.4 1630.2 L913.4 1629.9 L915.4 1629.6 L917.4 1629.4 L919.4 1629.1 L921.4 1628.9 L923.4 1628.6 L925.4 1628.3 L927.4 1628.1 L929.4 1627.8 L931.4 1627.5 L933.4 1627.3 L935.4 1627.0 L937.4 1626.7 L939.4 1626.4 L941.4 1626.2 L943.4 1625.9 L945.4 1625.6 L947.4 1625.3 L949.4 1625.0 L951.4 1624.7 L953.4 1624.4 L955.4 1624.1 L957.4 1623.8 L959.4 1623.4 L961.4 1623.1 L963.4 1622.8 L965.4 1622.4 L967.4 1622.1 L969.4 1621.7 L971.4 1621.4 L973.4 1621.0 L975.4 1620.6 L977.4 1620.3 L979.4 1619.9 L981.4 1619.5 L983.4 1619.1 L985.4 1618.7 L987.4 1618.4 L989.4 1618.0 L991.4 1617.6 L993.4 1617.2 L995.4 1616.8 L997.4 1616.4 L999.4 1616.0 L1001.4 1615.7 L1003.4 1615.3 L1005.4 1614.9 L1007.4 1614.5 L1009.4 1614.1 L1011.4 1613.8 L1013.4 1613.4 L1015.4 1613.0 L1017.4 1612.7 L1019.4 1612.3 L1021.4 1611.9 L1023.4 1611.6 L1025.4 1611.2 L1027.4 1610.9 L1029.4 1610.6 L1031.4 1610.3 L1033.4 1609.9 L1035.4 1609.6 L1037.4 1609.3 L1039.4 1609.0 L1041.4 1608.7 L1043.4 1608.5 L1045.4 1608.2 L1047.4 1607.9 L1049.4 1607.7 L1051.4 1607.4 L1053.4 1607.2 L1055.4 1606.9 L1057.4 1606.7 L1059.4 1606.5 L1061.4 1606.2 L1063.4 1606.0 L1065.4 1605.7 L1067.4 1605.5 L1069.4 1605.3 L1071.4 1605.0 L1073.4 1604.8 L1075.4 1604.5 L1077.4 1604.3 L1079.4 1604.1 L1081.4 1603.9 L1083.4 1603.6 L1085.4 1603.4 L1087.4 1603.2 L1089.4 1603.0 L1091.4 1602.7 L1093.4 1602.5 L1095.4 1602.3 L1097.4 1602.1 L1099.4 1601.8 L1101.4 1601.6 L1103.4 1601.4 L1105.4 1601.2 L1107.4 1601.0 L1109.4 1600.8 L1111.4 1600.6 L1113.4 1600.4 L1115.4 1600.1 L1117.4 1599.9 L1119.4 1599.7 L1121.4 1599.5 L1123.4 1599.3 L1125.4 1599.1 L1127.4 1598.9 L1129.4 1598.7 L1131.4 1598.5 L1133.4 1598.3 L1135.4 1598.1 L1137.4 1597.9 L1139.4 1597.7 L1141.4 1597.5 L1143.4 1597.4 L1145.4 1597.2 L1147.4 1597.0 L1149.4 1596.8 L1151.4 1596.6 L1153.4 1596.4 L1155.4 1596.2 L1157.4 1596.0 L1159.4 1595.8 L1161.4 1595.7 L1163.4 1595.5 L1165.4 1595.3 L1167.4 1595.1 L1169.4 1594.9 L1171.4 1594.8 L1173.4 1594.6 L1175.4 1594.4 L1177.4 1594.2 L1179.4 1594.1 L1181.4 1593.9 L1183.4 1593.7 L1185.4 1593.5 L1187.4 1593.4 L1189.4 1593.2 L1191.4 1593.0 L1193.4 1592.9 L1195.4 1592.7 L1197.4 1592.5 L1199.4 1592.4 L1201.4 1592.2 L1203.4 1592.0 L1205.4 1591.9 L1207.4 1591.7 L1209.4 1591.6 L1211.4 1591.4 L1213.4 1591.2 L1215.4 1591.1 L1217.4 1590.9 L1219.4 1590.8 L1221.4 1590.6 L1223.4 1590.5 L1225.4 1590.3 L1227.5 1590.1 L1229.5 1590.0 L1231.5 1589.8 L1233.5 1589.7 L1235.5 1589.5 L1237.5 1589.4 L1239.5 1589.2 L1241.5 1589.1 L1243.5 1588.9 L1245.5 1588.8 L1247.5 1588.6 L1249.5 1588.5 L1251.5 1588.4 L1253.5 1588.2 L1255.5 1588.1 L1257.5 1587.9 L1259.5 1587.8 L1261.5 1587.6 L1263.5 1587.5 L1265.5 1587.4 L1267.5 1587.2 L1269.5 1587.1 L1271.5 1586.9 L1273.5 1586.8 L1275.5 1586.7 L1277.5 1586.5 L1279.5 1586.4 L1281.5 1586.2 L1283.5 1586.1 L1285.5 1586.0 L1287.5 1585.8 L1289.5 1585.7 L1291.5 1585.6 L1293.5 1585.4 L1295.5 1585.3 L1297.5 1585.2 L1299.5 1585.0 L1301.5 1584.9 L1303.5 1584.8 L1305.5 1584.6 L1307.5 1584.5 L1309.5 1584.4 L1311.5 1584.2 L1313.5 1584.1 L1315.5 1584.0 L1317.5 1583.8 L1319.5 1583.7 L1321.5 1583.6 L1323.5 1583.4 L1325.5 1583.3 L1327.5 1583.2 L1329.5 1583.0 L1331.5 1582.9 L1333.5 1582.7 L1335.5 1582.6 L1337.5 1582.5 L1339.5 1582.3 L1341.5 1582.2 L1343.5 1582.1 L1345.5 1581.9 L1347.5 1581.8 L1349.5 1581.6 L1351.5 1581.5 L1353.5 1581.4 L1355.5 1581.2 L1357.5 1581.1 L1359.5 1581.0 L1361.5 1580.8 L1363.5 1580.7 L1365.5 1580.6 L1367.5 1580.4 L1369.5 1580.3 L1371.5 1580.2 L1373.5 1580.0 L1375.5 1579.9 L1377.5 1579.8 L1379.5 1579.6 L1381.5 1579.5 L1383.5 1579.4 L1385.5 1579.2 L1387.5 1579.1 L1389.5 1579.0 L1391.5 1578.8 L1393.5 1578.7 L1395.5 1578.6 L1397.5 1578.5 L1399.5 1578.3 L1401.5 1578.2 L1403.5 1578.1 L1405.5 1578.0 L1407.5 1577.8 L1409.5 1577.7 L1411.5 1577.6 L1413.5 1577.5 L1415.5 1577.4 L1417.5 1577.2 L1419.5 1577.1 L1421.5 1577.0 L1423.5 1576.9 L1425.5 1576.8 L1427.5 1576.7 L1429.5 1576.6 L1431.5 1576.5 L1433.5 1576.3 L1435.5 1576.2 L1437.5 1576.1 L1439.5 1576.0 L1441.5 1575.9 L1443.5 1575.8 L1445.5 1575.7 L1447.5 1575.6 L1449.5 1575.5 L1451.5 1575.4 L1453.5 1575.3 L1455.5 1575.2 L1457.5 1575.1 L1459.5 1575.0 L1461.5 1575.0 L1463.5 1574.9 L1465.5 1574.8 L1467.5 1574.7 L1469.5 1574.6 L1471.5 1574.5 L1473.5 1574.5 L1475.5 1574.4 L1477.5 1574.3 L1479.5 1574.2 L1481.5 1574.1 L1483.5 1574.1 L1485.5 1574.0 L1487.5 1573.9 L1489.5 1573.9 L1491.5 1573.8 L1493.5 1573.8 L1495.5 1573.7 L1497.5 1573.6 L1499.5 1573.6 L1501.5 1573.5 L1503.5 1573.5 L1505.5 1573.4 L1507.5 1573.4 L1509.5 1573.3 L1511.5 1573.3 L1513.5 1573.3 L1515.5 1573.2 L1517.5 1573.2 L1519.5 1573.1 L1521.5 1573.1 L1523.5 1573.1 L1525.5 1573.1 L1527.5 1573.0 L1529.5 1573.0 L1531.5 1573.0 L1533.5 1573.0 L1535.5 1573.0 L1537.5 1572.9 L1539.5 1572.9 L1541.5 1572.9 L1543.5 1572.9 L1545.5 1572.9 L1547.5 1572.9 L1549.5 1572.9 L1551.5 1572.8 L1553.5 1572.8 L1555.5 1572.8 L1557.5 1572.8 L1559.5 1572.8 L1561.5 1572.8 L1563.5 1572.8" stroke="#000000" stroke-width="14"/>
</g>
<rect x="1047.5" y="1526.6" width="482.9" height="690.4" fill="#fff" stroke="#262626" stroke-width="2.7"/>
<path d="M1060.4 1558.2H1187.7" stroke="#0000ff" stroke-width="14" stroke-dasharray="51 49"/>
<text x="1195.3" y="1572.5" class="lg" style="font-size:37.0px;letter-spacing:0.65px">APFNet[0.905]</text>
<path d="M1060.4 1610.5H1187.7" stroke="#ff0000" stroke-width="14"/>
<text x="1195.3" y="1624.8" class="lg" style="font-size:37.0px;letter-spacing:0.65px">MSIFNet[0.904]</text>
<path d="M1060.4 1662.8H1187.7" stroke="#808000" stroke-width="14"/>
<text x="1195.3" y="1677.1" class="lg" style="font-size:37.0px;letter-spacing:0.65px">M5L[0.896]</text>
<path d="M1060.4 1715.1H1187.7" stroke="#0000ff" stroke-width="14"/>
<text x="1195.3" y="1729.4" class="lg" style="font-size:37.0px;letter-spacing:0.65px">MANet[0.894]</text>
<path d="M1060.4 1767.4H1187.7" stroke="#008080" stroke-width="14"/>
<text x="1195.3" y="1781.7" class="lg" style="font-size:37.0px;letter-spacing:0.65px">CAT[0.889]</text>
<path d="M1060.4 1819.7H1187.7" stroke="#00ffff" stroke-width="14"/>
<text x="1195.3" y="1834.0" class="lg" style="font-size:37.0px;letter-spacing:0.65px">HDINet[0.888]</text>
<path d="M1060.4 1871.9H1187.7" stroke="#00ff00" stroke-width="14"/>
<text x="1195.3" y="1886.2" class="lg" style="font-size:37.0px;letter-spacing:0.65px">MACNet[0.885]</text>
<path d="M1060.4 1924.2H1187.7" stroke="#ff0000" stroke-width="14" stroke-dasharray="51 49"/>
<text x="1195.3" y="1938.5" class="lg" style="font-size:37.0px;letter-spacing:0.65px">SGT[0.851]</text>
<path d="M1060.4 1976.5H1187.7" stroke="#ff00ff" stroke-width="14"/>
<text x="1195.3" y="1990.8" class="lg" style="font-size:37.0px;letter-spacing:0.65px">MDNet+RGBT[0.8]</text>
<path d="M1060.4 2028.8H1187.7" stroke="#800080" stroke-width="14"/>
<text x="1195.3" y="2043.1" class="lg" style="font-size:37.0px;letter-spacing:0.65px">DAT[0.771]</text>
<path d="M1060.4 2081.1H1187.7" stroke="#ffff00" stroke-width="14"/>
<text x="1195.3" y="2095.4" class="lg" style="font-size:37.0px;letter-spacing:0.65px">ECO[0.77]</text>
<path d="M1060.4 2133.4H1187.7" stroke="#ff8080" stroke-width="14"/>
<text x="1195.3" y="2147.7" class="lg" style="font-size:37.0px;letter-spacing:0.65px">RT-MDNet[0.745]</text>
<path d="M1060.4 2185.7H1187.7" stroke="#000000" stroke-width="14"/>
<text x="1195.3" y="2200.0" class="lg" style="font-size:37.0px;letter-spacing:0.65px">ADNet[0.718]</text>
<text x="189.5" y="2603.5" text-anchor="middle" class="tk">0</text>
<text x="464.3" y="2603.5" text-anchor="middle" class="tk">5</text>
<text x="739.1" y="2603.5" text-anchor="middle" class="tk">10</text>
<text x="1013.9" y="2603.5" text-anchor="middle" class="tk">15</text>
<text x="1288.7" y="2603.5" text-anchor="middle" class="tk">20</text>
<text x="1563.5" y="2603.5" text-anchor="middle" class="tk">25</text>
<text x="169.0" y="2560.5" text-anchor="end" class="tk">0</text>
<text x="169.0" y="2455.4" text-anchor="end" class="tk">0.1</text>
<text x="169.0" y="2350.3" text-anchor="end" class="tk">0.2</text>
<text x="169.0" y="2245.2" text-anchor="end" class="tk">0.3</text>
<text x="169.0" y="2140.1" text-anchor="end" class="tk">0.4</text>
<text x="169.0" y="2035.0" text-anchor="end" class="tk">0.5</text>
<text x="169.0" y="1929.9" text-anchor="end" class="tk">0.6</text>
<text x="169.0" y="1824.8" text-anchor="end" class="tk">0.7</text>
<text x="169.0" y="1719.7" text-anchor="end" class="tk">0.8</text>
<text x="169.0" y="1614.6" text-anchor="end" class="tk">0.9</text>
<text x="169.0" y="1509.5" text-anchor="end" class="tk">1</text>
<text x="876.5" y="1473.4" text-anchor="middle" class="ti" style="font-size:46.5px">Precision Plot</text>
<text x="876.5" y="2704.9" text-anchor="middle" class="xl" style="font-size:84.7px">Location error threshold</text>
<text transform="translate(78.1 2019.0) rotate(-90)" x="0" y="0" text-anchor="middle" class="xl">Precision</text>
</svg></body></html>
